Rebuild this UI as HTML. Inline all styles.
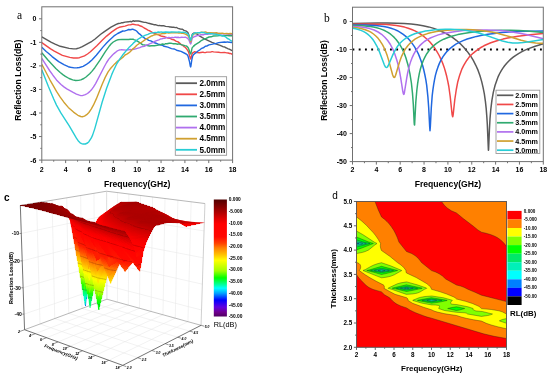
<!DOCTYPE html>
<html><head><meta charset="utf-8"><title>Reflection loss figure</title>
<style>html,body{margin:0;padding:0;background:#fff;}svg{display:block;filter:blur(0.3px);}</style></head>
<body><svg width="550" height="379" viewBox="0 0 550 379">
<rect width="550" height="379" fill="#fff"/>
<clipPath id="ca"><rect x="41.80" y="6.80" width="190.80" height="153.30"/></clipPath>
<g clip-path="url(#ca)" fill="none" stroke-linejoin="round">
<path d="M41.8 36.9l9.6 5.4 3.7 1.8 5.1 2.2 8.9 2.1 4.4 .5 2.9-.2 3-.8 2.9-1.3 5.9-3.2 3.7-2.1 2.9-2.1 5.9-4.9 3.7-2.7 6.6-4.4 5.2-2.8 2.2-.9 1.5-.1 1.5-.6 1.4-.1 2.2-.6 3.7-.3 1.5-.5 .7 .4 .8 0 1.4-.9 1.5 .4 .8-.2 2.9 0 1.5 .2 4.4 1.2 1.5 0 2.9 .9 3.7 .9 1.5 .5 2.2 .1 2.2 .8 1.5-.2 1.4 .4 3 0 1.5 .6 2.9 .2 1.5 .4 .7 0 1.5 .3 1.5-.2 1.4 .5 1.5-.1 1.5 .9 2.2 .6 2.2 .3 1.5 1.1 2.2 .7 1.7 1.4 1.2 3.2 1.2 4.7 .3 .6 .3-.3 1.2-5.9 .7-1.1 .7-.5 .8-.2 .1 .2 .6 .2 .8 .1 .7 .3 2.9 2.1 3 1.8 .7 .3 1.5 1.1 1.5 .5 5.9 2.8 1.4 .4 3 1.4 3.7 1.1 2.9 1.4 .8 .2 .7 0 1.5 .9 .7 .2 1.5 .9 1.5 .4 2.9 1.6" stroke="#5a5a5a" stroke-width="1.4"/>
<path d="M41.8 42.6l8.8 6.3 3.7 2.3 8.1 4.2 7.4 2 3.7 .6 3.7 0 2.2-.3 5.1-1.9 3-1.8 2.9-2.2 6.7-6.4 5.1-5.2 4.4-4.1 5.2-4.2 5.1-3.5 2.3-1.1 5.8-1.2 3.7-1.2 1.5 0 2.2-.6 .7 0 3 .6 2.2 .1 .7 .3 1.5 .7 1.5 .5 2.2 1.5 2.2 1.1 1.5 1 2.2 .9 2.2 1.3 2.2 1.1 3 .9 2.2 1.2 2.2 .8 2.9 .5 2.2 .9 3 .7 1.5 .8 2.2 .5 2.2 1.4 2.2 .8 2.9 2.5 1.5 .8 1.5 1.4 1.5 .9 1.8 2.4 1.2 2 1.8 6.5 .3 .5 .3-.2 1.2-5.1 .6-.5 .2-.6 .6 0 .1-.2 .5-.2 .3-.5 2.8 .9 2.2 .2 3-.4 .7 0 1.5 .3 .7 0 1.5-.5 3.7 0 1.5-.5 .7 0 .7 .3 5.2 .3 2.2 .4 3.7-.2 2.2 .5 1.5 .1 1.5 .5 .7 0 .7 .2 .8 .5 .7 0" stroke="#f04848" stroke-width="1.4"/>
<path d="M41.8 47.3l4.4 4.2 2.2 1.7 3.7 3.4 6.6 5 5.2 3.1 4.4 2 2.2 .6 3.7 .6 3-.1 2.2-.3 3.7-1.2 2.9-1.6 2.9-2.1 3-2.6 4.4-4.8 6.6-8.1 3.7-4.1 3-3.1 4.4-4 3.7-2.4 5.1-2.5 1.5 .1 3-.9 1.4-.7 1.5 .2 2.2-.5 .7 .1 3 1.4 .7 .5 2.2 2.5 1.5 1 2.2 2.1 2.2 1.6 1.5 .3 2.2 1.7 2.2 .5 3.7 1.9 1.5 .4 2.2 1 1.5 .3 1.4 .6 1.5 .3 1.5 .9 3.7 .8 3.7 1.5 2.9 .4 2.2 1.2 4.4 1.2 5.2 2.6 .7 .5 .8 1 .5 1.3 1.2 4.4 .9 5 .3 .7 .3-.7 .9-6.3 1-4.3 .1 .1 .9-1.4 .5-.2 .7-.8 1.5-1 1.5-1.3 1.4-.8 2.3-1.9 2.2-.8 1.4-1.2 1.5-.3 2.2-1.1 3.7-.8 .7-.3 2.3-.2 2.9-1 5.9-.6 1.5 .2 1.4-.3 1.5 .4 1.5 0 .7 .2 1.5-.3" stroke="#2068e0" stroke-width="1.4"/>
<path d="M41.8 52.7l5.9 7 8.1 8.8 4.4 4 3 2.4 2.2 1.5 3.7 2.1 3.6 1.4 3 .6 2.9-.1 2.2-.5 3-1.4 2.2-1.5 3.7-3.2 2.2-2.4 2.9-3.7 5.2-7.5 5.2-8.4 4.4-6.1 1.4-1.7 2.3-2 2.9-1.6 1.5-.6 4.4-.4 2.9 .1 1.5-.1 2.2 .1 1.5-.2 1.5 0 .7-.2 .7 .1 .8 .4 2.2 .8 3.7 2.2 2.9 2.3 1.5 0 .7 .3 1.5 .1 3 .7 2.2-.3 2.9 0 5.2-.8 2.9-.9 1.5 .5 1.5-.8 1.4 .1 2.2-.5 2.3 0 1.4 .4 3 0 1.4 .6 1.5-.4 3 1 1.4 .2 1.5 .6 1.5 .2 .7 .4 1.3 1.4 .9 2.3 .6 2 .6 1.5 .3 .4 .3-.5 1.2-5.5 1.5-1.8 .5-.5 .2 .1 .7-.9 4.4-2.7 2.3-1.8 2.9-1.5 1.5-.4 2.9-1.4 2.2-.2 2.2-.8 4.5-.1 1.4-.6 3 .5 1.5-.3 1.4 .1 1.5-.2 2.2 .3 2.2-.2 1.5 .3" stroke="#30aa70" stroke-width="1.4"/>
<path d="M41.8 58.4l8.1 12.6 3 4.2 3.6 4.7 4.5 4.6 2.9 2.4 2.9 2 5.9 3.3 3.7 1.9 3 1.1 1.4 .4 1.5 0 3-.9 2.2-1.2 2.2-1.9 2.2-2.4 1.5-2 2.2-3.6 8.8-17.1 2.2-4 2.2-3.4 3.7-4.1 1.5-1.4 2.9-2.4 2.3-1.2 1.4-.1 .8-.2 5.1 .4 3.7-.6 .7 .2 3-.3 5.9-1.8 1.5-.7 2.9-.6 2.9-1.5 1.5-.3 .8-.7 1.4-.4 .8-.5 1.4-.3 2.2-1.4 3.7-1.3 1.5-.9 1.5-.1 1.5-.5 1.4-.1 1.5-.7 1.5 0 .7-.2 .7 .1 .8 .3 .7 0 1.5-.3 1.5 .1 1.4-.5 .8 .1 .7 .3 1.5-.2 1.5 .3 2.2-.4 1.4 .2 2.3-.3 1.4 .9 .7 .1 .3 .7 .6 .3 1.8 4.4 .3 .4 .3-.3 .3-1 .9-4 .6-1 .5-.2 .4-.4 .2 .1 .5-.6 .7 0 2.2-.9 2.2-.3 1.5-.6 1.5-.1 1.5 .1 1.4-.5 2.3 .1 1.4-.3 5.2-.7 1.5 .3 3.6-.1 1.5 .4 1.5-.3 1.5 .2 1.4-.1 .8 .2 2.9 .3 1.5-.1 2.2 .2" stroke="#b070ee" stroke-width="1.4"/>
<path d="M41.8 64.2l8.1 15.6 6.6 11.6 3.7 5.8 3.7 5 4.4 5.2 5.2 4.7 4.4 3.2 2.9 1.2 1.5 .2 2.2-.6 2.2-1.4 2.2-2.2 2.3-3.3 2.2-4 2.9-6.3 5.9-14.7 3-6.8 2.9-5.5 2.2-3.1 4.4-4.9 3-2.8 1.5-1 4.4-3.5 1.4-1.6 2.3-1.1 1.4-1 1.5-1.2 2.2-2.5 1.5-1 2.9-2.9 2.2-1.6 2.3-1.2 3.6-2.6 6.7-4 .7-.1 1.5-.8 2.2-.5 1.5 .1 1.4-.5 1.5 0 2.2-.6 2.2 0 2.2-.9 1.5 .4 3-.2 1.4 .1 3-.3 2.9 .4 1.5-.1 1.5 .5 1.4 0 2.3 .7 2.1 1.3 .6 .6 1.2 2.2 1.2 3.7 .3-.5 .9-4.1 .6-1.7 .4-.6 .4-.1 .6-1 .5 0 .7-.4 2.2-.4 .8-.4 2.2 0 1.5-.5 2.2 .3 1.4-.5 .8 .1 1.5 .7 2.2-.2 4.4 .4 2.2-.2 2.2 .6 3.7-.2 2.2 .4 2.2-.2 1.5 .4 2.2-.4 2.2 .4" stroke="#d0a030" stroke-width="1.4"/>
<path d="M41.8 69.7l6.6 16.9 5.2 12.2 2.9 6.3 4.5 8.1 8.1 12.4 7.3 12.6 2.2 3.1 1.5 1.5 1.5 .8 1.5 .4 2.2 0 2.2-1 1.4-1.3 2.3-3.5 1.4-3.1 2.2-6.5 7.4-26.6 4.4-13.7 5.2-13.9 1.5-3.4 3.6-7.5 3-4.6 2.9-4.1 6.7-7.9 2.9-2.7 1.5-1.6 4.4-3.6 1.5-.8 1.5-1.2 1.4-.4 2.2-1.2 3-1 1.5-.8 1.4-.5 4.4-.6 1.5 .1 1.5-.6 1.5 .3 1.4-.4 .8 .3 2.2 .1 1.5-.3 4.4 .2 1.5-.3 5.8 .2 1.5-.2 3 .5 1.4-.2 2.3 .4 1.4 .7 1.6 1.3 1.8 5.4 .3 .5 1.5-4.9 .7-1.5 .8-.3 1.4-.9 .8-.1 .7 .1 1.5-.2 1.4 .1 1.5-.3 3 0 1.4 .6 2.3 .6 1.4-.6 1.5 .7 1.5-.1 2.2 .4 2.2 .2 1.5 .5 2.2 .3 2.9 .9 .8 0 2.2 1.2 1.4 1.3 1.5 .6 1.5 1.2 2.2 1.2" stroke="#28cdd5" stroke-width="1.4"/>
</g>
<rect x="41.8" y="6.8" width="190.8" height="153.3" fill="none" stroke="#707070" stroke-width="1"/>
<line x1="41.8" y1="160.1" x2="41.8" y2="163.1" stroke="#707070" stroke-width="1"/>
<text x="41.8" y="171.8" font-family="'Liberation Sans', Arial, sans-serif" font-size="7" font-weight="bold" text-anchor="middle" fill="#000">2</text>
<line x1="53.72" y1="160.1" x2="53.72" y2="161.7" stroke="#707070" stroke-width="1"/>
<line x1="65.65" y1="160.1" x2="65.65" y2="163.1" stroke="#707070" stroke-width="1"/>
<text x="65.65" y="171.8" font-family="'Liberation Sans', Arial, sans-serif" font-size="7" font-weight="bold" text-anchor="middle" fill="#000">4</text>
<line x1="77.58" y1="160.1" x2="77.58" y2="161.7" stroke="#707070" stroke-width="1"/>
<line x1="89.5" y1="160.1" x2="89.5" y2="163.1" stroke="#707070" stroke-width="1"/>
<text x="89.5" y="171.8" font-family="'Liberation Sans', Arial, sans-serif" font-size="7" font-weight="bold" text-anchor="middle" fill="#000">6</text>
<line x1="101.42" y1="160.1" x2="101.42" y2="161.7" stroke="#707070" stroke-width="1"/>
<line x1="113.35" y1="160.1" x2="113.35" y2="163.1" stroke="#707070" stroke-width="1"/>
<text x="113.35" y="171.8" font-family="'Liberation Sans', Arial, sans-serif" font-size="7" font-weight="bold" text-anchor="middle" fill="#000">8</text>
<line x1="125.28" y1="160.1" x2="125.28" y2="161.7" stroke="#707070" stroke-width="1"/>
<line x1="137.2" y1="160.1" x2="137.2" y2="163.1" stroke="#707070" stroke-width="1"/>
<text x="137.2" y="171.8" font-family="'Liberation Sans', Arial, sans-serif" font-size="7" font-weight="bold" text-anchor="middle" fill="#000">10</text>
<line x1="149.12" y1="160.1" x2="149.12" y2="161.7" stroke="#707070" stroke-width="1"/>
<line x1="161.05" y1="160.1" x2="161.05" y2="163.1" stroke="#707070" stroke-width="1"/>
<text x="161.05" y="171.8" font-family="'Liberation Sans', Arial, sans-serif" font-size="7" font-weight="bold" text-anchor="middle" fill="#000">12</text>
<line x1="172.98" y1="160.1" x2="172.98" y2="161.7" stroke="#707070" stroke-width="1"/>
<line x1="184.9" y1="160.1" x2="184.9" y2="163.1" stroke="#707070" stroke-width="1"/>
<text x="184.9" y="171.8" font-family="'Liberation Sans', Arial, sans-serif" font-size="7" font-weight="bold" text-anchor="middle" fill="#000">14</text>
<line x1="196.82" y1="160.1" x2="196.82" y2="161.7" stroke="#707070" stroke-width="1"/>
<line x1="208.75" y1="160.1" x2="208.75" y2="163.1" stroke="#707070" stroke-width="1"/>
<text x="208.75" y="171.8" font-family="'Liberation Sans', Arial, sans-serif" font-size="7" font-weight="bold" text-anchor="middle" fill="#000">16</text>
<line x1="220.68" y1="160.1" x2="220.68" y2="161.7" stroke="#707070" stroke-width="1"/>
<line x1="232.6" y1="160.1" x2="232.6" y2="163.1" stroke="#707070" stroke-width="1"/>
<text x="232.6" y="171.8" font-family="'Liberation Sans', Arial, sans-serif" font-size="7" font-weight="bold" text-anchor="middle" fill="#000">18</text>
<line x1="39" y1="18.8" x2="41.8" y2="18.8" stroke="#707070" stroke-width="1"/>
<text x="36.4" y="21.3" font-family="'Liberation Sans', Arial, sans-serif" font-size="7" font-weight="bold" text-anchor="end" fill="#000">0</text>
<line x1="40.3" y1="30.58" x2="41.8" y2="30.58" stroke="#707070" stroke-width="1"/>
<line x1="39" y1="42.35" x2="41.8" y2="42.35" stroke="#707070" stroke-width="1"/>
<text x="36.4" y="44.85" font-family="'Liberation Sans', Arial, sans-serif" font-size="7" font-weight="bold" text-anchor="end" fill="#000">-1</text>
<line x1="40.3" y1="54.12" x2="41.8" y2="54.12" stroke="#707070" stroke-width="1"/>
<line x1="39" y1="65.9" x2="41.8" y2="65.9" stroke="#707070" stroke-width="1"/>
<text x="36.4" y="68.4" font-family="'Liberation Sans', Arial, sans-serif" font-size="7" font-weight="bold" text-anchor="end" fill="#000">-2</text>
<line x1="40.3" y1="77.67" x2="41.8" y2="77.67" stroke="#707070" stroke-width="1"/>
<line x1="39" y1="89.45" x2="41.8" y2="89.45" stroke="#707070" stroke-width="1"/>
<text x="36.4" y="91.95" font-family="'Liberation Sans', Arial, sans-serif" font-size="7" font-weight="bold" text-anchor="end" fill="#000">-3</text>
<line x1="40.3" y1="101.22" x2="41.8" y2="101.22" stroke="#707070" stroke-width="1"/>
<line x1="39" y1="113" x2="41.8" y2="113" stroke="#707070" stroke-width="1"/>
<text x="36.4" y="115.5" font-family="'Liberation Sans', Arial, sans-serif" font-size="7" font-weight="bold" text-anchor="end" fill="#000">-4</text>
<line x1="40.3" y1="124.78" x2="41.8" y2="124.78" stroke="#707070" stroke-width="1"/>
<line x1="39" y1="136.55" x2="41.8" y2="136.55" stroke="#707070" stroke-width="1"/>
<text x="36.4" y="139.05" font-family="'Liberation Sans', Arial, sans-serif" font-size="7" font-weight="bold" text-anchor="end" fill="#000">-5</text>
<line x1="40.3" y1="148.33" x2="41.8" y2="148.33" stroke="#707070" stroke-width="1"/>
<line x1="39" y1="160.1" x2="41.8" y2="160.1" stroke="#707070" stroke-width="1"/>
<text x="36.4" y="162.6" font-family="'Liberation Sans', Arial, sans-serif" font-size="7" font-weight="bold" text-anchor="end" fill="#000">-6</text>
<text x="137.2" y="187.2" font-family="'Liberation Sans', Arial, sans-serif" font-size="8.6" font-weight="bold" text-anchor="middle" fill="#000">Frequency(GHz)</text>
<text x="21.4" y="80.2" font-family="'Liberation Sans', Arial, sans-serif" font-size="8.6" font-weight="bold" text-anchor="middle" fill="#000" transform="rotate(-90 21.4 80.2)">Reflection Loss(dB)</text>
<text x="17" y="18.7" font-family="'Liberation Serif', 'Times New Roman', serif" font-size="11.5" text-anchor="start" fill="#000">a</text>
<rect x="175.3" y="76.7" width="51.3" height="78.6" fill="#fff" stroke="#9a9a9a" stroke-width="0.9"/>
<line x1="175.9" y1="83.2" x2="197" y2="83.2" stroke="#5a5a5a" stroke-width="1.8"/>
<text x="199.4" y="85.95" font-family="'Liberation Sans', Arial, sans-serif" font-size="8.2" font-weight="bold" text-anchor="start" fill="#000">2.0mm</text>
<line x1="175.9" y1="94.3" x2="197" y2="94.3" stroke="#f04848" stroke-width="1.8"/>
<text x="199.4" y="97.05" font-family="'Liberation Sans', Arial, sans-serif" font-size="8.2" font-weight="bold" text-anchor="start" fill="#000">2.5mm</text>
<line x1="175.9" y1="105.4" x2="197" y2="105.4" stroke="#2068e0" stroke-width="1.8"/>
<text x="199.4" y="108.15" font-family="'Liberation Sans', Arial, sans-serif" font-size="8.2" font-weight="bold" text-anchor="start" fill="#000">3.0mm</text>
<line x1="175.9" y1="116.5" x2="197" y2="116.5" stroke="#30aa70" stroke-width="1.8"/>
<text x="199.4" y="119.25" font-family="'Liberation Sans', Arial, sans-serif" font-size="8.2" font-weight="bold" text-anchor="start" fill="#000">3.5mm</text>
<line x1="175.9" y1="127.6" x2="197" y2="127.6" stroke="#b070ee" stroke-width="1.8"/>
<text x="199.4" y="130.35" font-family="'Liberation Sans', Arial, sans-serif" font-size="8.2" font-weight="bold" text-anchor="start" fill="#000">4.0mm</text>
<line x1="175.9" y1="138.7" x2="197" y2="138.7" stroke="#d0a030" stroke-width="1.8"/>
<text x="199.4" y="141.45" font-family="'Liberation Sans', Arial, sans-serif" font-size="8.2" font-weight="bold" text-anchor="start" fill="#000">4.5mm</text>
<line x1="175.9" y1="149.8" x2="197" y2="149.8" stroke="#28cdd5" stroke-width="1.8"/>
<text x="199.4" y="152.55" font-family="'Liberation Sans', Arial, sans-serif" font-size="8.2" font-weight="bold" text-anchor="start" fill="#000">5.0mm</text>
<clipPath id="cb"><rect x="352.50" y="7.20" width="190.80" height="154.40"/></clipPath>
<line x1="352.45" y1="49.52" x2="543.3" y2="49.52" stroke="#000" stroke-width="1.8" stroke-dasharray="1.9 4.35"/>
<g clip-path="url(#cb)" fill="none" stroke-linejoin="round">
<path d="M352.5 23.6l25.1-.5 10.1 0 8.7 .1 7.8 .4 6.9 .5 6.2 .7 5.7 .9 5.6 1.2 5.2 1.5 4.9 1.8 4.7 2 4.4 2.3 4.3 2.7 4.2 3.1 3.8 3.3 3.6 3.7 3.5 4.1 3.2 4.3 2.9 4.7 2.5 4.9 2.3 5.1 1.9 5.3 1.7 5.9 1.4 6.1 1.2 5.9 1.1 7.7 .8 7.3 .6 7.8 .5 7.8 1.1 26.1 .2-.8 .8-19.6 .6-11.1 .8-9.4 1.1-9 1.4-8 1.8-7.1 2.1-6.1 1.2-3.1 1.3-2.6 1.6-2.9 1.6-2.5 1.7-2.4 1.9-2.3 2.1-2.2 2.2-2.1 2.4-1.9 2.6-1.9 2.7-1.7 3-1.7 3-1.5 3.4-1.5 7.3-2.7 8.1-2.4" stroke="#5a5a5a" stroke-width="1.5"/>
<path d="M352.5 24.2l16.1-.3 12.9 .3 5.4 .3 4.9 .4 4.6 .6 4.2 .7 3.9 .9 3.7 1.1 3.5 1.3 3.3 1.4 3.2 1.7 3 1.9 2.9 2.2 2.7 2.3 2.9 2.8 2.5 3 2.4 3.1 2.2 3.4 2.1 3.7 1.9 3.9 1.8 4.1 1.6 4.4 1.2 4.1 1.3 4.8 1.1 5 1 5.2 1.4 10 1.9 18 .5 2.2 .2 0 .1-.5 .3-1.9 1.6-14.8 1.5-10 1.5-7.8 1.8-6.3 1.3-3.7 1.2-3.1 1.5-2.9 1.6-2.9 1.7-2.6 1.9-2.6 2.1-2.3 2.1-2 2.4-2 2.7-2 2.8-1.8 3-1.7 3.4-1.6 3.5-1.4 3.8-1.3 4-1.2 4.4-1.2 4.7-1 10.3-1.8 11.9-1.5 13.4-1.2" stroke="#f04848" stroke-width="1.5"/>
<path d="M352.5 24.9l12.7 0 10.2 .5 4.5 .5 3.9 .6 3.7 .7 3.5 1 3.4 1.2 3 1.3 2.8 1.6 2.7 1.8 2.6 2 2.4 2.2 2.2 2.4 2.2 2.9 2.1 3 1.9 3.3 1.8 3.4 1.7 4.1 1.4 3.8 1.5 4.6 1.1 4.2 1.1 5 1 5.1 .8 5.3 1.2 11.5 .8 10.8 1 19.4 .3 3.7 .3-3.7 1-19.4 .9-12.1 .7-5.7 .8-5.6 .8-4.5 .9-4.4 1.3-4.7 1.3-3.8 1.4-3.5 1.7-3.6 1.9-3.2 2.1-2.9 2.2-2.6 2.6-2.5 2.9-2.3 3.1-2.1 3.4-1.8 3.8-1.8 4.1-1.6 4.5-1.3 4.9-1.3 5.3-1.1 6-1 6.5-.9 7.2-.8 7.6-.6 8.2-.5 8.6-.3 17.3-.2" stroke="#2068e0" stroke-width="1.5"/>
<path d="M352.5 25.6l9.5 .2 8 .8 3.5 .5 3.2 .7 3 .8 2.7 1 2.7 1.2 2.4 1.3 2.4 1.6 2.2 1.8 2.1 1.9 1.9 2.1 1.9 2.5 1.8 2.6 1.6 2.7 1.5 3.1 1.5 3.3 1.4 3.8 2.2 7.5 1.9 8.7 1.5 9.3 1.1 10.4 .8 10.9 .9 18.6 .2 1.9 .2 .2 1.2-22.9 1-11.6 .8-6.7 .8-5.2 .9-5 1.1-4.6 1.3-4.2 1.6-4.3 1.6-3.4 1.9-3.4 2.1-3 2.2-2.6 2.6-2.5 2.8-2.2 3.4-2.2 3.8-2 4.3-1.7 4.6-1.5 5.2-1.4 5.8-1.1 6.3-1 6.9-.8 7.9-.7 8.5-.4 8.6-.3 8.7 0 8.5 .3 8.2 .4 8.1 .7 8 .9" stroke="#30aa70" stroke-width="1.5"/>
<path d="M352.5 26.5l6.5 .3 5.8 .7 4.9 1.1 4.4 1.4 4 2 3.5 2.3 3.2 2.9 2.9 3.3 2.7 4 2.4 4.6 2 4.9 1.9 5.7 1.5 5.3 1.2 5.7 1.3 7.1 2.1 13.5 .5 2.2 .3 .7 .1 .2 .4-.4 .4-2 2.3-14.3 .9-5 1-4.3 1.1-4 1.1-3.5 1.4-3.6 1.5-3.1 1.7-3 1.9-2.8 2.1-2.5 2.4-2.3 2.5-2.1 2.9-1.8 3-1.7 3.4-1.4 4.6-1.7 5.2-1.4 5.9-1.1 6.5-1 7.4-.8 7.6-.5 8-.2 7.9 0 7 .3 6.7 .4 6.5 .7 6.5 .9 6.1 1.1 6.4 1.3 17.3 4.2" stroke="#b070ee" stroke-width="1.5"/>
<path d="M352.5 27.4l4.5 .4 3.9 .7 3.7 1 3.2 1.2 3 1.5 2.7 1.8 2.6 2.2 2.2 2.4 2 2.7 2 3.1 1.7 3.3 1.6 3.6 1.6 4.3 1.4 4.5 4 14.6 .8 2 .5 .7 .3 .1 .3-.1 .3-.3 .8-1.8 3.7-12.6 1.3-3.7 1.2-3.2 1.5-3 1.4-2.6 1.6-2.5 1.7-2.2 2.1-2.3 2.4-2.1 2.5-1.9 2.7-1.6 3.1-1.5 3.3-1.3 3.5-1.2 4-1 4.9-1 5.4-.8 5.9-.6 6.2-.4 6.4-.2 6.2 0 6.2 .2 5.9 .4 4.8 .6 4.6 .6 4.6 .9 4.6 1 8.1 2.1 15.8 4.8 7 1.7 3.8 .7 3.7 .4 3.6 .2 4 0" stroke="#d0a030" stroke-width="1.5"/>
<path d="M352.5 28.3l3 .5 2.9 .7 2.5 .9 2.4 1 2.2 1.3 2.1 1.4 1.9 1.7 1.9 1.9 1.5 1.8 1.4 2.1 2.7 4.7 2.7 6.1 4.6 12.4 1.1 2 .5 .4 .5 .2 .5 0 .5-.4 .9-1.5 4.6-10.9 1.5-3 1.4-2.5 1.4-2.3 1.4-1.9 1.6-1.9 1.8-1.7 2.1-1.8 2.3-1.7 2.6-1.5 2.7-1.3 3-1.2 3.2-1 3.7-.9 3.8-.8 4.6-.7 4.9-.6 5.1-.3 5.3-.2 5.1-.1 5.1 .2 4.9 .4 4.8 .5 6.3 1.1 6.4 1.4 7.2 2.2 12.5 4.4 4.8 1.6 5.3 1.2 5 .7 5.1 .1 5.6-.5 5.7-.8 14.2-2.3" stroke="#28cdd5" stroke-width="1.5"/>
</g>
<rect x="352.5" y="7.2" width="190.8" height="154.4" fill="none" stroke="#707070" stroke-width="1"/>
<line x1="352.5" y1="161.6" x2="352.5" y2="164.6" stroke="#707070" stroke-width="1"/>
<text x="352.5" y="171.9" font-family="'Liberation Sans', Arial, sans-serif" font-size="7" font-weight="bold" text-anchor="middle" fill="#000">2</text>
<line x1="364.43" y1="161.6" x2="364.43" y2="163.2" stroke="#707070" stroke-width="1"/>
<line x1="376.35" y1="161.6" x2="376.35" y2="164.6" stroke="#707070" stroke-width="1"/>
<text x="376.35" y="171.9" font-family="'Liberation Sans', Arial, sans-serif" font-size="7" font-weight="bold" text-anchor="middle" fill="#000">4</text>
<line x1="388.27" y1="161.6" x2="388.27" y2="163.2" stroke="#707070" stroke-width="1"/>
<line x1="400.2" y1="161.6" x2="400.2" y2="164.6" stroke="#707070" stroke-width="1"/>
<text x="400.2" y="171.9" font-family="'Liberation Sans', Arial, sans-serif" font-size="7" font-weight="bold" text-anchor="middle" fill="#000">6</text>
<line x1="412.12" y1="161.6" x2="412.12" y2="163.2" stroke="#707070" stroke-width="1"/>
<line x1="424.05" y1="161.6" x2="424.05" y2="164.6" stroke="#707070" stroke-width="1"/>
<text x="424.05" y="171.9" font-family="'Liberation Sans', Arial, sans-serif" font-size="7" font-weight="bold" text-anchor="middle" fill="#000">8</text>
<line x1="435.98" y1="161.6" x2="435.98" y2="163.2" stroke="#707070" stroke-width="1"/>
<line x1="447.9" y1="161.6" x2="447.9" y2="164.6" stroke="#707070" stroke-width="1"/>
<text x="447.9" y="171.9" font-family="'Liberation Sans', Arial, sans-serif" font-size="7" font-weight="bold" text-anchor="middle" fill="#000">10</text>
<line x1="459.82" y1="161.6" x2="459.82" y2="163.2" stroke="#707070" stroke-width="1"/>
<line x1="471.75" y1="161.6" x2="471.75" y2="164.6" stroke="#707070" stroke-width="1"/>
<text x="471.75" y="171.9" font-family="'Liberation Sans', Arial, sans-serif" font-size="7" font-weight="bold" text-anchor="middle" fill="#000">12</text>
<line x1="483.68" y1="161.6" x2="483.68" y2="163.2" stroke="#707070" stroke-width="1"/>
<line x1="495.6" y1="161.6" x2="495.6" y2="164.6" stroke="#707070" stroke-width="1"/>
<text x="495.6" y="171.9" font-family="'Liberation Sans', Arial, sans-serif" font-size="7" font-weight="bold" text-anchor="middle" fill="#000">14</text>
<line x1="507.52" y1="161.6" x2="507.52" y2="163.2" stroke="#707070" stroke-width="1"/>
<line x1="519.45" y1="161.6" x2="519.45" y2="164.6" stroke="#707070" stroke-width="1"/>
<text x="519.45" y="171.9" font-family="'Liberation Sans', Arial, sans-serif" font-size="7" font-weight="bold" text-anchor="middle" fill="#000">16</text>
<line x1="531.38" y1="161.6" x2="531.38" y2="163.2" stroke="#707070" stroke-width="1"/>
<line x1="543.3" y1="161.6" x2="543.3" y2="164.6" stroke="#707070" stroke-width="1"/>
<text x="543.3" y="171.9" font-family="'Liberation Sans', Arial, sans-serif" font-size="7" font-weight="bold" text-anchor="middle" fill="#000">18</text>
<line x1="349.7" y1="21.5" x2="352.5" y2="21.5" stroke="#707070" stroke-width="1"/>
<text x="346.8" y="24" font-family="'Liberation Sans', Arial, sans-serif" font-size="7" font-weight="bold" text-anchor="end" fill="#000">0</text>
<line x1="351" y1="35.51" x2="352.5" y2="35.51" stroke="#707070" stroke-width="1"/>
<line x1="349.7" y1="49.52" x2="352.5" y2="49.52" stroke="#707070" stroke-width="1"/>
<text x="346.8" y="52.02" font-family="'Liberation Sans', Arial, sans-serif" font-size="7" font-weight="bold" text-anchor="end" fill="#000">-10</text>
<line x1="351" y1="63.53" x2="352.5" y2="63.53" stroke="#707070" stroke-width="1"/>
<line x1="349.7" y1="77.54" x2="352.5" y2="77.54" stroke="#707070" stroke-width="1"/>
<text x="346.8" y="80.04" font-family="'Liberation Sans', Arial, sans-serif" font-size="7" font-weight="bold" text-anchor="end" fill="#000">-20</text>
<line x1="351" y1="91.55" x2="352.5" y2="91.55" stroke="#707070" stroke-width="1"/>
<line x1="349.7" y1="105.56" x2="352.5" y2="105.56" stroke="#707070" stroke-width="1"/>
<text x="346.8" y="108.06" font-family="'Liberation Sans', Arial, sans-serif" font-size="7" font-weight="bold" text-anchor="end" fill="#000">-30</text>
<line x1="351" y1="119.57" x2="352.5" y2="119.57" stroke="#707070" stroke-width="1"/>
<line x1="349.7" y1="133.58" x2="352.5" y2="133.58" stroke="#707070" stroke-width="1"/>
<text x="346.8" y="136.08" font-family="'Liberation Sans', Arial, sans-serif" font-size="7" font-weight="bold" text-anchor="end" fill="#000">-40</text>
<line x1="351" y1="147.59" x2="352.5" y2="147.59" stroke="#707070" stroke-width="1"/>
<line x1="349.7" y1="161.6" x2="352.5" y2="161.6" stroke="#707070" stroke-width="1"/>
<text x="346.8" y="164.1" font-family="'Liberation Sans', Arial, sans-serif" font-size="7" font-weight="bold" text-anchor="end" fill="#000">-50</text>
<text x="447.9" y="187.2" font-family="'Liberation Sans', Arial, sans-serif" font-size="8.6" font-weight="bold" text-anchor="middle" fill="#000">Frequency(GHz)</text>
<text x="326.7" y="80.5" font-family="'Liberation Sans', Arial, sans-serif" font-size="8.55" font-weight="bold" text-anchor="middle" fill="#000" transform="rotate(-90 326.7 80.5)">Reflection Loss(dB)</text>
<text x="323.9" y="21.6" font-family="'Liberation Serif', 'Times New Roman', serif" font-size="11.5" text-anchor="start" fill="#000">b</text>
<rect x="496.0" y="90.2" width="43.8" height="63.3" fill="#fff" stroke="#9a9a9a" stroke-width="0.9"/>
<line x1="497" y1="95.3" x2="513.4" y2="95.3" stroke="#5a5a5a" stroke-width="1.7"/>
<text x="515.2" y="97.85" font-family="'Liberation Sans', Arial, sans-serif" font-size="7.2" font-weight="bold" text-anchor="start" fill="#000">2.0mm</text>
<line x1="497" y1="104.45" x2="513.4" y2="104.45" stroke="#f04848" stroke-width="1.7"/>
<text x="515.2" y="107" font-family="'Liberation Sans', Arial, sans-serif" font-size="7.2" font-weight="bold" text-anchor="start" fill="#000">2.5mm</text>
<line x1="497" y1="113.6" x2="513.4" y2="113.6" stroke="#2068e0" stroke-width="1.7"/>
<text x="515.2" y="116.15" font-family="'Liberation Sans', Arial, sans-serif" font-size="7.2" font-weight="bold" text-anchor="start" fill="#000">3.0mm</text>
<line x1="497" y1="122.75" x2="513.4" y2="122.75" stroke="#30aa70" stroke-width="1.7"/>
<text x="515.2" y="125.3" font-family="'Liberation Sans', Arial, sans-serif" font-size="7.2" font-weight="bold" text-anchor="start" fill="#000">3.5mm</text>
<line x1="497" y1="131.9" x2="513.4" y2="131.9" stroke="#b070ee" stroke-width="1.7"/>
<text x="515.2" y="134.45" font-family="'Liberation Sans', Arial, sans-serif" font-size="7.2" font-weight="bold" text-anchor="start" fill="#000">4.0mm</text>
<line x1="497" y1="141.05" x2="513.4" y2="141.05" stroke="#d0a030" stroke-width="1.7"/>
<text x="515.2" y="143.6" font-family="'Liberation Sans', Arial, sans-serif" font-size="7.2" font-weight="bold" text-anchor="start" fill="#000">4.5mm</text>
<line x1="497" y1="150.2" x2="513.4" y2="150.2" stroke="#28cdd5" stroke-width="1.7"/>
<text x="515.2" y="152.75" font-family="'Liberation Sans', Arial, sans-serif" font-size="7.2" font-weight="bold" text-anchor="start" fill="#000">5.0mm</text>
<line x1="40.02" y1="323.99" x2="36.63" y2="202.79" stroke="#e4e4e4" stroke-width="0.5"/>
<line x1="54.74" y1="318.55" x2="52.07" y2="200.24" stroke="#e4e4e4" stroke-width="0.5"/>
<line x1="68.73" y1="313.36" x2="66.74" y2="197.81" stroke="#e4e4e4" stroke-width="0.5"/>
<line x1="82.07" y1="308.42" x2="80.68" y2="195.51" stroke="#e4e4e4" stroke-width="0.5"/>
<line x1="94.79" y1="303.71" x2="93.96" y2="193.31" stroke="#e4e4e4" stroke-width="0.5"/>
<line x1="21.29" y1="233.46" x2="106.68" y2="215.42" stroke="#e4e4e4" stroke-width="0.5"/>
<line x1="22.22" y1="260.89" x2="106.76" y2="239.21" stroke="#e4e4e4" stroke-width="0.5"/>
<line x1="23.13" y1="287.78" x2="106.83" y2="262.6" stroke="#e4e4e4" stroke-width="0.5"/>
<line x1="24.02" y1="314.15" x2="106.9" y2="285.59" stroke="#e4e4e4" stroke-width="0.5"/>
<line x1="117.48" y1="302.13" x2="117.57" y2="192.59" stroke="#e4e4e4" stroke-width="0.5"/>
<line x1="128.34" y1="305.14" x2="128.87" y2="194.01" stroke="#e4e4e4" stroke-width="0.5"/>
<line x1="139.53" y1="308.25" x2="140.53" y2="195.46" stroke="#e4e4e4" stroke-width="0.5"/>
<line x1="151.07" y1="311.45" x2="152.58" y2="196.97" stroke="#e4e4e4" stroke-width="0.5"/>
<line x1="162.97" y1="314.75" x2="165.02" y2="198.53" stroke="#e4e4e4" stroke-width="0.5"/>
<line x1="175.26" y1="318.16" x2="177.88" y2="200.13" stroke="#e4e4e4" stroke-width="0.5"/>
<line x1="187.94" y1="321.68" x2="191.17" y2="201.8" stroke="#e4e4e4" stroke-width="0.5"/>
<line x1="106.68" y1="215.42" x2="204.06" y2="230.92" stroke="#e4e4e4" stroke-width="0.5"/>
<line x1="106.76" y1="239.21" x2="203.2" y2="257.8" stroke="#e4e4e4" stroke-width="0.5"/>
<line x1="106.83" y1="262.6" x2="202.36" y2="284.17" stroke="#e4e4e4" stroke-width="0.5"/>
<line x1="106.9" y1="285.59" x2="201.54" y2="310.03" stroke="#e4e4e4" stroke-width="0.5"/>
<line x1="35.34" y1="333.64" x2="117.48" y2="302.13" stroke="#e4e4e4" stroke-width="0.5"/>
<line x1="46.52" y1="337.7" x2="128.34" y2="305.14" stroke="#e4e4e4" stroke-width="0.5"/>
<line x1="58.09" y1="341.89" x2="139.53" y2="308.25" stroke="#e4e4e4" stroke-width="0.5"/>
<line x1="70.08" y1="346.24" x2="151.07" y2="311.45" stroke="#e4e4e4" stroke-width="0.5"/>
<line x1="82.52" y1="350.75" x2="162.97" y2="314.75" stroke="#e4e4e4" stroke-width="0.5"/>
<line x1="95.43" y1="355.44" x2="175.26" y2="318.16" stroke="#e4e4e4" stroke-width="0.5"/>
<line x1="108.83" y1="360.3" x2="187.94" y2="321.68" stroke="#e4e4e4" stroke-width="0.5"/>
<line x1="40.02" y1="323.99" x2="137.72" y2="357.7" stroke="#e4e4e4" stroke-width="0.5"/>
<line x1="54.74" y1="318.55" x2="151.83" y2="350.49" stroke="#e4e4e4" stroke-width="0.5"/>
<line x1="68.73" y1="313.36" x2="165.15" y2="343.67" stroke="#e4e4e4" stroke-width="0.5"/>
<line x1="82.07" y1="308.42" x2="177.76" y2="337.22" stroke="#e4e4e4" stroke-width="0.5"/>
<line x1="94.79" y1="303.71" x2="189.71" y2="331.11" stroke="#e4e4e4" stroke-width="0.5"/>
<line x1="20.34" y1="205.48" x2="106.61" y2="191.22" stroke="#9a9a9a" stroke-width="0.7"/>
<line x1="106.61" y1="191.22" x2="204.93" y2="203.52" stroke="#9a9a9a" stroke-width="0.7"/>
<line x1="106.94" y1="299.21" x2="106.61" y2="191.22" stroke="#c8c8c8" stroke-width="0.6"/>
<line x1="201.05" y1="325.32" x2="204.93" y2="203.52" stroke="#b0b0b0" stroke-width="0.6"/>
<line x1="24.55" y1="329.73" x2="106.94" y2="299.21" stroke="#9a9a9a" stroke-width="0.7"/>
<line x1="106.94" y1="299.21" x2="201.05" y2="325.32" stroke="#9a9a9a" stroke-width="0.7"/>
<defs><linearGradient id="q1" gradientUnits="userSpaceOnUse" x1="106.1" y1="213.3" x2="120.7" y2="202.4"><stop offset="0" stop-color="#ff0000"/><stop offset="0.144" stop-color="#f70000"/><stop offset="0.647" stop-color="#cf0000"/><stop offset="1" stop-color="#b00000"/></linearGradient><linearGradient id="q2" gradientUnits="userSpaceOnUse" x1="104.8" y1="213.9" x2="119.4" y2="203.1"><stop offset="0" stop-color="#ff0000"/><stop offset="0.174" stop-color="#f70000"/><stop offset="0.682" stop-color="#cf0000"/><stop offset="1" stop-color="#b40000"/></linearGradient><linearGradient id="q3" gradientUnits="userSpaceOnUse" x1="103.6" y1="214.6" x2="118.2" y2="203.9"><stop offset="0" stop-color="#ff0100"/><stop offset="0.206" stop-color="#f70000"/><stop offset="0.72" stop-color="#cf0000"/><stop offset="1" stop-color="#b70000"/></linearGradient><linearGradient id="q4" gradientUnits="userSpaceOnUse" x1="102.4" y1="215.2" x2="117.0" y2="204.7"><stop offset="0" stop-color="#ff0100"/><stop offset="0.238" stop-color="#f70000"/><stop offset="0.758" stop-color="#cf0000"/><stop offset="1" stop-color="#bb0000"/></linearGradient><linearGradient id="q5" gradientUnits="userSpaceOnUse" x1="101.1" y1="215.9" x2="115.7" y2="205.5"><stop offset="0" stop-color="#ff0100"/><stop offset="0.273" stop-color="#f70000"/><stop offset="0.799" stop-color="#cf0000"/><stop offset="1" stop-color="#be0000"/></linearGradient><linearGradient id="q6" gradientUnits="userSpaceOnUse" x1="99.9" y1="216.5" x2="114.5" y2="206.3"><stop offset="0" stop-color="#ff0100"/><stop offset="0.309" stop-color="#f70000"/><stop offset="0.842" stop-color="#cf0000"/><stop offset="1" stop-color="#c20000"/></linearGradient><linearGradient id="q7" gradientUnits="userSpaceOnUse" x1="98.6" y1="217.6" x2="113.2" y2="207.2"><stop offset="0" stop-color="#ff0200"/><stop offset="0.368" stop-color="#f70000"/><stop offset="0.893" stop-color="#cf0000"/><stop offset="1" stop-color="#c60000"/></linearGradient><linearGradient id="q8" gradientUnits="userSpaceOnUse" x1="97.3" y1="219.4" x2="111.9" y2="208.1"><stop offset="0" stop-color="#ff0300"/><stop offset="0.074" stop-color="#ff0200"/><stop offset="0.457" stop-color="#f70000"/><stop offset="0.95" stop-color="#cf0000"/><stop offset="1" stop-color="#cb0000"/></linearGradient><linearGradient id="q9" gradientUnits="userSpaceOnUse" x1="96.1" y1="221.5" x2="110.7" y2="209.1"><stop offset="0" stop-color="#ff0400"/><stop offset="0.195" stop-color="#ff0200"/><stop offset="0.548" stop-color="#f70000"/><stop offset="1" stop-color="#cf0000"/></linearGradient><linearGradient id="q10" gradientUnits="userSpaceOnUse" x1="94.8" y1="223.8" x2="109.4" y2="210.1"><stop offset="0" stop-color="#ff0500"/><stop offset="0.306" stop-color="#ff0200"/><stop offset="0.631" stop-color="#f70000"/><stop offset="1" stop-color="#d40000"/></linearGradient><linearGradient id="q11" gradientUnits="userSpaceOnUse" x1="93.6" y1="226.3" x2="108.1" y2="211.2"><stop offset="0" stop-color="#ff0600"/><stop offset="0.409" stop-color="#ff0200"/><stop offset="0.707" stop-color="#f70000"/><stop offset="1" stop-color="#d90000"/></linearGradient><linearGradient id="q12" gradientUnits="userSpaceOnUse" x1="92.3" y1="229.0" x2="106.8" y2="212.2"><stop offset="0" stop-color="#ff0700"/><stop offset="0.503" stop-color="#ff0200"/><stop offset="0.774" stop-color="#f70000"/><stop offset="1" stop-color="#df0000"/></linearGradient><linearGradient id="q13" gradientUnits="userSpaceOnUse" x1="91.0" y1="232.6" x2="105.6" y2="213.4"><stop offset="0" stop-color="#ff1600"/><stop offset="0.598" stop-color="#ff0200"/><stop offset="0.838" stop-color="#f70000"/><stop offset="1" stop-color="#e30000"/></linearGradient><linearGradient id="q14" gradientUnits="userSpaceOnUse" x1="89.8" y1="237.4" x2="104.3" y2="214.5"><stop offset="0" stop-color="#ff3700"/><stop offset="0.152" stop-color="#ff1b00"/><stop offset="0.69" stop-color="#ff0200"/><stop offset="0.896" stop-color="#f70000"/><stop offset="1" stop-color="#e80000"/></linearGradient><linearGradient id="q15" gradientUnits="userSpaceOnUse" x1="88.5" y1="243.6" x2="103.0" y2="215.7"><stop offset="0" stop-color="#ff7900"/><stop offset="0.096" stop-color="#ff5600"/><stop offset="0.324" stop-color="#ff1a00"/><stop offset="0.772" stop-color="#ff0200"/><stop offset="0.943" stop-color="#f70000"/><stop offset="1" stop-color="#ed0000"/></linearGradient><linearGradient id="q16" gradientUnits="userSpaceOnUse" x1="87.3" y1="252.8" x2="101.7" y2="216.9"><stop offset="0" stop-color="#ffc800"/><stop offset="0.001" stop-color="#ffc800"/><stop offset="0.181" stop-color="#ff8d00"/><stop offset="0.31" stop-color="#ff5700"/><stop offset="0.49" stop-color="#ff1b00"/><stop offset="0.844" stop-color="#ff0200"/><stop offset="0.979" stop-color="#f70000"/><stop offset="1" stop-color="#f20000"/></linearGradient><linearGradient id="q17" gradientUnits="userSpaceOnUse" x1="86.4" y1="263.1" x2="100.7" y2="217.9"><stop offset="0" stop-color="#dcff00"/><stop offset="0.086" stop-color="#fcff00"/><stop offset="0.215" stop-color="#ffc800"/><stop offset="0.36" stop-color="#ff8c00"/><stop offset="0.463" stop-color="#ff5600"/><stop offset="0.607" stop-color="#ff1b00"/><stop offset="0.891" stop-color="#ff0200"/><stop offset="0.999" stop-color="#f70000"/><stop offset="1" stop-color="#f60000"/></linearGradient><linearGradient id="q18" gradientUnits="userSpaceOnUse" x1="85.9" y1="273.6" x2="100.1" y2="218.5"><stop offset="0" stop-color="#65ff00"/><stop offset="0.062" stop-color="#a5ff00"/><stop offset="0.253" stop-color="#fcff00"/><stop offset="0.36" stop-color="#ffc800"/><stop offset="0.479" stop-color="#ff8c00"/><stop offset="0.564" stop-color="#ff5700"/><stop offset="0.683" stop-color="#ff1b00"/><stop offset="0.918" stop-color="#ff0200"/><stop offset="1" stop-color="#f90000"/></linearGradient><linearGradient id="q19" gradientUnits="userSpaceOnUse" x1="85.7" y1="280.8" x2="99.7" y2="218.8"><stop offset="0" stop-color="#00ff2f"/><stop offset="0.055" stop-color="#1aff00"/><stop offset="0.169" stop-color="#a5ff00"/><stop offset="0.339" stop-color="#fcff00"/><stop offset="0.434" stop-color="#ffc800"/><stop offset="0.54" stop-color="#ff8c00"/><stop offset="0.616" stop-color="#ff5600"/><stop offset="0.722" stop-color="#ff1b00"/><stop offset="0.93" stop-color="#ff0200"/><stop offset="1" stop-color="#fa0000"/></linearGradient><linearGradient id="q20" gradientUnits="userSpaceOnUse" x1="85.6" y1="286.8" x2="99.6" y2="219.0"><stop offset="0" stop-color="#00ffaf"/><stop offset="0.036" stop-color="#00ff78"/><stop offset="0.136" stop-color="#19ff00"/><stop offset="0.24" stop-color="#a5ff00"/><stop offset="0.397" stop-color="#fdff00"/><stop offset="0.483" stop-color="#ffc800"/><stop offset="0.581" stop-color="#ff8c00"/><stop offset="0.65" stop-color="#ff5600"/><stop offset="0.747" stop-color="#ff1b00"/><stop offset="0.938" stop-color="#ff0200"/><stop offset="1" stop-color="#fb0000"/></linearGradient><linearGradient id="q21" gradientUnits="userSpaceOnUse" x1="85.5" y1="298.5" x2="99.4" y2="219.2"><stop offset="0" stop-color="#0065ff"/><stop offset="0.067" stop-color="#00cbff"/><stop offset="0.133" stop-color="#00ffca"/><stop offset="0.177" stop-color="#00ff79"/><stop offset="0.263" stop-color="#19ff00"/><stop offset="0.352" stop-color="#a5ff00"/><stop offset="0.486" stop-color="#fdff00"/><stop offset="0.56" stop-color="#ffc800"/><stop offset="0.643" stop-color="#ff8d00"/><stop offset="0.703" stop-color="#ff5600"/><stop offset="0.786" stop-color="#ff1a00"/><stop offset="0.949" stop-color="#ff0200"/><stop offset="1" stop-color="#fc0000"/></linearGradient><linearGradient id="q22" gradientUnits="userSpaceOnUse" x1="85.3" y1="298.3" x2="99.2" y2="219.4"><stop offset="0" stop-color="#006bff"/><stop offset="0.064" stop-color="#00ccff"/><stop offset="0.129" stop-color="#00ffcb"/><stop offset="0.174" stop-color="#00ff79"/><stop offset="0.261" stop-color="#1aff00"/><stop offset="0.35" stop-color="#a5ff00"/><stop offset="0.485" stop-color="#fdff00"/><stop offset="0.559" stop-color="#ffc800"/><stop offset="0.643" stop-color="#ff8c00"/><stop offset="0.703" stop-color="#ff5600"/><stop offset="0.786" stop-color="#ff1b00"/><stop offset="0.951" stop-color="#ff0200"/><stop offset="1" stop-color="#fd0000"/></linearGradient><linearGradient id="q23" gradientUnits="userSpaceOnUse" x1="84.9" y1="284.8" x2="98.9" y2="219.7"><stop offset="0" stop-color="#00ff7e"/><stop offset="0.004" stop-color="#00ff79"/><stop offset="0.109" stop-color="#1aff00"/><stop offset="0.217" stop-color="#a5ff00"/><stop offset="0.38" stop-color="#fdff00"/><stop offset="0.47" stop-color="#ffc800"/><stop offset="0.571" stop-color="#ff8d00"/><stop offset="0.644" stop-color="#ff5600"/><stop offset="0.745" stop-color="#ff1a00"/><stop offset="0.943" stop-color="#ff0200"/><stop offset="1" stop-color="#fe0000"/></linearGradient><linearGradient id="q24" gradientUnits="userSpaceOnUse" x1="84.5" y1="274.7" x2="98.6" y2="220.1"><stop offset="0" stop-color="#58ff00"/><stop offset="0.074" stop-color="#a5ff00"/><stop offset="0.268" stop-color="#fdff00"/><stop offset="0.375" stop-color="#ffc800"/><stop offset="0.495" stop-color="#ff8d00"/><stop offset="0.581" stop-color="#ff5700"/><stop offset="0.701" stop-color="#ff1b00"/><stop offset="0.937" stop-color="#ff0200"/><stop offset="1" stop-color="#ff0000"/></linearGradient><linearGradient id="q25" gradientUnits="userSpaceOnUse" x1="84.1" y1="269.1" x2="98.3" y2="220.3"><stop offset="0" stop-color="#b2ff00"/><stop offset="0.185" stop-color="#fdff00"/><stop offset="0.305" stop-color="#ffc800"/><stop offset="0.439" stop-color="#ff8d00"/><stop offset="0.535" stop-color="#ff5700"/><stop offset="0.67" stop-color="#ff1b00"/><stop offset="0.934" stop-color="#ff0200"/><stop offset="1" stop-color="#ff0000"/></linearGradient><linearGradient id="q26" gradientUnits="userSpaceOnUse" x1="83.4" y1="260.8" x2="97.6" y2="221.1"><stop offset="0" stop-color="#f5ff00"/><stop offset="0.023" stop-color="#fdff00"/><stop offset="0.168" stop-color="#ffc800"/><stop offset="0.332" stop-color="#ff8c00"/><stop offset="0.449" stop-color="#ff5600"/><stop offset="0.612" stop-color="#ff1b00"/><stop offset="0.933" stop-color="#ff0200"/><stop offset="1" stop-color="#ff0000"/></linearGradient><linearGradient id="q27" gradientUnits="userSpaceOnUse" x1="82.0" y1="249.5" x2="96.4" y2="222.4"><stop offset="0" stop-color="#ff9f00"/><stop offset="0.075" stop-color="#ff8c00"/><stop offset="0.243" stop-color="#ff5700"/><stop offset="0.478" stop-color="#ff1b00"/><stop offset="0.94" stop-color="#ff0200"/><stop offset="1" stop-color="#ff0100"/></linearGradient><linearGradient id="q28" gradientUnits="userSpaceOnUse" x1="80.6" y1="240.7" x2="95.1" y2="224.3"><stop offset="0" stop-color="#ff4000"/><stop offset="0.264" stop-color="#ff1b00"/><stop offset="0.985" stop-color="#ff0200"/><stop offset="1" stop-color="#ff0200"/></linearGradient><linearGradient id="q29" gradientUnits="userSpaceOnUse" x1="79.1" y1="234.0" x2="93.7" y2="226.6"><stop offset="0" stop-color="#ff0c00"/><stop offset="1" stop-color="#ff0300"/></linearGradient><linearGradient id="q30" gradientUnits="userSpaceOnUse" x1="77.7" y1="229.7" x2="92.4" y2="229.3"><stop offset="0" stop-color="#ff0600"/><stop offset="1" stop-color="#ff0400"/></linearGradient><linearGradient id="q31" gradientUnits="userSpaceOnUse" x1="76.3" y1="226.4" x2="91.1" y2="232.2"><stop offset="0" stop-color="#ff0400"/><stop offset="1" stop-color="#ff0500"/></linearGradient><linearGradient id="q32" gradientUnits="userSpaceOnUse" x1="74.9" y1="223.6" x2="89.7" y2="235.4"><stop offset="0" stop-color="#ff0200"/><stop offset="1" stop-color="#ff0700"/></linearGradient><linearGradient id="q33" gradientUnits="userSpaceOnUse" x1="73.5" y1="220.9" x2="88.4" y2="240.7"><stop offset="0" stop-color="#ff0100"/><stop offset="0.151" stop-color="#ff0200"/><stop offset="0.976" stop-color="#ff1b00"/><stop offset="1" stop-color="#ff1d00"/></linearGradient><linearGradient id="q34" gradientUnits="userSpaceOnUse" x1="72.0" y1="218.2" x2="87.1" y2="249.8"><stop offset="0" stop-color="#f60000"/><stop offset="0.007" stop-color="#f70000"/><stop offset="0.194" stop-color="#ff0200"/><stop offset="0.683" stop-color="#ff1b00"/><stop offset="0.932" stop-color="#ff5600"/><stop offset="1" stop-color="#ff6d00"/></linearGradient><linearGradient id="q35" gradientUnits="userSpaceOnUse" x1="70.8" y1="216.2" x2="86.1" y2="261.0"><stop offset="0" stop-color="#ea0000"/><stop offset="0.057" stop-color="#f70000"/><stop offset="0.186" stop-color="#ff0200"/><stop offset="0.521" stop-color="#ff1b00"/><stop offset="0.692" stop-color="#ff5700"/><stop offset="0.814" stop-color="#ff8c00"/><stop offset="0.985" stop-color="#ffc800"/><stop offset="1" stop-color="#ffce00"/></linearGradient><linearGradient id="q36" gradientUnits="userSpaceOnUse" x1="70.1" y1="215.1" x2="85.5" y2="271.9"><stop offset="0" stop-color="#e30000"/><stop offset="0.068" stop-color="#f70000"/><stop offset="0.167" stop-color="#ff0200"/><stop offset="0.428" stop-color="#ff1b00"/><stop offset="0.56" stop-color="#ff5600"/><stop offset="0.655" stop-color="#ff8c00"/><stop offset="0.788" stop-color="#ffc800"/><stop offset="0.906" stop-color="#fdff00"/><stop offset="1" stop-color="#d6ff00"/></linearGradient><linearGradient id="q37" gradientUnits="userSpaceOnUse" x1="69.8" y1="214.7" x2="85.3" y2="277.8"><stop offset="0" stop-color="#e10000"/><stop offset="0.068" stop-color="#f70000"/><stop offset="0.157" stop-color="#ff0200"/><stop offset="0.391" stop-color="#ff1b00"/><stop offset="0.509" stop-color="#ff5600"/><stop offset="0.594" stop-color="#ff8c00"/><stop offset="0.713" stop-color="#ffc800"/><stop offset="0.819" stop-color="#fcff00"/><stop offset="1" stop-color="#a9ff00"/></linearGradient><linearGradient id="q38" gradientUnits="userSpaceOnUse" x1="69.6" y1="214.4" x2="85.2" y2="284.5"><stop offset="0" stop-color="#df0000"/><stop offset="0.066" stop-color="#f70000"/><stop offset="0.146" stop-color="#ff0200"/><stop offset="0.355" stop-color="#ff1b00"/><stop offset="0.461" stop-color="#ff5700"/><stop offset="0.537" stop-color="#ff8d00"/><stop offset="0.643" stop-color="#ffc800"/><stop offset="0.738" stop-color="#fcff00"/><stop offset="0.909" stop-color="#a5ff00"/><stop offset="1" stop-color="#37ff00"/></linearGradient><linearGradient id="q39" gradientUnits="userSpaceOnUse" x1="69.4" y1="214.0" x2="85.1" y2="297.6"><stop offset="0" stop-color="#dc0000"/><stop offset="0.06" stop-color="#f60000"/><stop offset="0.127" stop-color="#ff0200"/><stop offset="0.3" stop-color="#ff1b00"/><stop offset="0.388" stop-color="#ff5700"/><stop offset="0.451" stop-color="#ff8c00"/><stop offset="0.539" stop-color="#ffc800"/><stop offset="0.618" stop-color="#fcff00"/><stop offset="0.76" stop-color="#a5ff00"/><stop offset="0.854" stop-color="#1aff00"/><stop offset="0.946" stop-color="#00ff7a"/><stop offset="0.993" stop-color="#00ffcb"/><stop offset="1" stop-color="#00ffd8"/></linearGradient><linearGradient id="q40" gradientUnits="userSpaceOnUse" x1="69.1" y1="213.7" x2="84.9" y2="297.2"><stop offset="0" stop-color="#da0000"/><stop offset="0.065" stop-color="#f70000"/><stop offset="0.131" stop-color="#ff0200"/><stop offset="0.305" stop-color="#ff1b00"/><stop offset="0.393" stop-color="#ff5600"/><stop offset="0.456" stop-color="#ff8c00"/><stop offset="0.545" stop-color="#ffc800"/><stop offset="0.623" stop-color="#fdff00"/><stop offset="0.765" stop-color="#a5ff00"/><stop offset="0.86" stop-color="#1aff00"/><stop offset="0.952" stop-color="#00ff79"/><stop offset="0.999" stop-color="#00ffcb"/><stop offset="1" stop-color="#00ffcc"/></linearGradient><linearGradient id="q41" gradientUnits="userSpaceOnUse" x1="68.8" y1="213.3" x2="84.4" y2="283.5"><stop offset="0" stop-color="#d70000"/><stop offset="0.085" stop-color="#f70000"/><stop offset="0.164" stop-color="#ff0200"/><stop offset="0.373" stop-color="#ff1b00"/><stop offset="0.479" stop-color="#ff5600"/><stop offset="0.555" stop-color="#ff8c00"/><stop offset="0.661" stop-color="#ffc800"/><stop offset="0.756" stop-color="#fdff00"/><stop offset="0.927" stop-color="#a5ff00"/><stop offset="1" stop-color="#4eff00"/></linearGradient><linearGradient id="q42" gradientUnits="userSpaceOnUse" x1="68.5" y1="212.9" x2="84.1" y2="274.6"><stop offset="0" stop-color="#d40000"/><stop offset="0.105" stop-color="#f70000"/><stop offset="0.196" stop-color="#ff0200"/><stop offset="0.436" stop-color="#ff1b00"/><stop offset="0.558" stop-color="#ff5700"/><stop offset="0.645" stop-color="#ff8d00"/><stop offset="0.767" stop-color="#ffc800"/><stop offset="0.876" stop-color="#fcff00"/><stop offset="1" stop-color="#c5ff00"/></linearGradient><linearGradient id="q43" gradientUnits="userSpaceOnUse" x1="68.2" y1="212.5" x2="83.7" y2="268.7"><stop offset="0" stop-color="#d10000"/><stop offset="0.124" stop-color="#f70000"/><stop offset="0.225" stop-color="#ff0200"/><stop offset="0.49" stop-color="#ff1b00"/><stop offset="0.624" stop-color="#ff5600"/><stop offset="0.721" stop-color="#ff8d00"/><stop offset="0.855" stop-color="#ffc800"/><stop offset="0.976" stop-color="#fcff00"/><stop offset="1" stop-color="#f3ff00"/></linearGradient><linearGradient id="q44" gradientUnits="userSpaceOnUse" x1="67.5" y1="211.6" x2="82.9" y2="259.3"><stop offset="0" stop-color="#cb0000"/><stop offset="0.015" stop-color="#cf0000"/><stop offset="0.171" stop-color="#f70000"/><stop offset="0.291" stop-color="#ff0200"/><stop offset="0.608" stop-color="#ff1b00"/><stop offset="0.769" stop-color="#ff5700"/><stop offset="0.884" stop-color="#ff8d00"/><stop offset="1" stop-color="#ffb700"/></linearGradient><linearGradient id="q45" gradientUnits="userSpaceOnUse" x1="66.2" y1="210.1" x2="81.5" y2="247.9"><stop offset="0" stop-color="#c00000"/><stop offset="0.069" stop-color="#cf0000"/><stop offset="0.269" stop-color="#f70000"/><stop offset="0.424" stop-color="#ff0200"/><stop offset="0.831" stop-color="#ff1a00"/><stop offset="1" stop-color="#ff4700"/></linearGradient><linearGradient id="q46" gradientUnits="userSpaceOnUse" x1="64.8" y1="208.6" x2="80.0" y2="239.6"><stop offset="0" stop-color="#b40000"/><stop offset="0.15" stop-color="#cf0000"/><stop offset="0.398" stop-color="#f70000"/><stop offset="0.591" stop-color="#ff0200"/><stop offset="1" stop-color="#ff0800"/></linearGradient><linearGradient id="q47" gradientUnits="userSpaceOnUse" x1="63.3" y1="207.1" x2="78.5" y2="233.8"><stop offset="0" stop-color="#aa0000"/><stop offset="0.248" stop-color="#cf0000"/><stop offset="0.542" stop-color="#f70000"/><stop offset="0.77" stop-color="#ff0200"/><stop offset="1" stop-color="#ff0500"/></linearGradient><linearGradient id="q48" gradientUnits="userSpaceOnUse" x1="61.8" y1="206.0" x2="77.0" y2="229.3"><stop offset="0" stop-color="#a20000"/><stop offset="0.356" stop-color="#cf0000"/><stop offset="0.7" stop-color="#f70000"/><stop offset="0.967" stop-color="#ff0200"/><stop offset="1" stop-color="#ff0200"/></linearGradient><linearGradient id="q49" gradientUnits="userSpaceOnUse" x1="60.5" y1="205.7" x2="75.6" y2="225.2"><stop offset="0" stop-color="#9f0000"/><stop offset="0.031" stop-color="#a20000"/><stop offset="0.468" stop-color="#cf0000"/><stop offset="0.889" stop-color="#f70000"/><stop offset="1" stop-color="#ff0000"/></linearGradient><linearGradient id="q50" gradientUnits="userSpaceOnUse" x1="59.7" y1="205.9" x2="74.9" y2="223.0"><stop offset="0" stop-color="#9f0000"/><stop offset="0.036" stop-color="#a20000"/><stop offset="0.545" stop-color="#cf0000"/><stop offset="1" stop-color="#f40000"/></linearGradient><linearGradient id="q51" gradientUnits="userSpaceOnUse" x1="59.4" y1="205.9" x2="74.6" y2="222.2"><stop offset="0" stop-color="#9f0000"/><stop offset="0.039" stop-color="#a20000"/><stop offset="0.579" stop-color="#cf0000"/><stop offset="1" stop-color="#f00000"/></linearGradient><linearGradient id="q52" gradientUnits="userSpaceOnUse" x1="59.1" y1="206.0" x2="74.2" y2="221.2"><stop offset="0" stop-color="#9f0000"/><stop offset="0.042" stop-color="#a20000"/><stop offset="0.628" stop-color="#cf0000"/><stop offset="1" stop-color="#ea0000"/></linearGradient><linearGradient id="q53" gradientUnits="userSpaceOnUse" x1="58.8" y1="206.0" x2="73.9" y2="220.4"><stop offset="0" stop-color="#9f0000"/><stop offset="0.045" stop-color="#a20000"/><stop offset="0.67" stop-color="#cf0000"/><stop offset="1" stop-color="#e60000"/></linearGradient><linearGradient id="q54" gradientUnits="userSpaceOnUse" x1="58.5" y1="206.1" x2="73.6" y2="219.9"><stop offset="0" stop-color="#9f0000"/><stop offset="0.047" stop-color="#a20000"/><stop offset="0.706" stop-color="#cf0000"/><stop offset="1" stop-color="#e30000"/></linearGradient><linearGradient id="q55" gradientUnits="userSpaceOnUse" x1="58.3" y1="206.1" x2="73.4" y2="219.3"><stop offset="0" stop-color="#9f0000"/><stop offset="0.05" stop-color="#a20000"/><stop offset="0.746" stop-color="#cf0000"/><stop offset="1" stop-color="#e00000"/></linearGradient><linearGradient id="q56" gradientUnits="userSpaceOnUse" x1="58.1" y1="206.1" x2="73.2" y2="218.9"><stop offset="0" stop-color="#9f0000"/><stop offset="0.055" stop-color="#a20000"/><stop offset="0.778" stop-color="#cf0000"/><stop offset="1" stop-color="#dd0000"/></linearGradient><linearGradient id="q57" gradientUnits="userSpaceOnUse" x1="57.8" y1="206.0" x2="72.8" y2="218.1"><stop offset="0" stop-color="#9d0000"/><stop offset="0.08" stop-color="#a20000"/><stop offset="0.851" stop-color="#cf0000"/><stop offset="1" stop-color="#d80000"/></linearGradient><linearGradient id="q58" gradientUnits="userSpaceOnUse" x1="57.1" y1="205.7" x2="72.1" y2="216.7"><stop offset="0" stop-color="#9b0000"/><stop offset="0.138" stop-color="#a20000"/><stop offset="1" stop-color="#ce0000"/></linearGradient><linearGradient id="q59" gradientUnits="userSpaceOnUse" x1="55.9" y1="205.3" x2="71.0" y2="214.5"><stop offset="0" stop-color="#970000"/><stop offset="0.267" stop-color="#a20000"/><stop offset="1" stop-color="#c00000"/></linearGradient><linearGradient id="q60" gradientUnits="userSpaceOnUse" x1="54.4" y1="204.7" x2="69.5" y2="212.0"><stop offset="0" stop-color="#920000"/><stop offset="0.544" stop-color="#a20000"/><stop offset="1" stop-color="#af0000"/></linearGradient><linearGradient id="q61" gradientUnits="userSpaceOnUse" x1="53.0" y1="204.2" x2="68.0" y2="210.2"><stop offset="0" stop-color="#8e0000"/><stop offset="0.947" stop-color="#a20000"/><stop offset="1" stop-color="#a30000"/></linearGradient><linearGradient id="q62" gradientUnits="userSpaceOnUse" x1="52.2" y1="203.9" x2="67.3" y2="209.6"><stop offset="0" stop-color="#8b0000"/><stop offset="1" stop-color="#9f0000"/></linearGradient><linearGradient id="q63" gradientUnits="userSpaceOnUse" x1="51.9" y1="203.8" x2="67.0" y2="209.6"><stop offset="0" stop-color="#8a0000"/><stop offset="1" stop-color="#9f0000"/></linearGradient><linearGradient id="q64" gradientUnits="userSpaceOnUse" x1="51.5" y1="203.7" x2="66.6" y2="209.7"><stop offset="0" stop-color="#890000"/><stop offset="1" stop-color="#9f0000"/></linearGradient><linearGradient id="q65" gradientUnits="userSpaceOnUse" x1="51.2" y1="203.6" x2="66.3" y2="209.8"><stop offset="0" stop-color="#880000"/><stop offset="1" stop-color="#9f0000"/></linearGradient><linearGradient id="q66" gradientUnits="userSpaceOnUse" x1="51.0" y1="203.5" x2="66.0" y2="209.8"><stop offset="0" stop-color="#880000"/><stop offset="1" stop-color="#9f0000"/></linearGradient><linearGradient id="q67" gradientUnits="userSpaceOnUse" x1="50.7" y1="203.5" x2="65.8" y2="209.9"><stop offset="0" stop-color="#880000"/><stop offset="1" stop-color="#9f0000"/></linearGradient><linearGradient id="q68" gradientUnits="userSpaceOnUse" x1="50.6" y1="203.5" x2="65.6" y2="209.9"><stop offset="0" stop-color="#870000"/><stop offset="1" stop-color="#9f0000"/></linearGradient><linearGradient id="q69" gradientUnits="userSpaceOnUse" x1="50.2" y1="203.4" x2="65.2" y2="210.0"><stop offset="0" stop-color="#870000"/><stop offset="1" stop-color="#9f0000"/></linearGradient><linearGradient id="q70" gradientUnits="userSpaceOnUse" x1="49.5" y1="203.3" x2="64.6" y2="210.1"><stop offset="0" stop-color="#850000"/><stop offset="1" stop-color="#9f0000"/></linearGradient><linearGradient id="q71" gradientUnits="userSpaceOnUse" x1="48.3" y1="203.2" x2="63.4" y2="210.3"><stop offset="0" stop-color="#830000"/><stop offset="1" stop-color="#9f0000"/></linearGradient><linearGradient id="q72" gradientUnits="userSpaceOnUse" x1="47.4" y1="203.1" x2="62.5" y2="210.4"><stop offset="0" stop-color="#820000"/><stop offset="1" stop-color="#9e0000"/></linearGradient><linearGradient id="q73" gradientUnits="userSpaceOnUse" x1="46.9" y1="203.0" x2="62.0" y2="210.3"><stop offset="0" stop-color="#810000"/><stop offset="1" stop-color="#9d0000"/></linearGradient><linearGradient id="q74" gradientUnits="userSpaceOnUse" x1="46.4" y1="202.9" x2="61.5" y2="210.2"><stop offset="0" stop-color="#800000"/><stop offset="1" stop-color="#9c0000"/></linearGradient><linearGradient id="q75" gradientUnits="userSpaceOnUse" x1="46.1" y1="202.9" x2="61.2" y2="210.1"><stop offset="0" stop-color="#7f0000"/><stop offset="1" stop-color="#9b0000"/></linearGradient><linearGradient id="q76" gradientUnits="userSpaceOnUse" x1="46.0" y1="202.9" x2="61.1" y2="210.1"><stop offset="0" stop-color="#7f0000"/><stop offset="1" stop-color="#9b0000"/></linearGradient><linearGradient id="q77" gradientUnits="userSpaceOnUse" x1="45.9" y1="202.9" x2="61.0" y2="210.1"><stop offset="0" stop-color="#7f0000"/><stop offset="1" stop-color="#9b0000"/></linearGradient><linearGradient id="q78" gradientUnits="userSpaceOnUse" x1="45.6" y1="202.8" x2="60.6" y2="210.0"><stop offset="0" stop-color="#7e0000"/><stop offset="1" stop-color="#9a0000"/></linearGradient><linearGradient id="q79" gradientUnits="userSpaceOnUse" x1="45.1" y1="202.8" x2="60.2" y2="209.9"><stop offset="0" stop-color="#7e0000"/><stop offset="1" stop-color="#990000"/></linearGradient><linearGradient id="q80" gradientUnits="userSpaceOnUse" x1="44.6" y1="202.7" x2="59.7" y2="209.8"><stop offset="0" stop-color="#7d0000"/><stop offset="1" stop-color="#980000"/></linearGradient><linearGradient id="q81" gradientUnits="userSpaceOnUse" x1="44.1" y1="202.6" x2="59.2" y2="209.7"><stop offset="0" stop-color="#7c0000"/><stop offset="1" stop-color="#970000"/></linearGradient><linearGradient id="q82" gradientUnits="userSpaceOnUse" x1="43.4" y1="202.6" x2="58.5" y2="209.6"><stop offset="0" stop-color="#7b0000"/><stop offset="1" stop-color="#950000"/></linearGradient><linearGradient id="q83" gradientUnits="userSpaceOnUse" x1="43.0" y1="202.5" x2="58.1" y2="209.5"><stop offset="0" stop-color="#7a0000"/><stop offset="1" stop-color="#950000"/></linearGradient><linearGradient id="q84" gradientUnits="userSpaceOnUse" x1="42.8" y1="202.5" x2="57.9" y2="209.5"><stop offset="0" stop-color="#7a0000"/><stop offset="1" stop-color="#940000"/></linearGradient><linearGradient id="q85" gradientUnits="userSpaceOnUse" x1="42.6" y1="202.5" x2="57.7" y2="209.4"><stop offset="0" stop-color="#7a0000"/><stop offset="1" stop-color="#940000"/></linearGradient><linearGradient id="q86" gradientUnits="userSpaceOnUse" x1="42.3" y1="202.4" x2="57.4" y2="209.4"><stop offset="0" stop-color="#790000"/><stop offset="1" stop-color="#930000"/></linearGradient><linearGradient id="q87" gradientUnits="userSpaceOnUse" x1="42.0" y1="202.4" x2="57.1" y2="209.3"><stop offset="0" stop-color="#790000"/><stop offset="1" stop-color="#930000"/></linearGradient><linearGradient id="q88" gradientUnits="userSpaceOnUse" x1="41.6" y1="202.4" x2="56.7" y2="209.2"><stop offset="0" stop-color="#780000"/><stop offset="1" stop-color="#920000"/></linearGradient><linearGradient id="q89" gradientUnits="userSpaceOnUse" x1="41.3" y1="202.3" x2="56.4" y2="209.2"><stop offset="0" stop-color="#770000"/><stop offset="1" stop-color="#910000"/></linearGradient><linearGradient id="q90" gradientUnits="userSpaceOnUse" x1="40.5" y1="202.4" x2="55.6" y2="209.0"><stop offset="0" stop-color="#770000"/><stop offset="1" stop-color="#900000"/></linearGradient><linearGradient id="q91" gradientUnits="userSpaceOnUse" x1="39.5" y1="202.6" x2="54.6" y2="208.9"><stop offset="0" stop-color="#770000"/><stop offset="1" stop-color="#8e0000"/></linearGradient><linearGradient id="q92" gradientUnits="userSpaceOnUse" x1="38.9" y1="202.7" x2="54.1" y2="208.8"><stop offset="0" stop-color="#770000"/><stop offset="1" stop-color="#8c0000"/></linearGradient><linearGradient id="q93" gradientUnits="userSpaceOnUse" x1="38.4" y1="202.7" x2="53.6" y2="208.7"><stop offset="0" stop-color="#770000"/><stop offset="1" stop-color="#8b0000"/></linearGradient><linearGradient id="q94" gradientUnits="userSpaceOnUse" x1="38.2" y1="202.8" x2="53.3" y2="208.7"><stop offset="0" stop-color="#770000"/><stop offset="1" stop-color="#8b0000"/></linearGradient><linearGradient id="q95" gradientUnits="userSpaceOnUse" x1="38.1" y1="202.8" x2="53.2" y2="208.6"><stop offset="0" stop-color="#770000"/><stop offset="1" stop-color="#8b0000"/></linearGradient><linearGradient id="q96" gradientUnits="userSpaceOnUse" x1="37.9" y1="202.8" x2="53.0" y2="208.6"><stop offset="0" stop-color="#770000"/><stop offset="1" stop-color="#8a0000"/></linearGradient><linearGradient id="q97" gradientUnits="userSpaceOnUse" x1="37.6" y1="202.9" x2="52.7" y2="208.5"><stop offset="0" stop-color="#770000"/><stop offset="1" stop-color="#8a0000"/></linearGradient><linearGradient id="q98" gradientUnits="userSpaceOnUse" x1="37.1" y1="202.9" x2="52.2" y2="208.5"><stop offset="0" stop-color="#770000"/><stop offset="1" stop-color="#890000"/></linearGradient><linearGradient id="q99" gradientUnits="userSpaceOnUse" x1="36.7" y1="203.0" x2="51.8" y2="208.4"><stop offset="0" stop-color="#770000"/><stop offset="1" stop-color="#880000"/></linearGradient><linearGradient id="q100" gradientUnits="userSpaceOnUse" x1="35.8" y1="203.1" x2="50.9" y2="208.3"><stop offset="0" stop-color="#770000"/><stop offset="1" stop-color="#870000"/></linearGradient><linearGradient id="q101" gradientUnits="userSpaceOnUse" x1="34.2" y1="203.4" x2="49.3" y2="208.2"><stop offset="0" stop-color="#770000"/><stop offset="1" stop-color="#850000"/></linearGradient><linearGradient id="q102" gradientUnits="userSpaceOnUse" x1="32.6" y1="203.6" x2="47.7" y2="208.3"><stop offset="0" stop-color="#770000"/><stop offset="1" stop-color="#830000"/></linearGradient><linearGradient id="q103" gradientUnits="userSpaceOnUse" x1="31.0" y1="203.9" x2="46.1" y2="208.4"><stop offset="0" stop-color="#770000"/><stop offset="1" stop-color="#820000"/></linearGradient><linearGradient id="q104" gradientUnits="userSpaceOnUse" x1="29.4" y1="204.1" x2="44.5" y2="208.4"><stop offset="0" stop-color="#760000"/><stop offset="1" stop-color="#810000"/></linearGradient><linearGradient id="q105" gradientUnits="userSpaceOnUse" x1="27.8" y1="204.3" x2="42.9" y2="208.5"><stop offset="0" stop-color="#760000"/><stop offset="1" stop-color="#800000"/></linearGradient><linearGradient id="q106" gradientUnits="userSpaceOnUse" x1="26.1" y1="204.6" x2="41.2" y2="208.6"><stop offset="0" stop-color="#760000"/><stop offset="1" stop-color="#7f0000"/></linearGradient><linearGradient id="q107" gradientUnits="userSpaceOnUse" x1="120.7" y1="202.4" x2="135.9" y2="202.0"><stop offset="0" stop-color="#b00000"/><stop offset="0.921" stop-color="#a20000"/><stop offset="1" stop-color="#a10000"/></linearGradient><linearGradient id="q108" gradientUnits="userSpaceOnUse" x1="119.4" y1="203.1" x2="134.7" y2="202.4"><stop offset="0" stop-color="#b40000"/><stop offset="0.973" stop-color="#a20000"/><stop offset="1" stop-color="#a10000"/></linearGradient><linearGradient id="q109" gradientUnits="userSpaceOnUse" x1="118.2" y1="203.9" x2="133.5" y2="202.7"><stop offset="0" stop-color="#b70000"/><stop offset="1" stop-color="#a20000"/></linearGradient><linearGradient id="q110" gradientUnits="userSpaceOnUse" x1="117.0" y1="204.7" x2="132.3" y2="203.1"><stop offset="0" stop-color="#bb0000"/><stop offset="1" stop-color="#a30000"/></linearGradient><linearGradient id="q111" gradientUnits="userSpaceOnUse" x1="115.7" y1="205.5" x2="131.0" y2="203.4"><stop offset="0" stop-color="#be0000"/><stop offset="1" stop-color="#a40000"/></linearGradient><linearGradient id="q112" gradientUnits="userSpaceOnUse" x1="114.5" y1="206.3" x2="129.8" y2="203.8"><stop offset="0" stop-color="#c20000"/><stop offset="1" stop-color="#a40000"/></linearGradient><linearGradient id="q113" gradientUnits="userSpaceOnUse" x1="113.2" y1="207.2" x2="128.5" y2="204.2"><stop offset="0" stop-color="#c60000"/><stop offset="1" stop-color="#a50000"/></linearGradient><linearGradient id="q114" gradientUnits="userSpaceOnUse" x1="111.9" y1="208.1" x2="127.3" y2="204.5"><stop offset="0" stop-color="#cb0000"/><stop offset="1" stop-color="#a60000"/></linearGradient><linearGradient id="q115" gradientUnits="userSpaceOnUse" x1="110.7" y1="209.1" x2="126.0" y2="204.9"><stop offset="0" stop-color="#cf0000"/><stop offset="0.007" stop-color="#cf0000"/><stop offset="1" stop-color="#a70000"/></linearGradient><linearGradient id="q116" gradientUnits="userSpaceOnUse" x1="109.4" y1="210.1" x2="124.8" y2="205.3"><stop offset="0" stop-color="#d40000"/><stop offset="0.115" stop-color="#cf0000"/><stop offset="1" stop-color="#a70000"/></linearGradient><linearGradient id="q117" gradientUnits="userSpaceOnUse" x1="108.1" y1="211.2" x2="123.5" y2="205.7"><stop offset="0" stop-color="#d90000"/><stop offset="0.207" stop-color="#cf0000"/><stop offset="1" stop-color="#a80000"/></linearGradient><linearGradient id="q118" gradientUnits="userSpaceOnUse" x1="106.8" y1="212.2" x2="122.2" y2="206.0"><stop offset="0" stop-color="#df0000"/><stop offset="0.288" stop-color="#cf0000"/><stop offset="1" stop-color="#a90000"/></linearGradient><linearGradient id="q119" gradientUnits="userSpaceOnUse" x1="105.6" y1="213.4" x2="120.9" y2="206.4"><stop offset="0" stop-color="#e30000"/><stop offset="0.358" stop-color="#cf0000"/><stop offset="1" stop-color="#aa0000"/></linearGradient><linearGradient id="q120" gradientUnits="userSpaceOnUse" x1="104.3" y1="214.5" x2="119.6" y2="206.8"><stop offset="0" stop-color="#e80000"/><stop offset="0.42" stop-color="#cf0000"/><stop offset="1" stop-color="#aa0000"/></linearGradient><linearGradient id="q121" gradientUnits="userSpaceOnUse" x1="103.0" y1="215.7" x2="118.3" y2="207.2"><stop offset="0" stop-color="#ed0000"/><stop offset="0.475" stop-color="#cf0000"/><stop offset="1" stop-color="#ab0000"/></linearGradient><linearGradient id="q122" gradientUnits="userSpaceOnUse" x1="101.7" y1="216.9" x2="117.0" y2="207.6"><stop offset="0" stop-color="#f20000"/><stop offset="0.524" stop-color="#cf0000"/><stop offset="1" stop-color="#ac0000"/></linearGradient><linearGradient id="q123" gradientUnits="userSpaceOnUse" x1="100.7" y1="217.9" x2="116.0" y2="207.9"><stop offset="0" stop-color="#f60000"/><stop offset="0.558" stop-color="#cf0000"/><stop offset="1" stop-color="#ad0000"/></linearGradient><linearGradient id="q124" gradientUnits="userSpaceOnUse" x1="100.1" y1="218.5" x2="115.4" y2="208.2"><stop offset="0" stop-color="#f90000"/><stop offset="0.033" stop-color="#f70000"/><stop offset="0.582" stop-color="#cf0000"/><stop offset="1" stop-color="#ae0000"/></linearGradient><linearGradient id="q125" gradientUnits="userSpaceOnUse" x1="99.7" y1="218.8" x2="115.1" y2="208.4"><stop offset="0" stop-color="#fa0000"/><stop offset="0.053" stop-color="#f70000"/><stop offset="0.597" stop-color="#cf0000"/><stop offset="1" stop-color="#ae0000"/></linearGradient><linearGradient id="q126" gradientUnits="userSpaceOnUse" x1="99.6" y1="219.0" x2="115.0" y2="208.5"><stop offset="0" stop-color="#fb0000"/><stop offset="0.063" stop-color="#f70000"/><stop offset="0.606" stop-color="#cf0000"/><stop offset="1" stop-color="#af0000"/></linearGradient><linearGradient id="q127" gradientUnits="userSpaceOnUse" x1="99.4" y1="219.2" x2="114.7" y2="208.7"><stop offset="0" stop-color="#fc0000"/><stop offset="0.076" stop-color="#f70000"/><stop offset="0.619" stop-color="#cf0000"/><stop offset="1" stop-color="#b00000"/></linearGradient><linearGradient id="q128" gradientUnits="userSpaceOnUse" x1="99.2" y1="219.4" x2="114.5" y2="208.9"><stop offset="0" stop-color="#fd0000"/><stop offset="0.09" stop-color="#f70000"/><stop offset="0.631" stop-color="#cf0000"/><stop offset="1" stop-color="#b10000"/></linearGradient><linearGradient id="q129" gradientUnits="userSpaceOnUse" x1="98.9" y1="219.7" x2="114.3" y2="209.2"><stop offset="0" stop-color="#fe0000"/><stop offset="0.106" stop-color="#f70000"/><stop offset="0.646" stop-color="#cf0000"/><stop offset="1" stop-color="#b20000"/></linearGradient><linearGradient id="q130" gradientUnits="userSpaceOnUse" x1="98.6" y1="220.1" x2="113.9" y2="209.5"><stop offset="0" stop-color="#ff0000"/><stop offset="0.128" stop-color="#f70000"/><stop offset="0.667" stop-color="#cf0000"/><stop offset="1" stop-color="#b40000"/></linearGradient><linearGradient id="q131" gradientUnits="userSpaceOnUse" x1="98.3" y1="220.3" x2="113.7" y2="209.8"><stop offset="0" stop-color="#ff0000"/><stop offset="0.145" stop-color="#f70000"/><stop offset="0.682" stop-color="#cf0000"/><stop offset="1" stop-color="#b50000"/></linearGradient><linearGradient id="q132" gradientUnits="userSpaceOnUse" x1="97.6" y1="221.1" x2="113.0" y2="210.4"><stop offset="0" stop-color="#ff0000"/><stop offset="0.188" stop-color="#f70000"/><stop offset="0.722" stop-color="#cf0000"/><stop offset="1" stop-color="#b80000"/></linearGradient><linearGradient id="q133" gradientUnits="userSpaceOnUse" x1="96.4" y1="222.4" x2="111.8" y2="211.6"><stop offset="0" stop-color="#ff0100"/><stop offset="0.27" stop-color="#f70000"/><stop offset="0.797" stop-color="#cf0000"/><stop offset="1" stop-color="#be0000"/></linearGradient><linearGradient id="q134" gradientUnits="userSpaceOnUse" x1="95.1" y1="224.3" x2="110.4" y2="213.0"><stop offset="0" stop-color="#ff0200"/><stop offset="0.374" stop-color="#f70000"/><stop offset="0.882" stop-color="#cf0000"/><stop offset="1" stop-color="#c50000"/></linearGradient><linearGradient id="q135" gradientUnits="userSpaceOnUse" x1="93.7" y1="226.6" x2="109.1" y2="214.4"><stop offset="0" stop-color="#ff0300"/><stop offset="0.121" stop-color="#ff0200"/><stop offset="0.491" stop-color="#f70000"/><stop offset="0.966" stop-color="#cf0000"/><stop offset="1" stop-color="#cc0000"/></linearGradient><linearGradient id="q136" gradientUnits="userSpaceOnUse" x1="92.4" y1="229.3" x2="107.7" y2="215.9"><stop offset="0" stop-color="#ff0400"/><stop offset="0.26" stop-color="#ff0200"/><stop offset="0.603" stop-color="#f70000"/><stop offset="1" stop-color="#d40000"/></linearGradient><linearGradient id="q137" gradientUnits="userSpaceOnUse" x1="91.1" y1="232.2" x2="106.4" y2="217.5"><stop offset="0" stop-color="#ff0500"/><stop offset="0.392" stop-color="#ff0200"/><stop offset="0.708" stop-color="#f70000"/><stop offset="1" stop-color="#dc0000"/></linearGradient><linearGradient id="q138" gradientUnits="userSpaceOnUse" x1="89.7" y1="235.4" x2="105.0" y2="219.2"><stop offset="0" stop-color="#ff0700"/><stop offset="0.515" stop-color="#ff0200"/><stop offset="0.804" stop-color="#f70000"/><stop offset="1" stop-color="#e30000"/></linearGradient><linearGradient id="q139" gradientUnits="userSpaceOnUse" x1="88.4" y1="240.7" x2="103.7" y2="221.0"><stop offset="0" stop-color="#ff1d00"/><stop offset="0.018" stop-color="#ff1b00"/><stop offset="0.656" stop-color="#ff0200"/><stop offset="0.899" stop-color="#f70000"/><stop offset="1" stop-color="#eb0000"/></linearGradient><linearGradient id="q140" gradientUnits="userSpaceOnUse" x1="87.1" y1="249.8" x2="102.3" y2="222.8"><stop offset="0" stop-color="#ff6d00"/><stop offset="0.067" stop-color="#ff5600"/><stop offset="0.311" stop-color="#ff1b00"/><stop offset="0.792" stop-color="#ff0200"/><stop offset="0.975" stop-color="#f70000"/><stop offset="1" stop-color="#f30000"/></linearGradient><linearGradient id="q141" gradientUnits="userSpaceOnUse" x1="86.1" y1="261.0" x2="101.2" y2="224.4"><stop offset="0" stop-color="#ffce00"/><stop offset="0.016" stop-color="#ffc800"/><stop offset="0.2" stop-color="#ff8d00"/><stop offset="0.332" stop-color="#ff5600"/><stop offset="0.516" stop-color="#ff1a00"/><stop offset="0.877" stop-color="#ff0200"/><stop offset="1" stop-color="#fa0000"/></linearGradient><linearGradient id="q142" gradientUnits="userSpaceOnUse" x1="85.5" y1="271.9" x2="100.5" y2="225.5"><stop offset="0" stop-color="#d6ff00"/><stop offset="0.103" stop-color="#fcff00"/><stop offset="0.234" stop-color="#ffc800"/><stop offset="0.38" stop-color="#ff8d00"/><stop offset="0.485" stop-color="#ff5700"/><stop offset="0.631" stop-color="#ff1b00"/><stop offset="0.919" stop-color="#ff0200"/><stop offset="1" stop-color="#fe0000"/></linearGradient><linearGradient id="q143" gradientUnits="userSpaceOnUse" x1="85.3" y1="277.8" x2="100.2" y2="225.9"><stop offset="0" stop-color="#a9ff00"/><stop offset="0.201" stop-color="#fcff00"/><stop offset="0.318" stop-color="#ffc800"/><stop offset="0.45" stop-color="#ff8c00"/><stop offset="0.544" stop-color="#ff5600"/><stop offset="0.675" stop-color="#ff1b00"/><stop offset="0.934" stop-color="#ff0200"/><stop offset="1" stop-color="#ff0000"/></linearGradient><linearGradient id="q144" gradientUnits="userSpaceOnUse" x1="85.2" y1="284.5" x2="100.0" y2="226.2"><stop offset="0" stop-color="#37ff00"/><stop offset="0.101" stop-color="#a5ff00"/><stop offset="0.29" stop-color="#fdff00"/><stop offset="0.395" stop-color="#ffc800"/><stop offset="0.512" stop-color="#ff8d00"/><stop offset="0.596" stop-color="#ff5700"/><stop offset="0.714" stop-color="#ff1a00"/><stop offset="0.945" stop-color="#ff0200"/><stop offset="1" stop-color="#ff0000"/></linearGradient><linearGradient id="q145" gradientUnits="userSpaceOnUse" x1="85.1" y1="297.6" x2="99.7" y2="226.6"><stop offset="0" stop-color="#00ffd8"/><stop offset="0.008" stop-color="#00ffca"/><stop offset="0.06" stop-color="#00ff78"/><stop offset="0.16" stop-color="#19ff00"/><stop offset="0.264" stop-color="#a5ff00"/><stop offset="0.42" stop-color="#fdff00"/><stop offset="0.506" stop-color="#ffc800"/><stop offset="0.603" stop-color="#ff8c00"/><stop offset="0.672" stop-color="#ff5700"/><stop offset="0.769" stop-color="#ff1b00"/><stop offset="0.959" stop-color="#ff0200"/><stop offset="1" stop-color="#ff0000"/></linearGradient><linearGradient id="q146" gradientUnits="userSpaceOnUse" x1="84.9" y1="297.2" x2="99.5" y2="227.0"><stop offset="0" stop-color="#00ffcc"/><stop offset="0.001" stop-color="#00ffcb"/><stop offset="0.054" stop-color="#00ff78"/><stop offset="0.155" stop-color="#19ff00"/><stop offset="0.26" stop-color="#a5ff00"/><stop offset="0.417" stop-color="#fcff00"/><stop offset="0.505" stop-color="#ffc800"/><stop offset="0.603" stop-color="#ff8c00"/><stop offset="0.673" stop-color="#ff5600"/><stop offset="0.77" stop-color="#ff1b00"/><stop offset="0.963" stop-color="#ff0200"/><stop offset="1" stop-color="#ff0100"/></linearGradient><linearGradient id="q147" gradientUnits="userSpaceOnUse" x1="84.4" y1="283.5" x2="99.2" y2="227.4"><stop offset="0" stop-color="#4eff00"/><stop offset="0.084" stop-color="#a5ff00"/><stop offset="0.28" stop-color="#fcff00"/><stop offset="0.389" stop-color="#ffc800"/><stop offset="0.511" stop-color="#ff8c00"/><stop offset="0.598" stop-color="#ff5700"/><stop offset="0.72" stop-color="#ff1b00"/><stop offset="0.96" stop-color="#ff0200"/><stop offset="1" stop-color="#ff0100"/></linearGradient><linearGradient id="q148" gradientUnits="userSpaceOnUse" x1="84.1" y1="274.6" x2="99.0" y2="227.9"><stop offset="0" stop-color="#c5ff00"/><stop offset="0.148" stop-color="#fcff00"/><stop offset="0.278" stop-color="#ffc800"/><stop offset="0.424" stop-color="#ff8c00"/><stop offset="0.528" stop-color="#ff5700"/><stop offset="0.674" stop-color="#ff1a00"/><stop offset="0.96" stop-color="#ff0200"/><stop offset="1" stop-color="#ff0100"/></linearGradient><linearGradient id="q149" gradientUnits="userSpaceOnUse" x1="83.7" y1="268.7" x2="98.7" y2="228.3"><stop offset="0" stop-color="#f3ff00"/><stop offset="0.03" stop-color="#fcff00"/><stop offset="0.179" stop-color="#ffc800"/><stop offset="0.347" stop-color="#ff8c00"/><stop offset="0.466" stop-color="#ff5700"/><stop offset="0.634" stop-color="#ff1a00"/><stop offset="0.962" stop-color="#ff0200"/><stop offset="1" stop-color="#ff0100"/></linearGradient><linearGradient id="q150" gradientUnits="userSpaceOnUse" x1="82.9" y1="259.3" x2="98.0" y2="229.8"><stop offset="0" stop-color="#ffb700"/><stop offset="0.162" stop-color="#ff8c00"/><stop offset="0.322" stop-color="#ff5700"/><stop offset="0.546" stop-color="#ff1b00"/><stop offset="0.987" stop-color="#ff0200"/><stop offset="1" stop-color="#ff0200"/></linearGradient><linearGradient id="q151" gradientUnits="userSpaceOnUse" x1="81.5" y1="247.9" x2="96.8" y2="232.7"><stop offset="0" stop-color="#ff4700"/><stop offset="0.327" stop-color="#ff1b00"/><stop offset="1" stop-color="#ff0300"/></linearGradient><linearGradient id="q152" gradientUnits="userSpaceOnUse" x1="80.0" y1="239.6" x2="95.4" y2="236.5"><stop offset="0" stop-color="#ff0800"/><stop offset="1" stop-color="#ff0500"/></linearGradient><linearGradient id="q153" gradientUnits="userSpaceOnUse" x1="78.5" y1="233.8" x2="94.0" y2="240.9"><stop offset="0" stop-color="#ff0500"/><stop offset="1" stop-color="#ff0700"/></linearGradient><linearGradient id="q154" gradientUnits="userSpaceOnUse" x1="77.0" y1="229.3" x2="92.7" y2="248.3"><stop offset="0" stop-color="#ff0200"/><stop offset="0.873" stop-color="#ff1b00"/><stop offset="1" stop-color="#ff2900"/></linearGradient><linearGradient id="q155" gradientUnits="userSpaceOnUse" x1="75.6" y1="225.2" x2="91.4" y2="261.0"><stop offset="0" stop-color="#ff0000"/><stop offset="0.113" stop-color="#ff0200"/><stop offset="0.562" stop-color="#ff1b00"/><stop offset="0.79" stop-color="#ff5700"/><stop offset="0.953" stop-color="#ff8c00"/><stop offset="1" stop-color="#ff9900"/></linearGradient><linearGradient id="q156" gradientUnits="userSpaceOnUse" x1="74.9" y1="223.0" x2="90.8" y2="270.1"><stop offset="0" stop-color="#f40000"/><stop offset="0.012" stop-color="#f70000"/><stop offset="0.139" stop-color="#ff0200"/><stop offset="0.471" stop-color="#ff1a00"/><stop offset="0.641" stop-color="#ff5700"/><stop offset="0.761" stop-color="#ff8c00"/><stop offset="0.931" stop-color="#ffc800"/><stop offset="1" stop-color="#ffe300"/></linearGradient><linearGradient id="q157" gradientUnits="userSpaceOnUse" x1="74.6" y1="222.2" x2="90.6" y2="276.2"><stop offset="0" stop-color="#f00000"/><stop offset="0.027" stop-color="#f70000"/><stop offset="0.137" stop-color="#ff0200"/><stop offset="0.424" stop-color="#ff1b00"/><stop offset="0.57" stop-color="#ff5700"/><stop offset="0.674" stop-color="#ff8c00"/><stop offset="0.82" stop-color="#ffc800"/><stop offset="0.951" stop-color="#fcff00"/><stop offset="1" stop-color="#eaff00"/></linearGradient><linearGradient id="q158" gradientUnits="userSpaceOnUse" x1="74.2" y1="221.2" x2="90.3" y2="287.0"><stop offset="0" stop-color="#ea0000"/><stop offset="0.039" stop-color="#f70000"/><stop offset="0.128" stop-color="#ff0200"/><stop offset="0.36" stop-color="#ff1a00"/><stop offset="0.479" stop-color="#ff5700"/><stop offset="0.563" stop-color="#ff8c00"/><stop offset="0.682" stop-color="#ffc800"/><stop offset="0.788" stop-color="#fcff00"/><stop offset="0.978" stop-color="#a5ff00"/><stop offset="1" stop-color="#93ff00"/></linearGradient><linearGradient id="q159" gradientUnits="userSpaceOnUse" x1="73.9" y1="220.4" x2="90.1" y2="300.5"><stop offset="0" stop-color="#e60000"/><stop offset="0.042" stop-color="#f70000"/><stop offset="0.114" stop-color="#ff0200"/><stop offset="0.303" stop-color="#ff1a00"/><stop offset="0.4" stop-color="#ff5700"/><stop offset="0.468" stop-color="#ff8c00"/><stop offset="0.565" stop-color="#ffc800"/><stop offset="0.651" stop-color="#fcff00"/><stop offset="0.805" stop-color="#a5ff00"/><stop offset="0.908" stop-color="#1aff00"/><stop offset="1" stop-color="#00ff6d"/></linearGradient><linearGradient id="q160" gradientUnits="userSpaceOnUse" x1="73.6" y1="219.9" x2="89.9" y2="300.4"><stop offset="0" stop-color="#e30000"/><stop offset="0.05" stop-color="#f70000"/><stop offset="0.121" stop-color="#ff0200"/><stop offset="0.309" stop-color="#ff1a00"/><stop offset="0.405" stop-color="#ff5600"/><stop offset="0.473" stop-color="#ff8c00"/><stop offset="0.569" stop-color="#ffc800"/><stop offset="0.655" stop-color="#fcff00"/><stop offset="0.808" stop-color="#a5ff00"/><stop offset="0.911" stop-color="#1aff00"/><stop offset="1" stop-color="#00ff6a"/></linearGradient><linearGradient id="q161" gradientUnits="userSpaceOnUse" x1="73.4" y1="219.3" x2="89.6" y2="288.7"><stop offset="0" stop-color="#e00000"/><stop offset="0.067" stop-color="#f70000"/><stop offset="0.151" stop-color="#ff0200"/><stop offset="0.372" stop-color="#ff1b00"/><stop offset="0.484" stop-color="#ff5600"/><stop offset="0.565" stop-color="#ff8d00"/><stop offset="0.677" stop-color="#ffc800"/><stop offset="0.777" stop-color="#fdff00"/><stop offset="0.958" stop-color="#a5ff00"/><stop offset="1" stop-color="#79ff00"/></linearGradient><linearGradient id="q162" gradientUnits="userSpaceOnUse" x1="73.2" y1="218.9" x2="89.4" y2="282.6"><stop offset="0" stop-color="#dd0000"/><stop offset="0.081" stop-color="#f70000"/><stop offset="0.173" stop-color="#ff0200"/><stop offset="0.415" stop-color="#ff1a00"/><stop offset="0.538" stop-color="#ff5600"/><stop offset="0.626" stop-color="#ff8c00"/><stop offset="0.75" stop-color="#ffc800"/><stop offset="0.859" stop-color="#fdff00"/><stop offset="1" stop-color="#beff00"/></linearGradient><linearGradient id="q163" gradientUnits="userSpaceOnUse" x1="72.8" y1="218.1" x2="88.9" y2="274.9"><stop offset="0" stop-color="#d80000"/><stop offset="0.107" stop-color="#f70000"/><stop offset="0.212" stop-color="#ff0200"/><stop offset="0.486" stop-color="#ff1b00"/><stop offset="0.625" stop-color="#ff5700"/><stop offset="0.724" stop-color="#ff8c00"/><stop offset="0.864" stop-color="#ffc800"/><stop offset="0.988" stop-color="#fcff00"/><stop offset="1" stop-color="#f8ff00"/></linearGradient><linearGradient id="q164" gradientUnits="userSpaceOnUse" x1="72.1" y1="216.7" x2="88.2" y2="264.1"><stop offset="0" stop-color="#ce0000"/><stop offset="0.003" stop-color="#cf0000"/><stop offset="0.166" stop-color="#f70000"/><stop offset="0.293" stop-color="#ff0200"/><stop offset="0.626" stop-color="#ff1b00"/><stop offset="0.795" stop-color="#ff5600"/><stop offset="0.916" stop-color="#ff8c00"/><stop offset="1" stop-color="#ffa900"/></linearGradient><linearGradient id="q165" gradientUnits="userSpaceOnUse" x1="71.0" y1="214.5" x2="87.0" y2="253.4"><stop offset="0" stop-color="#c00000"/><stop offset="0.069" stop-color="#cf0000"/><stop offset="0.272" stop-color="#f70000"/><stop offset="0.43" stop-color="#ff0200"/><stop offset="0.843" stop-color="#ff1b00"/><stop offset="1" stop-color="#ff4200"/></linearGradient><linearGradient id="q166" gradientUnits="userSpaceOnUse" x1="69.5" y1="212.0" x2="85.4" y2="242.3"><stop offset="0" stop-color="#af0000"/><stop offset="0.194" stop-color="#cf0000"/><stop offset="0.461" stop-color="#f70000"/><stop offset="0.668" stop-color="#ff0200"/><stop offset="1" stop-color="#ff0600"/></linearGradient><linearGradient id="q167" gradientUnits="userSpaceOnUse" x1="68.0" y1="210.2" x2="83.9" y2="234.1"><stop offset="0" stop-color="#a30000"/><stop offset="0.353" stop-color="#cf0000"/><stop offset="0.702" stop-color="#f70000"/><stop offset="0.974" stop-color="#ff0200"/><stop offset="1" stop-color="#ff0200"/></linearGradient><linearGradient id="q168" gradientUnits="userSpaceOnUse" x1="67.3" y1="209.6" x2="83.1" y2="230.9"><stop offset="0" stop-color="#9f0000"/><stop offset="0.029" stop-color="#a20000"/><stop offset="0.442" stop-color="#cf0000"/><stop offset="0.841" stop-color="#f70000"/><stop offset="1" stop-color="#ff0100"/></linearGradient><linearGradient id="q169" gradientUnits="userSpaceOnUse" x1="67.0" y1="209.6" x2="82.8" y2="230.2"><stop offset="0" stop-color="#9f0000"/><stop offset="0.031" stop-color="#a20000"/><stop offset="0.462" stop-color="#cf0000"/><stop offset="0.878" stop-color="#f70000"/><stop offset="1" stop-color="#ff0000"/></linearGradient><linearGradient id="q170" gradientUnits="userSpaceOnUse" x1="66.6" y1="209.7" x2="82.4" y2="229.2"><stop offset="0" stop-color="#9f0000"/><stop offset="0.033" stop-color="#a20000"/><stop offset="0.491" stop-color="#cf0000"/><stop offset="0.933" stop-color="#f70000"/><stop offset="1" stop-color="#fc0000"/></linearGradient><linearGradient id="q171" gradientUnits="userSpaceOnUse" x1="66.3" y1="209.8" x2="82.1" y2="228.5"><stop offset="0" stop-color="#9f0000"/><stop offset="0.034" stop-color="#a20000"/><stop offset="0.514" stop-color="#cf0000"/><stop offset="0.976" stop-color="#f70000"/><stop offset="1" stop-color="#f90000"/></linearGradient><linearGradient id="q172" gradientUnits="userSpaceOnUse" x1="66.0" y1="209.8" x2="81.9" y2="228.0"><stop offset="0" stop-color="#9f0000"/><stop offset="0.036" stop-color="#a20000"/><stop offset="0.533" stop-color="#cf0000"/><stop offset="1" stop-color="#f60000"/></linearGradient><linearGradient id="q173" gradientUnits="userSpaceOnUse" x1="65.8" y1="209.9" x2="81.6" y2="227.5"><stop offset="0" stop-color="#9f0000"/><stop offset="0.037" stop-color="#a20000"/><stop offset="0.552" stop-color="#cf0000"/><stop offset="1" stop-color="#f30000"/></linearGradient><linearGradient id="q174" gradientUnits="userSpaceOnUse" x1="65.6" y1="209.9" x2="81.5" y2="227.1"><stop offset="0" stop-color="#9f0000"/><stop offset="0.038" stop-color="#a20000"/><stop offset="0.568" stop-color="#cf0000"/><stop offset="1" stop-color="#f10000"/></linearGradient><linearGradient id="q175" gradientUnits="userSpaceOnUse" x1="65.2" y1="210.0" x2="81.1" y2="226.4"><stop offset="0" stop-color="#9f0000"/><stop offset="0.04" stop-color="#a20000"/><stop offset="0.602" stop-color="#cf0000"/><stop offset="1" stop-color="#ed0000"/></linearGradient><linearGradient id="q176" gradientUnits="userSpaceOnUse" x1="64.6" y1="210.1" x2="80.4" y2="225.0"><stop offset="0" stop-color="#9f0000"/><stop offset="0.045" stop-color="#a20000"/><stop offset="0.673" stop-color="#cf0000"/><stop offset="1" stop-color="#e60000"/></linearGradient><linearGradient id="q177" gradientUnits="userSpaceOnUse" x1="63.4" y1="210.3" x2="79.2" y2="223.1"><stop offset="0" stop-color="#9f0000"/><stop offset="0.055" stop-color="#a20000"/><stop offset="0.821" stop-color="#cf0000"/><stop offset="1" stop-color="#da0000"/></linearGradient><linearGradient id="q178" gradientUnits="userSpaceOnUse" x1="62.5" y1="210.4" x2="78.3" y2="221.5"><stop offset="0" stop-color="#9e0000"/><stop offset="0.074" stop-color="#a20000"/><stop offset="0.992" stop-color="#cf0000"/><stop offset="1" stop-color="#d00000"/></linearGradient><linearGradient id="q179" gradientUnits="userSpaceOnUse" x1="62.0" y1="210.3" x2="77.8" y2="220.8"><stop offset="0" stop-color="#9d0000"/><stop offset="0.105" stop-color="#a20000"/><stop offset="1" stop-color="#cb0000"/></linearGradient><linearGradient id="q180" gradientUnits="userSpaceOnUse" x1="61.5" y1="210.2" x2="77.3" y2="220.0"><stop offset="0" stop-color="#9c0000"/><stop offset="0.141" stop-color="#a20000"/><stop offset="1" stop-color="#c60000"/></linearGradient><linearGradient id="q181" gradientUnits="userSpaceOnUse" x1="61.2" y1="210.1" x2="77.0" y2="219.6"><stop offset="0" stop-color="#9b0000"/><stop offset="0.164" stop-color="#a20000"/><stop offset="1" stop-color="#c30000"/></linearGradient><linearGradient id="q182" gradientUnits="userSpaceOnUse" x1="61.1" y1="210.1" x2="76.9" y2="219.5"><stop offset="0" stop-color="#9b0000"/><stop offset="0.175" stop-color="#a20000"/><stop offset="1" stop-color="#c20000"/></linearGradient><linearGradient id="q183" gradientUnits="userSpaceOnUse" x1="61.0" y1="210.1" x2="76.7" y2="219.3"><stop offset="0" stop-color="#9b0000"/><stop offset="0.189" stop-color="#a20000"/><stop offset="1" stop-color="#c10000"/></linearGradient><linearGradient id="q184" gradientUnits="userSpaceOnUse" x1="60.6" y1="210.0" x2="76.4" y2="218.8"><stop offset="0" stop-color="#9a0000"/><stop offset="0.219" stop-color="#a20000"/><stop offset="1" stop-color="#be0000"/></linearGradient><linearGradient id="q185" gradientUnits="userSpaceOnUse" x1="60.2" y1="209.9" x2="75.9" y2="218.2"><stop offset="0" stop-color="#990000"/><stop offset="0.274" stop-color="#a20000"/><stop offset="1" stop-color="#ba0000"/></linearGradient><linearGradient id="q186" gradientUnits="userSpaceOnUse" x1="59.7" y1="209.8" x2="75.5" y2="217.6"><stop offset="0" stop-color="#980000"/><stop offset="0.332" stop-color="#a20000"/><stop offset="1" stop-color="#b60000"/></linearGradient><linearGradient id="q187" gradientUnits="userSpaceOnUse" x1="59.2" y1="209.7" x2="75.0" y2="217.0"><stop offset="0" stop-color="#970000"/><stop offset="0.412" stop-color="#a20000"/><stop offset="1" stop-color="#b10000"/></linearGradient><linearGradient id="q188" gradientUnits="userSpaceOnUse" x1="58.5" y1="209.6" x2="74.3" y2="216.2"><stop offset="0" stop-color="#950000"/><stop offset="0.549" stop-color="#a20000"/><stop offset="1" stop-color="#ac0000"/></linearGradient><linearGradient id="q189" gradientUnits="userSpaceOnUse" x1="58.1" y1="209.5" x2="73.9" y2="215.7"><stop offset="0" stop-color="#950000"/><stop offset="0.647" stop-color="#a20000"/><stop offset="1" stop-color="#a90000"/></linearGradient><linearGradient id="q190" gradientUnits="userSpaceOnUse" x1="57.9" y1="209.5" x2="73.7" y2="215.5"><stop offset="0" stop-color="#940000"/><stop offset="0.7" stop-color="#a20000"/><stop offset="1" stop-color="#a80000"/></linearGradient><linearGradient id="q191" gradientUnits="userSpaceOnUse" x1="57.7" y1="209.4" x2="73.5" y2="215.3"><stop offset="0" stop-color="#940000"/><stop offset="0.773" stop-color="#a20000"/><stop offset="1" stop-color="#a60000"/></linearGradient><linearGradient id="q192" gradientUnits="userSpaceOnUse" x1="57.4" y1="209.4" x2="73.2" y2="215.0"><stop offset="0" stop-color="#930000"/><stop offset="0.862" stop-color="#a20000"/><stop offset="1" stop-color="#a40000"/></linearGradient><linearGradient id="q193" gradientUnits="userSpaceOnUse" x1="57.1" y1="209.3" x2="72.9" y2="214.6"><stop offset="0" stop-color="#930000"/><stop offset="0.991" stop-color="#a20000"/><stop offset="1" stop-color="#a20000"/></linearGradient><linearGradient id="q194" gradientUnits="userSpaceOnUse" x1="56.7" y1="209.2" x2="72.5" y2="214.3"><stop offset="0" stop-color="#920000"/><stop offset="1" stop-color="#a00000"/></linearGradient><linearGradient id="q195" gradientUnits="userSpaceOnUse" x1="56.4" y1="209.2" x2="72.2" y2="214.2"><stop offset="0" stop-color="#910000"/><stop offset="1" stop-color="#9f0000"/></linearGradient><linearGradient id="q196" gradientUnits="userSpaceOnUse" x1="55.6" y1="209.0" x2="71.4" y2="214.3"><stop offset="0" stop-color="#900000"/><stop offset="1" stop-color="#9f0000"/></linearGradient><linearGradient id="q197" gradientUnits="userSpaceOnUse" x1="54.6" y1="208.9" x2="70.4" y2="214.5"><stop offset="0" stop-color="#8e0000"/><stop offset="1" stop-color="#9f0000"/></linearGradient><linearGradient id="q198" gradientUnits="userSpaceOnUse" x1="54.1" y1="208.8" x2="69.8" y2="214.6"><stop offset="0" stop-color="#8c0000"/><stop offset="1" stop-color="#9f0000"/></linearGradient><linearGradient id="q199" gradientUnits="userSpaceOnUse" x1="53.6" y1="208.7" x2="69.3" y2="214.7"><stop offset="0" stop-color="#8b0000"/><stop offset="1" stop-color="#9f0000"/></linearGradient><linearGradient id="q200" gradientUnits="userSpaceOnUse" x1="53.3" y1="208.7" x2="69.1" y2="214.8"><stop offset="0" stop-color="#8b0000"/><stop offset="1" stop-color="#9f0000"/></linearGradient><linearGradient id="q201" gradientUnits="userSpaceOnUse" x1="53.2" y1="208.6" x2="69.0" y2="214.8"><stop offset="0" stop-color="#8b0000"/><stop offset="1" stop-color="#9f0000"/></linearGradient><linearGradient id="q202" gradientUnits="userSpaceOnUse" x1="53.0" y1="208.6" x2="68.8" y2="214.9"><stop offset="0" stop-color="#8a0000"/><stop offset="1" stop-color="#9f0000"/></linearGradient><linearGradient id="q203" gradientUnits="userSpaceOnUse" x1="52.7" y1="208.5" x2="68.5" y2="214.9"><stop offset="0" stop-color="#8a0000"/><stop offset="1" stop-color="#9f0000"/></linearGradient><linearGradient id="q204" gradientUnits="userSpaceOnUse" x1="52.2" y1="208.5" x2="68.0" y2="214.9"><stop offset="0" stop-color="#890000"/><stop offset="1" stop-color="#9e0000"/></linearGradient><linearGradient id="q205" gradientUnits="userSpaceOnUse" x1="51.8" y1="208.4" x2="67.6" y2="214.9"><stop offset="0" stop-color="#880000"/><stop offset="1" stop-color="#9e0000"/></linearGradient><linearGradient id="q206" gradientUnits="userSpaceOnUse" x1="50.9" y1="208.3" x2="66.8" y2="214.8"><stop offset="0" stop-color="#870000"/><stop offset="1" stop-color="#9c0000"/></linearGradient><linearGradient id="q207" gradientUnits="userSpaceOnUse" x1="49.3" y1="208.2" x2="65.2" y2="214.5"><stop offset="0" stop-color="#850000"/><stop offset="1" stop-color="#990000"/></linearGradient><linearGradient id="q208" gradientUnits="userSpaceOnUse" x1="47.7" y1="208.3" x2="63.6" y2="214.3"><stop offset="0" stop-color="#830000"/><stop offset="1" stop-color="#960000"/></linearGradient><linearGradient id="q209" gradientUnits="userSpaceOnUse" x1="46.1" y1="208.4" x2="62.0" y2="214.1"><stop offset="0" stop-color="#820000"/><stop offset="1" stop-color="#930000"/></linearGradient><linearGradient id="q210" gradientUnits="userSpaceOnUse" x1="44.5" y1="208.4" x2="60.3" y2="213.9"><stop offset="0" stop-color="#810000"/><stop offset="1" stop-color="#910000"/></linearGradient><linearGradient id="q211" gradientUnits="userSpaceOnUse" x1="42.9" y1="208.5" x2="58.7" y2="213.7"><stop offset="0" stop-color="#800000"/><stop offset="1" stop-color="#8e0000"/></linearGradient><linearGradient id="q212" gradientUnits="userSpaceOnUse" x1="41.2" y1="208.6" x2="57.1" y2="213.5"><stop offset="0" stop-color="#7f0000"/><stop offset="1" stop-color="#8b0000"/></linearGradient><linearGradient id="q213" gradientUnits="userSpaceOnUse" x1="39.6" y1="208.6" x2="55.4" y2="213.4"><stop offset="0" stop-color="#7d0000"/><stop offset="1" stop-color="#890000"/></linearGradient><linearGradient id="q214" gradientUnits="userSpaceOnUse" x1="37.9" y1="208.7" x2="53.8" y2="213.2"><stop offset="0" stop-color="#7c0000"/><stop offset="1" stop-color="#860000"/></linearGradient><linearGradient id="q215" gradientUnits="userSpaceOnUse" x1="36.3" y1="208.8" x2="52.1" y2="213.0"><stop offset="0" stop-color="#7b0000"/><stop offset="1" stop-color="#840000"/></linearGradient><linearGradient id="q216" gradientUnits="userSpaceOnUse" x1="135.9" y1="202.0" x2="151.8" y2="207.4"><stop offset="0" stop-color="#a10000"/><stop offset="0.061" stop-color="#a20000"/><stop offset="1" stop-color="#b50000"/></linearGradient><linearGradient id="q217" gradientUnits="userSpaceOnUse" x1="134.7" y1="202.4" x2="150.6" y2="207.6"><stop offset="0" stop-color="#a10000"/><stop offset="0.026" stop-color="#a20000"/><stop offset="1" stop-color="#b40000"/></linearGradient><linearGradient id="q218" gradientUnits="userSpaceOnUse" x1="133.5" y1="202.7" x2="149.4" y2="207.8"><stop offset="0" stop-color="#a20000"/><stop offset="1" stop-color="#b40000"/></linearGradient><linearGradient id="q219" gradientUnits="userSpaceOnUse" x1="132.3" y1="203.1" x2="148.2" y2="208.0"><stop offset="0" stop-color="#a30000"/><stop offset="1" stop-color="#b40000"/></linearGradient><linearGradient id="q220" gradientUnits="userSpaceOnUse" x1="131.0" y1="203.4" x2="147.0" y2="208.2"><stop offset="0" stop-color="#a40000"/><stop offset="1" stop-color="#b30000"/></linearGradient><linearGradient id="q221" gradientUnits="userSpaceOnUse" x1="129.8" y1="203.8" x2="145.8" y2="208.4"><stop offset="0" stop-color="#a40000"/><stop offset="1" stop-color="#b30000"/></linearGradient><linearGradient id="q222" gradientUnits="userSpaceOnUse" x1="128.5" y1="204.2" x2="144.5" y2="208.7"><stop offset="0" stop-color="#a50000"/><stop offset="1" stop-color="#b30000"/></linearGradient><linearGradient id="q223" gradientUnits="userSpaceOnUse" x1="127.3" y1="204.5" x2="143.3" y2="208.9"><stop offset="0" stop-color="#a60000"/><stop offset="1" stop-color="#b20000"/></linearGradient><linearGradient id="q224" gradientUnits="userSpaceOnUse" x1="126.0" y1="204.9" x2="142.1" y2="209.1"><stop offset="0" stop-color="#a70000"/><stop offset="1" stop-color="#b20000"/></linearGradient><linearGradient id="q225" gradientUnits="userSpaceOnUse" x1="124.8" y1="205.3" x2="140.8" y2="209.3"><stop offset="0" stop-color="#a70000"/><stop offset="1" stop-color="#b20000"/></linearGradient><linearGradient id="q226" gradientUnits="userSpaceOnUse" x1="123.5" y1="205.7" x2="139.5" y2="209.5"><stop offset="0" stop-color="#a80000"/><stop offset="1" stop-color="#b10000"/></linearGradient><linearGradient id="q227" gradientUnits="userSpaceOnUse" x1="122.2" y1="206.0" x2="138.3" y2="209.7"><stop offset="0" stop-color="#a90000"/><stop offset="1" stop-color="#b10000"/></linearGradient><linearGradient id="q228" gradientUnits="userSpaceOnUse" x1="113.0" y1="210.4" x2="129.2" y2="211.3"><stop offset="0" stop-color="#b80000"/><stop offset="1" stop-color="#af0000"/></linearGradient><linearGradient id="q229" gradientUnits="userSpaceOnUse" x1="111.8" y1="211.6" x2="127.9" y2="211.5"><stop offset="0" stop-color="#be0000"/><stop offset="1" stop-color="#af0000"/></linearGradient><linearGradient id="q230" gradientUnits="userSpaceOnUse" x1="110.4" y1="213.0" x2="126.6" y2="211.7"><stop offset="0" stop-color="#c50000"/><stop offset="1" stop-color="#ae0000"/></linearGradient><linearGradient id="q231" gradientUnits="userSpaceOnUse" x1="109.1" y1="214.4" x2="125.3" y2="212.0"><stop offset="0" stop-color="#cc0000"/><stop offset="1" stop-color="#ae0000"/></linearGradient><linearGradient id="q232" gradientUnits="userSpaceOnUse" x1="107.7" y1="215.9" x2="123.9" y2="212.2"><stop offset="0" stop-color="#d40000"/><stop offset="0.117" stop-color="#cf0000"/><stop offset="1" stop-color="#ae0000"/></linearGradient><linearGradient id="q233" gradientUnits="userSpaceOnUse" x1="106.4" y1="217.5" x2="122.6" y2="212.4"><stop offset="0" stop-color="#dc0000"/><stop offset="0.269" stop-color="#cf0000"/><stop offset="1" stop-color="#ad0000"/></linearGradient><linearGradient id="q234" gradientUnits="userSpaceOnUse" x1="105.0" y1="219.2" x2="121.2" y2="212.7"><stop offset="0" stop-color="#e30000"/><stop offset="0.38" stop-color="#cf0000"/><stop offset="1" stop-color="#ad0000"/></linearGradient><linearGradient id="q235" gradientUnits="userSpaceOnUse" x1="103.7" y1="221.0" x2="119.9" y2="213.5"><stop offset="0" stop-color="#eb0000"/><stop offset="0.49" stop-color="#cf0000"/><stop offset="1" stop-color="#b00000"/></linearGradient><linearGradient id="q236" gradientUnits="userSpaceOnUse" x1="102.3" y1="222.8" x2="118.5" y2="214.9"><stop offset="0" stop-color="#f30000"/><stop offset="0.619" stop-color="#cf0000"/><stop offset="1" stop-color="#b70000"/></linearGradient><linearGradient id="q237" gradientUnits="userSpaceOnUse" x1="101.2" y1="224.4" x2="117.4" y2="216.1"><stop offset="0" stop-color="#fa0000"/><stop offset="0.056" stop-color="#f70000"/><stop offset="0.723" stop-color="#cf0000"/><stop offset="1" stop-color="#bd0000"/></linearGradient><linearGradient id="q238" gradientUnits="userSpaceOnUse" x1="100.5" y1="225.5" x2="116.7" y2="216.9"><stop offset="0" stop-color="#fe0000"/><stop offset="0.133" stop-color="#f70000"/><stop offset="0.785" stop-color="#cf0000"/><stop offset="1" stop-color="#c10000"/></linearGradient><linearGradient id="q239" gradientUnits="userSpaceOnUse" x1="100.2" y1="225.9" x2="116.4" y2="217.2"><stop offset="0" stop-color="#ff0000"/><stop offset="0.164" stop-color="#f70000"/><stop offset="0.809" stop-color="#cf0000"/><stop offset="1" stop-color="#c20000"/></linearGradient><linearGradient id="q240" gradientUnits="userSpaceOnUse" x1="100.0" y1="226.2" x2="116.2" y2="217.5"><stop offset="0" stop-color="#ff0000"/><stop offset="0.185" stop-color="#f70000"/><stop offset="0.826" stop-color="#cf0000"/><stop offset="1" stop-color="#c30000"/></linearGradient><linearGradient id="q241" gradientUnits="userSpaceOnUse" x1="99.7" y1="226.6" x2="115.9" y2="217.8"><stop offset="0" stop-color="#ff0000"/><stop offset="0.216" stop-color="#f70000"/><stop offset="0.85" stop-color="#cf0000"/><stop offset="1" stop-color="#c50000"/></linearGradient><linearGradient id="q242" gradientUnits="userSpaceOnUse" x1="99.5" y1="227.0" x2="115.7" y2="218.1"><stop offset="0" stop-color="#ff0100"/><stop offset="0.241" stop-color="#f70000"/><stop offset="0.869" stop-color="#cf0000"/><stop offset="1" stop-color="#c60000"/></linearGradient><linearGradient id="q243" gradientUnits="userSpaceOnUse" x1="99.2" y1="227.4" x2="115.4" y2="218.4"><stop offset="0" stop-color="#ff0100"/><stop offset="0.271" stop-color="#f70000"/><stop offset="0.894" stop-color="#cf0000"/><stop offset="1" stop-color="#c80000"/></linearGradient><linearGradient id="q244" gradientUnits="userSpaceOnUse" x1="99.0" y1="227.9" x2="115.1" y2="218.7"><stop offset="0" stop-color="#ff0100"/><stop offset="0.302" stop-color="#f70000"/><stop offset="0.918" stop-color="#cf0000"/><stop offset="1" stop-color="#c90000"/></linearGradient><linearGradient id="q245" gradientUnits="userSpaceOnUse" x1="98.7" y1="228.3" x2="114.9" y2="219.1"><stop offset="0" stop-color="#ff0100"/><stop offset="0.332" stop-color="#f70000"/><stop offset="0.942" stop-color="#cf0000"/><stop offset="1" stop-color="#cb0000"/></linearGradient><linearGradient id="q246" gradientUnits="userSpaceOnUse" x1="98.0" y1="229.8" x2="114.2" y2="220.0"><stop offset="0" stop-color="#ff0200"/><stop offset="0.419" stop-color="#f70000"/><stop offset="1" stop-color="#cf0000"/></linearGradient><linearGradient id="q247" gradientUnits="userSpaceOnUse" x1="96.8" y1="232.7" x2="112.9" y2="221.6"><stop offset="0" stop-color="#ff0300"/><stop offset="0.159" stop-color="#ff0200"/><stop offset="0.569" stop-color="#f70000"/><stop offset="1" stop-color="#d70000"/></linearGradient><linearGradient id="q248" gradientUnits="userSpaceOnUse" x1="95.4" y1="236.5" x2="111.5" y2="223.5"><stop offset="0" stop-color="#ff0500"/><stop offset="0.361" stop-color="#ff0200"/><stop offset="0.72" stop-color="#f70000"/><stop offset="1" stop-color="#e10000"/></linearGradient><linearGradient id="q249" gradientUnits="userSpaceOnUse" x1="94.0" y1="240.9" x2="110.1" y2="225.5"><stop offset="0" stop-color="#ff0700"/><stop offset="0.538" stop-color="#ff0200"/><stop offset="0.85" stop-color="#f70000"/><stop offset="1" stop-color="#e90000"/></linearGradient><linearGradient id="q250" gradientUnits="userSpaceOnUse" x1="92.7" y1="248.3" x2="108.7" y2="227.7"><stop offset="0" stop-color="#ff2900"/><stop offset="0.087" stop-color="#ff1b00"/><stop offset="0.719" stop-color="#ff0200"/><stop offset="0.961" stop-color="#f70000"/><stop offset="1" stop-color="#f20000"/></linearGradient><linearGradient id="q251" gradientUnits="userSpaceOnUse" x1="91.4" y1="261.0" x2="107.4" y2="229.9"><stop offset="0" stop-color="#ff9900"/><stop offset="0.046" stop-color="#ff8c00"/><stop offset="0.204" stop-color="#ff5600"/><stop offset="0.425" stop-color="#ff1b00"/><stop offset="0.86" stop-color="#ff0200"/><stop offset="1" stop-color="#fb0000"/></linearGradient><linearGradient id="q252" gradientUnits="userSpaceOnUse" x1="90.8" y1="270.1" x2="106.7" y2="231.1"><stop offset="0" stop-color="#ffe300"/><stop offset="0.073" stop-color="#ffc800"/><stop offset="0.252" stop-color="#ff8d00"/><stop offset="0.38" stop-color="#ff5700"/><stop offset="0.559" stop-color="#ff1b00"/><stop offset="0.911" stop-color="#ff0200"/><stop offset="1" stop-color="#ff0000"/></linearGradient><linearGradient id="q253" gradientUnits="userSpaceOnUse" x1="90.6" y1="276.2" x2="106.4" y2="231.7"><stop offset="0" stop-color="#eaff00"/><stop offset="0.053" stop-color="#fcff00"/><stop offset="0.194" stop-color="#ffc800"/><stop offset="0.351" stop-color="#ff8d00"/><stop offset="0.464" stop-color="#ff5600"/><stop offset="0.621" stop-color="#ff1b00"/><stop offset="0.931" stop-color="#ff0200"/><stop offset="1" stop-color="#ff0000"/></linearGradient><linearGradient id="q254" gradientUnits="userSpaceOnUse" x1="90.3" y1="287.0" x2="106.0" y2="232.3"><stop offset="0" stop-color="#93ff00"/><stop offset="0.024" stop-color="#a5ff00"/><stop offset="0.232" stop-color="#fcff00"/><stop offset="0.348" stop-color="#ffc800"/><stop offset="0.477" stop-color="#ff8c00"/><stop offset="0.569" stop-color="#ff5700"/><stop offset="0.699" stop-color="#ff1a00"/><stop offset="0.953" stop-color="#ff0200"/><stop offset="1" stop-color="#ff0100"/></linearGradient><linearGradient id="q255" gradientUnits="userSpaceOnUse" x1="90.1" y1="300.5" x2="105.7" y2="232.9"><stop offset="0" stop-color="#00ff6d"/><stop offset="0.1" stop-color="#1aff00"/><stop offset="0.213" stop-color="#a5ff00"/><stop offset="0.382" stop-color="#fdff00"/><stop offset="0.476" stop-color="#ffc800"/><stop offset="0.581" stop-color="#ff8c00"/><stop offset="0.656" stop-color="#ff5700"/><stop offset="0.761" stop-color="#ff1b00"/><stop offset="0.968" stop-color="#ff0200"/><stop offset="1" stop-color="#ff0100"/></linearGradient><linearGradient id="q256" gradientUnits="userSpaceOnUse" x1="89.9" y1="300.4" x2="105.5" y2="233.3"><stop offset="0" stop-color="#00ff6a"/><stop offset="0.099" stop-color="#1aff00"/><stop offset="0.212" stop-color="#a5ff00"/><stop offset="0.382" stop-color="#fcff00"/><stop offset="0.477" stop-color="#ffc800"/><stop offset="0.583" stop-color="#ff8c00"/><stop offset="0.659" stop-color="#ff5600"/><stop offset="0.765" stop-color="#ff1a00"/><stop offset="0.973" stop-color="#ff0200"/><stop offset="1" stop-color="#ff0100"/></linearGradient><linearGradient id="q257" gradientUnits="userSpaceOnUse" x1="89.6" y1="288.7" x2="105.3" y2="233.7"><stop offset="0" stop-color="#79ff00"/><stop offset="0.048" stop-color="#a5ff00"/><stop offset="0.255" stop-color="#fcff00"/><stop offset="0.37" stop-color="#ffc800"/><stop offset="0.499" stop-color="#ff8d00"/><stop offset="0.591" stop-color="#ff5700"/><stop offset="0.72" stop-color="#ff1b00"/><stop offset="0.973" stop-color="#ff0200"/><stop offset="1" stop-color="#ff0100"/></linearGradient><linearGradient id="q258" gradientUnits="userSpaceOnUse" x1="89.4" y1="282.6" x2="105.1" y2="234.1"><stop offset="0" stop-color="#beff00"/><stop offset="0.166" stop-color="#fdff00"/><stop offset="0.295" stop-color="#ffc800"/><stop offset="0.441" stop-color="#ff8c00"/><stop offset="0.544" stop-color="#ff5700"/><stop offset="0.69" stop-color="#ff1a00"/><stop offset="0.975" stop-color="#ff0200"/><stop offset="1" stop-color="#ff0100"/></linearGradient><linearGradient id="q259" gradientUnits="userSpaceOnUse" x1="88.9" y1="274.9" x2="104.8" y2="235.0"><stop offset="0" stop-color="#f8ff00"/><stop offset="0.015" stop-color="#fcff00"/><stop offset="0.171" stop-color="#ffc800"/><stop offset="0.346" stop-color="#ff8c00"/><stop offset="0.471" stop-color="#ff5600"/><stop offset="0.646" stop-color="#ff1a00"/><stop offset="0.989" stop-color="#ff0200"/><stop offset="1" stop-color="#ff0200"/></linearGradient><linearGradient id="q260" gradientUnits="userSpaceOnUse" x1="88.2" y1="264.1" x2="104.1" y2="237.0"><stop offset="0" stop-color="#ffa900"/><stop offset="0.123" stop-color="#ff8d00"/><stop offset="0.302" stop-color="#ff5700"/><stop offset="0.552" stop-color="#ff1b00"/><stop offset="1" stop-color="#ff0300"/></linearGradient><linearGradient id="q261" gradientUnits="userSpaceOnUse" x1="87.0" y1="253.4" x2="103.0" y2="240.9"><stop offset="0" stop-color="#ff4200"/><stop offset="0.36" stop-color="#ff1b00"/><stop offset="1" stop-color="#ff0400"/></linearGradient><linearGradient id="q262" gradientUnits="userSpaceOnUse" x1="85.4" y1="242.3" x2="101.6" y2="247.3"><stop offset="0" stop-color="#ff0600"/><stop offset="1" stop-color="#ff0700"/></linearGradient><linearGradient id="q263" gradientUnits="userSpaceOnUse" x1="83.9" y1="234.1" x2="100.3" y2="260.6"><stop offset="0" stop-color="#ff0200"/><stop offset="0.63" stop-color="#ff1b00"/><stop offset="0.963" stop-color="#ff5600"/><stop offset="1" stop-color="#ff6000"/></linearGradient><linearGradient id="q264" gradientUnits="userSpaceOnUse" x1="83.1" y1="230.9" x2="99.7" y2="271.4"><stop offset="0" stop-color="#ff0100"/><stop offset="0.076" stop-color="#ff0200"/><stop offset="0.484" stop-color="#ff1b00"/><stop offset="0.691" stop-color="#ff5600"/><stop offset="0.84" stop-color="#ff8c00"/><stop offset="1" stop-color="#ffba00"/></linearGradient><linearGradient id="q265" gradientUnits="userSpaceOnUse" x1="82.8" y1="230.2" x2="99.4" y2="277.7"><stop offset="0" stop-color="#ff0000"/><stop offset="0.082" stop-color="#ff0200"/><stop offset="0.425" stop-color="#ff1b00"/><stop offset="0.599" stop-color="#ff5600"/><stop offset="0.724" stop-color="#ff8c00"/><stop offset="0.898" stop-color="#ffc800"/><stop offset="1" stop-color="#ffee00"/></linearGradient><linearGradient id="q266" gradientUnits="userSpaceOnUse" x1="82.4" y1="229.2" x2="99.1" y2="289.0"><stop offset="0" stop-color="#fc0000"/><stop offset="0.082" stop-color="#ff0200"/><stop offset="0.35" stop-color="#ff1a00"/><stop offset="0.487" stop-color="#ff5700"/><stop offset="0.584" stop-color="#ff8c00"/><stop offset="0.72" stop-color="#ffc800"/><stop offset="0.842" stop-color="#fdff00"/><stop offset="1" stop-color="#beff00"/></linearGradient><linearGradient id="q267" gradientUnits="userSpaceOnUse" x1="82.1" y1="228.5" x2="98.9" y2="302.6"><stop offset="0" stop-color="#f90000"/><stop offset="0.076" stop-color="#ff0200"/><stop offset="0.289" stop-color="#ff1b00"/><stop offset="0.397" stop-color="#ff5600"/><stop offset="0.475" stop-color="#ff8d00"/><stop offset="0.583" stop-color="#ffc800"/><stop offset="0.68" stop-color="#fcff00"/><stop offset="0.854" stop-color="#a5ff00"/><stop offset="0.97" stop-color="#1aff00"/><stop offset="1" stop-color="#00ff0c"/></linearGradient><linearGradient id="q268" gradientUnits="userSpaceOnUse" x1="81.9" y1="228.0" x2="98.6" y2="302.9"><stop offset="0" stop-color="#f60000"/><stop offset="0.003" stop-color="#f70000"/><stop offset="0.083" stop-color="#ff0200"/><stop offset="0.294" stop-color="#ff1b00"/><stop offset="0.401" stop-color="#ff5600"/><stop offset="0.478" stop-color="#ff8d00"/><stop offset="0.585" stop-color="#ffc800"/><stop offset="0.681" stop-color="#fcff00"/><stop offset="0.853" stop-color="#a5ff00"/><stop offset="0.968" stop-color="#1aff00"/><stop offset="1" stop-color="#00ff10"/></linearGradient><linearGradient id="q269" gradientUnits="userSpaceOnUse" x1="81.6" y1="227.5" x2="98.4" y2="291.9"><stop offset="0" stop-color="#f30000"/><stop offset="0.012" stop-color="#f70000"/><stop offset="0.107" stop-color="#ff0200"/><stop offset="0.355" stop-color="#ff1b00"/><stop offset="0.481" stop-color="#ff5700"/><stop offset="0.571" stop-color="#ff8c00"/><stop offset="0.697" stop-color="#ffc800"/><stop offset="0.81" stop-color="#fcff00"/><stop offset="1" stop-color="#abff00"/></linearGradient><linearGradient id="q270" gradientUnits="userSpaceOnUse" x1="81.5" y1="227.1" x2="98.1" y2="285.8"><stop offset="0" stop-color="#f10000"/><stop offset="0.021" stop-color="#f70000"/><stop offset="0.125" stop-color="#ff0200"/><stop offset="0.4" stop-color="#ff1b00"/><stop offset="0.539" stop-color="#ff5600"/><stop offset="0.639" stop-color="#ff8c00"/><stop offset="0.778" stop-color="#ffc800"/><stop offset="0.903" stop-color="#fcff00"/><stop offset="1" stop-color="#d7ff00"/></linearGradient><linearGradient id="q271" gradientUnits="userSpaceOnUse" x1="81.1" y1="226.4" x2="97.7" y2="277.6"><stop offset="0" stop-color="#ed0000"/><stop offset="0.042" stop-color="#f70000"/><stop offset="0.163" stop-color="#ff0200"/><stop offset="0.481" stop-color="#ff1b00"/><stop offset="0.642" stop-color="#ff5600"/><stop offset="0.758" stop-color="#ff8c00"/><stop offset="0.92" stop-color="#ffc800"/><stop offset="1" stop-color="#ffe800"/></linearGradient><linearGradient id="q272" gradientUnits="userSpaceOnUse" x1="80.4" y1="225.0" x2="97.0" y2="266.1"><stop offset="0" stop-color="#e60000"/><stop offset="0.092" stop-color="#f70000"/><stop offset="0.246" stop-color="#ff0200"/><stop offset="0.65" stop-color="#ff1b00"/><stop offset="0.856" stop-color="#ff5700"/><stop offset="1" stop-color="#ff8c00"/></linearGradient><linearGradient id="q273" gradientUnits="userSpaceOnUse" x1="79.2" y1="223.1" x2="95.8" y2="253.9"><stop offset="0" stop-color="#da0000"/><stop offset="0.207" stop-color="#f70000"/><stop offset="0.419" stop-color="#ff0200"/><stop offset="0.975" stop-color="#ff1a00"/><stop offset="1" stop-color="#ff1f00"/></linearGradient><linearGradient id="q274" gradientUnits="userSpaceOnUse" x1="78.3" y1="221.5" x2="94.8" y2="246.1"><stop offset="0" stop-color="#d00000"/><stop offset="0.349" stop-color="#f70000"/><stop offset="0.623" stop-color="#ff0200"/><stop offset="1" stop-color="#ff0600"/></linearGradient><linearGradient id="q275" gradientUnits="userSpaceOnUse" x1="77.8" y1="220.8" x2="94.3" y2="243.9"><stop offset="0" stop-color="#cb0000"/><stop offset="0.038" stop-color="#cf0000"/><stop offset="0.416" stop-color="#f70000"/><stop offset="0.71" stop-color="#ff0200"/><stop offset="1" stop-color="#ff0500"/></linearGradient><linearGradient id="q276" gradientUnits="userSpaceOnUse" x1="77.3" y1="220.0" x2="93.8" y2="241.9"><stop offset="0" stop-color="#c60000"/><stop offset="0.085" stop-color="#cf0000"/><stop offset="0.49" stop-color="#f70000"/><stop offset="0.805" stop-color="#ff0200"/><stop offset="1" stop-color="#ff0400"/></linearGradient><linearGradient id="q277" gradientUnits="userSpaceOnUse" x1="77.0" y1="219.6" x2="93.6" y2="240.8"><stop offset="0" stop-color="#c30000"/><stop offset="0.114" stop-color="#cf0000"/><stop offset="0.535" stop-color="#f70000"/><stop offset="0.862" stop-color="#ff0200"/><stop offset="1" stop-color="#ff0300"/></linearGradient><linearGradient id="q278" gradientUnits="userSpaceOnUse" x1="76.9" y1="219.5" x2="93.4" y2="240.3"><stop offset="0" stop-color="#c20000"/><stop offset="0.127" stop-color="#cf0000"/><stop offset="0.555" stop-color="#f70000"/><stop offset="0.888" stop-color="#ff0200"/><stop offset="1" stop-color="#ff0300"/></linearGradient><linearGradient id="q279" gradientUnits="userSpaceOnUse" x1="76.7" y1="219.3" x2="93.3" y2="239.8"><stop offset="0" stop-color="#c10000"/><stop offset="0.143" stop-color="#cf0000"/><stop offset="0.579" stop-color="#f70000"/><stop offset="0.918" stop-color="#ff0200"/><stop offset="1" stop-color="#ff0300"/></linearGradient><linearGradient id="q280" gradientUnits="userSpaceOnUse" x1="76.4" y1="218.8" x2="93.0" y2="238.7"><stop offset="0" stop-color="#be0000"/><stop offset="0.177" stop-color="#cf0000"/><stop offset="0.631" stop-color="#f70000"/><stop offset="0.983" stop-color="#ff0200"/><stop offset="1" stop-color="#ff0200"/></linearGradient><linearGradient id="q281" gradientUnits="userSpaceOnUse" x1="75.9" y1="218.2" x2="92.5" y2="237.0"><stop offset="0" stop-color="#ba0000"/><stop offset="0.236" stop-color="#cf0000"/><stop offset="0.718" stop-color="#f70000"/><stop offset="1" stop-color="#ff0100"/></linearGradient><linearGradient id="q282" gradientUnits="userSpaceOnUse" x1="75.5" y1="217.6" x2="92.0" y2="235.6"><stop offset="0" stop-color="#b60000"/><stop offset="0.293" stop-color="#cf0000"/><stop offset="0.803" stop-color="#f70000"/><stop offset="1" stop-color="#ff0100"/></linearGradient><linearGradient id="q283" gradientUnits="userSpaceOnUse" x1="75.0" y1="217.0" x2="91.5" y2="234.1"><stop offset="0" stop-color="#b10000"/><stop offset="0.364" stop-color="#cf0000"/><stop offset="0.905" stop-color="#f70000"/><stop offset="1" stop-color="#fd0000"/></linearGradient><linearGradient id="q284" gradientUnits="userSpaceOnUse" x1="74.3" y1="216.2" x2="90.8" y2="232.2"><stop offset="0" stop-color="#ac0000"/><stop offset="0.469" stop-color="#cf0000"/><stop offset="1" stop-color="#f30000"/></linearGradient><linearGradient id="q285" gradientUnits="userSpaceOnUse" x1="73.9" y1="215.7" x2="90.4" y2="231.1"><stop offset="0" stop-color="#a90000"/><stop offset="0.533" stop-color="#cf0000"/><stop offset="1" stop-color="#ee0000"/></linearGradient><linearGradient id="q286" gradientUnits="userSpaceOnUse" x1="73.7" y1="215.5" x2="90.3" y2="230.7"><stop offset="0" stop-color="#a80000"/><stop offset="0.565" stop-color="#cf0000"/><stop offset="1" stop-color="#eb0000"/></linearGradient><linearGradient id="q287" gradientUnits="userSpaceOnUse" x1="73.5" y1="215.3" x2="90.0" y2="230.1"><stop offset="0" stop-color="#a60000"/><stop offset="0.605" stop-color="#cf0000"/><stop offset="1" stop-color="#e90000"/></linearGradient><linearGradient id="q288" gradientUnits="userSpaceOnUse" x1="73.2" y1="215.0" x2="89.8" y2="229.5"><stop offset="0" stop-color="#a40000"/><stop offset="0.649" stop-color="#cf0000"/><stop offset="1" stop-color="#e50000"/></linearGradient><linearGradient id="q289" gradientUnits="userSpaceOnUse" x1="72.9" y1="214.6" x2="89.5" y2="228.8"><stop offset="0" stop-color="#a20000"/><stop offset="0.706" stop-color="#cf0000"/><stop offset="1" stop-color="#e20000"/></linearGradient><linearGradient id="q290" gradientUnits="userSpaceOnUse" x1="72.5" y1="214.3" x2="89.0" y2="227.9"><stop offset="0" stop-color="#a00000"/><stop offset="0.037" stop-color="#a20000"/><stop offset="0.785" stop-color="#cf0000"/><stop offset="1" stop-color="#dc0000"/></linearGradient><linearGradient id="q291" gradientUnits="userSpaceOnUse" x1="72.2" y1="214.2" x2="88.7" y2="227.2"><stop offset="0" stop-color="#9f0000"/><stop offset="0.056" stop-color="#a20000"/><stop offset="0.846" stop-color="#cf0000"/><stop offset="1" stop-color="#d80000"/></linearGradient><linearGradient id="q292" gradientUnits="userSpaceOnUse" x1="71.4" y1="214.3" x2="87.9" y2="225.7"><stop offset="0" stop-color="#9f0000"/><stop offset="0.068" stop-color="#a20000"/><stop offset="1" stop-color="#ce0000"/></linearGradient><linearGradient id="q293" gradientUnits="userSpaceOnUse" x1="70.4" y1="214.5" x2="87.0" y2="223.8"><stop offset="0" stop-color="#9f0000"/><stop offset="0.089" stop-color="#a20000"/><stop offset="1" stop-color="#c30000"/></linearGradient><linearGradient id="q294" gradientUnits="userSpaceOnUse" x1="69.8" y1="214.6" x2="86.4" y2="222.8"><stop offset="0" stop-color="#9f0000"/><stop offset="0.108" stop-color="#a20000"/><stop offset="1" stop-color="#bc0000"/></linearGradient><linearGradient id="q295" gradientUnits="userSpaceOnUse" x1="69.3" y1="214.7" x2="85.9" y2="222.0"><stop offset="0" stop-color="#9f0000"/><stop offset="0.13" stop-color="#a20000"/><stop offset="1" stop-color="#b70000"/></linearGradient><linearGradient id="q296" gradientUnits="userSpaceOnUse" x1="69.1" y1="214.8" x2="85.7" y2="221.6"><stop offset="0" stop-color="#9f0000"/><stop offset="0.142" stop-color="#a20000"/><stop offset="1" stop-color="#b50000"/></linearGradient><linearGradient id="q297" gradientUnits="userSpaceOnUse" x1="69.0" y1="214.8" x2="85.5" y2="221.4"><stop offset="0" stop-color="#9f0000"/><stop offset="0.151" stop-color="#a20000"/><stop offset="1" stop-color="#b40000"/></linearGradient><linearGradient id="q298" gradientUnits="userSpaceOnUse" x1="68.8" y1="214.9" x2="85.3" y2="221.1"><stop offset="0" stop-color="#9f0000"/><stop offset="0.169" stop-color="#a20000"/><stop offset="1" stop-color="#b10000"/></linearGradient><linearGradient id="q299" gradientUnits="userSpaceOnUse" x1="68.5" y1="214.9" x2="85.0" y2="220.6"><stop offset="0" stop-color="#9f0000"/><stop offset="0.201" stop-color="#a20000"/><stop offset="1" stop-color="#ae0000"/></linearGradient><linearGradient id="q300" gradientUnits="userSpaceOnUse" x1="68.0" y1="214.9" x2="84.5" y2="219.8"><stop offset="0" stop-color="#9e0000"/><stop offset="0.316" stop-color="#a20000"/><stop offset="1" stop-color="#aa0000"/></linearGradient><linearGradient id="q301" gradientUnits="userSpaceOnUse" x1="67.6" y1="214.9" x2="84.1" y2="219.3"><stop offset="0" stop-color="#9e0000"/><stop offset="0.479" stop-color="#a20000"/><stop offset="1" stop-color="#a70000"/></linearGradient><linearGradient id="q302" gradientUnits="userSpaceOnUse" x1="63.6" y1="214.3" x2="80.1" y2="218.7"><stop offset="0" stop-color="#960000"/><stop offset="1" stop-color="#9f0000"/></linearGradient><linearGradient id="q303" gradientUnits="userSpaceOnUse" x1="62.0" y1="214.1" x2="78.5" y2="218.9"><stop offset="0" stop-color="#930000"/><stop offset="1" stop-color="#9e0000"/></linearGradient><linearGradient id="q304" gradientUnits="userSpaceOnUse" x1="60.3" y1="213.9" x2="76.9" y2="218.9"><stop offset="0" stop-color="#910000"/><stop offset="1" stop-color="#9c0000"/></linearGradient><linearGradient id="q305" gradientUnits="userSpaceOnUse" x1="58.7" y1="213.7" x2="75.3" y2="218.6"><stop offset="0" stop-color="#8e0000"/><stop offset="1" stop-color="#990000"/></linearGradient><linearGradient id="q306" gradientUnits="userSpaceOnUse" x1="57.1" y1="213.5" x2="73.7" y2="218.4"><stop offset="0" stop-color="#8b0000"/><stop offset="1" stop-color="#960000"/></linearGradient><linearGradient id="q307" gradientUnits="userSpaceOnUse" x1="55.4" y1="213.4" x2="72.0" y2="218.1"><stop offset="0" stop-color="#890000"/><stop offset="1" stop-color="#930000"/></linearGradient><linearGradient id="q308" gradientUnits="userSpaceOnUse" x1="53.8" y1="213.2" x2="70.4" y2="217.9"><stop offset="0" stop-color="#860000"/><stop offset="1" stop-color="#900000"/></linearGradient><linearGradient id="q309" gradientUnits="userSpaceOnUse" x1="52.1" y1="213.0" x2="68.7" y2="217.7"><stop offset="0" stop-color="#840000"/><stop offset="1" stop-color="#8d0000"/></linearGradient><linearGradient id="q310" gradientUnits="userSpaceOnUse" x1="151.8" y1="207.4" x2="168.3" y2="215.9"><stop offset="0" stop-color="#b50000"/><stop offset="0.688" stop-color="#cf0000"/><stop offset="1" stop-color="#db0000"/></linearGradient><linearGradient id="q311" gradientUnits="userSpaceOnUse" x1="150.6" y1="207.6" x2="167.2" y2="215.3"><stop offset="0" stop-color="#b40000"/><stop offset="0.804" stop-color="#cf0000"/><stop offset="1" stop-color="#d60000"/></linearGradient><linearGradient id="q312" gradientUnits="userSpaceOnUse" x1="149.4" y1="207.8" x2="166.0" y2="214.7"><stop offset="0" stop-color="#b40000"/><stop offset="0.955" stop-color="#cf0000"/><stop offset="1" stop-color="#d00000"/></linearGradient><linearGradient id="q313" gradientUnits="userSpaceOnUse" x1="148.2" y1="208.0" x2="164.8" y2="214.2"><stop offset="0" stop-color="#b40000"/><stop offset="1" stop-color="#cb0000"/></linearGradient><linearGradient id="q314" gradientUnits="userSpaceOnUse" x1="147.0" y1="208.2" x2="163.6" y2="213.7"><stop offset="0" stop-color="#b30000"/><stop offset="1" stop-color="#c60000"/></linearGradient><linearGradient id="q315" gradientUnits="userSpaceOnUse" x1="145.8" y1="208.4" x2="162.4" y2="213.2"><stop offset="0" stop-color="#b30000"/><stop offset="1" stop-color="#c20000"/></linearGradient><linearGradient id="q316" gradientUnits="userSpaceOnUse" x1="144.5" y1="208.7" x2="161.2" y2="212.7"><stop offset="0" stop-color="#b30000"/><stop offset="1" stop-color="#bd0000"/></linearGradient><linearGradient id="q317" gradientUnits="userSpaceOnUse" x1="118.5" y1="214.9" x2="135.5" y2="215.8"><stop offset="0" stop-color="#b70000"/><stop offset="1" stop-color="#ad0000"/></linearGradient><linearGradient id="q318" gradientUnits="userSpaceOnUse" x1="117.4" y1="216.1" x2="134.4" y2="216.1"><stop offset="0" stop-color="#bd0000"/><stop offset="1" stop-color="#ad0000"/></linearGradient><linearGradient id="q319" gradientUnits="userSpaceOnUse" x1="116.7" y1="216.9" x2="133.7" y2="216.2"><stop offset="0" stop-color="#c10000"/><stop offset="1" stop-color="#ad0000"/></linearGradient><linearGradient id="q320" gradientUnits="userSpaceOnUse" x1="116.4" y1="217.2" x2="133.4" y2="216.3"><stop offset="0" stop-color="#c20000"/><stop offset="1" stop-color="#ad0000"/></linearGradient><linearGradient id="q321" gradientUnits="userSpaceOnUse" x1="116.2" y1="217.5" x2="133.2" y2="216.3"><stop offset="0" stop-color="#c30000"/><stop offset="1" stop-color="#ad0000"/></linearGradient><linearGradient id="q322" gradientUnits="userSpaceOnUse" x1="115.9" y1="217.8" x2="133.0" y2="216.4"><stop offset="0" stop-color="#c50000"/><stop offset="1" stop-color="#ad0000"/></linearGradient><linearGradient id="q323" gradientUnits="userSpaceOnUse" x1="115.7" y1="218.1" x2="132.8" y2="216.4"><stop offset="0" stop-color="#c60000"/><stop offset="1" stop-color="#ad0000"/></linearGradient><linearGradient id="q324" gradientUnits="userSpaceOnUse" x1="115.4" y1="218.4" x2="132.5" y2="216.5"><stop offset="0" stop-color="#c80000"/><stop offset="1" stop-color="#ad0000"/></linearGradient><linearGradient id="q325" gradientUnits="userSpaceOnUse" x1="115.1" y1="218.7" x2="132.2" y2="216.6"><stop offset="0" stop-color="#c90000"/><stop offset="1" stop-color="#ad0000"/></linearGradient><linearGradient id="q326" gradientUnits="userSpaceOnUse" x1="114.9" y1="219.1" x2="131.9" y2="216.6"><stop offset="0" stop-color="#cb0000"/><stop offset="1" stop-color="#ad0000"/></linearGradient><linearGradient id="q327" gradientUnits="userSpaceOnUse" x1="114.2" y1="220.0" x2="131.2" y2="216.8"><stop offset="0" stop-color="#cf0000"/><stop offset="0.003" stop-color="#cf0000"/><stop offset="1" stop-color="#ad0000"/></linearGradient><linearGradient id="q328" gradientUnits="userSpaceOnUse" x1="112.9" y1="221.6" x2="130.0" y2="217.1"><stop offset="0" stop-color="#d70000"/><stop offset="0.189" stop-color="#cf0000"/><stop offset="1" stop-color="#ad0000"/></linearGradient><linearGradient id="q329" gradientUnits="userSpaceOnUse" x1="111.5" y1="223.5" x2="128.6" y2="217.5"><stop offset="0" stop-color="#e10000"/><stop offset="0.342" stop-color="#cf0000"/><stop offset="1" stop-color="#ae0000"/></linearGradient><linearGradient id="q330" gradientUnits="userSpaceOnUse" x1="110.1" y1="225.5" x2="127.2" y2="218.8"><stop offset="0" stop-color="#e90000"/><stop offset="0.495" stop-color="#cf0000"/><stop offset="1" stop-color="#b30000"/></linearGradient><linearGradient id="q331" gradientUnits="userSpaceOnUse" x1="108.7" y1="227.7" x2="125.8" y2="220.8"><stop offset="0" stop-color="#f20000"/><stop offset="0.675" stop-color="#cf0000"/><stop offset="1" stop-color="#bd0000"/></linearGradient><linearGradient id="q332" gradientUnits="userSpaceOnUse" x1="107.4" y1="229.9" x2="124.5" y2="222.8"><stop offset="0" stop-color="#fb0000"/><stop offset="0.094" stop-color="#f70000"/><stop offset="0.849" stop-color="#cf0000"/><stop offset="1" stop-color="#c60000"/></linearGradient><linearGradient id="q333" gradientUnits="userSpaceOnUse" x1="106.7" y1="231.1" x2="123.8" y2="223.9"><stop offset="0" stop-color="#ff0000"/><stop offset="0.197" stop-color="#f70000"/><stop offset="0.942" stop-color="#cf0000"/><stop offset="1" stop-color="#cc0000"/></linearGradient><linearGradient id="q334" gradientUnits="userSpaceOnUse" x1="106.4" y1="231.7" x2="123.5" y2="224.4"><stop offset="0" stop-color="#ff0000"/><stop offset="0.239" stop-color="#f70000"/><stop offset="0.981" stop-color="#cf0000"/><stop offset="1" stop-color="#ce0000"/></linearGradient><linearGradient id="q335" gradientUnits="userSpaceOnUse" x1="106.0" y1="232.3" x2="123.1" y2="225.0"><stop offset="0" stop-color="#ff0100"/><stop offset="0.295" stop-color="#f70000"/><stop offset="1" stop-color="#d10000"/></linearGradient><linearGradient id="q336" gradientUnits="userSpaceOnUse" x1="105.7" y1="232.9" x2="122.8" y2="225.5"><stop offset="0" stop-color="#ff0100"/><stop offset="0.338" stop-color="#f70000"/><stop offset="1" stop-color="#d30000"/></linearGradient><linearGradient id="q337" gradientUnits="userSpaceOnUse" x1="105.5" y1="233.3" x2="122.6" y2="225.8"><stop offset="0" stop-color="#ff0100"/><stop offset="0.372" stop-color="#f70000"/><stop offset="1" stop-color="#d50000"/></linearGradient><linearGradient id="q338" gradientUnits="userSpaceOnUse" x1="105.3" y1="233.7" x2="122.4" y2="226.2"><stop offset="0" stop-color="#ff0100"/><stop offset="0.407" stop-color="#f70000"/><stop offset="1" stop-color="#d70000"/></linearGradient><linearGradient id="q339" gradientUnits="userSpaceOnUse" x1="105.1" y1="234.1" x2="122.2" y2="226.5"><stop offset="0" stop-color="#ff0100"/><stop offset="0.434" stop-color="#f70000"/><stop offset="1" stop-color="#d90000"/></linearGradient><linearGradient id="q340" gradientUnits="userSpaceOnUse" x1="104.8" y1="235.0" x2="121.8" y2="227.2"><stop offset="0" stop-color="#ff0200"/><stop offset="0.499" stop-color="#f70000"/><stop offset="1" stop-color="#dc0000"/></linearGradient><linearGradient id="q341" gradientUnits="userSpaceOnUse" x1="104.1" y1="237.0" x2="121.2" y2="228.4"><stop offset="0" stop-color="#ff0300"/><stop offset="0.118" stop-color="#ff0200"/><stop offset="0.623" stop-color="#f70000"/><stop offset="1" stop-color="#e10000"/></linearGradient><linearGradient id="q342" gradientUnits="userSpaceOnUse" x1="103.0" y1="240.9" x2="120.1" y2="230.5"><stop offset="0" stop-color="#ff0400"/><stop offset="0.369" stop-color="#ff0200"/><stop offset="0.807" stop-color="#f70000"/><stop offset="1" stop-color="#ea0000"/></linearGradient><linearGradient id="q343" gradientUnits="userSpaceOnUse" x1="101.6" y1="247.3" x2="118.6" y2="233.5"><stop offset="0" stop-color="#ff0700"/><stop offset="0.651" stop-color="#ff0200"/><stop offset="0.999" stop-color="#f70000"/><stop offset="1" stop-color="#f70000"/></linearGradient><linearGradient id="q344" gradientUnits="userSpaceOnUse" x1="100.3" y1="260.6" x2="117.3" y2="236.6"><stop offset="0" stop-color="#ff6000"/><stop offset="0.032" stop-color="#ff5600"/><stop offset="0.319" stop-color="#ff1b00"/><stop offset="0.883" stop-color="#ff0200"/><stop offset="1" stop-color="#ff0000"/></linearGradient><linearGradient id="q345" gradientUnits="userSpaceOnUse" x1="99.7" y1="271.4" x2="116.5" y2="238.3"><stop offset="0" stop-color="#ffba00"/><stop offset="0.165" stop-color="#ff8d00"/><stop offset="0.318" stop-color="#ff5700"/><stop offset="0.533" stop-color="#ff1b00"/><stop offset="0.954" stop-color="#ff0200"/><stop offset="1" stop-color="#ff0100"/></linearGradient><linearGradient id="q346" gradientUnits="userSpaceOnUse" x1="99.4" y1="277.7" x2="116.2" y2="239.2"><stop offset="0" stop-color="#ffee00"/><stop offset="0.108" stop-color="#ffc800"/><stop offset="0.294" stop-color="#ff8d00"/><stop offset="0.427" stop-color="#ff5700"/><stop offset="0.613" stop-color="#ff1b00"/><stop offset="0.979" stop-color="#ff0200"/><stop offset="1" stop-color="#ff0200"/></linearGradient><linearGradient id="q347" gradientUnits="userSpaceOnUse" x1="99.1" y1="289.0" x2="115.8" y2="240.6"><stop offset="0" stop-color="#beff00"/><stop offset="0.173" stop-color="#fcff00"/><stop offset="0.307" stop-color="#ffc800"/><stop offset="0.456" stop-color="#ff8c00"/><stop offset="0.563" stop-color="#ff5600"/><stop offset="0.712" stop-color="#ff1b00"/><stop offset="1" stop-color="#ff0200"/></linearGradient><linearGradient id="q348" gradientUnits="userSpaceOnUse" x1="98.9" y1="302.6" x2="115.6" y2="241.7"><stop offset="0" stop-color="#00ff0c"/><stop offset="0.033" stop-color="#1aff00"/><stop offset="0.161" stop-color="#a5ff00"/><stop offset="0.353" stop-color="#fcff00"/><stop offset="0.46" stop-color="#ffc800"/><stop offset="0.58" stop-color="#ff8c00"/><stop offset="0.666" stop-color="#ff5600"/><stop offset="0.785" stop-color="#ff1b00"/><stop offset="1" stop-color="#ff0300"/></linearGradient><linearGradient id="q349" gradientUnits="userSpaceOnUse" x1="98.6" y1="302.9" x2="115.3" y2="242.6"><stop offset="0" stop-color="#00ff10"/><stop offset="0.036" stop-color="#1aff00"/><stop offset="0.165" stop-color="#a5ff00"/><stop offset="0.36" stop-color="#fdff00"/><stop offset="0.468" stop-color="#ffc800"/><stop offset="0.589" stop-color="#ff8c00"/><stop offset="0.675" stop-color="#ff5700"/><stop offset="0.796" stop-color="#ff1b00"/><stop offset="1" stop-color="#ff0300"/></linearGradient><linearGradient id="q350" gradientUnits="userSpaceOnUse" x1="98.4" y1="291.9" x2="115.1" y2="243.5"><stop offset="0" stop-color="#abff00"/><stop offset="0.225" stop-color="#fdff00"/><stop offset="0.358" stop-color="#ffc800"/><stop offset="0.508" stop-color="#ff8c00"/><stop offset="0.614" stop-color="#ff5700"/><stop offset="0.764" stop-color="#ff1a00"/><stop offset="1" stop-color="#ff0300"/></linearGradient><linearGradient id="q351" gradientUnits="userSpaceOnUse" x1="98.1" y1="285.8" x2="114.9" y2="244.3"><stop offset="0" stop-color="#d7ff00"/><stop offset="0.12" stop-color="#fdff00"/><stop offset="0.274" stop-color="#ffc800"/><stop offset="0.446" stop-color="#ff8d00"/><stop offset="0.57" stop-color="#ff5600"/><stop offset="0.742" stop-color="#ff1b00"/><stop offset="1" stop-color="#ff0400"/></linearGradient><linearGradient id="q352" gradientUnits="userSpaceOnUse" x1="97.7" y1="277.6" x2="114.6" y2="245.9"><stop offset="0" stop-color="#ffe800"/><stop offset="0.11" stop-color="#ffc800"/><stop offset="0.332" stop-color="#ff8c00"/><stop offset="0.49" stop-color="#ff5600"/><stop offset="0.711" stop-color="#ff1b00"/><stop offset="1" stop-color="#ff0400"/></linearGradient><linearGradient id="q353" gradientUnits="userSpaceOnUse" x1="97.0" y1="266.1" x2="113.9" y2="249.1"><stop offset="0" stop-color="#ff8c00"/><stop offset="0.266" stop-color="#ff5700"/><stop offset="0.647" stop-color="#ff1b00"/><stop offset="1" stop-color="#ff0600"/></linearGradient><linearGradient id="q354" gradientUnits="userSpaceOnUse" x1="94.8" y1="246.1" x2="111.9" y2="264.9"><stop offset="0" stop-color="#ff0600"/><stop offset="0.491" stop-color="#ff1b00"/><stop offset="1" stop-color="#ff5400"/></linearGradient><linearGradient id="q355" gradientUnits="userSpaceOnUse" x1="94.3" y1="243.9" x2="111.5" y2="270.6"><stop offset="0" stop-color="#ff0500"/><stop offset="0.424" stop-color="#ff1b00"/><stop offset="0.771" stop-color="#ff5700"/><stop offset="1" stop-color="#ff8900"/></linearGradient><linearGradient id="q356" gradientUnits="userSpaceOnUse" x1="93.8" y1="241.9" x2="111.0" y2="276.8"><stop offset="0" stop-color="#ff0400"/><stop offset="0.383" stop-color="#ff1b00"/><stop offset="0.637" stop-color="#ff5600"/><stop offset="0.819" stop-color="#ff8c00"/><stop offset="1" stop-color="#ffb600"/></linearGradient><linearGradient id="q357" gradientUnits="userSpaceOnUse" x1="93.6" y1="240.8" x2="110.7" y2="280.9"><stop offset="0" stop-color="#ff0300"/><stop offset="0.359" stop-color="#ff1a00"/><stop offset="0.577" stop-color="#ff5600"/><stop offset="0.733" stop-color="#ff8c00"/><stop offset="0.951" stop-color="#ffc800"/><stop offset="1" stop-color="#ffd700"/></linearGradient><linearGradient id="q358" gradientUnits="userSpaceOnUse" x1="93.4" y1="240.3" x2="110.6" y2="283.0"><stop offset="0" stop-color="#ff0300"/><stop offset="0.349" stop-color="#ff1b00"/><stop offset="0.553" stop-color="#ff5700"/><stop offset="0.699" stop-color="#ff8d00"/><stop offset="0.902" stop-color="#ffc800"/><stop offset="1" stop-color="#ffe700"/></linearGradient><linearGradient id="q359" gradientUnits="userSpaceOnUse" x1="93.3" y1="239.8" x2="110.5" y2="281.8"><stop offset="0" stop-color="#ff0300"/><stop offset="0.37" stop-color="#ff1b00"/><stop offset="0.577" stop-color="#ff5700"/><stop offset="0.725" stop-color="#ff8c00"/><stop offset="0.932" stop-color="#ffc800"/><stop offset="1" stop-color="#ffdd00"/></linearGradient><linearGradient id="q360" gradientUnits="userSpaceOnUse" x1="93.0" y1="238.7" x2="110.2" y2="278.2"><stop offset="0" stop-color="#ff0200"/><stop offset="0.429" stop-color="#ff1b00"/><stop offset="0.652" stop-color="#ff5700"/><stop offset="0.81" stop-color="#ff8c00"/><stop offset="1" stop-color="#ffbf00"/></linearGradient><linearGradient id="q361" gradientUnits="userSpaceOnUse" x1="92.5" y1="237.0" x2="109.7" y2="273.3"><stop offset="0" stop-color="#ff0100"/><stop offset="0.046" stop-color="#ff0200"/><stop offset="0.527" stop-color="#ff1b00"/><stop offset="0.772" stop-color="#ff5700"/><stop offset="0.946" stop-color="#ff8c00"/><stop offset="1" stop-color="#ff9900"/></linearGradient><linearGradient id="q362" gradientUnits="userSpaceOnUse" x1="92.0" y1="235.6" x2="109.3" y2="268.8"><stop offset="0" stop-color="#ff0100"/><stop offset="0.102" stop-color="#ff0200"/><stop offset="0.635" stop-color="#ff1b00"/><stop offset="0.906" stop-color="#ff5700"/><stop offset="1" stop-color="#ff7300"/></linearGradient><linearGradient id="q363" gradientUnits="userSpaceOnUse" x1="91.5" y1="234.1" x2="108.8" y2="262.1"><stop offset="0" stop-color="#fd0000"/><stop offset="0.191" stop-color="#ff0200"/><stop offset="0.835" stop-color="#ff1b00"/><stop offset="1" stop-color="#ff3500"/></linearGradient><linearGradient id="q364" gradientUnits="userSpaceOnUse" x1="90.8" y1="232.2" x2="108.1" y2="254.4"><stop offset="0" stop-color="#f30000"/><stop offset="0.04" stop-color="#f70000"/><stop offset="0.361" stop-color="#ff0200"/><stop offset="1" stop-color="#ff0800"/></linearGradient><linearGradient id="q365" gradientUnits="userSpaceOnUse" x1="90.4" y1="231.1" x2="107.7" y2="251.0"><stop offset="0" stop-color="#ee0000"/><stop offset="0.114" stop-color="#f70000"/><stop offset="0.481" stop-color="#ff0200"/><stop offset="1" stop-color="#ff0600"/></linearGradient><linearGradient id="q366" gradientUnits="userSpaceOnUse" x1="90.3" y1="230.7" x2="107.5" y2="249.7"><stop offset="0" stop-color="#eb0000"/><stop offset="0.153" stop-color="#f70000"/><stop offset="0.542" stop-color="#ff0200"/><stop offset="1" stop-color="#ff0500"/></linearGradient><linearGradient id="q367" gradientUnits="userSpaceOnUse" x1="90.0" y1="230.1" x2="107.3" y2="248.0"><stop offset="0" stop-color="#e90000"/><stop offset="0.207" stop-color="#f70000"/><stop offset="0.624" stop-color="#ff0200"/><stop offset="1" stop-color="#ff0500"/></linearGradient><linearGradient id="q368" gradientUnits="userSpaceOnUse" x1="89.8" y1="229.5" x2="107.0" y2="246.4"><stop offset="0" stop-color="#e50000"/><stop offset="0.27" stop-color="#f70000"/><stop offset="0.719" stop-color="#ff0200"/><stop offset="1" stop-color="#ff0400"/></linearGradient><linearGradient id="q369" gradientUnits="userSpaceOnUse" x1="89.5" y1="228.8" x2="106.7" y2="244.5"><stop offset="0" stop-color="#e20000"/><stop offset="0.359" stop-color="#f70000"/><stop offset="0.85" stop-color="#ff0200"/><stop offset="1" stop-color="#ff0300"/></linearGradient><linearGradient id="q370" gradientUnits="userSpaceOnUse" x1="89.0" y1="227.9" x2="106.3" y2="242.3"><stop offset="0" stop-color="#dc0000"/><stop offset="0.492" stop-color="#f70000"/><stop offset="1" stop-color="#ff0200"/></linearGradient><linearGradient id="q371" gradientUnits="userSpaceOnUse" x1="88.7" y1="227.2" x2="106.0" y2="241.0"><stop offset="0" stop-color="#d80000"/><stop offset="0.592" stop-color="#f70000"/><stop offset="1" stop-color="#ff0100"/></linearGradient><linearGradient id="q372" gradientUnits="userSpaceOnUse" x1="87.9" y1="225.7" x2="105.2" y2="239.1"><stop offset="0" stop-color="#ce0000"/><stop offset="0.012" stop-color="#cf0000"/><stop offset="0.783" stop-color="#f70000"/><stop offset="1" stop-color="#ff0000"/></linearGradient><linearGradient id="q373" gradientUnits="userSpaceOnUse" x1="87.0" y1="223.8" x2="104.3" y2="236.8"><stop offset="0" stop-color="#c30000"/><stop offset="0.226" stop-color="#cf0000"/><stop offset="1" stop-color="#f50000"/></linearGradient><linearGradient id="q374" gradientUnits="userSpaceOnUse" x1="86.4" y1="222.8" x2="103.7" y2="235.5"><stop offset="0" stop-color="#bc0000"/><stop offset="0.35" stop-color="#cf0000"/><stop offset="1" stop-color="#ef0000"/></linearGradient><linearGradient id="q375" gradientUnits="userSpaceOnUse" x1="85.9" y1="222.0" x2="103.2" y2="234.5"><stop offset="0" stop-color="#b70000"/><stop offset="0.459" stop-color="#cf0000"/><stop offset="1" stop-color="#e90000"/></linearGradient><linearGradient id="q376" gradientUnits="userSpaceOnUse" x1="85.7" y1="221.6" x2="103.0" y2="234.1"><stop offset="0" stop-color="#b50000"/><stop offset="0.504" stop-color="#cf0000"/><stop offset="1" stop-color="#e70000"/></linearGradient><linearGradient id="q377" gradientUnits="userSpaceOnUse" x1="85.5" y1="221.4" x2="102.9" y2="233.8"><stop offset="0" stop-color="#b40000"/><stop offset="0.53" stop-color="#cf0000"/><stop offset="1" stop-color="#e60000"/></linearGradient><linearGradient id="q378" gradientUnits="userSpaceOnUse" x1="85.3" y1="221.1" x2="102.7" y2="233.4"><stop offset="0" stop-color="#b10000"/><stop offset="0.58" stop-color="#cf0000"/><stop offset="1" stop-color="#e40000"/></linearGradient><linearGradient id="q379" gradientUnits="userSpaceOnUse" x1="85.0" y1="220.6" x2="102.3" y2="232.8"><stop offset="0" stop-color="#ae0000"/><stop offset="0.648" stop-color="#cf0000"/><stop offset="1" stop-color="#e10000"/></linearGradient><linearGradient id="q380" gradientUnits="userSpaceOnUse" x1="84.5" y1="219.8" x2="101.8" y2="231.9"><stop offset="0" stop-color="#aa0000"/><stop offset="0.755" stop-color="#cf0000"/><stop offset="1" stop-color="#db0000"/></linearGradient><linearGradient id="q381" gradientUnits="userSpaceOnUse" x1="84.1" y1="219.3" x2="101.5" y2="231.2"><stop offset="0" stop-color="#a70000"/><stop offset="0.833" stop-color="#cf0000"/><stop offset="1" stop-color="#d70000"/></linearGradient><linearGradient id="q382" gradientUnits="userSpaceOnUse" x1="83.3" y1="218.7" x2="100.7" y2="229.9"><stop offset="0" stop-color="#a20000"/><stop offset="1" stop-color="#cf0000"/></linearGradient><linearGradient id="q383" gradientUnits="userSpaceOnUse" x1="81.7" y1="218.4" x2="99.1" y2="227.5"><stop offset="0" stop-color="#9f0000"/><stop offset="0.097" stop-color="#a20000"/><stop offset="1" stop-color="#c00000"/></linearGradient><linearGradient id="q384" gradientUnits="userSpaceOnUse" x1="80.1" y1="218.7" x2="97.5" y2="225.4"><stop offset="0" stop-color="#9f0000"/><stop offset="0.161" stop-color="#a20000"/><stop offset="1" stop-color="#b20000"/></linearGradient><linearGradient id="q385" gradientUnits="userSpaceOnUse" x1="78.5" y1="218.9" x2="95.9" y2="223.4"><stop offset="0" stop-color="#9e0000"/><stop offset="0.449" stop-color="#a20000"/><stop offset="1" stop-color="#a60000"/></linearGradient><linearGradient id="q386" gradientUnits="userSpaceOnUse" x1="73.7" y1="218.4" x2="91.1" y2="222.9"><stop offset="0" stop-color="#960000"/><stop offset="1" stop-color="#9e0000"/></linearGradient><linearGradient id="q387" gradientUnits="userSpaceOnUse" x1="72.0" y1="218.1" x2="89.5" y2="222.7"><stop offset="0" stop-color="#930000"/><stop offset="1" stop-color="#9b0000"/></linearGradient><linearGradient id="q388" gradientUnits="userSpaceOnUse" x1="168.3" y1="215.9" x2="185.5" y2="226.3"><stop offset="0" stop-color="#db0000"/><stop offset="0.669" stop-color="#f70000"/><stop offset="1" stop-color="#ff0000"/></linearGradient><linearGradient id="q389" gradientUnits="userSpaceOnUse" x1="167.2" y1="215.3" x2="184.3" y2="225.4"><stop offset="0" stop-color="#d60000"/><stop offset="0.813" stop-color="#f70000"/><stop offset="1" stop-color="#fe0000"/></linearGradient><linearGradient id="q390" gradientUnits="userSpaceOnUse" x1="166.0" y1="214.7" x2="183.2" y2="224.6"><stop offset="0" stop-color="#d00000"/><stop offset="0.961" stop-color="#f70000"/><stop offset="1" stop-color="#f80000"/></linearGradient><linearGradient id="q391" gradientUnits="userSpaceOnUse" x1="164.8" y1="214.2" x2="182.1" y2="223.8"><stop offset="0" stop-color="#cb0000"/><stop offset="0.088" stop-color="#cf0000"/><stop offset="1" stop-color="#f30000"/></linearGradient><linearGradient id="q392" gradientUnits="userSpaceOnUse" x1="163.6" y1="213.7" x2="180.9" y2="223.1"><stop offset="0" stop-color="#c60000"/><stop offset="0.208" stop-color="#cf0000"/><stop offset="1" stop-color="#ed0000"/></linearGradient><linearGradient id="q393" gradientUnits="userSpaceOnUse" x1="162.4" y1="213.2" x2="179.7" y2="222.4"><stop offset="0" stop-color="#c20000"/><stop offset="0.331" stop-color="#cf0000"/><stop offset="1" stop-color="#e80000"/></linearGradient><linearGradient id="q394" gradientUnits="userSpaceOnUse" x1="161.2" y1="212.7" x2="178.6" y2="221.8"><stop offset="0" stop-color="#bd0000"/><stop offset="0.458" stop-color="#cf0000"/><stop offset="1" stop-color="#e40000"/></linearGradient><linearGradient id="q395" gradientUnits="userSpaceOnUse" x1="160.0" y1="212.3" x2="177.4" y2="221.2"><stop offset="0" stop-color="#b90000"/><stop offset="0.588" stop-color="#cf0000"/><stop offset="1" stop-color="#df0000"/></linearGradient><linearGradient id="q396" gradientUnits="userSpaceOnUse" x1="158.8" y1="211.9" x2="176.2" y2="220.6"><stop offset="0" stop-color="#b40000"/><stop offset="0.72" stop-color="#cf0000"/><stop offset="1" stop-color="#da0000"/></linearGradient><linearGradient id="q397" gradientUnits="userSpaceOnUse" x1="157.6" y1="211.5" x2="175.0" y2="220.0"><stop offset="0" stop-color="#b00000"/><stop offset="0.855" stop-color="#cf0000"/><stop offset="1" stop-color="#d40000"/></linearGradient><linearGradient id="q398" gradientUnits="userSpaceOnUse" x1="156.3" y1="211.3" x2="173.8" y2="219.5"><stop offset="0" stop-color="#ae0000"/><stop offset="0.992" stop-color="#cf0000"/><stop offset="1" stop-color="#cf0000"/></linearGradient><linearGradient id="q399" gradientUnits="userSpaceOnUse" x1="155.1" y1="211.4" x2="172.6" y2="219.0"><stop offset="0" stop-color="#ad0000"/><stop offset="1" stop-color="#cb0000"/></linearGradient><linearGradient id="q400" gradientUnits="userSpaceOnUse" x1="153.8" y1="211.7" x2="171.3" y2="218.5"><stop offset="0" stop-color="#ad0000"/><stop offset="1" stop-color="#c60000"/></linearGradient><linearGradient id="q401" gradientUnits="userSpaceOnUse" x1="152.6" y1="212.0" x2="170.1" y2="218.1"><stop offset="0" stop-color="#ad0000"/><stop offset="1" stop-color="#c10000"/></linearGradient><linearGradient id="q402" gradientUnits="userSpaceOnUse" x1="151.3" y1="212.3" x2="168.9" y2="217.6"><stop offset="0" stop-color="#ad0000"/><stop offset="1" stop-color="#bd0000"/></linearGradient><linearGradient id="q403" gradientUnits="userSpaceOnUse" x1="150.0" y1="212.6" x2="167.6" y2="217.2"><stop offset="0" stop-color="#ad0000"/><stop offset="1" stop-color="#b90000"/></linearGradient><linearGradient id="q404" gradientUnits="userSpaceOnUse" x1="149.0" y1="212.8" x2="166.7" y2="216.9"><stop offset="0" stop-color="#ad0000"/><stop offset="1" stop-color="#b60000"/></linearGradient><linearGradient id="q405" gradientUnits="userSpaceOnUse" x1="125.8" y1="220.8" x2="143.8" y2="220.9"><stop offset="0" stop-color="#bd0000"/><stop offset="1" stop-color="#ad0000"/></linearGradient><linearGradient id="q406" gradientUnits="userSpaceOnUse" x1="124.5" y1="222.8" x2="142.5" y2="221.2"><stop offset="0" stop-color="#c60000"/><stop offset="1" stop-color="#ad0000"/></linearGradient><linearGradient id="q407" gradientUnits="userSpaceOnUse" x1="123.8" y1="223.9" x2="141.8" y2="221.3"><stop offset="0" stop-color="#cc0000"/><stop offset="1" stop-color="#ad0000"/></linearGradient><linearGradient id="q408" gradientUnits="userSpaceOnUse" x1="123.5" y1="224.4" x2="141.5" y2="221.4"><stop offset="0" stop-color="#ce0000"/><stop offset="1" stop-color="#ad0000"/></linearGradient><linearGradient id="q409" gradientUnits="userSpaceOnUse" x1="123.1" y1="225.0" x2="141.1" y2="221.5"><stop offset="0" stop-color="#d10000"/><stop offset="0.051" stop-color="#cf0000"/><stop offset="1" stop-color="#ad0000"/></linearGradient><linearGradient id="q410" gradientUnits="userSpaceOnUse" x1="122.8" y1="225.5" x2="140.8" y2="221.6"><stop offset="0" stop-color="#d30000"/><stop offset="0.109" stop-color="#cf0000"/><stop offset="1" stop-color="#ad0000"/></linearGradient><linearGradient id="q411" gradientUnits="userSpaceOnUse" x1="122.6" y1="225.8" x2="140.6" y2="221.6"><stop offset="0" stop-color="#d50000"/><stop offset="0.152" stop-color="#cf0000"/><stop offset="1" stop-color="#ad0000"/></linearGradient><linearGradient id="q412" gradientUnits="userSpaceOnUse" x1="122.4" y1="226.2" x2="140.4" y2="221.7"><stop offset="0" stop-color="#d70000"/><stop offset="0.191" stop-color="#cf0000"/><stop offset="1" stop-color="#ad0000"/></linearGradient><linearGradient id="q413" gradientUnits="userSpaceOnUse" x1="122.2" y1="226.5" x2="140.2" y2="221.7"><stop offset="0" stop-color="#d90000"/><stop offset="0.218" stop-color="#cf0000"/><stop offset="1" stop-color="#ad0000"/></linearGradient><linearGradient id="q414" gradientUnits="userSpaceOnUse" x1="121.8" y1="227.2" x2="139.9" y2="222.1"><stop offset="0" stop-color="#dc0000"/><stop offset="0.278" stop-color="#cf0000"/><stop offset="1" stop-color="#ae0000"/></linearGradient><linearGradient id="q415" gradientUnits="userSpaceOnUse" x1="121.2" y1="228.4" x2="139.2" y2="223.0"><stop offset="0" stop-color="#e10000"/><stop offset="0.393" stop-color="#cf0000"/><stop offset="1" stop-color="#b30000"/></linearGradient><linearGradient id="q416" gradientUnits="userSpaceOnUse" x1="120.1" y1="230.5" x2="138.1" y2="224.6"><stop offset="0" stop-color="#ea0000"/><stop offset="0.581" stop-color="#cf0000"/><stop offset="1" stop-color="#ba0000"/></linearGradient><linearGradient id="q417" gradientUnits="userSpaceOnUse" x1="118.6" y1="233.5" x2="136.7" y2="226.9"><stop offset="0" stop-color="#f70000"/><stop offset="0.81" stop-color="#cf0000"/><stop offset="1" stop-color="#c50000"/></linearGradient><linearGradient id="q418" gradientUnits="userSpaceOnUse" x1="117.3" y1="236.6" x2="135.3" y2="229.2"><stop offset="0" stop-color="#ff0000"/><stop offset="0.265" stop-color="#f70000"/><stop offset="1" stop-color="#d00000"/></linearGradient><linearGradient id="q419" gradientUnits="userSpaceOnUse" x1="116.5" y1="238.3" x2="134.6" y2="230.5"><stop offset="0" stop-color="#ff0100"/><stop offset="0.396" stop-color="#f70000"/><stop offset="1" stop-color="#d60000"/></linearGradient><linearGradient id="q420" gradientUnits="userSpaceOnUse" x1="116.2" y1="239.2" x2="134.3" y2="231.1"><stop offset="0" stop-color="#ff0200"/><stop offset="0.455" stop-color="#f70000"/><stop offset="1" stop-color="#d90000"/></linearGradient><linearGradient id="q421" gradientUnits="userSpaceOnUse" x1="115.8" y1="240.6" x2="133.9" y2="231.8"><stop offset="0" stop-color="#ff0200"/><stop offset="0.028" stop-color="#ff0200"/><stop offset="0.537" stop-color="#f70000"/><stop offset="1" stop-color="#dc0000"/></linearGradient><linearGradient id="q422" gradientUnits="userSpaceOnUse" x1="115.6" y1="241.7" x2="133.6" y2="232.4"><stop offset="0" stop-color="#ff0300"/><stop offset="0.11" stop-color="#ff0200"/><stop offset="0.596" stop-color="#f70000"/><stop offset="1" stop-color="#df0000"/></linearGradient><linearGradient id="q423" gradientUnits="userSpaceOnUse" x1="115.3" y1="242.6" x2="133.3" y2="232.8"><stop offset="0" stop-color="#ff0300"/><stop offset="0.174" stop-color="#ff0200"/><stop offset="0.641" stop-color="#f70000"/><stop offset="1" stop-color="#e10000"/></linearGradient><linearGradient id="q424" gradientUnits="userSpaceOnUse" x1="115.1" y1="243.5" x2="133.1" y2="233.3"><stop offset="0" stop-color="#ff0300"/><stop offset="0.23" stop-color="#ff0200"/><stop offset="0.681" stop-color="#f70000"/><stop offset="1" stop-color="#e20000"/></linearGradient><linearGradient id="q425" gradientUnits="userSpaceOnUse" x1="114.9" y1="244.3" x2="132.9" y2="233.6"><stop offset="0" stop-color="#ff0400"/><stop offset="0.274" stop-color="#ff0200"/><stop offset="0.711" stop-color="#f70000"/><stop offset="1" stop-color="#e40000"/></linearGradient><linearGradient id="q426" gradientUnits="userSpaceOnUse" x1="114.6" y1="245.9" x2="132.6" y2="234.4"><stop offset="0" stop-color="#ff0400"/><stop offset="0.362" stop-color="#ff0200"/><stop offset="0.772" stop-color="#f70000"/><stop offset="1" stop-color="#e70000"/></linearGradient><linearGradient id="q427" gradientUnits="userSpaceOnUse" x1="113.9" y1="249.1" x2="131.9" y2="235.7"><stop offset="0" stop-color="#ff0600"/><stop offset="0.504" stop-color="#ff0200"/><stop offset="0.868" stop-color="#f70000"/><stop offset="1" stop-color="#ec0000"/></linearGradient><linearGradient id="q428" gradientUnits="userSpaceOnUse" x1="112.8" y1="256.9" x2="130.8" y2="238.2"><stop offset="0" stop-color="#ff1b00"/><stop offset="0.001" stop-color="#ff1b00"/><stop offset="0.721" stop-color="#ff0200"/><stop offset="0.996" stop-color="#f70000"/><stop offset="1" stop-color="#f60000"/></linearGradient><linearGradient id="q429" gradientUnits="userSpaceOnUse" x1="111.9" y1="264.9" x2="129.9" y2="240.3"><stop offset="0" stop-color="#ff5400"/><stop offset="0.278" stop-color="#ff1b00"/><stop offset="0.845" stop-color="#ff0200"/><stop offset="1" stop-color="#ff0000"/></linearGradient><linearGradient id="q430" gradientUnits="userSpaceOnUse" x1="111.5" y1="270.6" x2="129.4" y2="241.5"><stop offset="0" stop-color="#ff8900"/><stop offset="0.164" stop-color="#ff5600"/><stop offset="0.412" stop-color="#ff1a00"/><stop offset="0.898" stop-color="#ff0200"/><stop offset="1" stop-color="#ff0000"/></linearGradient><linearGradient id="q431" gradientUnits="userSpaceOnUse" x1="111.0" y1="276.8" x2="128.9" y2="242.7"><stop offset="0" stop-color="#ffb600"/><stop offset="0.152" stop-color="#ff8c00"/><stop offset="0.305" stop-color="#ff5600"/><stop offset="0.519" stop-color="#ff1b00"/><stop offset="0.94" stop-color="#ff0200"/><stop offset="1" stop-color="#ff0100"/></linearGradient><linearGradient id="q432" gradientUnits="userSpaceOnUse" x1="110.7" y1="280.9" x2="128.7" y2="243.4"><stop offset="0" stop-color="#ffd700"/><stop offset="0.044" stop-color="#ffc800"/><stop offset="0.24" stop-color="#ff8c00"/><stop offset="0.38" stop-color="#ff5600"/><stop offset="0.576" stop-color="#ff1a00"/><stop offset="0.96" stop-color="#ff0200"/><stop offset="1" stop-color="#ff0100"/></linearGradient><linearGradient id="q433" gradientUnits="userSpaceOnUse" x1="110.6" y1="283.0" x2="128.6" y2="243.7"><stop offset="0" stop-color="#ffe700"/><stop offset="0.09" stop-color="#ffc800"/><stop offset="0.278" stop-color="#ff8c00"/><stop offset="0.412" stop-color="#ff5600"/><stop offset="0.6" stop-color="#ff1a00"/><stop offset="0.968" stop-color="#ff0200"/><stop offset="1" stop-color="#ff0100"/></linearGradient><linearGradient id="q434" gradientUnits="userSpaceOnUse" x1="110.5" y1="281.8" x2="128.4" y2="244.5"><stop offset="0" stop-color="#ffdd00"/><stop offset="0.064" stop-color="#ffc800"/><stop offset="0.261" stop-color="#ff8c00"/><stop offset="0.401" stop-color="#ff5700"/><stop offset="0.598" stop-color="#ff1b00"/><stop offset="0.984" stop-color="#ff0200"/><stop offset="1" stop-color="#ff0200"/></linearGradient><linearGradient id="q435" gradientUnits="userSpaceOnUse" x1="110.2" y1="278.2" x2="128.1" y2="246.6"><stop offset="0" stop-color="#ffbf00"/><stop offset="0.195" stop-color="#ff8c00"/><stop offset="0.358" stop-color="#ff5600"/><stop offset="0.586" stop-color="#ff1b00"/><stop offset="1" stop-color="#ff0300"/></linearGradient><linearGradient id="q436" gradientUnits="userSpaceOnUse" x1="109.7" y1="273.3" x2="127.6" y2="250.5"><stop offset="0" stop-color="#ff9900"/><stop offset="0.067" stop-color="#ff8c00"/><stop offset="0.284" stop-color="#ff5600"/><stop offset="0.588" stop-color="#ff1b00"/><stop offset="1" stop-color="#ff0400"/></linearGradient><linearGradient id="q437" gradientUnits="userSpaceOnUse" x1="109.3" y1="268.8" x2="127.2" y2="254.3"><stop offset="0" stop-color="#ff7300"/><stop offset="0.154" stop-color="#ff5700"/><stop offset="0.597" stop-color="#ff1b00"/><stop offset="1" stop-color="#ff0600"/></linearGradient><linearGradient id="q438" gradientUnits="userSpaceOnUse" x1="108.8" y1="262.1" x2="126.7" y2="258.8"><stop offset="0" stop-color="#ff3500"/><stop offset="0.563" stop-color="#ff1b00"/><stop offset="1" stop-color="#ff0800"/></linearGradient><linearGradient id="q439" gradientUnits="userSpaceOnUse" x1="108.1" y1="254.4" x2="126.0" y2="264.2"><stop offset="0" stop-color="#ff0800"/><stop offset="0.666" stop-color="#ff1b00"/><stop offset="1" stop-color="#ff2700"/></linearGradient><linearGradient id="q440" gradientUnits="userSpaceOnUse" x1="107.7" y1="251.0" x2="125.6" y2="267.0"><stop offset="0" stop-color="#ff0600"/><stop offset="0.615" stop-color="#ff1b00"/><stop offset="1" stop-color="#ff3800"/></linearGradient><linearGradient id="q441" gradientUnits="userSpaceOnUse" x1="107.5" y1="249.7" x2="125.4" y2="268.5"><stop offset="0" stop-color="#ff0500"/><stop offset="0.593" stop-color="#ff1b00"/><stop offset="1" stop-color="#ff4100"/></linearGradient><linearGradient id="q442" gradientUnits="userSpaceOnUse" x1="107.3" y1="248.0" x2="125.2" y2="270.5"><stop offset="0" stop-color="#ff0500"/><stop offset="0.569" stop-color="#ff1b00"/><stop offset="1" stop-color="#ff5500"/></linearGradient><linearGradient id="q443" gradientUnits="userSpaceOnUse" x1="107.0" y1="246.4" x2="125.0" y2="270.5"><stop offset="0" stop-color="#ff0400"/><stop offset="0.607" stop-color="#ff1b00"/><stop offset="1" stop-color="#ff5400"/></linearGradient><linearGradient id="q444" gradientUnits="userSpaceOnUse" x1="106.7" y1="244.5" x2="124.7" y2="267.9"><stop offset="0" stop-color="#ff0300"/><stop offset="0.731" stop-color="#ff1b00"/><stop offset="1" stop-color="#ff3b00"/></linearGradient><linearGradient id="q445" gradientUnits="userSpaceOnUse" x1="106.3" y1="242.3" x2="124.3" y2="264.7"><stop offset="0" stop-color="#ff0200"/><stop offset="0.023" stop-color="#ff0200"/><stop offset="0.895" stop-color="#ff1b00"/><stop offset="1" stop-color="#ff2700"/></linearGradient><linearGradient id="q446" gradientUnits="userSpaceOnUse" x1="106.0" y1="241.0" x2="124.0" y2="262.5"><stop offset="0" stop-color="#ff0100"/><stop offset="0.102" stop-color="#ff0200"/><stop offset="1" stop-color="#ff1900"/></linearGradient><linearGradient id="q447" gradientUnits="userSpaceOnUse" x1="105.2" y1="239.1" x2="123.3" y2="258.0"><stop offset="0" stop-color="#ff0000"/><stop offset="0.26" stop-color="#ff0200"/><stop offset="1" stop-color="#ff0700"/></linearGradient><linearGradient id="q448" gradientUnits="userSpaceOnUse" x1="104.3" y1="236.8" x2="122.3" y2="252.8"><stop offset="0" stop-color="#f50000"/><stop offset="0.027" stop-color="#f70000"/><stop offset="0.529" stop-color="#ff0200"/><stop offset="1" stop-color="#ff0500"/></linearGradient><linearGradient id="q449" gradientUnits="userSpaceOnUse" x1="103.7" y1="235.5" x2="121.8" y2="250.3"><stop offset="0" stop-color="#ef0000"/><stop offset="0.155" stop-color="#f70000"/><stop offset="0.715" stop-color="#ff0200"/><stop offset="1" stop-color="#ff0300"/></linearGradient><linearGradient id="q450" gradientUnits="userSpaceOnUse" x1="103.2" y1="234.5" x2="121.3" y2="248.2"><stop offset="0" stop-color="#e90000"/><stop offset="0.284" stop-color="#f70000"/><stop offset="0.899" stop-color="#ff0200"/><stop offset="1" stop-color="#ff0200"/></linearGradient><linearGradient id="q451" gradientUnits="userSpaceOnUse" x1="103.0" y1="234.1" x2="121.1" y2="247.4"><stop offset="0" stop-color="#e70000"/><stop offset="0.342" stop-color="#f70000"/><stop offset="0.98" stop-color="#ff0200"/><stop offset="1" stop-color="#ff0200"/></linearGradient><linearGradient id="q452" gradientUnits="userSpaceOnUse" x1="102.9" y1="233.8" x2="121.0" y2="247.0"><stop offset="0" stop-color="#e60000"/><stop offset="0.379" stop-color="#f70000"/><stop offset="1" stop-color="#ff0200"/></linearGradient><linearGradient id="q453" gradientUnits="userSpaceOnUse" x1="102.7" y1="233.4" x2="120.8" y2="246.2"><stop offset="0" stop-color="#e40000"/><stop offset="0.445" stop-color="#f70000"/><stop offset="1" stop-color="#ff0100"/></linearGradient><linearGradient id="q454" gradientUnits="userSpaceOnUse" x1="102.3" y1="232.8" x2="120.5" y2="245.4"><stop offset="0" stop-color="#e10000"/><stop offset="0.528" stop-color="#f70000"/><stop offset="1" stop-color="#ff0100"/></linearGradient><linearGradient id="q455" gradientUnits="userSpaceOnUse" x1="101.8" y1="231.9" x2="120.0" y2="244.3"><stop offset="0" stop-color="#db0000"/><stop offset="0.655" stop-color="#f70000"/><stop offset="1" stop-color="#ff0100"/></linearGradient><linearGradient id="q456" gradientUnits="userSpaceOnUse" x1="101.5" y1="231.2" x2="119.6" y2="243.5"><stop offset="0" stop-color="#d70000"/><stop offset="0.749" stop-color="#f70000"/><stop offset="1" stop-color="#ff0000"/></linearGradient><linearGradient id="q457" gradientUnits="userSpaceOnUse" x1="100.7" y1="229.9" x2="118.8" y2="241.9"><stop offset="0" stop-color="#cf0000"/><stop offset="0.005" stop-color="#cf0000"/><stop offset="0.954" stop-color="#f70000"/><stop offset="1" stop-color="#f80000"/></linearGradient><linearGradient id="q458" gradientUnits="userSpaceOnUse" x1="99.1" y1="227.5" x2="117.3" y2="239.0"><stop offset="0" stop-color="#c00000"/><stop offset="0.346" stop-color="#cf0000"/><stop offset="1" stop-color="#ea0000"/></linearGradient><linearGradient id="q459" gradientUnits="userSpaceOnUse" x1="97.5" y1="225.4" x2="115.7" y2="236.5"><stop offset="0" stop-color="#b20000"/><stop offset="0.684" stop-color="#cf0000"/><stop offset="1" stop-color="#dc0000"/></linearGradient><linearGradient id="q460" gradientUnits="userSpaceOnUse" x1="95.9" y1="223.4" x2="114.2" y2="234.3"><stop offset="0" stop-color="#a60000"/><stop offset="1" stop-color="#ce0000"/></linearGradient><linearGradient id="q461" gradientUnits="userSpaceOnUse" x1="94.3" y1="222.5" x2="112.6" y2="232.3"><stop offset="0" stop-color="#a00000"/><stop offset="0.066" stop-color="#a20000"/><stop offset="1" stop-color="#c20000"/></linearGradient><linearGradient id="q462" gradientUnits="userSpaceOnUse" x1="92.7" y1="222.7" x2="111.0" y2="230.4"><stop offset="0" stop-color="#9f0000"/><stop offset="0.136" stop-color="#a20000"/><stop offset="1" stop-color="#b60000"/></linearGradient><linearGradient id="q463" gradientUnits="userSpaceOnUse" x1="91.1" y1="222.9" x2="109.4" y2="228.8"><stop offset="0" stop-color="#9e0000"/><stop offset="0.291" stop-color="#a20000"/><stop offset="1" stop-color="#ac0000"/></linearGradient><linearGradient id="q464" gradientUnits="userSpaceOnUse" x1="86.2" y1="222.0" x2="104.6" y2="226.9"><stop offset="0" stop-color="#940000"/><stop offset="1" stop-color="#9c0000"/></linearGradient><linearGradient id="q465" gradientUnits="userSpaceOnUse" x1="185.5" y1="226.3" x2="203.8" y2="222.5"><stop offset="0" stop-color="#ff0000"/><stop offset="0.4" stop-color="#f70000"/><stop offset="1" stop-color="#e30000"/></linearGradient><linearGradient id="q466" gradientUnits="userSpaceOnUse" x1="184.3" y1="225.4" x2="202.6" y2="222.5"><stop offset="0" stop-color="#fe0000"/><stop offset="0.252" stop-color="#f70000"/><stop offset="1" stop-color="#e10000"/></linearGradient><linearGradient id="q467" gradientUnits="userSpaceOnUse" x1="183.2" y1="224.6" x2="201.5" y2="222.5"><stop offset="0" stop-color="#f80000"/><stop offset="0.06" stop-color="#f70000"/><stop offset="1" stop-color="#e00000"/></linearGradient><linearGradient id="q468" gradientUnits="userSpaceOnUse" x1="182.1" y1="223.8" x2="200.3" y2="222.5"><stop offset="0" stop-color="#f30000"/><stop offset="1" stop-color="#de0000"/></linearGradient><linearGradient id="q469" gradientUnits="userSpaceOnUse" x1="180.9" y1="223.1" x2="199.2" y2="222.5"><stop offset="0" stop-color="#ed0000"/><stop offset="1" stop-color="#dc0000"/></linearGradient><linearGradient id="q470" gradientUnits="userSpaceOnUse" x1="179.7" y1="222.4" x2="198.0" y2="222.6"><stop offset="0" stop-color="#e80000"/><stop offset="1" stop-color="#da0000"/></linearGradient><linearGradient id="q471" gradientUnits="userSpaceOnUse" x1="178.6" y1="221.8" x2="196.9" y2="222.6"><stop offset="0" stop-color="#e40000"/><stop offset="1" stop-color="#d90000"/></linearGradient><linearGradient id="q472" gradientUnits="userSpaceOnUse" x1="171.3" y1="218.5" x2="189.7" y2="222.8"><stop offset="0" stop-color="#c60000"/><stop offset="1" stop-color="#cf0000"/></linearGradient><linearGradient id="q473" gradientUnits="userSpaceOnUse" x1="170.1" y1="218.1" x2="188.5" y2="222.9"><stop offset="0" stop-color="#c10000"/><stop offset="1" stop-color="#cd0000"/></linearGradient><linearGradient id="q474" gradientUnits="userSpaceOnUse" x1="168.9" y1="217.6" x2="187.3" y2="222.9"><stop offset="0" stop-color="#bd0000"/><stop offset="1" stop-color="#cc0000"/></linearGradient><linearGradient id="q475" gradientUnits="userSpaceOnUse" x1="167.6" y1="217.2" x2="186.0" y2="223.0"><stop offset="0" stop-color="#b90000"/><stop offset="1" stop-color="#ca0000"/></linearGradient><linearGradient id="q476" gradientUnits="userSpaceOnUse" x1="166.7" y1="216.9" x2="185.1" y2="223.0"><stop offset="0" stop-color="#b60000"/><stop offset="1" stop-color="#c90000"/></linearGradient><linearGradient id="q477" gradientUnits="userSpaceOnUse" x1="166.1" y1="216.7" x2="184.5" y2="223.0"><stop offset="0" stop-color="#b40000"/><stop offset="1" stop-color="#c80000"/></linearGradient><linearGradient id="q478" gradientUnits="userSpaceOnUse" x1="165.8" y1="216.6" x2="184.2" y2="223.1"><stop offset="0" stop-color="#b30000"/><stop offset="1" stop-color="#c80000"/></linearGradient><linearGradient id="q479" gradientUnits="userSpaceOnUse" x1="165.6" y1="216.6" x2="184.1" y2="223.1"><stop offset="0" stop-color="#b20000"/><stop offset="1" stop-color="#c80000"/></linearGradient><linearGradient id="q480" gradientUnits="userSpaceOnUse" x1="165.4" y1="216.5" x2="183.9" y2="223.1"><stop offset="0" stop-color="#b20000"/><stop offset="1" stop-color="#c70000"/></linearGradient><linearGradient id="q481" gradientUnits="userSpaceOnUse" x1="165.2" y1="216.5" x2="183.7" y2="223.1"><stop offset="0" stop-color="#b10000"/><stop offset="1" stop-color="#c70000"/></linearGradient><linearGradient id="q482" gradientUnits="userSpaceOnUse" x1="165.0" y1="216.4" x2="183.4" y2="223.1"><stop offset="0" stop-color="#b00000"/><stop offset="1" stop-color="#c70000"/></linearGradient><linearGradient id="q483" gradientUnits="userSpaceOnUse" x1="164.7" y1="216.3" x2="183.1" y2="223.1"><stop offset="0" stop-color="#af0000"/><stop offset="1" stop-color="#c60000"/></linearGradient><linearGradient id="q484" gradientUnits="userSpaceOnUse" x1="164.4" y1="216.2" x2="182.9" y2="223.1"><stop offset="0" stop-color="#af0000"/><stop offset="1" stop-color="#c60000"/></linearGradient><linearGradient id="q485" gradientUnits="userSpaceOnUse" x1="163.8" y1="216.2" x2="182.2" y2="223.1"><stop offset="0" stop-color="#ae0000"/><stop offset="1" stop-color="#c50000"/></linearGradient><linearGradient id="q486" gradientUnits="userSpaceOnUse" x1="162.6" y1="216.4" x2="181.1" y2="223.1"><stop offset="0" stop-color="#ad0000"/><stop offset="1" stop-color="#c30000"/></linearGradient><linearGradient id="q487" gradientUnits="userSpaceOnUse" x1="161.3" y1="216.7" x2="179.8" y2="223.0"><stop offset="0" stop-color="#ad0000"/><stop offset="1" stop-color="#c10000"/></linearGradient><linearGradient id="q488" gradientUnits="userSpaceOnUse" x1="160.0" y1="217.0" x2="178.5" y2="222.9"><stop offset="0" stop-color="#ad0000"/><stop offset="1" stop-color="#be0000"/></linearGradient><linearGradient id="q489" gradientUnits="userSpaceOnUse" x1="158.7" y1="217.3" x2="177.2" y2="222.8"><stop offset="0" stop-color="#ad0000"/><stop offset="1" stop-color="#bc0000"/></linearGradient><linearGradient id="q490" gradientUnits="userSpaceOnUse" x1="157.3" y1="217.6" x2="176.0" y2="222.7"><stop offset="0" stop-color="#ad0000"/><stop offset="1" stop-color="#ba0000"/></linearGradient><linearGradient id="q491" gradientUnits="userSpaceOnUse" x1="156.0" y1="217.9" x2="174.7" y2="222.7"><stop offset="0" stop-color="#ad0000"/><stop offset="1" stop-color="#b70000"/></linearGradient><linearGradient id="q492" gradientUnits="userSpaceOnUse" x1="154.7" y1="218.2" x2="173.4" y2="222.6"><stop offset="0" stop-color="#ad0000"/><stop offset="1" stop-color="#b50000"/></linearGradient><linearGradient id="q493" gradientUnits="userSpaceOnUse" x1="138.1" y1="224.6" x2="157.1" y2="225.3"><stop offset="0" stop-color="#ba0000"/><stop offset="1" stop-color="#ad0000"/></linearGradient><linearGradient id="q494" gradientUnits="userSpaceOnUse" x1="136.7" y1="226.9" x2="155.7" y2="225.7"><stop offset="0" stop-color="#c50000"/><stop offset="1" stop-color="#ad0000"/></linearGradient><linearGradient id="q495" gradientUnits="userSpaceOnUse" x1="135.3" y1="229.2" x2="154.3" y2="226.9"><stop offset="0" stop-color="#d00000"/><stop offset="0.024" stop-color="#cf0000"/><stop offset="1" stop-color="#b20000"/></linearGradient><linearGradient id="q496" gradientUnits="userSpaceOnUse" x1="134.6" y1="230.5" x2="153.6" y2="228.1"><stop offset="0" stop-color="#d60000"/><stop offset="0.221" stop-color="#cf0000"/><stop offset="1" stop-color="#b70000"/></linearGradient><linearGradient id="q497" gradientUnits="userSpaceOnUse" x1="134.3" y1="231.1" x2="153.3" y2="228.6"><stop offset="0" stop-color="#d90000"/><stop offset="0.301" stop-color="#cf0000"/><stop offset="1" stop-color="#b90000"/></linearGradient><linearGradient id="q498" gradientUnits="userSpaceOnUse" x1="133.9" y1="231.8" x2="152.9" y2="229.2"><stop offset="0" stop-color="#dc0000"/><stop offset="0.407" stop-color="#cf0000"/><stop offset="1" stop-color="#bc0000"/></linearGradient><linearGradient id="q499" gradientUnits="userSpaceOnUse" x1="133.6" y1="232.4" x2="152.6" y2="229.7"><stop offset="0" stop-color="#df0000"/><stop offset="0.485" stop-color="#cf0000"/><stop offset="1" stop-color="#bf0000"/></linearGradient><linearGradient id="q500" gradientUnits="userSpaceOnUse" x1="133.3" y1="232.8" x2="152.4" y2="230.1"><stop offset="0" stop-color="#e10000"/><stop offset="0.547" stop-color="#cf0000"/><stop offset="1" stop-color="#c00000"/></linearGradient><linearGradient id="q501" gradientUnits="userSpaceOnUse" x1="133.1" y1="233.3" x2="152.1" y2="230.5"><stop offset="0" stop-color="#e20000"/><stop offset="0.605" stop-color="#cf0000"/><stop offset="1" stop-color="#c20000"/></linearGradient><linearGradient id="q502" gradientUnits="userSpaceOnUse" x1="132.9" y1="233.6" x2="152.0" y2="230.8"><stop offset="0" stop-color="#e40000"/><stop offset="0.651" stop-color="#cf0000"/><stop offset="1" stop-color="#c40000"/></linearGradient><linearGradient id="q503" gradientUnits="userSpaceOnUse" x1="132.6" y1="234.4" x2="151.6" y2="231.5"><stop offset="0" stop-color="#e70000"/><stop offset="0.747" stop-color="#cf0000"/><stop offset="1" stop-color="#c70000"/></linearGradient><linearGradient id="q504" gradientUnits="userSpaceOnUse" x1="131.9" y1="235.7" x2="150.9" y2="232.7"><stop offset="0" stop-color="#ec0000"/><stop offset="0.918" stop-color="#cf0000"/><stop offset="1" stop-color="#cc0000"/></linearGradient><linearGradient id="q505" gradientUnits="userSpaceOnUse" x1="130.8" y1="238.2" x2="149.8" y2="234.9"><stop offset="0" stop-color="#f60000"/><stop offset="1" stop-color="#d60000"/></linearGradient><linearGradient id="q506" gradientUnits="userSpaceOnUse" x1="129.9" y1="240.3" x2="148.9" y2="236.7"><stop offset="0" stop-color="#ff0000"/><stop offset="0.257" stop-color="#f70000"/><stop offset="1" stop-color="#df0000"/></linearGradient><linearGradient id="q507" gradientUnits="userSpaceOnUse" x1="129.4" y1="241.5" x2="148.4" y2="237.8"><stop offset="0" stop-color="#ff0000"/><stop offset="0.396" stop-color="#f70000"/><stop offset="1" stop-color="#e30000"/></linearGradient><linearGradient id="q508" gradientUnits="userSpaceOnUse" x1="128.9" y1="242.7" x2="148.0" y2="238.8"><stop offset="0" stop-color="#ff0100"/><stop offset="0.534" stop-color="#f70000"/><stop offset="1" stop-color="#e70000"/></linearGradient><linearGradient id="q509" gradientUnits="userSpaceOnUse" x1="128.7" y1="243.4" x2="147.7" y2="239.4"><stop offset="0" stop-color="#ff0100"/><stop offset="0.612" stop-color="#f70000"/><stop offset="1" stop-color="#e90000"/></linearGradient><linearGradient id="q510" gradientUnits="userSpaceOnUse" x1="128.6" y1="243.7" x2="147.6" y2="239.7"><stop offset="0" stop-color="#ff0100"/><stop offset="0.646" stop-color="#f70000"/><stop offset="1" stop-color="#eb0000"/></linearGradient><linearGradient id="q511" gradientUnits="userSpaceOnUse" x1="128.4" y1="244.5" x2="147.4" y2="240.0"><stop offset="0" stop-color="#ff0200"/><stop offset="0.701" stop-color="#f70000"/><stop offset="1" stop-color="#ec0000"/></linearGradient><linearGradient id="q512" gradientUnits="userSpaceOnUse" x1="128.1" y1="246.6" x2="147.1" y2="240.7"><stop offset="0" stop-color="#ff0300"/><stop offset="0.139" stop-color="#ff0200"/><stop offset="0.81" stop-color="#f70000"/><stop offset="1" stop-color="#ef0000"/></linearGradient><linearGradient id="q513" gradientUnits="userSpaceOnUse" x1="127.6" y1="250.5" x2="146.7" y2="241.9"><stop offset="0" stop-color="#ff0400"/><stop offset="0.42" stop-color="#ff0200"/><stop offset="0.936" stop-color="#f70000"/><stop offset="1" stop-color="#f30000"/></linearGradient><linearGradient id="q514" gradientUnits="userSpaceOnUse" x1="127.2" y1="254.3" x2="146.2" y2="242.9"><stop offset="0" stop-color="#ff0600"/><stop offset="0.589" stop-color="#ff0200"/><stop offset="1" stop-color="#f70000"/></linearGradient><linearGradient id="q515" gradientUnits="userSpaceOnUse" x1="126.7" y1="258.8" x2="145.7" y2="244.2"><stop offset="0" stop-color="#ff0800"/><stop offset="0.724" stop-color="#ff0200"/><stop offset="1" stop-color="#fc0000"/></linearGradient><linearGradient id="q516" gradientUnits="userSpaceOnUse" x1="126.0" y1="264.2" x2="145.1" y2="246.0"><stop offset="0" stop-color="#ff2700"/><stop offset="0.091" stop-color="#ff1b00"/><stop offset="0.842" stop-color="#ff0200"/><stop offset="1" stop-color="#ff0000"/></linearGradient><linearGradient id="q517" gradientUnits="userSpaceOnUse" x1="125.6" y1="267.0" x2="144.7" y2="247.1"><stop offset="0" stop-color="#ff3800"/><stop offset="0.2" stop-color="#ff1b00"/><stop offset="0.893" stop-color="#ff0200"/><stop offset="1" stop-color="#ff0100"/></linearGradient><linearGradient id="q518" gradientUnits="userSpaceOnUse" x1="125.4" y1="268.5" x2="144.5" y2="247.6"><stop offset="0" stop-color="#ff4100"/><stop offset="0.252" stop-color="#ff1a00"/><stop offset="0.916" stop-color="#ff0200"/><stop offset="1" stop-color="#ff0100"/></linearGradient><linearGradient id="q519" gradientUnits="userSpaceOnUse" x1="125.2" y1="270.5" x2="144.3" y2="248.3"><stop offset="0" stop-color="#ff5500"/><stop offset="0.313" stop-color="#ff1b00"/><stop offset="0.942" stop-color="#ff0200"/><stop offset="1" stop-color="#ff0100"/></linearGradient><linearGradient id="q520" gradientUnits="userSpaceOnUse" x1="125.0" y1="270.5" x2="144.0" y2="249.1"><stop offset="0" stop-color="#ff5400"/><stop offset="0.321" stop-color="#ff1a00"/><stop offset="0.972" stop-color="#ff0200"/><stop offset="1" stop-color="#ff0200"/></linearGradient><linearGradient id="q521" gradientUnits="userSpaceOnUse" x1="124.7" y1="267.9" x2="143.7" y2="250.5"><stop offset="0" stop-color="#ff3b00"/><stop offset="0.251" stop-color="#ff1b00"/><stop offset="1" stop-color="#ff0200"/></linearGradient><linearGradient id="q522" gradientUnits="userSpaceOnUse" x1="124.3" y1="264.7" x2="143.3" y2="252.5"><stop offset="0" stop-color="#ff2700"/><stop offset="0.124" stop-color="#ff1b00"/><stop offset="1" stop-color="#ff0300"/></linearGradient><linearGradient id="q523" gradientUnits="userSpaceOnUse" x1="124.0" y1="262.5" x2="143.0" y2="254.0"><stop offset="0" stop-color="#ff1900"/><stop offset="1" stop-color="#ff0400"/></linearGradient><linearGradient id="q524" gradientUnits="userSpaceOnUse" x1="123.3" y1="258.0" x2="142.2" y2="258.6"><stop offset="0" stop-color="#ff0700"/><stop offset="1" stop-color="#ff0600"/></linearGradient><linearGradient id="q525" gradientUnits="userSpaceOnUse" x1="122.3" y1="252.8" x2="141.2" y2="264.2"><stop offset="0" stop-color="#ff0500"/><stop offset="1" stop-color="#ff0800"/></linearGradient><linearGradient id="q526" gradientUnits="userSpaceOnUse" x1="121.8" y1="250.3" x2="140.7" y2="267.1"><stop offset="0" stop-color="#ff0300"/><stop offset="1" stop-color="#ff1700"/></linearGradient><linearGradient id="q527" gradientUnits="userSpaceOnUse" x1="121.3" y1="248.2" x2="140.2" y2="269.3"><stop offset="0" stop-color="#ff0200"/><stop offset="0.917" stop-color="#ff1b00"/><stop offset="1" stop-color="#ff2300"/></linearGradient><linearGradient id="q528" gradientUnits="userSpaceOnUse" x1="121.1" y1="247.4" x2="140.0" y2="270.3"><stop offset="0" stop-color="#ff0200"/><stop offset="0.878" stop-color="#ff1b00"/><stop offset="1" stop-color="#ff2800"/></linearGradient><linearGradient id="q529" gradientUnits="userSpaceOnUse" x1="121.0" y1="247.0" x2="139.8" y2="270.9"><stop offset="0" stop-color="#ff0200"/><stop offset="0.015" stop-color="#ff0200"/><stop offset="0.856" stop-color="#ff1b00"/><stop offset="1" stop-color="#ff2c00"/></linearGradient><linearGradient id="q530" gradientUnits="userSpaceOnUse" x1="120.8" y1="246.2" x2="139.6" y2="270.9"><stop offset="0" stop-color="#ff0100"/><stop offset="0.055" stop-color="#ff0200"/><stop offset="0.864" stop-color="#ff1b00"/><stop offset="1" stop-color="#ff2c00"/></linearGradient><linearGradient id="q531" gradientUnits="userSpaceOnUse" x1="120.5" y1="245.4" x2="139.3" y2="269.6"><stop offset="0" stop-color="#ff0100"/><stop offset="0.1" stop-color="#ff0200"/><stop offset="0.927" stop-color="#ff1b00"/><stop offset="1" stop-color="#ff2400"/></linearGradient><linearGradient id="q532" gradientUnits="userSpaceOnUse" x1="120.0" y1="244.3" x2="138.9" y2="267.8"><stop offset="0" stop-color="#ff0100"/><stop offset="0.167" stop-color="#ff0200"/><stop offset="1" stop-color="#ff1800"/></linearGradient><linearGradient id="q533" gradientUnits="userSpaceOnUse" x1="119.6" y1="243.5" x2="138.5" y2="266.5"><stop offset="0" stop-color="#ff0000"/><stop offset="0.218" stop-color="#ff0200"/><stop offset="1" stop-color="#ff0f00"/></linearGradient><linearGradient id="q534" gradientUnits="userSpaceOnUse" x1="118.8" y1="241.9" x2="137.8" y2="262.7"><stop offset="0" stop-color="#f80000"/><stop offset="0.355" stop-color="#ff0200"/><stop offset="1" stop-color="#ff0700"/></linearGradient><linearGradient id="q535" gradientUnits="userSpaceOnUse" x1="117.3" y1="239.0" x2="136.3" y2="256.2"><stop offset="0" stop-color="#ea0000"/><stop offset="0.216" stop-color="#f70000"/><stop offset="0.701" stop-color="#ff0200"/><stop offset="1" stop-color="#ff0400"/></linearGradient><linearGradient id="q536" gradientUnits="userSpaceOnUse" x1="115.7" y1="236.5" x2="134.8" y2="250.9"><stop offset="0" stop-color="#dc0000"/><stop offset="0.549" stop-color="#f70000"/><stop offset="1" stop-color="#ff0100"/></linearGradient><linearGradient id="q537" gradientUnits="userSpaceOnUse" x1="114.2" y1="234.3" x2="133.3" y2="246.5"><stop offset="0" stop-color="#ce0000"/><stop offset="0.015" stop-color="#cf0000"/><stop offset="0.992" stop-color="#f70000"/><stop offset="1" stop-color="#f70000"/></linearGradient><linearGradient id="q538" gradientUnits="userSpaceOnUse" x1="112.6" y1="232.3" x2="131.8" y2="242.9"><stop offset="0" stop-color="#c20000"/><stop offset="0.365" stop-color="#cf0000"/><stop offset="1" stop-color="#e50000"/></linearGradient><linearGradient id="q539" gradientUnits="userSpaceOnUse" x1="111.0" y1="230.4" x2="130.3" y2="239.7"><stop offset="0" stop-color="#b60000"/><stop offset="0.838" stop-color="#cf0000"/><stop offset="1" stop-color="#d40000"/></linearGradient><linearGradient id="q540" gradientUnits="userSpaceOnUse" x1="109.4" y1="228.8" x2="128.7" y2="236.9"><stop offset="0" stop-color="#ac0000"/><stop offset="1" stop-color="#c40000"/></linearGradient><linearGradient id="q541" gradientUnits="userSpaceOnUse" x1="107.8" y1="227.3" x2="127.1" y2="234.5"><stop offset="0" stop-color="#a20000"/><stop offset="1" stop-color="#b50000"/></linearGradient><linearGradient id="q542" gradientUnits="userSpaceOnUse" x1="106.2" y1="226.8" x2="125.5" y2="232.3"><stop offset="0" stop-color="#9e0000"/><stop offset="0.397" stop-color="#a20000"/><stop offset="1" stop-color="#a80000"/></linearGradient></defs>
<style>.cl{fill:none;stroke:#3a0000;stroke-width:.45;stroke-opacity:.55}</style>
<g stroke-width="0.22" stroke-linejoin="round" shape-rendering="crispEdges">
<path d="M105.4 213.6L120.1 202.7L121.3 202.0L106.7 213.0Z" fill="url(#q1)" stroke="url(#q1)"/>
<path d="M116.7 205.2L117.4 204.9" class="cl"/>
<path d="M104.2 214.3L118.8 203.5L120.1 202.7L105.4 213.6Z" fill="url(#q2)" stroke="url(#q2)"/>
<path d="M116.0 205.5L116.7 205.2" class="cl"/>
<path d="M103.0 214.9L117.6 204.3L118.8 203.5L104.2 214.3Z" fill="url(#q3)" stroke="url(#q3)"/>
<path d="M115.4 205.9L116.0 205.5" class="cl"/>
<path d="M101.7 215.5L116.3 205.1L117.6 204.3L103.0 214.9Z" fill="url(#q4)" stroke="url(#q4)"/>
<path d="M114.8 206.2L115.4 205.9" class="cl"/>
<path d="M100.5 216.2L115.1 205.9L116.3 205.1L101.7 215.5Z" fill="url(#q5)" stroke="url(#q5)"/>
<path d="M114.2 206.5L114.8 206.2" class="cl"/>
<path d="M99.2 216.9L113.8 206.7L115.1 205.9L100.5 216.2Z" fill="url(#q6)" stroke="url(#q6)"/>
<path d="M113.6 206.9L114.2 206.5" class="cl"/>
<path d="M98.0 218.3L112.6 207.6L113.8 206.7L99.2 216.9Z" fill="url(#q7)" stroke="url(#q7)"/>
<path d="M113.5 207.0L113.6 206.9" class="cl"/>
<path d="M99.2 217.5L99.1 217.0" class="cl"/>
<path d="M96.7 220.4L111.3 208.6L112.6 207.6L98.0 218.3Z" fill="url(#q8)" stroke="url(#q8)"/>
<path d="M99.6 218.0L99.2 217.5" class="cl"/>
<path d="M95.5 222.6L110.0 209.6L111.3 208.6L96.7 220.4Z" fill="url(#q9)" stroke="url(#q9)"/>
<path d="M100.0 218.6L99.6 218.0" class="cl"/>
<path d="M94.2 224.9L108.8 210.6L110.0 209.6L95.5 222.6Z" fill="url(#q10)" stroke="url(#q10)"/>
<path d="M100.2 219.1L100.0 218.6" class="cl"/>
<path d="M92.9 227.6L107.5 211.7L108.8 210.6L94.2 224.9Z" fill="url(#q11)" stroke="url(#q11)"/>
<path d="M100.3 219.6L100.2 219.1" class="cl"/>
<path d="M91.7 230.5L106.2 212.8L107.5 211.7L92.9 227.6Z" fill="url(#q12)" stroke="url(#q12)"/>
<path d="M100.2 220.1L100.3 219.6" class="cl"/>
<path d="M90.4 234.7L104.9 213.9L106.2 212.8L91.7 230.5Z" fill="url(#q13)" stroke="url(#q13)"/>
<path d="M100.3 220.6L100.2 220.1" class="cl"/>
<path d="M92.6 231.6L91.5 230.9" class="cl"/>
<path d="M89.2 240.0L103.6 215.1L104.9 213.9L90.4 234.7Z" fill="url(#q14)" stroke="url(#q14)"/>
<path d="M100.2 221.1L100.3 220.6" class="cl"/>
<path d="M93.6 232.3L92.6 231.6" class="cl"/>
<path d="M87.9 247.1L102.3 216.3L103.6 215.1L89.2 240.0Z" fill="url(#q15)" stroke="url(#q15)"/>
<path d="M99.9 221.5L100.2 221.1" class="cl"/>
<path d="M94.5 233.1L93.6 232.3" class="cl"/>
<path d="M89.2 244.3L88.5 243.9" class="cl"/>
<path d="M86.7 258.4L101.0 217.6L102.3 216.3L87.9 247.1Z" fill="url(#q16)" stroke="url(#q16)"/>
<path d="M99.5 222.0L99.9 221.5" class="cl"/>
<path d="M95.3 233.8L94.5 233.1" class="cl"/>
<path d="M91.3 245.4L89.2 244.3" class="cl"/>
<path d="M87.3 256.7L86.9 256.5" class="cl"/>
<path d="M86.1 267.8L100.3 218.3L101.0 217.6L86.7 258.4Z" fill="url(#q17)" stroke="url(#q17)"/>
<path d="M99.2 222.2L99.5 222.0" class="cl"/>
<path d="M95.8 234.2L95.3 233.8" class="cl"/>
<path d="M92.4 245.9L91.3 245.4" class="cl"/>
<path d="M89.1 257.4L87.3 256.7" class="cl"/>
<path d="M85.7 279.3L99.8 218.8L100.3 218.3L86.1 267.8Z" fill="url(#q18)" stroke="url(#q18)"/>
<path d="M99.0 222.3L99.2 222.2" class="cl"/>
<path d="M96.2 234.5L95.8 234.2" class="cl"/>
<path d="M93.4 246.4L92.4 245.9" class="cl"/>
<path d="M90.7 258.0L89.1 257.4" class="cl"/>
<path d="M88.0 269.6L86.1 268.8" class="cl"/>
<path d="M85.7 282.4L99.7 218.9L99.8 218.8L85.7 279.3Z" fill="url(#q19)" stroke="url(#q19)"/>
<path d="M98.9 222.4L99.0 222.3" class="cl"/>
<path d="M96.2 234.5L96.2 234.5" class="cl"/>
<path d="M93.6 246.4L93.4 246.4" class="cl"/>
<path d="M91.0 258.2L90.7 258.0" class="cl"/>
<path d="M88.5 269.7L88.0 269.6" class="cl"/>
<path d="M86.0 281.1L85.7 281.0" class="cl"/>
<path d="M85.6 291.2L99.5 219.1L99.7 218.9L85.7 282.4Z" fill="url(#q20)" stroke="url(#q20)"/>
<path d="M98.8 222.4L98.9 222.4" class="cl"/>
<path d="M96.5 234.7L96.2 234.5" class="cl"/>
<path d="M94.2 246.7L93.6 246.4" class="cl"/>
<path d="M91.9 258.5L91.0 258.2" class="cl"/>
<path d="M89.6 270.1L88.5 269.7" class="cl"/>
<path d="M87.4 281.6L86.0 281.1" class="cl"/>
<path d="M85.5 305.8L99.3 219.3L99.5 219.1L85.6 291.2Z" fill="url(#q21)" stroke="url(#q21)"/>
<path d="M98.8 222.5L98.8 222.4" class="cl"/>
<path d="M96.8 234.8L96.5 234.7" class="cl"/>
<path d="M94.9 246.9L94.2 246.7" class="cl"/>
<path d="M93.0 258.8L91.9 258.5" class="cl"/>
<path d="M91.1 270.6L89.6 270.1" class="cl"/>
<path d="M89.3 282.2L87.4 281.6" class="cl"/>
<path d="M87.5 293.6L85.6 292.9" class="cl"/>
<path d="M85.7 304.8L85.5 304.8" class="cl"/>
<path d="M85.1 290.8L99.1 219.5L99.3 219.3L85.5 305.8Z" fill="url(#q22)" stroke="url(#q22)"/>
<path d="M98.5 222.6L98.8 222.5" class="cl"/>
<path d="M96.1 234.8L96.8 234.8" class="cl"/>
<path d="M93.7 246.8L94.9 246.9" class="cl"/>
<path d="M91.4 258.6L93.0 258.8" class="cl"/>
<path d="M89.2 270.2L91.1 270.6" class="cl"/>
<path d="M86.9 281.7L89.3 282.2" class="cl"/>
<path d="M87.5 293.6L85.2 293.1" class="cl"/>
<path d="M85.7 304.8L85.5 304.8" class="cl"/>
<path d="M84.7 278.9L98.7 219.9L99.1 219.5L85.1 290.8Z" fill="url(#q23)" stroke="url(#q23)"/>
<path d="M98.1 222.6L98.5 222.6" class="cl"/>
<path d="M95.2 234.7L96.1 234.8" class="cl"/>
<path d="M92.4 246.6L93.7 246.8" class="cl"/>
<path d="M89.6 258.3L91.4 258.6" class="cl"/>
<path d="M86.9 269.8L89.2 270.2" class="cl"/>
<path d="M86.9 281.7L84.8 281.3" class="cl"/>
<path d="M84.2 270.5L98.4 220.3L98.7 219.9L84.7 278.9Z" fill="url(#q24)" stroke="url(#q24)"/>
<path d="M97.7 222.7L98.1 222.6" class="cl"/>
<path d="M94.3 234.7L95.2 234.7" class="cl"/>
<path d="M91.0 246.5L92.4 246.6" class="cl"/>
<path d="M87.7 258.1L89.6 258.3" class="cl"/>
<path d="M84.5 269.5L86.9 269.8" class="cl"/>
<path d="M84.0 267.6L98.2 220.4L98.4 220.3L84.2 270.5Z" fill="url(#q25)" stroke="url(#q25)"/>
<path d="M97.5 222.7L97.7 222.7" class="cl"/>
<path d="M93.9 234.7L94.3 234.7" class="cl"/>
<path d="M90.4 246.5L91.0 246.5" class="cl"/>
<path d="M86.9 258.0L87.7 258.1" class="cl"/>
<path d="M84.5 269.5L84.2 269.4" class="cl"/>
<path d="M82.7 254.1L97.1 221.7L98.2 220.4L84.0 267.6Z" fill="url(#q26)" stroke="url(#q26)"/>
<path d="M96.5 223.0L97.5 222.7" class="cl"/>
<path d="M91.3 234.7L93.9 234.7" class="cl"/>
<path d="M86.2 246.2L90.4 246.5" class="cl"/>
<path d="M86.9 258.0L83.1 257.6" class="cl"/>
<path d="M81.3 244.9L95.7 223.2L97.1 221.7L82.7 254.1Z" fill="url(#q27)" stroke="url(#q27)"/>
<path d="M95.6 223.4L96.5 223.0" class="cl"/>
<path d="M88.1 234.7L91.3 234.7" class="cl"/>
<path d="M86.2 246.2L81.4 245.7" class="cl"/>
<path d="M79.8 236.6L94.4 225.4L95.7 223.2L81.3 244.9Z" fill="url(#q28)" stroke="url(#q28)"/>
<path d="M95.6 223.4L95.6 223.4" class="cl"/>
<path d="M82.9 234.3L88.1 234.7" class="cl"/>
<path d="M78.4 231.5L93.1 227.9L94.4 225.4L79.8 236.6Z" fill="url(#q29)" stroke="url(#q29)"/>
<path d="M82.9 234.3L79.1 233.8" class="cl"/>
<path d="M77.0 227.9L91.7 230.6L93.1 227.9L78.4 231.5Z" fill="url(#q30)" stroke="url(#q30)"/>
<path d="M75.6 224.9L90.4 233.7L91.7 230.6L77.0 227.9Z" fill="url(#q31)" stroke="url(#q31)"/>
<path d="M74.2 222.3L89.1 237.2L90.4 233.7L75.6 224.9Z" fill="url(#q32)" stroke="url(#q32)"/>
<path d="M72.7 219.5L87.8 244.2L89.1 237.2L74.2 222.3Z" fill="url(#q33)" stroke="url(#q33)"/>
<path d="M74.9 223.0L74.2 222.3" class="cl"/>
<path d="M83.6 237.3L88.9 237.8" class="cl"/>
<path d="M71.3 216.9L86.5 255.3L87.8 244.2L72.7 219.5Z" fill="url(#q34)" stroke="url(#q34)"/>
<path d="M73.8 223.3L74.9 223.0" class="cl"/>
<path d="M79.3 237.1L83.6 237.3" class="cl"/>
<path d="M84.8 251.0L87.0 251.2" class="cl"/>
<path d="M70.4 215.5L85.7 266.7L86.5 255.3L71.3 216.9Z" fill="url(#q35)" stroke="url(#q35)"/>
<path d="M72.8 223.5L73.8 223.3" class="cl"/>
<path d="M76.8 237.0L79.3 237.1" class="cl"/>
<path d="M80.9 250.6L84.8 251.0" class="cl"/>
<path d="M85.0 264.2L85.9 264.3" class="cl"/>
<path d="M69.9 214.7L85.4 277.2L85.7 266.7L70.4 215.5Z" fill="url(#q36)" stroke="url(#q36)"/>
<path d="M72.1 223.5L72.8 223.5" class="cl"/>
<path d="M75.4 236.9L76.8 237.0" class="cl"/>
<path d="M78.7 250.3L80.9 250.6" class="cl"/>
<path d="M82.0 263.7L85.0 264.2" class="cl"/>
<path d="M85.3 277.1L85.4 277.1" class="cl"/>
<path d="M69.8 214.6L85.3 278.5L85.4 277.2L69.9 214.7Z" fill="url(#q37)" stroke="url(#q37)"/>
<path d="M72.0 223.5L72.1 223.5" class="cl"/>
<path d="M75.2 236.9L75.4 236.9" class="cl"/>
<path d="M78.5 250.3L78.7 250.3" class="cl"/>
<path d="M81.7 263.7L82.0 263.7" class="cl"/>
<path d="M85.0 277.1L85.3 277.1" class="cl"/>
<path d="M69.5 214.1L85.1 290.5L85.3 278.5L69.8 214.6Z" fill="url(#q38)" stroke="url(#q38)"/>
<path d="M71.4 223.6L72.0 223.5" class="cl"/>
<path d="M74.1 236.9L75.2 236.9" class="cl"/>
<path d="M76.8 250.1L78.5 250.3" class="cl"/>
<path d="M79.6 263.3L81.7 263.7" class="cl"/>
<path d="M82.3 276.6L85.0 277.1" class="cl"/>
<path d="M85.0 289.7L85.1 289.8" class="cl"/>
<path d="M69.2 213.8L85.1 304.7L85.1 290.5L69.5 214.1Z" fill="url(#q39)" stroke="url(#q39)"/>
<path d="M70.9 223.6L71.4 223.6" class="cl"/>
<path d="M73.2 236.8L74.1 236.9" class="cl"/>
<path d="M75.5 249.9L76.8 250.1" class="cl"/>
<path d="M77.8 263.0L79.6 263.3" class="cl"/>
<path d="M80.1 276.1L82.3 276.6" class="cl"/>
<path d="M82.4 289.2L85.0 289.7" class="cl"/>
<path d="M84.6 302.2L85.1 302.3" class="cl"/>
<path d="M69.0 213.5L84.7 289.6L85.1 304.7L69.2 213.8Z" fill="url(#q40)" stroke="url(#q40)"/>
<path d="M71.1 223.7L70.9 223.6" class="cl"/>
<path d="M73.8 237.0L73.2 236.8" class="cl"/>
<path d="M76.6 250.3L75.5 249.9" class="cl"/>
<path d="M79.3 263.5L77.8 263.0" class="cl"/>
<path d="M82.0 276.7L80.1 276.1" class="cl"/>
<path d="M84.7 289.9L82.4 289.2" class="cl"/>
<path d="M85.0 302.3L84.6 302.2" class="cl"/>
<path d="M68.7 213.0L84.2 277.4L84.7 289.6L69.0 213.5Z" fill="url(#q41)" stroke="url(#q41)"/>
<path d="M71.3 223.9L71.1 223.7" class="cl"/>
<path d="M74.5 237.3L73.8 237.0" class="cl"/>
<path d="M77.7 250.7L76.6 250.3" class="cl"/>
<path d="M81.0 264.1L79.3 263.5" class="cl"/>
<path d="M84.2 277.5L82.0 276.7" class="cl"/>
<path d="M68.4 212.7L83.9 271.8L84.2 277.4L68.7 213.0Z" fill="url(#q42)" stroke="url(#q42)"/>
<path d="M71.4 224.0L71.3 223.9" class="cl"/>
<path d="M74.9 237.4L74.5 237.3" class="cl"/>
<path d="M78.4 250.9L77.7 250.7" class="cl"/>
<path d="M82.0 264.4L81.0 264.1" class="cl"/>
<path d="M68.1 212.3L83.5 265.7L83.9 271.8L68.4 212.7Z" fill="url(#q43)" stroke="url(#q43)"/>
<path d="M71.5 224.1L71.4 224.0" class="cl"/>
<path d="M75.4 237.7L74.9 237.4" class="cl"/>
<path d="M79.4 251.3L78.4 250.9" class="cl"/>
<path d="M83.3 264.9L82.0 264.4" class="cl"/>
<path d="M67.0 210.9L82.3 252.9L83.5 265.7L68.1 212.3Z" fill="url(#q44)" stroke="url(#q44)"/>
<path d="M72.0 224.6L71.5 224.1" class="cl"/>
<path d="M77.0 238.5L75.4 237.7" class="cl"/>
<path d="M82.1 252.4L79.4 251.3" class="cl"/>
<path d="M83.5 265.0L83.3 264.9" class="cl"/>
<path d="M65.5 209.3L80.8 243.0L82.3 252.9L67.0 210.9Z" fill="url(#q45)" stroke="url(#q45)"/>
<path d="M66.4 211.3L66.9 210.9" class="cl"/>
<path d="M72.8 225.3L72.0 224.6" class="cl"/>
<path d="M79.2 239.6L77.0 238.5" class="cl"/>
<path d="M82.2 252.5L82.1 252.4" class="cl"/>
<path d="M64.0 207.8L79.3 236.3L80.8 243.0L65.5 209.3Z" fill="url(#q46)" stroke="url(#q46)"/>
<path d="M66.1 211.7L66.4 211.3" class="cl"/>
<path d="M73.8 226.1L72.8 225.3" class="cl"/>
<path d="M80.1 240.0L79.2 239.6" class="cl"/>
<path d="M62.6 206.5L77.8 231.4L79.3 236.3L64.0 207.8Z" fill="url(#q47)" stroke="url(#q47)"/>
<path d="M66.1 212.2L66.1 211.7" class="cl"/>
<path d="M75.1 226.9L73.8 226.1" class="cl"/>
<path d="M61.1 205.6L76.3 227.2L77.8 231.4L62.6 206.5Z" fill="url(#q48)" stroke="url(#q48)"/>
<path d="M66.1 212.7L66.1 212.2" class="cl"/>
<path d="M76.5 227.7L75.1 226.9" class="cl"/>
<path d="M59.8 205.9L75.0 223.2L76.3 227.2L61.1 205.6Z" fill="url(#q49)" stroke="url(#q49)"/>
<path d="M66.2 213.2L66.1 212.7" class="cl"/>
<path d="M59.6 205.9L74.8 222.7L75.0 223.2L59.8 205.9Z" fill="url(#q50)" stroke="url(#q50)"/>
<path d="M66.3 213.3L66.2 213.2" class="cl"/>
<path d="M59.2 206.0L74.4 221.6L74.8 222.7L59.6 205.9Z" fill="url(#q51)" stroke="url(#q51)"/>
<path d="M66.5 213.5L66.3 213.3" class="cl"/>
<path d="M58.9 206.0L74.0 220.7L74.4 221.6L59.2 206.0Z" fill="url(#q52)" stroke="url(#q52)"/>
<path d="M66.7 213.6L66.5 213.5" class="cl"/>
<path d="M58.6 206.1L73.7 220.1L74.0 220.7L58.9 206.0Z" fill="url(#q53)" stroke="url(#q53)"/>
<path d="M66.9 213.7L66.7 213.6" class="cl"/>
<path d="M58.4 206.1L73.5 219.6L73.7 220.1L58.6 206.1Z" fill="url(#q54)" stroke="url(#q54)"/>
<path d="M67.1 213.9L66.9 213.7" class="cl"/>
<path d="M58.2 206.1L73.3 219.0L73.5 219.6L58.4 206.1Z" fill="url(#q55)" stroke="url(#q55)"/>
<path d="M67.4 214.0L67.1 213.9" class="cl"/>
<path d="M58.1 206.1L73.1 218.8L73.3 219.0L58.2 206.1Z" fill="url(#q56)" stroke="url(#q56)"/>
<path d="M67.5 214.1L67.4 214.0" class="cl"/>
<path d="M57.5 205.9L72.5 217.5L73.1 218.8L58.1 206.1Z" fill="url(#q57)" stroke="url(#q57)"/>
<path d="M68.6 214.5L67.5 214.1" class="cl"/>
<path d="M56.7 205.5L71.7 215.9L72.5 217.5L57.5 205.9Z" fill="url(#q58)" stroke="url(#q58)"/>
<path d="M70.5 215.0L68.6 214.5" class="cl"/>
<path d="M55.2 205.0L70.2 213.2L71.7 215.9L56.7 205.5Z" fill="url(#q59)" stroke="url(#q59)"/>
<path d="M71.4 215.3L70.5 215.0" class="cl"/>
<path d="M53.7 204.4L68.7 210.8L70.2 213.2L55.2 205.0Z" fill="url(#q60)" stroke="url(#q60)"/>
<path d="M52.3 203.9L67.3 209.6L68.7 210.8L53.7 204.4Z" fill="url(#q61)" stroke="url(#q61)"/>
<path d="M52.2 203.9L67.2 209.6L67.3 209.6L52.3 203.9Z" fill="url(#q62)" stroke="url(#q62)"/>
<path d="M51.7 203.7L66.7 209.7L67.2 209.6L52.2 203.9Z" fill="url(#q63)" stroke="url(#q63)"/>
<path d="M51.3 203.6L66.4 209.7L66.7 209.7L51.7 203.7Z" fill="url(#q64)" stroke="url(#q64)"/>
<path d="M51.1 203.6L66.1 209.8L66.4 209.7L51.3 203.6Z" fill="url(#q65)" stroke="url(#q65)"/>
<path d="M50.8 203.5L65.9 209.8L66.1 209.8L51.1 203.6Z" fill="url(#q66)" stroke="url(#q66)"/>
<path d="M50.6 203.5L65.7 209.9L65.9 209.8L50.8 203.5Z" fill="url(#q67)" stroke="url(#q67)"/>
<path d="M50.5 203.5L65.5 209.9L65.7 209.9L50.6 203.5Z" fill="url(#q68)" stroke="url(#q68)"/>
<path d="M49.9 203.4L64.9 210.0L65.5 209.9L50.5 203.5Z" fill="url(#q69)" stroke="url(#q69)"/>
<path d="M49.1 203.3L64.2 210.2L64.9 210.0L49.9 203.4Z" fill="url(#q70)" stroke="url(#q70)"/>
<path d="M47.6 203.1L62.7 210.4L64.2 210.2L49.1 203.3Z" fill="url(#q71)" stroke="url(#q71)"/>
<path d="M47.2 203.0L62.3 210.4L62.7 210.4L47.6 203.1Z" fill="url(#q72)" stroke="url(#q72)"/>
<path d="M46.6 202.9L61.7 210.2L62.3 210.4L47.2 203.0Z" fill="url(#q73)" stroke="url(#q73)"/>
<path d="M46.2 202.9L61.3 210.1L61.7 210.2L46.6 202.9Z" fill="url(#q74)" stroke="url(#q74)"/>
<path d="M46.0 202.9L61.1 210.1L61.3 210.1L46.2 202.9Z" fill="url(#q75)" stroke="url(#q75)"/>
<path d="M46.0 202.9L61.1 210.1L61.1 210.1L46.0 202.9Z" fill="url(#q76)" stroke="url(#q76)"/>
<path d="M45.7 202.8L60.8 210.0L61.1 210.1L46.0 202.9Z" fill="url(#q77)" stroke="url(#q77)"/>
<path d="M45.4 202.8L60.5 210.0L60.8 210.0L45.7 202.8Z" fill="url(#q78)" stroke="url(#q78)"/>
<path d="M44.7 202.7L59.8 209.8L60.5 210.0L45.4 202.8Z" fill="url(#q79)" stroke="url(#q79)"/>
<path d="M44.5 202.7L59.6 209.8L59.8 209.8L44.7 202.7Z" fill="url(#q80)" stroke="url(#q80)"/>
<path d="M43.7 202.6L58.8 209.6L59.6 209.8L44.5 202.7Z" fill="url(#q81)" stroke="url(#q81)"/>
<path d="M43.1 202.5L58.2 209.5L58.8 209.6L43.7 202.6Z" fill="url(#q82)" stroke="url(#q82)"/>
<path d="M42.9 202.5L58.0 209.5L58.2 209.5L43.1 202.5Z" fill="url(#q83)" stroke="url(#q83)"/>
<path d="M42.7 202.5L57.8 209.4L58.0 209.5L42.9 202.5Z" fill="url(#q84)" stroke="url(#q84)"/>
<path d="M42.5 202.5L57.6 209.4L57.8 209.4L42.7 202.5Z" fill="url(#q85)" stroke="url(#q85)"/>
<path d="M42.2 202.4L57.3 209.4L57.6 209.4L42.5 202.5Z" fill="url(#q86)" stroke="url(#q86)"/>
<path d="M41.8 202.4L56.9 209.3L57.3 209.4L42.2 202.4Z" fill="url(#q87)" stroke="url(#q87)"/>
<path d="M41.4 202.3L56.5 209.2L56.9 209.3L41.8 202.4Z" fill="url(#q88)" stroke="url(#q88)"/>
<path d="M41.2 202.3L56.3 209.2L56.5 209.2L41.4 202.3Z" fill="url(#q89)" stroke="url(#q89)"/>
<path d="M39.8 202.5L54.9 208.9L56.3 209.2L41.2 202.3Z" fill="url(#q90)" stroke="url(#q90)"/>
<path d="M39.3 202.6L54.4 208.8L54.9 208.9L39.8 202.5Z" fill="url(#q91)" stroke="url(#q91)"/>
<path d="M38.6 202.7L53.7 208.7L54.4 208.8L39.3 202.6Z" fill="url(#q92)" stroke="url(#q92)"/>
<path d="M38.3 202.8L53.4 208.7L53.7 208.7L38.6 202.7Z" fill="url(#q93)" stroke="url(#q93)"/>
<path d="M38.2 202.8L53.3 208.7L53.4 208.7L38.3 202.8Z" fill="url(#q94)" stroke="url(#q94)"/>
<path d="M38.0 202.8L53.1 208.6L53.3 208.7L38.2 202.8Z" fill="url(#q95)" stroke="url(#q95)"/>
<path d="M37.7 202.8L52.9 208.6L53.1 208.6L38.0 202.8Z" fill="url(#q96)" stroke="url(#q96)"/>
<path d="M37.4 202.9L52.5 208.5L52.9 208.6L37.7 202.8Z" fill="url(#q97)" stroke="url(#q97)"/>
<path d="M36.7 203.0L51.8 208.4L52.5 208.5L37.4 202.9Z" fill="url(#q98)" stroke="url(#q98)"/>
<path d="M36.6 203.0L51.7 208.4L51.8 208.4L36.7 203.0Z" fill="url(#q99)" stroke="url(#q99)"/>
<path d="M35.0 203.2L50.1 208.2L51.7 208.4L36.6 203.0Z" fill="url(#q100)" stroke="url(#q100)"/>
<path d="M33.4 203.5L48.5 208.3L50.1 208.2L35.0 203.2Z" fill="url(#q101)" stroke="url(#q101)"/>
<path d="M31.8 203.7L46.9 208.3L48.5 208.3L33.4 203.5Z" fill="url(#q102)" stroke="url(#q102)"/>
<path d="M30.2 204.0L45.3 208.4L46.9 208.3L31.8 203.7Z" fill="url(#q103)" stroke="url(#q103)"/>
<path d="M28.6 204.2L43.7 208.5L45.3 208.4L30.2 204.0Z" fill="url(#q104)" stroke="url(#q104)"/>
<path d="M27.0 204.5L42.1 208.5L43.7 208.5L28.6 204.2Z" fill="url(#q105)" stroke="url(#q105)"/>
<path d="M25.3 204.7L40.4 208.6L42.1 208.5L27.0 204.5Z" fill="url(#q106)" stroke="url(#q106)"/>
<path d="M23.7 205.0L38.8 208.7L40.4 208.6L25.3 204.7Z" fill="#7a0000" stroke="#7a0000"/>
<path d="M22.0 205.2L37.1 208.8L38.8 208.7L23.7 205.0Z" fill="#790000" stroke="#790000"/>
<path d="M20.3 205.5L35.4 208.8L37.1 208.8L22.0 205.2Z" fill="#780000" stroke="#780000"/>
<path d="M120.1 202.7L135.3 202.2L136.6 201.8L121.3 202.0Z" fill="url(#q107)" stroke="url(#q107)"/>
<path d="M118.8 203.5L134.1 202.5L135.3 202.2L120.1 202.7Z" fill="url(#q108)" stroke="url(#q108)"/>
<path d="M117.6 204.3L132.9 202.9L134.1 202.5L118.8 203.5Z" fill="url(#q109)" stroke="url(#q109)"/>
<path d="M116.3 205.1L131.7 203.3L132.9 202.9L117.6 204.3Z" fill="url(#q110)" stroke="url(#q110)"/>
<path d="M115.1 205.9L130.4 203.6L131.7 203.3L116.3 205.1Z" fill="url(#q111)" stroke="url(#q111)"/>
<path d="M113.8 206.7L129.2 204.0L130.4 203.6L115.1 205.9Z" fill="url(#q112)" stroke="url(#q112)"/>
<path d="M112.6 207.6L127.9 204.4L129.2 204.0L113.8 206.7Z" fill="url(#q113)" stroke="url(#q113)"/>
<path d="M113.9 207.4L113.5 207.0" class="cl"/>
<path d="M111.3 208.6L126.7 204.7L127.9 204.4L112.6 207.6Z" fill="url(#q114)" stroke="url(#q114)"/>
<path d="M114.3 207.9L113.9 207.4" class="cl"/>
<path d="M110.0 209.6L125.4 205.1L126.7 204.7L111.3 208.6Z" fill="url(#q115)" stroke="url(#q115)"/>
<path d="M114.4 208.3L114.3 207.9" class="cl"/>
<path d="M108.8 210.6L124.1 205.5L125.4 205.1L110.0 209.6Z" fill="url(#q116)" stroke="url(#q116)"/>
<path d="M114.4 208.8L114.4 208.3" class="cl"/>
<path d="M107.5 211.7L122.9 205.9L124.1 205.5L108.8 210.6Z" fill="url(#q117)" stroke="url(#q117)"/>
<path d="M114.1 209.2L114.4 208.8" class="cl"/>
<path d="M106.2 212.8L121.6 206.2L122.9 205.9L107.5 211.7Z" fill="url(#q118)" stroke="url(#q118)"/>
<path d="M113.8 209.6L114.1 209.2" class="cl"/>
<path d="M104.9 213.9L120.3 206.6L121.6 206.2L106.2 212.8Z" fill="url(#q119)" stroke="url(#q119)"/>
<path d="M113.3 210.0L113.8 209.6" class="cl"/>
<path d="M103.6 215.1L119.0 207.0L120.3 206.6L104.9 213.9Z" fill="url(#q120)" stroke="url(#q120)"/>
<path d="M112.7 210.3L113.3 210.0" class="cl"/>
<path d="M102.3 216.3L117.7 207.4L119.0 207.0L103.6 215.1Z" fill="url(#q121)" stroke="url(#q121)"/>
<path d="M112.0 210.7L112.7 210.3" class="cl"/>
<path d="M101.0 217.6L116.4 207.8L117.7 207.4L102.3 216.3Z" fill="url(#q122)" stroke="url(#q122)"/>
<path d="M111.3 211.0L112.0 210.7" class="cl"/>
<path d="M100.3 218.3L115.7 208.0L116.4 207.8L101.0 217.6Z" fill="url(#q123)" stroke="url(#q123)"/>
<path d="M110.9 211.2L111.3 211.0" class="cl"/>
<path d="M99.8 218.8L115.2 208.4L115.7 208.0L100.3 218.3Z" fill="url(#q124)" stroke="url(#q124)"/>
<path d="M110.7 211.4L110.9 211.2" class="cl"/>
<path d="M99.7 218.9L115.1 208.4L115.2 208.4L99.8 218.8Z" fill="url(#q125)" stroke="url(#q125)"/>
<path d="M110.7 211.4L110.7 211.4" class="cl"/>
<path d="M99.5 219.1L114.8 208.6L115.1 208.4L99.7 218.9Z" fill="url(#q126)" stroke="url(#q126)"/>
<path d="M110.7 211.5L110.7 211.4" class="cl"/>
<path d="M99.3 219.3L114.6 208.8L114.8 208.6L99.5 219.1Z" fill="url(#q127)" stroke="url(#q127)"/>
<path d="M110.6 211.6L110.7 211.5" class="cl"/>
<path d="M99.1 219.5L114.4 209.0L114.6 208.8L99.3 219.3Z" fill="url(#q128)" stroke="url(#q128)"/>
<path d="M110.6 211.6L110.6 211.6" class="cl"/>
<path d="M98.7 219.9L114.1 209.3L114.4 209.0L99.1 219.5Z" fill="url(#q129)" stroke="url(#q129)"/>
<path d="M110.6 211.7L110.6 211.6" class="cl"/>
<path d="M98.4 220.3L113.7 209.7L114.1 209.3L98.7 219.9Z" fill="url(#q130)" stroke="url(#q130)"/>
<path d="M110.6 211.9L110.6 211.7" class="cl"/>
<path d="M98.2 220.4L113.6 209.8L113.7 209.7L98.4 220.3Z" fill="url(#q131)" stroke="url(#q131)"/>
<path d="M110.5 211.9L110.6 211.9" class="cl"/>
<path d="M97.1 221.7L112.4 211.0L113.6 209.8L98.2 220.4Z" fill="url(#q132)" stroke="url(#q132)"/>
<path d="M110.4 212.3L110.5 211.9" class="cl"/>
<path d="M95.7 223.2L111.1 212.3L112.4 211.0L97.1 221.7Z" fill="url(#q133)" stroke="url(#q133)"/>
<path d="M110.4 212.8L110.4 212.3" class="cl"/>
<path d="M94.4 225.4L109.7 213.7L111.1 212.3L95.7 223.2Z" fill="url(#q134)" stroke="url(#q134)"/>
<path d="M110.3 213.1L110.4 212.8" class="cl"/>
<path d="M96.2 224.0L95.6 223.4" class="cl"/>
<path d="M93.1 227.9L108.4 215.2L109.7 213.7L94.4 225.4Z" fill="url(#q135)" stroke="url(#q135)"/>
<path d="M96.9 224.7L96.2 224.0" class="cl"/>
<path d="M91.7 230.6L107.1 216.7L108.4 215.2L93.1 227.9Z" fill="url(#q136)" stroke="url(#q136)"/>
<path d="M97.6 225.3L96.9 224.7" class="cl"/>
<path d="M90.4 233.7L105.7 218.3L107.1 216.7L91.7 230.6Z" fill="url(#q137)" stroke="url(#q137)"/>
<path d="M98.1 226.0L97.6 225.3" class="cl"/>
<path d="M89.1 237.2L104.3 220.0L105.7 218.3L90.4 233.7Z" fill="url(#q138)" stroke="url(#q138)"/>
<path d="M98.5 226.6L98.1 226.0" class="cl"/>
<path d="M87.8 244.2L103.0 221.9L104.3 220.0L89.1 237.2Z" fill="url(#q139)" stroke="url(#q139)"/>
<path d="M99.3 227.3L98.5 226.6" class="cl"/>
<path d="M91.4 238.9L88.9 237.8" class="cl"/>
<path d="M86.5 255.3L101.6 223.8L103.0 221.9L87.8 244.2Z" fill="url(#q140)" stroke="url(#q140)"/>
<path d="M99.6 227.9L99.3 227.3" class="cl"/>
<path d="M93.9 240.0L91.4 238.9" class="cl"/>
<path d="M88.2 251.7L87.0 251.2" class="cl"/>
<path d="M85.7 266.7L100.7 225.1L101.6 223.8L86.5 255.3Z" fill="url(#q141)" stroke="url(#q141)"/>
<path d="M99.6 228.3L99.6 227.9" class="cl"/>
<path d="M95.1 240.6L93.9 240.0" class="cl"/>
<path d="M90.8 252.7L88.2 251.7" class="cl"/>
<path d="M86.5 264.5L85.9 264.3" class="cl"/>
<path d="M85.4 277.2L100.2 225.9L100.7 225.1L85.7 266.7Z" fill="url(#q142)" stroke="url(#q142)"/>
<path d="M99.5 228.5L99.6 228.3" class="cl"/>
<path d="M95.8 241.0L95.1 240.6" class="cl"/>
<path d="M92.3 253.3L90.8 252.7" class="cl"/>
<path d="M88.8 265.3L86.5 264.5" class="cl"/>
<path d="M85.4 277.1L85.4 277.1" class="cl"/>
<path d="M85.3 278.5L100.2 225.9L100.2 225.9L85.4 277.2Z" fill="url(#q143)" stroke="url(#q143)"/>
<path d="M99.5 228.5L99.5 228.5" class="cl"/>
<path d="M95.9 241.0L95.8 241.0" class="cl"/>
<path d="M92.4 253.3L92.3 253.3" class="cl"/>
<path d="M89.0 265.4L88.8 265.3" class="cl"/>
<path d="M85.7 277.2L85.4 277.1" class="cl"/>
<path d="M85.1 290.5L99.9 226.5L100.2 225.9L85.3 278.5Z" fill="url(#q144)" stroke="url(#q144)"/>
<path d="M99.4 228.6L99.5 228.5" class="cl"/>
<path d="M96.4 241.3L95.9 241.0" class="cl"/>
<path d="M93.6 253.7L92.4 253.3" class="cl"/>
<path d="M90.8 266.0L89.0 265.4" class="cl"/>
<path d="M88.0 278.0L85.7 277.2" class="cl"/>
<path d="M85.3 289.8L85.1 289.8" class="cl"/>
<path d="M85.1 304.7L99.6 226.8L99.9 226.5L85.1 290.5Z" fill="url(#q145)" stroke="url(#q145)"/>
<path d="M99.3 228.7L99.4 228.6" class="cl"/>
<path d="M96.9 241.5L96.4 241.3" class="cl"/>
<path d="M94.5 254.1L93.6 253.7" class="cl"/>
<path d="M92.2 266.4L90.8 266.0" class="cl"/>
<path d="M89.9 278.6L88.0 278.0" class="cl"/>
<path d="M87.7 290.6L85.3 289.8" class="cl"/>
<path d="M85.5 302.4L85.1 302.3" class="cl"/>
<path d="M84.7 289.6L99.4 227.2L99.6 226.8L85.1 304.7Z" fill="url(#q146)" stroke="url(#q146)"/>
<path d="M99.0 228.7L99.3 228.7" class="cl"/>
<path d="M96.0 241.4L96.9 241.5" class="cl"/>
<path d="M93.1 253.9L94.5 254.1" class="cl"/>
<path d="M90.2 266.1L92.2 266.4" class="cl"/>
<path d="M87.4 278.1L89.9 278.6" class="cl"/>
<path d="M87.7 290.6L84.7 289.9" class="cl"/>
<path d="M85.5 302.4L85.0 302.3" class="cl"/>
<path d="M84.2 277.4L99.1 227.7L99.4 227.2L84.7 289.6Z" fill="url(#q147)" stroke="url(#q147)"/>
<path d="M98.7 228.8L99.0 228.7" class="cl"/>
<path d="M95.0 241.3L96.0 241.4" class="cl"/>
<path d="M91.3 253.6L93.1 253.9" class="cl"/>
<path d="M87.7 265.7L90.2 266.1" class="cl"/>
<path d="M87.4 278.1L84.2 277.5" class="cl"/>
<path d="M83.9 271.8L98.9 228.1L99.1 227.7L84.2 277.4Z" fill="url(#q148)" stroke="url(#q148)"/>
<path d="M98.6 228.9L98.7 228.8" class="cl"/>
<path d="M94.3 241.3L95.0 241.3" class="cl"/>
<path d="M90.2 253.5L91.3 253.6" class="cl"/>
<path d="M86.1 265.4L87.7 265.7" class="cl"/>
<path d="M83.5 265.7L98.5 228.6L98.9 228.1L83.9 271.8Z" fill="url(#q149)" stroke="url(#q149)"/>
<path d="M98.4 229.0L98.6 228.9" class="cl"/>
<path d="M93.4 241.3L94.3 241.3" class="cl"/>
<path d="M88.5 253.3L90.2 253.5" class="cl"/>
<path d="M83.8 265.0L86.1 265.4" class="cl"/>
<path d="M82.3 252.9L97.5 230.9L98.5 228.6L83.5 265.7Z" fill="url(#q150)" stroke="url(#q150)"/>
<path d="M98.3 229.0L98.4 229.0" class="cl"/>
<path d="M90.4 241.2L93.4 241.3" class="cl"/>
<path d="M82.6 252.5L88.5 253.3" class="cl"/>
<path d="M83.8 265.0L83.5 265.0" class="cl"/>
<path d="M80.8 243.0L96.1 234.4L97.5 230.9L82.3 252.9Z" fill="url(#q151)" stroke="url(#q151)"/>
<path d="M84.9 240.7L90.4 241.2" class="cl"/>
<path d="M82.6 252.5L82.2 252.5" class="cl"/>
<path d="M79.3 236.3L94.7 238.5L96.1 234.4L80.8 243.0Z" fill="url(#q152)" stroke="url(#q152)"/>
<path d="M84.9 240.7L80.1 240.0" class="cl"/>
<path d="M77.8 231.4L93.3 243.3L94.7 238.5L79.3 236.3Z" fill="url(#q153)" stroke="url(#q153)"/>
<path d="M76.3 227.2L92.0 253.4L93.3 243.3L77.8 231.4Z" fill="url(#q154)" stroke="url(#q154)"/>
<path d="M76.6 227.8L76.5 227.7" class="cl"/>
<path d="M85.6 242.8L93.3 243.7" class="cl"/>
<path d="M75.0 223.2L90.9 268.6L92.0 253.4L76.3 227.2Z" fill="url(#q155)" stroke="url(#q155)"/>
<path d="M76.7 228.3L76.6 227.8" class="cl"/>
<path d="M81.7 242.5L85.6 242.8" class="cl"/>
<path d="M86.8 256.9L91.7 257.5" class="cl"/>
<path d="M74.8 222.7L90.7 271.6L90.9 268.6L75.0 223.2Z" fill="url(#q156)" stroke="url(#q156)"/>
<path d="M76.6 228.4L76.7 228.3" class="cl"/>
<path d="M81.2 242.5L81.7 242.5" class="cl"/>
<path d="M85.9 256.7L86.8 256.9" class="cl"/>
<path d="M90.5 271.0L90.8 271.1" class="cl"/>
<path d="M74.4 221.6L90.4 280.8L90.7 271.6L74.8 222.7Z" fill="url(#q157)" stroke="url(#q157)"/>
<path d="M76.2 228.4L76.6 228.4" class="cl"/>
<path d="M80.0 242.5L81.2 242.5" class="cl"/>
<path d="M83.8 256.5L85.9 256.7" class="cl"/>
<path d="M87.6 270.5L90.5 271.0" class="cl"/>
<path d="M74.0 220.7L90.2 293.2L90.4 280.8L74.4 221.6Z" fill="url(#q158)" stroke="url(#q158)"/>
<path d="M75.7 228.5L76.2 228.4" class="cl"/>
<path d="M78.8 242.4L80.0 242.5" class="cl"/>
<path d="M81.9 256.2L83.8 256.5" class="cl"/>
<path d="M85.0 270.1L87.6 270.5" class="cl"/>
<path d="M88.1 283.9L90.4 284.4" class="cl"/>
<path d="M73.7 220.1L90.1 307.7L90.2 293.2L74.0 220.7Z" fill="url(#q159)" stroke="url(#q159)"/>
<path d="M75.3 228.5L75.7 228.5" class="cl"/>
<path d="M77.9 242.3L78.8 242.4" class="cl"/>
<path d="M80.4 256.0L81.9 256.2" class="cl"/>
<path d="M83.0 269.7L85.0 270.1" class="cl"/>
<path d="M85.6 283.4L88.1 283.9" class="cl"/>
<path d="M88.1 297.0L90.2 297.5" class="cl"/>
<path d="M73.5 219.6L89.7 293.1L90.1 307.7L73.7 220.1Z" fill="url(#q160)" stroke="url(#q160)"/>
<path d="M75.5 228.6L75.3 228.5" class="cl"/>
<path d="M78.6 242.5L77.9 242.3" class="cl"/>
<path d="M81.6 256.4L80.4 256.0" class="cl"/>
<path d="M84.7 270.2L83.0 269.7" class="cl"/>
<path d="M87.8 284.1L85.6 283.4" class="cl"/>
<path d="M89.9 297.6L88.1 297.0" class="cl"/>
<path d="M73.3 219.0L89.4 284.3L89.7 293.1L73.5 219.6Z" fill="url(#q161)" stroke="url(#q161)"/>
<path d="M75.7 228.8L75.5 228.6" class="cl"/>
<path d="M79.1 242.7L78.6 242.5" class="cl"/>
<path d="M82.6 256.7L81.6 256.4" class="cl"/>
<path d="M86.1 270.7L84.7 270.2" class="cl"/>
<path d="M89.4 284.7L87.8 284.1" class="cl"/>
<path d="M73.1 218.8L89.3 280.9L89.4 284.3L73.3 219.0Z" fill="url(#q162)" stroke="url(#q162)"/>
<path d="M75.8 228.8L75.7 228.8" class="cl"/>
<path d="M79.4 242.9L79.1 242.7" class="cl"/>
<path d="M83.1 256.9L82.6 256.7" class="cl"/>
<path d="M86.7 270.9L86.1 270.7" class="cl"/>
<path d="M72.5 217.5L88.6 268.9L89.3 280.9L73.1 218.8Z" fill="url(#q163)" stroke="url(#q163)"/>
<path d="M76.2 229.2L75.8 228.8" class="cl"/>
<path d="M80.6 243.4L79.4 242.9" class="cl"/>
<path d="M85.1 257.6L83.1 256.9" class="cl"/>
<path d="M88.8 271.7L86.7 270.9" class="cl"/>
<path d="M71.7 215.9L87.8 259.2L88.6 268.9L72.5 217.5Z" fill="url(#q164)" stroke="url(#q164)"/>
<path d="M76.8 229.6L76.2 229.2" class="cl"/>
<path d="M82.1 244.0L80.6 243.4" class="cl"/>
<path d="M87.5 258.6L85.1 257.6" class="cl"/>
<path d="M70.2 213.2L86.2 247.6L87.8 259.2L71.7 215.9Z" fill="url(#q165)" stroke="url(#q165)"/>
<path d="M71.4 215.7L71.4 215.3" class="cl"/>
<path d="M78.2 230.5L76.8 229.6" class="cl"/>
<path d="M85.1 245.3L82.1 244.0" class="cl"/>
<path d="M87.7 258.6L87.5 258.6" class="cl"/>
<path d="M68.7 210.8L84.6 237.0L86.2 247.6L70.2 213.2Z" fill="url(#q166)" stroke="url(#q166)"/>
<path d="M72.1 216.4L71.4 215.7" class="cl"/>
<path d="M81.3 231.7L78.2 230.5" class="cl"/>
<path d="M85.9 245.6L85.1 245.3" class="cl"/>
<path d="M67.3 209.6L83.2 231.1L84.6 237.0L68.7 210.8Z" fill="url(#q167)" stroke="url(#q167)"/>
<path d="M72.8 217.0L72.1 216.4" class="cl"/>
<path d="M83.5 232.5L81.3 231.7" class="cl"/>
<path d="M67.2 209.6L83.1 230.7L83.2 231.1L67.3 209.6Z" fill="url(#q168)" stroke="url(#q168)"/>
<path d="M72.8 217.1L72.8 217.0" class="cl"/>
<path d="M66.7 209.7L82.6 229.6L83.1 230.7L67.2 209.6Z" fill="url(#q169)" stroke="url(#q169)"/>
<path d="M72.7 217.2L72.8 217.1" class="cl"/>
<path d="M66.4 209.7L82.2 228.8L82.6 229.6L66.7 209.7Z" fill="url(#q170)" stroke="url(#q170)"/>
<path d="M72.7 217.3L72.7 217.2" class="cl"/>
<path d="M66.1 209.8L82.0 228.2L82.2 228.8L66.4 209.7Z" fill="url(#q171)" stroke="url(#q171)"/>
<path d="M72.7 217.4L72.7 217.3" class="cl"/>
<path d="M65.9 209.8L81.7 227.7L82.0 228.2L66.1 209.8Z" fill="url(#q172)" stroke="url(#q172)"/>
<path d="M72.7 217.5L72.7 217.4" class="cl"/>
<path d="M65.7 209.9L81.5 227.3L81.7 227.7L65.9 209.8Z" fill="url(#q173)" stroke="url(#q173)"/>
<path d="M72.7 217.6L72.7 217.5" class="cl"/>
<path d="M65.5 209.9L81.4 227.0L81.5 227.3L65.7 209.9Z" fill="url(#q174)" stroke="url(#q174)"/>
<path d="M72.7 217.7L72.7 217.6" class="cl"/>
<path d="M64.9 210.0L80.8 225.8L81.4 227.0L65.5 209.9Z" fill="url(#q175)" stroke="url(#q175)"/>
<path d="M72.9 217.9L72.7 217.7" class="cl"/>
<path d="M64.2 210.2L80.0 224.3L80.8 225.8L64.9 210.0Z" fill="url(#q176)" stroke="url(#q176)"/>
<path d="M73.2 218.2L72.9 217.9" class="cl"/>
<path d="M62.7 210.4L78.5 221.8L80.0 224.3L64.2 210.2Z" fill="url(#q177)" stroke="url(#q177)"/>
<path d="M74.7 219.1L73.2 218.2" class="cl"/>
<path d="M62.3 210.4L78.1 221.2L78.5 221.8L62.7 210.4Z" fill="url(#q178)" stroke="url(#q178)"/>
<path d="M75.3 219.3L74.7 219.1" class="cl"/>
<path d="M61.7 210.2L77.5 220.3L78.1 221.2L62.3 210.4Z" fill="url(#q179)" stroke="url(#q179)"/>
<path d="M76.6 219.8L75.3 219.3" class="cl"/>
<path d="M61.3 210.1L77.1 219.8L77.5 220.3L61.7 210.2Z" fill="url(#q180)" stroke="url(#q180)"/>
<path d="M77.2 220.0L76.6 219.8" class="cl"/>
<path d="M61.1 210.1L76.9 219.5L77.1 219.8L61.3 210.1Z" fill="url(#q181)" stroke="url(#q181)"/>
<path d="M61.1 210.1L76.9 219.4L76.9 219.5L61.1 210.1Z" fill="url(#q182)" stroke="url(#q182)"/>
<path d="M60.8 210.0L76.6 219.1L76.9 219.4L61.1 210.1Z" fill="url(#q183)" stroke="url(#q183)"/>
<path d="M60.5 210.0L76.2 218.6L76.6 219.1L60.8 210.0Z" fill="url(#q184)" stroke="url(#q184)"/>
<path d="M59.8 209.8L75.6 217.8L76.2 218.6L60.5 210.0Z" fill="url(#q185)" stroke="url(#q185)"/>
<path d="M59.6 209.8L75.4 217.5L75.6 217.8L59.8 209.8Z" fill="url(#q186)" stroke="url(#q186)"/>
<path d="M58.8 209.6L74.6 216.5L75.4 217.5L59.6 209.8Z" fill="url(#q187)" stroke="url(#q187)"/>
<path d="M58.2 209.5L74.0 215.8L74.6 216.5L58.8 209.6Z" fill="url(#q188)" stroke="url(#q188)"/>
<path d="M58.0 209.5L73.8 215.6L74.0 215.8L58.2 209.5Z" fill="url(#q189)" stroke="url(#q189)"/>
<path d="M57.8 209.4L73.6 215.4L73.8 215.6L58.0 209.5Z" fill="url(#q190)" stroke="url(#q190)"/>
<path d="M57.6 209.4L73.3 215.1L73.6 215.4L57.8 209.4Z" fill="url(#q191)" stroke="url(#q191)"/>
<path d="M57.3 209.4L73.1 214.8L73.3 215.1L57.6 209.4Z" fill="url(#q192)" stroke="url(#q192)"/>
<path d="M56.9 209.3L72.7 214.4L73.1 214.8L57.3 209.4Z" fill="url(#q193)" stroke="url(#q193)"/>
<path d="M56.5 209.2L72.2 214.2L72.7 214.4L56.9 209.3Z" fill="url(#q194)" stroke="url(#q194)"/>
<path d="M56.3 209.2L72.1 214.2L72.2 214.2L56.5 209.2Z" fill="url(#q195)" stroke="url(#q195)"/>
<path d="M54.9 208.9L70.7 214.5L72.1 214.2L56.3 209.2Z" fill="url(#q196)" stroke="url(#q196)"/>
<path d="M54.4 208.8L70.2 214.6L70.7 214.5L54.9 208.9Z" fill="url(#q197)" stroke="url(#q197)"/>
<path d="M53.7 208.7L69.5 214.7L70.2 214.6L54.4 208.8Z" fill="url(#q198)" stroke="url(#q198)"/>
<path d="M53.4 208.7L69.2 214.8L69.5 214.7L53.7 208.7Z" fill="url(#q199)" stroke="url(#q199)"/>
<path d="M53.3 208.7L69.1 214.8L69.2 214.8L53.4 208.7Z" fill="url(#q200)" stroke="url(#q200)"/>
<path d="M53.1 208.6L68.9 214.8L69.1 214.8L53.3 208.7Z" fill="url(#q201)" stroke="url(#q201)"/>
<path d="M52.9 208.6L68.7 214.9L68.9 214.8L53.1 208.6Z" fill="url(#q202)" stroke="url(#q202)"/>
<path d="M52.5 208.5L68.3 214.9L68.7 214.9L52.9 208.6Z" fill="url(#q203)" stroke="url(#q203)"/>
<path d="M51.8 208.4L67.6 214.9L68.3 214.9L52.5 208.5Z" fill="url(#q204)" stroke="url(#q204)"/>
<path d="M51.7 208.4L67.5 214.9L67.6 214.9L51.8 208.4Z" fill="url(#q205)" stroke="url(#q205)"/>
<path d="M50.1 208.2L66.0 214.6L67.5 214.9L51.7 208.4Z" fill="url(#q206)" stroke="url(#q206)"/>
<path d="M48.5 208.3L64.4 214.4L66.0 214.6L50.1 208.2Z" fill="url(#q207)" stroke="url(#q207)"/>
<path d="M46.9 208.3L62.8 214.2L64.4 214.4L48.5 208.3Z" fill="url(#q208)" stroke="url(#q208)"/>
<path d="M45.3 208.4L61.1 214.0L62.8 214.2L46.9 208.3Z" fill="url(#q209)" stroke="url(#q209)"/>
<path d="M43.7 208.5L59.5 213.8L61.1 214.0L45.3 208.4Z" fill="url(#q210)" stroke="url(#q210)"/>
<path d="M42.1 208.5L57.9 213.6L59.5 213.8L43.7 208.5Z" fill="url(#q211)" stroke="url(#q211)"/>
<path d="M40.4 208.6L56.3 213.4L57.9 213.6L42.1 208.5Z" fill="url(#q212)" stroke="url(#q212)"/>
<path d="M38.8 208.7L54.6 213.3L56.3 213.4L40.4 208.6Z" fill="url(#q213)" stroke="url(#q213)"/>
<path d="M37.1 208.8L52.9 213.1L54.6 213.3L38.8 208.7Z" fill="url(#q214)" stroke="url(#q214)"/>
<path d="M35.4 208.8L51.3 213.0L52.9 213.1L37.1 208.8Z" fill="url(#q215)" stroke="url(#q215)"/>
<path d="M135.3 202.2L151.2 207.5L152.4 207.3L136.6 201.8Z" fill="url(#q216)" stroke="url(#q216)"/>
<path d="M134.1 202.5L150.0 207.7L151.2 207.5L135.3 202.2Z" fill="url(#q217)" stroke="url(#q217)"/>
<path d="M132.9 202.9L148.8 207.9L150.0 207.7L134.1 202.5Z" fill="url(#q218)" stroke="url(#q218)"/>
<path d="M131.7 203.3L147.6 208.1L148.8 207.9L132.9 202.9Z" fill="url(#q219)" stroke="url(#q219)"/>
<path d="M130.4 203.6L146.4 208.3L147.6 208.1L131.7 203.3Z" fill="url(#q220)" stroke="url(#q220)"/>
<path d="M129.2 204.0L145.2 208.6L146.4 208.3L130.4 203.6Z" fill="url(#q221)" stroke="url(#q221)"/>
<path d="M127.9 204.4L143.9 208.8L145.2 208.6L129.2 204.0Z" fill="url(#q222)" stroke="url(#q222)"/>
<path d="M126.7 204.7L142.7 209.0L143.9 208.8L127.9 204.4Z" fill="url(#q223)" stroke="url(#q223)"/>
<path d="M125.4 205.1L141.4 209.2L142.7 209.0L126.7 204.7Z" fill="url(#q224)" stroke="url(#q224)"/>
<path d="M124.1 205.5L140.2 209.4L141.4 209.2L125.4 205.1Z" fill="url(#q225)" stroke="url(#q225)"/>
<path d="M122.9 205.9L138.9 209.6L140.2 209.4L124.1 205.5Z" fill="url(#q226)" stroke="url(#q226)"/>
<path d="M121.6 206.2L137.6 209.8L138.9 209.6L122.9 205.9Z" fill="url(#q227)" stroke="url(#q227)"/>
<path d="M120.3 206.6L136.4 210.1L137.6 209.8L121.6 206.2Z" fill="#ad0000" stroke="#ad0000"/>
<path d="M119.0 207.0L135.1 210.3L136.4 210.1L120.3 206.6Z" fill="#ad0000" stroke="#ad0000"/>
<path d="M117.7 207.4L133.8 210.5L135.1 210.3L119.0 207.0Z" fill="#ae0000" stroke="#ae0000"/>
<path d="M116.4 207.8L132.5 210.7L133.8 210.5L117.7 207.4Z" fill="#ae0000" stroke="#ae0000"/>
<path d="M115.7 208.0L131.8 210.8L132.5 210.7L116.4 207.8Z" fill="#ae0000" stroke="#ae0000"/>
<path d="M115.2 208.4L131.3 210.9L131.8 210.8L115.7 208.0Z" fill="#af0000" stroke="#af0000"/>
<path d="M115.1 208.4L131.2 210.9L131.3 210.9L115.2 208.4Z" fill="#af0000" stroke="#af0000"/>
<path d="M114.8 208.6L131.0 211.0L131.2 210.9L115.1 208.4Z" fill="#af0000" stroke="#af0000"/>
<path d="M114.6 208.8L130.8 211.0L131.0 211.0L114.8 208.6Z" fill="#b00000" stroke="#b00000"/>
<path d="M114.4 209.0L130.6 211.1L130.8 211.0L114.6 208.8Z" fill="#b00000" stroke="#b00000"/>
<path d="M114.1 209.3L130.3 211.1L130.6 211.1L114.4 209.0Z" fill="#b10000" stroke="#b10000"/>
<path d="M113.7 209.7L129.9 211.2L130.3 211.1L114.1 209.3Z" fill="#b10000" stroke="#b10000"/>
<path d="M113.6 209.8L129.7 211.2L129.9 211.2L113.7 209.7Z" fill="#b20000" stroke="#b20000"/>
<path d="M112.4 211.0L128.6 211.4L129.7 211.2L113.6 209.8Z" fill="url(#q228)" stroke="url(#q228)"/>
<path d="M111.1 212.3L127.3 211.6L128.6 211.4L112.4 211.0Z" fill="url(#q229)" stroke="url(#q229)"/>
<path d="M109.7 213.7L125.9 211.9L127.3 211.6L111.1 212.3Z" fill="url(#q230)" stroke="url(#q230)"/>
<path d="M111.6 213.5L110.3 213.1" class="cl"/>
<path d="M108.4 215.2L124.6 212.1L125.9 211.9L109.7 213.7Z" fill="url(#q231)" stroke="url(#q231)"/>
<path d="M113.3 214.2L111.6 213.5" class="cl"/>
<path d="M107.1 216.7L123.2 212.3L124.6 212.1L108.4 215.2Z" fill="url(#q232)" stroke="url(#q232)"/>
<path d="M113.9 214.8L113.3 214.2" class="cl"/>
<path d="M105.7 218.3L121.9 212.5L123.2 212.3L107.1 216.7Z" fill="url(#q233)" stroke="url(#q233)"/>
<path d="M114.0 215.4L113.9 214.8" class="cl"/>
<path d="M104.3 220.0L120.5 212.8L121.9 212.5L105.7 218.3Z" fill="url(#q234)" stroke="url(#q234)"/>
<path d="M113.8 215.8L114.0 215.4" class="cl"/>
<path d="M103.0 221.9L119.2 214.2L120.5 212.8L104.3 220.0Z" fill="url(#q235)" stroke="url(#q235)"/>
<path d="M114.4 216.4L113.8 215.8" class="cl"/>
<path d="M101.6 223.8L117.8 215.7L119.2 214.2L103.0 221.9Z" fill="url(#q236)" stroke="url(#q236)"/>
<path d="M115.0 217.0L114.4 216.4" class="cl"/>
<path d="M100.7 225.1L116.9 216.6L117.8 215.7L101.6 223.8Z" fill="url(#q237)" stroke="url(#q237)"/>
<path d="M115.4 217.4L115.0 217.0" class="cl"/>
<path d="M100.2 225.9L116.4 217.2L116.9 216.6L100.7 225.1Z" fill="url(#q238)" stroke="url(#q238)"/>
<path d="M115.6 217.7L115.4 217.4" class="cl"/>
<path d="M100.2 225.9L116.4 217.3L116.4 217.2L100.2 225.9Z" fill="url(#q239)" stroke="url(#q239)"/>
<path d="M115.6 217.7L115.6 217.7" class="cl"/>
<path d="M99.9 226.5L116.0 217.7L116.4 217.3L100.2 225.9Z" fill="url(#q240)" stroke="url(#q240)"/>
<path d="M115.7 217.8L115.6 217.7" class="cl"/>
<path d="M99.6 226.8L115.8 217.9L116.0 217.7L99.9 226.5Z" fill="url(#q241)" stroke="url(#q241)"/>
<path d="M115.8 217.9L115.7 217.8" class="cl"/>
<path d="M99.4 227.2L115.6 218.2L115.8 217.9L99.6 226.8Z" fill="url(#q242)" stroke="url(#q242)"/>
<path d="M115.8 217.9L115.8 217.9" class="cl"/>
<path d="M99.1 227.7L115.3 218.6L115.6 218.2L99.4 227.2Z" fill="url(#q243)" stroke="url(#q243)"/>
<path d="M98.9 228.1L115.0 218.9L115.3 218.6L99.1 227.7Z" fill="url(#q244)" stroke="url(#q244)"/>
<path d="M98.5 228.6L114.7 219.3L115.0 218.9L98.9 228.1Z" fill="url(#q245)" stroke="url(#q245)"/>
<path d="M97.5 230.9L113.6 220.6L114.7 219.3L98.5 228.6Z" fill="url(#q246)" stroke="url(#q246)"/>
<path d="M99.5 229.6L98.3 229.0" class="cl"/>
<path d="M96.1 234.4L112.2 222.5L113.6 220.6L97.5 230.9Z" fill="url(#q247)" stroke="url(#q247)"/>
<path d="M101.4 230.5L99.5 229.6" class="cl"/>
<path d="M94.7 238.5L110.8 224.5L112.2 222.5L96.1 234.4Z" fill="url(#q248)" stroke="url(#q248)"/>
<path d="M102.9 231.4L101.4 230.5" class="cl"/>
<path d="M93.3 243.3L109.4 226.6L110.8 224.5L94.7 238.5Z" fill="url(#q249)" stroke="url(#q249)"/>
<path d="M104.0 232.2L102.9 231.4" class="cl"/>
<path d="M92.0 253.4L108.0 228.9L109.4 226.6L93.3 243.3Z" fill="url(#q250)" stroke="url(#q250)"/>
<path d="M105.3 233.1L104.0 232.2" class="cl"/>
<path d="M97.4 245.2L93.3 243.7" class="cl"/>
<path d="M90.9 268.6L106.8 231.0L108.0 228.9L92.0 253.4Z" fill="url(#q251)" stroke="url(#q251)"/>
<path d="M105.6 233.7L105.3 233.1" class="cl"/>
<path d="M100.3 246.3L97.4 245.2" class="cl"/>
<path d="M95.0 258.7L91.7 257.5" class="cl"/>
<path d="M90.7 271.6L106.6 231.3L106.8 231.0L90.9 268.6Z" fill="url(#q252)" stroke="url(#q252)"/>
<path d="M105.6 233.7L105.6 233.7" class="cl"/>
<path d="M100.6 246.5L100.3 246.3" class="cl"/>
<path d="M95.7 258.9L95.0 258.7" class="cl"/>
<path d="M90.9 271.1L90.8 271.1" class="cl"/>
<path d="M90.4 280.8L106.2 232.0L106.6 231.3L90.7 271.6Z" fill="url(#q253)" stroke="url(#q253)"/>
<path d="M105.6 233.9L105.6 233.7" class="cl"/>
<path d="M101.4 246.8L100.6 246.5" class="cl"/>
<path d="M97.3 259.5L95.7 258.9" class="cl"/>
<path d="M93.3 271.9L90.9 271.1" class="cl"/>
<path d="M90.2 293.2L105.9 232.6L106.2 232.0L90.4 280.8Z" fill="url(#q254)" stroke="url(#q254)"/>
<path d="M105.5 234.0L105.6 233.9" class="cl"/>
<path d="M102.1 247.1L101.4 246.8" class="cl"/>
<path d="M98.8 260.0L97.3 259.5" class="cl"/>
<path d="M95.5 272.6L93.3 271.9" class="cl"/>
<path d="M92.3 285.0L90.4 284.4" class="cl"/>
<path d="M90.1 307.7L105.6 233.1L105.9 232.6L90.2 293.2Z" fill="url(#q255)" stroke="url(#q255)"/>
<path d="M105.4 234.1L105.5 234.0" class="cl"/>
<path d="M102.7 247.4L102.1 247.1" class="cl"/>
<path d="M99.9 260.4L98.8 260.0" class="cl"/>
<path d="M97.3 273.2L95.5 272.6" class="cl"/>
<path d="M94.7 285.8L92.3 285.0" class="cl"/>
<path d="M92.1 298.1L90.2 297.5" class="cl"/>
<path d="M89.7 293.1L105.4 233.5L105.6 233.1L90.1 307.7Z" fill="url(#q256)" stroke="url(#q256)"/>
<path d="M105.2 234.2L105.4 234.1" class="cl"/>
<path d="M101.8 247.3L102.7 247.4" class="cl"/>
<path d="M98.4 260.2L99.9 260.4" class="cl"/>
<path d="M95.1 272.8L97.3 273.2" class="cl"/>
<path d="M91.8 285.2L94.7 285.8" class="cl"/>
<path d="M92.1 298.1L89.9 297.6" class="cl"/>
<path d="M89.4 284.3L105.2 233.9L105.4 233.5L89.7 293.1Z" fill="url(#q257)" stroke="url(#q257)"/>
<path d="M105.1 234.2L105.2 234.2" class="cl"/>
<path d="M101.0 247.2L101.8 247.3" class="cl"/>
<path d="M97.0 260.0L98.4 260.2" class="cl"/>
<path d="M93.1 272.4L95.1 272.8" class="cl"/>
<path d="M91.8 285.2L89.4 284.7" class="cl"/>
<path d="M89.3 280.9L105.1 234.2L105.2 233.9L89.4 284.3Z" fill="url(#q258)" stroke="url(#q258)"/>
<path d="M105.0 234.3L105.1 234.2" class="cl"/>
<path d="M100.6 247.2L101.0 247.2" class="cl"/>
<path d="M96.4 259.9L97.0 260.0" class="cl"/>
<path d="M92.2 272.3L93.1 272.4" class="cl"/>
<path d="M88.6 268.9L104.5 235.8L105.1 234.2L89.3 280.9Z" fill="url(#q259)" stroke="url(#q259)"/>
<path d="M105.0 234.3L105.0 234.3" class="cl"/>
<path d="M99.0 247.2L100.6 247.2" class="cl"/>
<path d="M93.1 259.4L96.4 259.9" class="cl"/>
<path d="M92.2 272.3L88.8 271.7" class="cl"/>
<path d="M87.8 259.2L103.8 238.2L104.5 235.8L88.6 268.9Z" fill="url(#q260)" stroke="url(#q260)"/>
<path d="M97.0 247.1L99.0 247.2" class="cl"/>
<path d="M88.1 258.7L93.1 259.4" class="cl"/>
<path d="M86.2 247.6L102.3 243.5L103.8 238.2L87.8 259.2Z" fill="url(#q261)" stroke="url(#q261)"/>
<path d="M90.7 246.5L97.0 247.1" class="cl"/>
<path d="M88.1 258.7L87.7 258.6" class="cl"/>
<path d="M84.6 237.0L100.9 251.0L102.3 243.5L86.2 247.6Z" fill="url(#q262)" stroke="url(#q262)"/>
<path d="M98.2 248.7L101.3 249.2" class="cl"/>
<path d="M90.7 246.5L85.9 245.6" class="cl"/>
<path d="M83.2 231.1L99.7 270.1L100.9 251.0L84.6 237.0Z" fill="url(#q263)" stroke="url(#q263)"/>
<path d="M83.9 232.7L83.5 232.5" class="cl"/>
<path d="M90.2 247.7L98.2 248.7" class="cl"/>
<path d="M96.6 262.8L100.1 263.4" class="cl"/>
<path d="M83.1 230.7L99.6 272.7L99.7 270.1L83.2 231.1Z" fill="url(#q264)" stroke="url(#q264)"/>
<path d="M83.9 232.8L83.9 232.7" class="cl"/>
<path d="M89.7 247.7L90.2 247.7" class="cl"/>
<path d="M95.6 262.7L96.6 262.8" class="cl"/>
<path d="M82.6 229.6L99.2 282.7L99.6 272.7L83.1 230.7Z" fill="url(#q265)" stroke="url(#q265)"/>
<path d="M83.6 232.9L83.9 232.8" class="cl"/>
<path d="M88.2 247.5L89.7 247.7" class="cl"/>
<path d="M92.8 262.2L95.6 262.7" class="cl"/>
<path d="M97.4 277.0L99.4 277.3" class="cl"/>
<path d="M82.2 228.8L98.9 295.3L99.2 282.7L82.6 229.6Z" fill="url(#q266)" stroke="url(#q266)"/>
<path d="M83.3 233.0L83.6 232.9" class="cl"/>
<path d="M86.9 247.4L88.2 247.5" class="cl"/>
<path d="M90.6 261.9L92.8 262.2" class="cl"/>
<path d="M94.2 276.4L97.4 277.0" class="cl"/>
<path d="M97.8 290.8L99.0 291.1" class="cl"/>
<path d="M82.0 228.2L98.8 310.0L98.9 295.3L82.2 228.8Z" fill="url(#q267)" stroke="url(#q267)"/>
<path d="M83.0 233.0L83.3 233.0" class="cl"/>
<path d="M85.9 247.3L86.9 247.4" class="cl"/>
<path d="M88.9 261.6L90.6 261.9" class="cl"/>
<path d="M91.8 275.9L94.2 276.4" class="cl"/>
<path d="M94.7 290.1L97.8 290.8" class="cl"/>
<path d="M97.6 304.3L98.8 304.6" class="cl"/>
<path d="M81.7 227.7L98.5 295.8L98.8 310.0L82.0 228.2Z" fill="url(#q268)" stroke="url(#q268)"/>
<path d="M83.1 233.1L83.0 233.0" class="cl"/>
<path d="M86.6 247.6L85.9 247.3" class="cl"/>
<path d="M90.2 262.1L88.9 261.6" class="cl"/>
<path d="M93.7 276.5L91.8 275.9" class="cl"/>
<path d="M97.3 291.0L94.7 290.1" class="cl"/>
<path d="M98.7 304.7L97.6 304.3" class="cl"/>
<path d="M81.5 227.3L98.2 288.0L98.5 295.8L81.7 227.7Z" fill="url(#q269)" stroke="url(#q269)"/>
<path d="M83.2 233.2L83.1 233.1" class="cl"/>
<path d="M87.2 247.8L86.6 247.6" class="cl"/>
<path d="M91.2 262.4L90.2 262.1" class="cl"/>
<path d="M95.2 277.0L93.7 276.5" class="cl"/>
<path d="M98.3 291.3L97.3 291.0" class="cl"/>
<path d="M81.4 227.0L98.1 283.6L98.2 288.0L81.5 227.3Z" fill="url(#q270)" stroke="url(#q270)"/>
<path d="M83.3 233.3L83.2 233.2" class="cl"/>
<path d="M87.6 248.0L87.2 247.8" class="cl"/>
<path d="M91.9 262.6L91.2 262.4" class="cl"/>
<path d="M96.2 277.3L95.2 277.0" class="cl"/>
<path d="M80.8 225.8L97.4 271.5L98.1 283.6L81.4 227.0Z" fill="url(#q271)" stroke="url(#q271)"/>
<path d="M83.6 233.7L83.3 233.3" class="cl"/>
<path d="M89.1 248.6L87.6 248.0" class="cl"/>
<path d="M94.5 263.5L91.9 262.6" class="cl"/>
<path d="M97.7 277.9L96.2 277.3" class="cl"/>
<path d="M80.0 224.3L96.6 260.7L97.4 271.5L80.8 225.8Z" fill="url(#q272)" stroke="url(#q272)"/>
<path d="M84.5 234.1L83.6 233.7" class="cl"/>
<path d="M91.4 249.4L89.1 248.6" class="cl"/>
<path d="M96.9 264.3L94.5 263.5" class="cl"/>
<path d="M78.5 221.8L95.0 247.0L96.6 260.7L80.0 224.3Z" fill="url(#q273)" stroke="url(#q273)"/>
<path d="M87.4 235.3L84.5 234.1" class="cl"/>
<path d="M95.4 250.8L91.4 249.4" class="cl"/>
<path d="M78.1 221.2L94.7 245.3L95.0 247.0L78.5 221.8Z" fill="url(#q274)" stroke="url(#q274)"/>
<path d="M88.0 235.6L87.4 235.3" class="cl"/>
<path d="M77.5 220.3L94.0 242.6L94.7 245.3L78.1 221.2Z" fill="url(#q275)" stroke="url(#q275)"/>
<path d="M89.2 236.1L88.0 235.6" class="cl"/>
<path d="M77.1 219.8L93.7 241.1L94.0 242.6L77.5 220.3Z" fill="url(#q276)" stroke="url(#q276)"/>
<path d="M77.3 220.0L77.2 220.0" class="cl"/>
<path d="M90.0 236.4L89.2 236.1" class="cl"/>
<path d="M76.9 219.5L93.5 240.4L93.7 241.1L77.1 219.8Z" fill="url(#q277)" stroke="url(#q277)"/>
<path d="M77.4 220.1L77.3 220.0" class="cl"/>
<path d="M90.4 236.6L90.0 236.4" class="cl"/>
<path d="M76.9 219.4L93.4 240.2L93.5 240.4L76.9 219.5Z" fill="url(#q278)" stroke="url(#q278)"/>
<path d="M77.4 220.1L77.4 220.1" class="cl"/>
<path d="M90.5 236.6L90.4 236.6" class="cl"/>
<path d="M76.6 219.1L93.2 239.3L93.4 240.2L76.9 219.4Z" fill="url(#q279)" stroke="url(#q279)"/>
<path d="M77.6 220.3L77.4 220.1" class="cl"/>
<path d="M91.1 236.8L90.5 236.6" class="cl"/>
<path d="M76.2 218.6L92.8 238.1L93.2 239.3L76.6 219.1Z" fill="url(#q280)" stroke="url(#q280)"/>
<path d="M77.8 220.4L77.6 220.3" class="cl"/>
<path d="M92.0 237.2L91.1 236.8" class="cl"/>
<path d="M75.6 217.8L92.2 236.0L92.8 238.1L76.2 218.6Z" fill="url(#q281)" stroke="url(#q281)"/>
<path d="M78.3 220.8L77.8 220.4" class="cl"/>
<path d="M92.6 237.4L92.0 237.2" class="cl"/>
<path d="M75.4 217.5L91.9 235.2L92.2 236.0L75.6 217.8Z" fill="url(#q282)" stroke="url(#q282)"/>
<path d="M78.6 220.9L78.3 220.8" class="cl"/>
<path d="M74.6 216.5L91.1 233.0L91.9 235.2L75.4 217.5Z" fill="url(#q283)" stroke="url(#q283)"/>
<path d="M79.4 221.3L78.6 220.9" class="cl"/>
<path d="M74.0 215.8L90.5 231.4L91.1 233.0L74.6 216.5Z" fill="url(#q284)" stroke="url(#q284)"/>
<path d="M80.3 221.7L79.4 221.3" class="cl"/>
<path d="M73.8 215.6L90.4 230.9L90.5 231.4L74.0 215.8Z" fill="url(#q285)" stroke="url(#q285)"/>
<path d="M80.5 221.8L80.3 221.7" class="cl"/>
<path d="M73.6 215.4L90.2 230.4L90.4 230.9L73.8 215.6Z" fill="url(#q286)" stroke="url(#q286)"/>
<path d="M80.8 222.0L80.5 221.8" class="cl"/>
<path d="M73.3 215.1L89.9 229.8L90.2 230.4L73.6 215.4Z" fill="url(#q287)" stroke="url(#q287)"/>
<path d="M81.2 222.1L80.8 222.0" class="cl"/>
<path d="M73.1 214.8L89.7 229.2L89.9 229.8L73.3 215.1Z" fill="url(#q288)" stroke="url(#q288)"/>
<path d="M81.7 222.3L81.2 222.1" class="cl"/>
<path d="M72.7 214.4L89.3 228.4L89.7 229.2L73.1 214.8Z" fill="url(#q289)" stroke="url(#q289)"/>
<path d="M82.4 222.6L81.7 222.3" class="cl"/>
<path d="M72.2 214.2L88.8 227.4L89.3 228.4L72.7 214.4Z" fill="url(#q290)" stroke="url(#q290)"/>
<path d="M83.2 222.9L82.4 222.6" class="cl"/>
<path d="M72.1 214.2L88.6 227.0L88.8 227.4L72.2 214.2Z" fill="url(#q291)" stroke="url(#q291)"/>
<path d="M83.4 223.0L83.2 222.9" class="cl"/>
<path d="M70.7 214.5L87.2 224.3L88.6 227.0L72.1 214.2Z" fill="url(#q292)" stroke="url(#q292)"/>
<path d="M87.0 224.2L83.4 223.0" class="cl"/>
<path d="M70.2 214.6L86.7 223.3L87.2 224.3L70.7 214.5Z" fill="url(#q293)" stroke="url(#q293)"/>
<path d="M87.2 224.2L87.0 224.2" class="cl"/>
<path d="M69.5 214.7L86.1 222.3L86.7 223.3L70.2 214.6Z" fill="url(#q294)" stroke="url(#q294)"/>
<path d="M69.2 214.8L85.7 221.7L86.1 222.3L69.5 214.7Z" fill="url(#q295)" stroke="url(#q295)"/>
<path d="M69.1 214.8L85.7 221.6L85.7 221.7L69.2 214.8Z" fill="url(#q296)" stroke="url(#q296)"/>
<path d="M68.9 214.8L85.4 221.3L85.7 221.6L69.1 214.8Z" fill="url(#q297)" stroke="url(#q297)"/>
<path d="M68.7 214.9L85.2 220.9L85.4 221.3L68.9 214.8Z" fill="url(#q298)" stroke="url(#q298)"/>
<path d="M68.3 214.9L84.8 220.3L85.2 220.9L68.7 214.9Z" fill="url(#q299)" stroke="url(#q299)"/>
<path d="M67.6 214.9L84.2 219.4L84.8 220.3L68.3 214.9Z" fill="url(#q300)" stroke="url(#q300)"/>
<path d="M67.5 214.9L84.1 219.2L84.2 219.4L67.6 214.9Z" fill="url(#q301)" stroke="url(#q301)"/>
<path d="M66.0 214.6L82.5 218.2L84.1 219.2L67.5 214.9Z" fill="#9f0000" stroke="#9f0000"/>
<path d="M64.4 214.4L80.9 218.5L82.5 218.2L66.0 214.6Z" fill="#9c0000" stroke="#9c0000"/>
<path d="M62.8 214.2L79.3 218.8L80.9 218.5L64.4 214.4Z" fill="url(#q302)" stroke="url(#q302)"/>
<path d="M61.1 214.0L77.7 219.0L79.3 218.8L62.8 214.2Z" fill="url(#q303)" stroke="url(#q303)"/>
<path d="M59.5 213.8L76.1 218.7L77.7 219.0L61.1 214.0Z" fill="url(#q304)" stroke="url(#q304)"/>
<path d="M57.9 213.6L74.5 218.5L76.1 218.7L59.5 213.8Z" fill="url(#q305)" stroke="url(#q305)"/>
<path d="M56.3 213.4L72.9 218.2L74.5 218.5L57.9 213.6Z" fill="url(#q306)" stroke="url(#q306)"/>
<path d="M54.6 213.3L71.2 218.0L72.9 218.2L56.3 213.4Z" fill="url(#q307)" stroke="url(#q307)"/>
<path d="M52.9 213.1L69.6 217.8L71.2 218.0L54.6 213.3Z" fill="url(#q308)" stroke="url(#q308)"/>
<path d="M51.3 213.0L67.9 217.6L69.6 217.8L52.9 213.1Z" fill="url(#q309)" stroke="url(#q309)"/>
<path d="M151.2 207.5L167.8 215.6L168.9 216.2L152.4 207.3Z" fill="url(#q310)" stroke="url(#q310)"/>
<path d="M158.9 211.2L159.0 210.8" class="cl"/>
<path d="M150.0 207.7L166.6 215.0L167.8 215.6L151.2 207.5Z" fill="url(#q311)" stroke="url(#q311)"/>
<path d="M159.1 211.7L158.9 211.2" class="cl"/>
<path d="M148.8 207.9L165.4 214.4L166.6 215.0L150.0 207.7Z" fill="url(#q312)" stroke="url(#q312)"/>
<path d="M159.9 212.3L159.1 211.7" class="cl"/>
<path d="M147.6 208.1L164.2 213.9L165.4 214.4L148.8 207.9Z" fill="url(#q313)" stroke="url(#q313)"/>
<path d="M161.4 212.9L159.9 212.3" class="cl"/>
<path d="M146.4 208.3L163.0 213.4L164.2 213.9L147.6 208.1Z" fill="url(#q314)" stroke="url(#q314)"/>
<path d="M163.3 213.6L161.4 212.9" class="cl"/>
<path d="M145.2 208.6L161.8 213.0L163.0 213.4L146.4 208.3Z" fill="url(#q315)" stroke="url(#q315)"/>
<path d="M143.9 208.8L160.6 212.5L161.8 213.0L145.2 208.6Z" fill="url(#q316)" stroke="url(#q316)"/>
<path d="M142.7 209.0L159.4 212.1L160.6 212.5L143.9 208.8Z" fill="#b60000" stroke="#b60000"/>
<path d="M141.4 209.2L158.2 211.7L159.4 212.1L142.7 209.0Z" fill="#b30000" stroke="#b30000"/>
<path d="M140.2 209.4L157.0 211.3L158.2 211.7L141.4 209.2Z" fill="#b10000" stroke="#b10000"/>
<path d="M138.9 209.6L155.7 211.3L157.0 211.3L140.2 209.4Z" fill="#b00000" stroke="#b00000"/>
<path d="M137.6 209.8L154.5 211.6L155.7 211.3L138.9 209.6Z" fill="#af0000" stroke="#af0000"/>
<path d="M136.4 210.1L153.2 211.9L154.5 211.6L137.6 209.8Z" fill="#af0000" stroke="#af0000"/>
<path d="M135.1 210.3L151.9 212.1L153.2 211.9L136.4 210.1Z" fill="#af0000" stroke="#af0000"/>
<path d="M133.8 210.5L150.7 212.4L151.9 212.1L135.1 210.3Z" fill="#af0000" stroke="#af0000"/>
<path d="M132.5 210.7L149.4 212.7L150.7 212.4L133.8 210.5Z" fill="#ae0000" stroke="#ae0000"/>
<path d="M131.8 210.8L148.7 212.9L149.4 212.7L132.5 210.7Z" fill="#ae0000" stroke="#ae0000"/>
<path d="M131.3 210.9L148.2 213.0L148.7 212.9L131.8 210.8Z" fill="#ae0000" stroke="#ae0000"/>
<path d="M131.2 210.9L148.1 213.0L148.2 213.0L131.3 210.9Z" fill="#ae0000" stroke="#ae0000"/>
<path d="M131.0 211.0L147.9 213.1L148.1 213.0L131.2 210.9Z" fill="#ae0000" stroke="#ae0000"/>
<path d="M130.8 211.0L147.7 213.1L147.9 213.1L131.0 211.0Z" fill="#ae0000" stroke="#ae0000"/>
<path d="M130.6 211.1L147.5 213.1L147.7 213.1L130.8 211.0Z" fill="#ae0000" stroke="#ae0000"/>
<path d="M130.3 211.1L147.1 213.2L147.5 213.1L130.6 211.1Z" fill="#ae0000" stroke="#ae0000"/>
<path d="M129.9 211.2L146.8 213.3L147.1 213.2L130.3 211.1Z" fill="#ae0000" stroke="#ae0000"/>
<path d="M129.7 211.2L146.6 213.3L146.8 213.3L129.9 211.2Z" fill="#ae0000" stroke="#ae0000"/>
<path d="M128.6 211.4L145.5 213.6L146.6 213.3L129.7 211.2Z" fill="#ae0000" stroke="#ae0000"/>
<path d="M127.3 211.6L144.2 213.9L145.5 213.6L128.6 211.4Z" fill="#ae0000" stroke="#ae0000"/>
<path d="M125.9 211.9L142.9 214.2L144.2 213.9L127.3 211.6Z" fill="#ae0000" stroke="#ae0000"/>
<path d="M124.6 212.1L141.5 214.5L142.9 214.2L125.9 211.9Z" fill="#ad0000" stroke="#ad0000"/>
<path d="M123.2 212.3L140.2 214.8L141.5 214.5L124.6 212.1Z" fill="#ad0000" stroke="#ad0000"/>
<path d="M121.9 212.5L138.9 215.1L140.2 214.8L123.2 212.3Z" fill="#ad0000" stroke="#ad0000"/>
<path d="M120.5 212.8L137.5 215.4L138.9 215.1L121.9 212.5Z" fill="#ad0000" stroke="#ad0000"/>
<path d="M119.2 214.2L136.2 215.7L137.5 215.4L120.5 212.8Z" fill="#ae0000" stroke="#ae0000"/>
<path d="M117.8 215.7L134.8 216.0L136.2 215.7L119.2 214.2Z" fill="url(#q317)" stroke="url(#q317)"/>
<path d="M116.9 216.6L134.0 216.2L134.8 216.0L117.8 215.7Z" fill="url(#q318)" stroke="url(#q318)"/>
<path d="M116.4 217.2L133.5 216.3L134.0 216.2L116.9 216.6Z" fill="url(#q319)" stroke="url(#q319)"/>
<path d="M116.4 217.3L133.4 216.3L133.5 216.3L116.4 217.2Z" fill="url(#q320)" stroke="url(#q320)"/>
<path d="M116.0 217.7L133.1 216.4L133.4 216.3L116.4 217.3Z" fill="url(#q321)" stroke="url(#q321)"/>
<path d="M115.8 217.9L132.9 216.4L133.1 216.4L116.0 217.7Z" fill="url(#q322)" stroke="url(#q322)"/>
<path d="M115.6 218.2L132.6 216.5L132.9 216.4L115.8 217.9Z" fill="url(#q323)" stroke="url(#q323)"/>
<path d="M116.4 218.1L115.8 217.9" class="cl"/>
<path d="M115.3 218.6L132.3 216.5L132.6 216.5L115.6 218.2Z" fill="url(#q324)" stroke="url(#q324)"/>
<path d="M117.2 218.4L116.4 218.1" class="cl"/>
<path d="M115.0 218.9L132.1 216.6L132.3 216.5L115.3 218.6Z" fill="url(#q325)" stroke="url(#q325)"/>
<path d="M117.7 218.5L117.2 218.4" class="cl"/>
<path d="M114.7 219.3L131.8 216.7L132.1 216.6L115.0 218.9Z" fill="url(#q326)" stroke="url(#q326)"/>
<path d="M118.3 218.7L117.7 218.5" class="cl"/>
<path d="M113.6 220.6L130.7 216.9L131.8 216.7L114.7 219.3Z" fill="url(#q327)" stroke="url(#q327)"/>
<path d="M119.5 219.4L118.3 218.7" class="cl"/>
<path d="M112.2 222.5L129.3 217.2L130.7 216.9L113.6 220.6Z" fill="url(#q328)" stroke="url(#q328)"/>
<path d="M120.3 220.0L119.5 219.4" class="cl"/>
<path d="M110.8 224.5L127.9 217.8L129.3 217.2L112.2 222.5Z" fill="url(#q329)" stroke="url(#q329)"/>
<path d="M120.7 220.6L120.3 220.0" class="cl"/>
<path d="M109.4 226.6L126.5 219.7L127.9 217.8L110.8 224.5Z" fill="url(#q330)" stroke="url(#q330)"/>
<path d="M122.3 221.4L120.7 220.6" class="cl"/>
<path d="M108.0 228.9L125.1 221.8L126.5 219.7L109.4 226.6Z" fill="url(#q331)" stroke="url(#q331)"/>
<path d="M123.9 222.3L122.3 221.4" class="cl"/>
<path d="M106.8 231.0L123.8 223.8L125.1 221.8L108.0 228.9Z" fill="url(#q332)" stroke="url(#q332)"/>
<path d="M124.6 222.6L123.9 222.3" class="cl"/>
<path d="M106.6 231.3L123.7 224.0L123.8 223.8L106.8 231.0Z" fill="url(#q333)" stroke="url(#q333)"/>
<path d="M106.2 232.0L123.3 224.7L123.7 224.0L106.6 231.3Z" fill="url(#q334)" stroke="url(#q334)"/>
<path d="M105.9 232.6L122.9 225.3L123.3 224.7L106.2 232.0Z" fill="url(#q335)" stroke="url(#q335)"/>
<path d="M105.6 233.1L122.7 225.6L122.9 225.3L105.9 232.6Z" fill="url(#q336)" stroke="url(#q336)"/>
<path d="M105.4 233.5L122.5 226.0L122.7 225.6L105.6 233.1Z" fill="url(#q337)" stroke="url(#q337)"/>
<path d="M105.2 233.9L122.2 226.4L122.5 226.0L105.4 233.5Z" fill="url(#q338)" stroke="url(#q338)"/>
<path d="M105.1 234.2L122.1 226.6L122.2 226.4L105.2 233.9Z" fill="url(#q339)" stroke="url(#q339)"/>
<path d="M104.5 235.8L121.6 227.7L122.1 226.6L105.1 234.2Z" fill="url(#q340)" stroke="url(#q340)"/>
<path d="M106.6 234.8L105.0 234.3" class="cl"/>
<path d="M103.8 238.2L120.8 229.0L121.6 227.7L104.5 235.8Z" fill="url(#q341)" stroke="url(#q341)"/>
<path d="M108.7 235.5L106.6 234.8" class="cl"/>
<path d="M102.3 243.5L119.4 231.9L120.8 229.0L103.8 238.2Z" fill="url(#q342)" stroke="url(#q342)"/>
<path d="M112.1 236.8L108.7 235.5" class="cl"/>
<path d="M100.9 251.0L117.9 235.0L119.4 231.9L102.3 243.5Z" fill="url(#q343)" stroke="url(#q343)"/>
<path d="M114.8 238.0L112.1 236.8" class="cl"/>
<path d="M102.4 249.6L101.3 249.2" class="cl"/>
<path d="M99.7 270.1L116.6 238.2L117.9 235.0L100.9 251.0Z" fill="url(#q344)" stroke="url(#q344)"/>
<path d="M116.2 238.8L114.8 238.0" class="cl"/>
<path d="M109.4 251.7L102.4 249.6" class="cl"/>
<path d="M102.8 264.2L100.1 263.4" class="cl"/>
<path d="M99.6 272.7L116.5 238.5L116.6 238.2L99.7 270.1Z" fill="url(#q345)" stroke="url(#q345)"/>
<path d="M116.3 238.9L116.2 238.8" class="cl"/>
<path d="M109.9 251.9L109.4 251.7" class="cl"/>
<path d="M103.6 264.5L102.8 264.2" class="cl"/>
<path d="M99.2 282.7L116.0 239.9L116.5 238.5L99.6 272.7Z" fill="url(#q346)" stroke="url(#q346)"/>
<path d="M116.3 239.0L116.3 238.9" class="cl"/>
<path d="M111.1 252.4L109.9 251.9" class="cl"/>
<path d="M106.1 265.3L103.6 264.5" class="cl"/>
<path d="M101.1 277.9L99.4 277.3" class="cl"/>
<path d="M98.9 295.3L115.7 241.2L116.0 239.9L99.2 282.7Z" fill="url(#q347)" stroke="url(#q347)"/>
<path d="M112.1 252.7L111.1 252.4" class="cl"/>
<path d="M108.0 265.9L106.1 265.3" class="cl"/>
<path d="M104.0 278.8L101.1 277.9" class="cl"/>
<path d="M100.1 291.4L99.0 291.1" class="cl"/>
<path d="M98.8 310.0L115.4 242.2L115.7 241.2L98.9 295.3Z" fill="url(#q348)" stroke="url(#q348)"/>
<path d="M112.8 253.0L112.1 252.7" class="cl"/>
<path d="M109.5 266.4L108.0 265.9" class="cl"/>
<path d="M106.3 279.5L104.0 278.8" class="cl"/>
<path d="M103.1 292.4L100.1 291.4" class="cl"/>
<path d="M100.0 305.0L98.8 304.6" class="cl"/>
<path d="M98.5 295.8L115.2 243.1L115.4 242.2L98.8 310.0Z" fill="url(#q349)" stroke="url(#q349)"/>
<path d="M112.1 253.0L112.8 253.0" class="cl"/>
<path d="M107.9 266.1L109.5 266.4" class="cl"/>
<path d="M103.8 279.0L106.3 279.5" class="cl"/>
<path d="M99.8 291.6L103.1 292.4" class="cl"/>
<path d="M100.0 305.0L98.7 304.7" class="cl"/>
<path d="M98.2 288.0L115.0 244.0L115.2 243.1L98.5 295.8Z" fill="url(#q350)" stroke="url(#q350)"/>
<path d="M111.6 253.0L112.1 253.0" class="cl"/>
<path d="M106.6 266.0L107.9 266.1" class="cl"/>
<path d="M101.8 278.6L103.8 279.0" class="cl"/>
<path d="M99.8 291.6L98.3 291.3" class="cl"/>
<path d="M98.1 283.6L114.9 244.6L115.0 244.0L98.2 288.0Z" fill="url(#q351)" stroke="url(#q351)"/>
<path d="M111.3 253.0L111.6 253.0" class="cl"/>
<path d="M105.7 265.8L106.6 266.0" class="cl"/>
<path d="M100.3 278.4L101.8 278.6" class="cl"/>
<path d="M97.4 271.5L114.3 247.3L114.9 244.6L98.1 283.6Z" fill="url(#q352)" stroke="url(#q352)"/>
<path d="M110.2 253.0L111.3 253.0" class="cl"/>
<path d="M101.8 265.2L105.7 265.8" class="cl"/>
<path d="M100.3 278.4L97.7 277.9" class="cl"/>
<path d="M96.6 260.7L113.5 251.0L114.3 247.3L97.4 271.5Z" fill="url(#q353)" stroke="url(#q353)"/>
<path d="M109.6 253.3L110.2 253.0" class="cl"/>
<path d="M101.8 265.2L96.9 264.3" class="cl"/>
<path d="M95.0 247.0L112.1 262.8L113.5 251.0L96.6 260.7Z" fill="#ff1d00" stroke="#ff1d00"/>
<path d="M100.5 252.0L113.1 254.2" class="cl"/>
<path d="M109.6 253.3L95.4 250.8" class="cl"/>
<path d="M94.7 245.3L111.7 266.9L112.1 262.8L95.0 247.0Z" fill="url(#q354)" stroke="url(#q354)"/>
<path d="M100.1 252.1L100.5 252.0" class="cl"/>
<path d="M94.0 242.6L111.2 274.2L111.7 266.9L94.7 245.3Z" fill="url(#q355)" stroke="url(#q355)"/>
<path d="M99.3 252.3L100.1 252.1" class="cl"/>
<path d="M108.0 268.4L111.6 269.0" class="cl"/>
<path d="M93.7 241.1L110.8 279.3L111.2 274.2L94.0 242.6Z" fill="url(#q356)" stroke="url(#q356)"/>
<path d="M98.7 252.3L99.3 252.3" class="cl"/>
<path d="M105.7 268.0L108.0 268.4" class="cl"/>
<path d="M93.5 240.4L110.6 282.6L110.8 279.3L93.7 241.1Z" fill="url(#q357)" stroke="url(#q357)"/>
<path d="M98.3 252.3L98.7 252.3" class="cl"/>
<path d="M104.7 267.9L105.7 268.0" class="cl"/>
<path d="M93.4 240.2L110.6 283.4L110.6 282.6L93.5 240.4Z" fill="url(#q358)" stroke="url(#q358)"/>
<path d="M98.2 252.3L98.3 252.3" class="cl"/>
<path d="M104.4 267.8L104.7 267.9" class="cl"/>
<path d="M93.2 239.3L110.4 280.3L110.6 283.4L93.4 240.2Z" fill="url(#q359)" stroke="url(#q359)"/>
<path d="M98.7 252.5L98.2 252.3" class="cl"/>
<path d="M105.3 268.2L104.4 267.8" class="cl"/>
<path d="M92.8 238.1L110.0 276.1L110.4 280.3L93.2 239.3Z" fill="url(#q360)" stroke="url(#q360)"/>
<path d="M99.5 252.9L98.7 252.5" class="cl"/>
<path d="M106.6 268.7L105.3 268.2" class="cl"/>
<path d="M92.2 236.0L109.4 270.5L110.0 276.1L92.8 238.1Z" fill="url(#q361)" stroke="url(#q361)"/>
<path d="M93.0 237.6L92.6 237.4" class="cl"/>
<path d="M100.9 253.5L99.5 252.9" class="cl"/>
<path d="M108.9 269.5L106.6 268.7" class="cl"/>
<path d="M91.9 235.2L109.1 267.0L109.4 270.5L92.2 236.0Z" fill="url(#q362)" stroke="url(#q362)"/>
<path d="M93.3 237.8L93.0 237.6" class="cl"/>
<path d="M102.0 253.8L100.9 253.5" class="cl"/>
<path d="M109.3 269.7L108.9 269.5" class="cl"/>
<path d="M91.1 233.0L108.4 257.2L109.1 267.0L91.9 235.2Z" fill="url(#q363)" stroke="url(#q363)"/>
<path d="M95.0 238.5L93.3 237.8" class="cl"/>
<path d="M107.0 255.3L102.0 253.8" class="cl"/>
<path d="M90.5 231.4L107.8 251.7L108.4 257.2L91.1 233.0Z" fill="url(#q364)" stroke="url(#q364)"/>
<path d="M97.1 239.1L95.0 238.5" class="cl"/>
<path d="M108.2 255.6L107.0 255.3" class="cl"/>
<path d="M90.4 230.9L107.6 250.4L107.8 251.7L90.5 231.4Z" fill="url(#q365)" stroke="url(#q365)"/>
<path d="M97.8 239.3L97.1 239.1" class="cl"/>
<path d="M90.2 230.4L107.4 248.9L107.6 250.4L90.4 230.9Z" fill="url(#q366)" stroke="url(#q366)"/>
<path d="M98.7 239.6L97.8 239.3" class="cl"/>
<path d="M89.9 229.8L107.2 247.2L107.4 248.9L90.2 230.4Z" fill="url(#q367)" stroke="url(#q367)"/>
<path d="M100.0 240.0L98.7 239.6" class="cl"/>
<path d="M89.7 229.2L106.9 245.6L107.2 247.2L89.9 229.8Z" fill="url(#q368)" stroke="url(#q368)"/>
<path d="M101.4 240.3L100.0 240.0" class="cl"/>
<path d="M89.3 228.4L106.5 243.4L106.9 245.6L89.7 229.2Z" fill="url(#q369)" stroke="url(#q369)"/>
<path d="M103.7 241.0L101.4 240.3" class="cl"/>
<path d="M88.8 227.4L106.1 241.2L106.5 243.4L89.3 228.4Z" fill="url(#q370)" stroke="url(#q370)"/>
<path d="M106.2 241.6L103.7 241.0" class="cl"/>
<path d="M88.6 227.0L105.9 240.8L106.1 241.2L88.8 227.4Z" fill="url(#q371)" stroke="url(#q371)"/>
<path d="M87.2 224.3L104.5 237.3L105.9 240.8L88.6 227.0Z" fill="url(#q372)" stroke="url(#q372)"/>
<path d="M86.7 223.3L104.0 236.2L104.5 237.3L87.2 224.3Z" fill="url(#q373)" stroke="url(#q373)"/>
<path d="M88.4 224.6L87.2 224.2" class="cl"/>
<path d="M86.1 222.3L103.4 234.9L104.0 236.2L86.7 223.3Z" fill="url(#q374)" stroke="url(#q374)"/>
<path d="M90.0 225.2L88.4 224.6" class="cl"/>
<path d="M85.7 221.7L103.0 234.1L103.4 234.9L86.1 222.3Z" fill="url(#q375)" stroke="url(#q375)"/>
<path d="M91.0 225.5L90.0 225.2" class="cl"/>
<path d="M85.7 221.6L103.0 234.0L103.0 234.1L85.7 221.7Z" fill="url(#q376)" stroke="url(#q376)"/>
<path d="M91.1 225.5L91.0 225.5" class="cl"/>
<path d="M85.4 221.3L102.8 233.6L103.0 234.0L85.7 221.6Z" fill="url(#q377)" stroke="url(#q377)"/>
<path d="M91.6 225.7L91.1 225.5" class="cl"/>
<path d="M85.2 220.9L102.5 233.1L102.8 233.6L85.4 221.3Z" fill="url(#q378)" stroke="url(#q378)"/>
<path d="M92.3 225.9L91.6 225.7" class="cl"/>
<path d="M84.8 220.3L102.2 232.4L102.5 233.1L85.2 220.9Z" fill="url(#q379)" stroke="url(#q379)"/>
<path d="M93.3 226.2L92.3 225.9" class="cl"/>
<path d="M84.2 219.4L101.5 231.3L102.2 232.4L84.8 220.3Z" fill="url(#q380)" stroke="url(#q380)"/>
<path d="M94.9 226.8L93.3 226.2" class="cl"/>
<path d="M84.1 219.2L101.4 231.2L101.5 231.3L84.2 219.4Z" fill="url(#q381)" stroke="url(#q381)"/>
<path d="M95.2 226.9L94.9 226.8" class="cl"/>
<path d="M82.5 218.2L99.9 228.6L101.4 231.2L84.1 219.2Z" fill="url(#q382)" stroke="url(#q382)"/>
<path d="M99.1 228.2L95.2 226.9" class="cl"/>
<path d="M80.9 218.5L98.3 226.4L99.9 228.6L82.5 218.2Z" fill="url(#q383)" stroke="url(#q383)"/>
<path d="M99.7 228.4L99.1 228.2" class="cl"/>
<path d="M79.3 218.8L96.7 224.4L98.3 226.4L80.9 218.5Z" fill="url(#q384)" stroke="url(#q384)"/>
<path d="M77.7 219.0L95.1 222.5L96.7 224.4L79.3 218.8Z" fill="url(#q385)" stroke="url(#q385)"/>
<path d="M76.1 218.7L93.5 222.5L95.1 222.5L77.7 219.0Z" fill="#9e0000" stroke="#9e0000"/>
<path d="M74.5 218.5L91.9 222.9L93.5 222.5L76.1 218.7Z" fill="#9c0000" stroke="#9c0000"/>
<path d="M72.9 218.2L90.3 222.9L91.9 222.9L74.5 218.5Z" fill="url(#q386)" stroke="url(#q386)"/>
<path d="M71.2 218.0L88.7 222.5L90.3 222.9L72.9 218.2Z" fill="url(#q387)" stroke="url(#q387)"/>
<path d="M69.6 217.8L87.0 222.2L88.7 222.5L71.2 218.0Z" fill="#940000" stroke="#940000"/>
<path d="M67.9 217.6L85.4 221.8L87.0 222.2L69.6 217.8Z" fill="#910000" stroke="#910000"/>
<path d="M167.8 215.6L184.9 225.8L186.0 226.7L168.9 216.2Z" fill="url(#q388)" stroke="url(#q388)"/>
<path d="M166.6 215.0L183.8 225.0L184.9 225.8L167.8 215.6Z" fill="url(#q389)" stroke="url(#q389)"/>
<path d="M165.4 214.4L182.6 224.2L183.8 225.0L166.6 215.0Z" fill="url(#q390)" stroke="url(#q390)"/>
<path d="M164.2 213.9L181.5 223.5L182.6 224.2L165.4 214.4Z" fill="url(#q391)" stroke="url(#q391)"/>
<path d="M163.0 213.4L180.3 222.8L181.5 223.5L164.2 213.9Z" fill="url(#q392)" stroke="url(#q392)"/>
<path d="M163.6 213.7L163.3 213.6" class="cl"/>
<path d="M161.8 213.0L179.1 222.1L180.3 222.8L163.0 213.4Z" fill="url(#q393)" stroke="url(#q393)"/>
<path d="M164.4 214.3L163.6 213.7" class="cl"/>
<path d="M160.6 212.5L178.0 221.5L179.1 222.1L161.8 213.0Z" fill="url(#q394)" stroke="url(#q394)"/>
<path d="M165.2 214.9L164.4 214.3" class="cl"/>
<path d="M159.4 212.1L176.8 220.9L178.0 221.5L160.6 212.5Z" fill="url(#q395)" stroke="url(#q395)"/>
<path d="M166.1 215.5L165.2 214.9" class="cl"/>
<path d="M158.2 211.7L175.6 220.3L176.8 220.9L159.4 212.1Z" fill="url(#q396)" stroke="url(#q396)"/>
<path d="M167.1 216.1L166.1 215.5" class="cl"/>
<path d="M157.0 211.3L174.4 219.8L175.6 220.3L158.2 211.7Z" fill="url(#q397)" stroke="url(#q397)"/>
<path d="M168.2 216.7L167.1 216.1" class="cl"/>
<path d="M155.7 211.3L173.2 219.2L174.4 219.8L157.0 211.3Z" fill="url(#q398)" stroke="url(#q398)"/>
<path d="M169.0 217.3L168.2 216.7" class="cl"/>
<path d="M154.5 211.6L172.0 218.8L173.2 219.2L155.7 211.3Z" fill="url(#q399)" stroke="url(#q399)"/>
<path d="M170.1 218.0L169.0 217.3" class="cl"/>
<path d="M153.2 211.9L170.7 218.3L172.0 218.8L154.5 211.6Z" fill="url(#q400)" stroke="url(#q400)"/>
<path d="M171.2 218.5L170.1 218.0" class="cl"/>
<path d="M151.9 212.1L169.5 217.8L170.7 218.3L153.2 211.9Z" fill="url(#q401)" stroke="url(#q401)"/>
<path d="M150.7 212.4L168.3 217.4L169.5 217.8L151.9 212.1Z" fill="url(#q402)" stroke="url(#q402)"/>
<path d="M149.4 212.7L167.0 217.0L168.3 217.4L150.7 212.4Z" fill="url(#q403)" stroke="url(#q403)"/>
<path d="M148.7 212.9L166.3 216.8L167.0 217.0L149.4 212.7Z" fill="url(#q404)" stroke="url(#q404)"/>
<path d="M148.2 213.0L165.8 216.7L166.3 216.8L148.7 212.9Z" fill="#b00000" stroke="#b00000"/>
<path d="M148.1 213.0L165.7 216.6L165.8 216.7L148.2 213.0Z" fill="#b00000" stroke="#b00000"/>
<path d="M147.9 213.1L165.5 216.6L165.7 216.6L148.1 213.0Z" fill="#b00000" stroke="#b00000"/>
<path d="M147.7 213.1L165.3 216.5L165.5 216.6L147.9 213.1Z" fill="#af0000" stroke="#af0000"/>
<path d="M147.5 213.1L165.1 216.4L165.3 216.5L147.7 213.1Z" fill="#af0000" stroke="#af0000"/>
<path d="M147.1 213.2L164.8 216.4L165.1 216.4L147.5 213.1Z" fill="#af0000" stroke="#af0000"/>
<path d="M146.8 213.3L164.5 216.3L164.8 216.4L147.1 213.2Z" fill="#ae0000" stroke="#ae0000"/>
<path d="M146.6 213.3L164.3 216.2L164.5 216.3L146.8 213.3Z" fill="#ae0000" stroke="#ae0000"/>
<path d="M145.5 213.6L163.2 216.2L164.3 216.2L146.6 213.3Z" fill="#ad0000" stroke="#ad0000"/>
<path d="M144.2 213.9L161.9 216.5L163.2 216.2L145.5 213.6Z" fill="#ad0000" stroke="#ad0000"/>
<path d="M142.9 214.2L160.6 216.8L161.9 216.5L144.2 213.9Z" fill="#ad0000" stroke="#ad0000"/>
<path d="M141.5 214.5L159.3 217.1L160.6 216.8L142.9 214.2Z" fill="#ad0000" stroke="#ad0000"/>
<path d="M140.2 214.8L158.0 217.5L159.3 217.1L141.5 214.5Z" fill="#ad0000" stroke="#ad0000"/>
<path d="M138.9 215.1L156.7 217.8L158.0 217.5L140.2 214.8Z" fill="#ad0000" stroke="#ad0000"/>
<path d="M137.5 215.4L155.4 218.1L156.7 217.8L138.9 215.1Z" fill="#ad0000" stroke="#ad0000"/>
<path d="M136.2 215.7L154.0 218.4L155.4 218.1L137.5 215.4Z" fill="#ad0000" stroke="#ad0000"/>
<path d="M134.8 216.0L152.7 218.7L154.0 218.4L136.2 215.7Z" fill="#ad0000" stroke="#ad0000"/>
<path d="M134.0 216.2L151.8 218.9L152.7 218.7L134.8 216.0Z" fill="#ad0000" stroke="#ad0000"/>
<path d="M133.5 216.3L151.3 219.0L151.8 218.9L134.0 216.2Z" fill="#ad0000" stroke="#ad0000"/>
<path d="M133.4 216.3L151.3 219.1L151.3 219.0L133.5 216.3Z" fill="#ad0000" stroke="#ad0000"/>
<path d="M133.1 216.4L151.0 219.1L151.3 219.1L133.4 216.3Z" fill="#ad0000" stroke="#ad0000"/>
<path d="M132.9 216.4L150.7 219.2L151.0 219.1L133.1 216.4Z" fill="#ad0000" stroke="#ad0000"/>
<path d="M132.6 216.5L150.5 219.2L150.7 219.2L132.9 216.4Z" fill="#ad0000" stroke="#ad0000"/>
<path d="M132.3 216.5L150.2 219.3L150.5 219.2L132.6 216.5Z" fill="#ad0000" stroke="#ad0000"/>
<path d="M132.1 216.6L150.0 219.4L150.2 219.3L132.3 216.5Z" fill="#ad0000" stroke="#ad0000"/>
<path d="M131.8 216.7L149.7 219.4L150.0 219.4L132.1 216.6Z" fill="#ad0000" stroke="#ad0000"/>
<path d="M130.7 216.9L148.6 219.7L149.7 219.4L131.8 216.7Z" fill="#ad0000" stroke="#ad0000"/>
<path d="M129.3 217.2L147.2 220.0L148.6 219.7L130.7 216.9Z" fill="#ad0000" stroke="#ad0000"/>
<path d="M127.9 217.8L145.9 220.4L147.2 220.0L129.3 217.2Z" fill="#ad0000" stroke="#ad0000"/>
<path d="M126.5 219.7L144.5 220.7L145.9 220.4L127.9 217.8Z" fill="#b00000" stroke="#b00000"/>
<path d="M125.1 221.8L143.1 221.0L144.5 220.7L126.5 219.7Z" fill="url(#q405)" stroke="url(#q405)"/>
<path d="M123.8 223.8L141.8 221.3L143.1 221.0L125.1 221.8Z" fill="url(#q406)" stroke="url(#q406)"/>
<path d="M127.2 223.3L124.6 222.6" class="cl"/>
<path d="M123.7 224.0L141.7 221.4L141.8 221.3L123.8 223.8Z" fill="url(#q407)" stroke="url(#q407)"/>
<path d="M127.6 223.4L127.2 223.3" class="cl"/>
<path d="M123.3 224.7L141.3 221.4L141.7 221.4L123.7 224.0Z" fill="url(#q408)" stroke="url(#q408)"/>
<path d="M128.5 223.7L127.6 223.4" class="cl"/>
<path d="M122.9 225.3L140.9 221.5L141.3 221.4L123.3 224.7Z" fill="url(#q409)" stroke="url(#q409)"/>
<path d="M129.1 224.0L128.5 223.7" class="cl"/>
<path d="M122.7 225.6L140.7 221.6L140.9 221.5L122.9 225.3Z" fill="url(#q410)" stroke="url(#q410)"/>
<path d="M129.4 224.1L129.1 224.0" class="cl"/>
<path d="M122.5 226.0L140.5 221.6L140.7 221.6L122.7 225.6Z" fill="url(#q411)" stroke="url(#q411)"/>
<path d="M129.7 224.3L129.4 224.1" class="cl"/>
<path d="M122.2 226.4L140.3 221.7L140.5 221.6L122.5 226.0Z" fill="url(#q412)" stroke="url(#q412)"/>
<path d="M130.0 224.4L129.7 224.3" class="cl"/>
<path d="M122.1 226.6L140.1 221.7L140.3 221.7L122.2 226.4Z" fill="url(#q413)" stroke="url(#q413)"/>
<path d="M130.1 224.5L130.0 224.4" class="cl"/>
<path d="M121.6 227.7L139.6 222.4L140.1 221.7L122.1 226.6Z" fill="url(#q414)" stroke="url(#q414)"/>
<path d="M131.1 224.9L130.1 224.5" class="cl"/>
<path d="M120.8 229.0L138.8 223.5L139.6 222.4L121.6 227.7Z" fill="url(#q415)" stroke="url(#q415)"/>
<path d="M132.6 225.4L131.1 224.9" class="cl"/>
<path d="M119.4 231.9L137.4 225.7L138.8 223.5L120.8 229.0Z" fill="url(#q416)" stroke="url(#q416)"/>
<path d="M135.2 226.5L132.6 225.4" class="cl"/>
<path d="M117.9 235.0L135.9 228.1L137.4 225.7L119.4 231.9Z" fill="url(#q417)" stroke="url(#q417)"/>
<path d="M136.6 227.0L135.2 226.5" class="cl"/>
<path d="M116.6 238.2L134.6 230.4L135.9 228.1L117.9 235.0Z" fill="url(#q418)" stroke="url(#q418)"/>
<path d="M116.5 238.5L134.5 230.7L134.6 230.4L116.6 238.2Z" fill="url(#q419)" stroke="url(#q419)"/>
<path d="M116.0 239.9L134.0 231.5L134.5 230.7L116.5 238.5Z" fill="url(#q420)" stroke="url(#q420)"/>
<path d="M117.3 239.3L116.3 239.0" class="cl"/>
<path d="M115.7 241.2L133.7 232.1L134.0 231.5L116.0 239.9Z" fill="url(#q421)" stroke="url(#q421)"/>
<path d="M118.7 239.7L117.3 239.3" class="cl"/>
<path d="M115.4 242.2L133.5 232.6L133.7 232.1L115.7 241.2Z" fill="url(#q422)" stroke="url(#q422)"/>
<path d="M119.5 240.0L118.7 239.7" class="cl"/>
<path d="M115.2 243.1L133.2 233.1L133.5 232.6L115.4 242.2Z" fill="url(#q423)" stroke="url(#q423)"/>
<path d="M120.3 240.2L119.5 240.0" class="cl"/>
<path d="M115.0 244.0L133.0 233.5L133.2 233.1L115.2 243.1Z" fill="url(#q424)" stroke="url(#q424)"/>
<path d="M121.0 240.5L120.3 240.2" class="cl"/>
<path d="M114.9 244.6L132.9 233.8L133.0 233.5L115.0 244.0Z" fill="url(#q425)" stroke="url(#q425)"/>
<path d="M121.5 240.6L121.0 240.5" class="cl"/>
<path d="M114.3 247.3L132.3 235.0L132.9 233.8L114.9 244.6Z" fill="url(#q426)" stroke="url(#q426)"/>
<path d="M123.1 241.2L121.5 240.6" class="cl"/>
<path d="M113.5 251.0L131.5 236.5L132.3 235.0L114.3 247.3Z" fill="url(#q427)" stroke="url(#q427)"/>
<path d="M124.9 241.9L123.1 241.2" class="cl"/>
<path d="M112.1 262.8L130.1 239.9L131.5 236.5L113.5 251.0Z" fill="url(#q428)" stroke="url(#q428)"/>
<path d="M127.6 243.1L124.9 241.9" class="cl"/>
<path d="M117.7 255.7L113.1 254.2" class="cl"/>
<path d="M111.7 266.9L129.7 240.7L130.1 239.9L112.1 262.8Z" fill="url(#q429)" stroke="url(#q429)"/>
<path d="M128.0 243.3L127.6 243.1" class="cl"/>
<path d="M119.1 256.2L117.7 255.7" class="cl"/>
<path d="M111.2 274.2L129.1 242.2L129.7 240.7L111.7 266.9Z" fill="url(#q430)" stroke="url(#q430)"/>
<path d="M128.3 243.7L128.0 243.3" class="cl"/>
<path d="M120.9 256.9L119.1 256.2" class="cl"/>
<path d="M113.7 269.7L111.6 269.0" class="cl"/>
<path d="M110.8 279.3L128.8 243.2L129.1 242.2L111.2 274.2Z" fill="url(#q431)" stroke="url(#q431)"/>
<path d="M128.4 243.8L128.3 243.7" class="cl"/>
<path d="M121.8 257.2L120.9 256.9" class="cl"/>
<path d="M115.3 270.3L113.7 269.7" class="cl"/>
<path d="M110.6 282.6L128.6 243.7L128.8 243.2L110.8 279.3Z" fill="url(#q432)" stroke="url(#q432)"/>
<path d="M128.5 243.9L128.4 243.8" class="cl"/>
<path d="M122.2 257.4L121.8 257.2" class="cl"/>
<path d="M116.2 270.6L115.3 270.3" class="cl"/>
<path d="M110.6 283.4L128.5 243.8L128.6 243.7L110.6 282.6Z" fill="url(#q433)" stroke="url(#q433)"/>
<path d="M128.5 244.0L128.5 243.9" class="cl"/>
<path d="M122.3 257.5L122.2 257.4" class="cl"/>
<path d="M116.4 270.6L116.2 270.6" class="cl"/>
<path d="M110.4 280.3L128.3 245.2L128.5 243.8L110.6 283.4Z" fill="url(#q434)" stroke="url(#q434)"/>
<path d="M128.5 244.0L128.5 244.0" class="cl"/>
<path d="M122.0 257.5L122.3 257.5" class="cl"/>
<path d="M115.3 270.5L116.4 270.6" class="cl"/>
<path d="M110.0 276.1L127.9 247.9L128.3 245.2L110.4 280.3Z" fill="url(#q435)" stroke="url(#q435)"/>
<path d="M121.7 257.7L122.0 257.5" class="cl"/>
<path d="M113.7 270.3L115.3 270.5" class="cl"/>
<path d="M109.4 270.5L127.3 253.1L127.9 247.9L110.0 276.1Z" fill="url(#q436)" stroke="url(#q436)"/>
<path d="M122.2 258.1L121.7 257.7" class="cl"/>
<path d="M110.1 269.8L113.7 270.3" class="cl"/>
<path d="M109.1 267.0L127.0 255.6L127.3 253.1L109.4 270.5Z" fill="url(#q437)" stroke="url(#q437)"/>
<path d="M122.8 258.3L122.2 258.1" class="cl"/>
<path d="M110.1 269.8L109.3 269.7" class="cl"/>
<path d="M108.4 257.2L126.3 262.0L127.0 255.6L109.1 267.0Z" fill="url(#q438)" stroke="url(#q438)"/>
<path d="M126.6 259.4L122.8 258.3" class="cl"/>
<path d="M107.8 251.7L125.7 266.4L126.3 262.0L108.4 257.2Z" fill="url(#q439)" stroke="url(#q439)"/>
<path d="M114.5 257.2L108.2 255.6" class="cl"/>
<path d="M107.6 250.4L125.5 267.6L125.7 266.4L107.8 251.7Z" fill="url(#q440)" stroke="url(#q440)"/>
<path d="M114.8 257.4L114.5 257.2" class="cl"/>
<path d="M107.4 248.9L125.3 269.4L125.5 267.6L107.6 250.4Z" fill="url(#q441)" stroke="url(#q441)"/>
<path d="M114.9 257.5L114.8 257.4" class="cl"/>
<path d="M107.2 247.2L125.1 271.6L125.3 269.4L107.4 248.9Z" fill="url(#q442)" stroke="url(#q442)"/>
<path d="M114.8 257.6L114.9 257.5" class="cl"/>
<path d="M106.9 245.6L124.8 269.4L125.1 271.6L107.2 247.2Z" fill="url(#q443)" stroke="url(#q443)"/>
<path d="M116.3 258.0L114.8 257.6" class="cl"/>
<path d="M106.5 243.4L124.5 266.4L124.8 269.4L106.9 245.6Z" fill="url(#q444)" stroke="url(#q444)"/>
<path d="M118.5 258.7L116.3 258.0" class="cl"/>
<path d="M106.1 241.2L124.1 263.0L124.5 266.4L106.5 243.4Z" fill="url(#q445)" stroke="url(#q445)"/>
<path d="M106.5 241.7L106.2 241.6" class="cl"/>
<path d="M121.1 259.5L118.5 258.7" class="cl"/>
<path d="M105.9 240.8L123.9 262.1L124.1 263.0L106.1 241.2Z" fill="url(#q446)" stroke="url(#q446)"/>
<path d="M106.8 241.9L106.5 241.7" class="cl"/>
<path d="M122.0 259.7L121.1 259.5" class="cl"/>
<path d="M104.5 237.3L122.6 254.0L123.9 262.1L105.9 240.8Z" fill="url(#q447)" stroke="url(#q447)"/>
<path d="M111.0 243.3L106.8 241.9" class="cl"/>
<path d="M123.6 260.3L122.0 259.7" class="cl"/>
<path d="M104.0 236.2L122.1 251.6L122.6 254.0L104.5 237.3Z" fill="url(#q448)" stroke="url(#q448)"/>
<path d="M113.2 244.0L111.0 243.3" class="cl"/>
<path d="M103.4 234.9L121.5 248.9L122.1 251.6L104.0 236.2Z" fill="url(#q449)" stroke="url(#q449)"/>
<path d="M116.3 244.9L113.2 244.0" class="cl"/>
<path d="M103.0 234.1L121.1 247.5L121.5 248.9L103.4 234.9Z" fill="url(#q450)" stroke="url(#q450)"/>
<path d="M118.4 245.5L116.3 244.9" class="cl"/>
<path d="M103.0 234.0L121.1 247.4L121.1 247.5L103.0 234.1Z" fill="url(#q451)" stroke="url(#q451)"/>
<path d="M118.6 245.5L118.4 245.5" class="cl"/>
<path d="M102.8 233.6L120.9 246.6L121.1 247.4L103.0 234.0Z" fill="url(#q452)" stroke="url(#q452)"/>
<path d="M119.9 245.9L118.6 245.5" class="cl"/>
<path d="M102.5 233.1L120.7 245.8L120.9 246.6L102.8 233.6Z" fill="url(#q453)" stroke="url(#q453)"/>
<path d="M120.7 246.1L119.9 245.9" class="cl"/>
<path d="M102.2 232.4L120.3 245.0L120.7 245.8L102.5 233.1Z" fill="url(#q454)" stroke="url(#q454)"/>
<path d="M101.5 231.3L119.7 243.6L120.3 245.0L102.2 232.4Z" fill="url(#q455)" stroke="url(#q455)"/>
<path d="M101.4 231.2L119.6 243.4L119.7 243.6L101.5 231.3Z" fill="url(#q456)" stroke="url(#q456)"/>
<path d="M99.9 228.6L118.1 240.4L119.6 243.4L101.4 231.2Z" fill="url(#q457)" stroke="url(#q457)"/>
<path d="M98.3 226.4L116.5 237.7L118.1 240.4L99.9 228.6Z" fill="url(#q458)" stroke="url(#q458)"/>
<path d="M103.5 229.6L99.7 228.4" class="cl"/>
<path d="M96.7 224.4L115.0 235.3L116.5 237.7L98.3 226.4Z" fill="url(#q459)" stroke="url(#q459)"/>
<path d="M107.9 231.1L103.5 229.6" class="cl"/>
<path d="M95.1 222.5L113.4 233.2L115.0 235.3L96.7 224.4Z" fill="url(#q460)" stroke="url(#q460)"/>
<path d="M112.2 232.5L107.9 231.1" class="cl"/>
<path d="M93.5 222.5L111.8 231.3L113.4 233.2L95.1 222.5Z" fill="url(#q461)" stroke="url(#q461)"/>
<path d="M113.1 232.8L112.2 232.5" class="cl"/>
<path d="M91.9 222.9L110.2 229.6L111.8 231.3L93.5 222.5Z" fill="url(#q462)" stroke="url(#q462)"/>
<path d="M90.3 222.9L108.6 228.0L110.2 229.6L91.9 222.9Z" fill="url(#q463)" stroke="url(#q463)"/>
<path d="M88.7 222.5L107.0 226.7L108.6 228.0L90.3 222.9Z" fill="#9f0000" stroke="#9f0000"/>
<path d="M87.0 222.2L105.4 226.8L107.0 226.7L88.7 222.5Z" fill="#9b0000" stroke="#9b0000"/>
<path d="M85.4 221.8L103.8 226.9L105.4 226.8L87.0 222.2Z" fill="url(#q464)" stroke="url(#q464)"/>
<path d="M184.9 225.8L203.2 222.5L204.3 222.5L186.0 226.7Z" fill="url(#q465)" stroke="url(#q465)"/>
<path d="M183.8 225.0L202.1 222.5L203.2 222.5L184.9 225.8Z" fill="url(#q466)" stroke="url(#q466)"/>
<path d="M182.6 224.2L200.9 222.5L202.1 222.5L183.8 225.0Z" fill="url(#q467)" stroke="url(#q467)"/>
<path d="M181.5 223.5L199.8 222.5L200.9 222.5L182.6 224.2Z" fill="url(#q468)" stroke="url(#q468)"/>
<path d="M180.3 222.8L198.6 222.5L199.8 222.5L181.5 223.5Z" fill="url(#q469)" stroke="url(#q469)"/>
<path d="M179.1 222.1L197.4 222.6L198.6 222.5L180.3 222.8Z" fill="url(#q470)" stroke="url(#q470)"/>
<path d="M178.0 221.5L196.3 222.6L197.4 222.6L179.1 222.1Z" fill="url(#q471)" stroke="url(#q471)"/>
<path d="M176.8 220.9L195.1 222.6L196.3 222.6L178.0 221.5Z" fill="#db0000" stroke="#db0000"/>
<path d="M175.6 220.3L193.9 222.7L195.1 222.6L176.8 220.9Z" fill="#d70000" stroke="#d70000"/>
<path d="M174.4 219.8L192.7 222.7L193.9 222.7L175.6 220.3Z" fill="#d40000" stroke="#d40000"/>
<path d="M173.2 219.2L191.5 222.7L192.7 222.7L174.4 219.8Z" fill="#d10000" stroke="#d10000"/>
<path d="M172.0 218.8L190.3 222.8L191.5 222.7L173.2 219.2Z" fill="#cd0000" stroke="#cd0000"/>
<path d="M170.7 218.3L189.1 222.8L190.3 222.8L172.0 218.8Z" fill="url(#q472)" stroke="url(#q472)"/>
<path d="M173.6 219.0L171.2 218.5" class="cl"/>
<path d="M169.5 217.8L187.9 222.9L189.1 222.8L170.7 218.3Z" fill="url(#q473)" stroke="url(#q473)"/>
<path d="M177.9 220.2L173.6 219.0" class="cl"/>
<path d="M168.3 217.4L186.7 222.9L187.9 222.9L169.5 217.8Z" fill="url(#q474)" stroke="url(#q474)"/>
<path d="M180.2 221.0L177.9 220.2" class="cl"/>
<path d="M167.0 217.0L185.4 223.0L186.7 222.9L168.3 217.4Z" fill="url(#q475)" stroke="url(#q475)"/>
<path d="M181.5 221.7L180.2 221.0" class="cl"/>
<path d="M166.3 216.8L184.8 223.0L185.4 223.0L167.0 217.0Z" fill="url(#q476)" stroke="url(#q476)"/>
<path d="M181.8 222.0L181.5 221.7" class="cl"/>
<path d="M165.8 216.7L184.3 223.0L184.8 223.0L166.3 216.8Z" fill="url(#q477)" stroke="url(#q477)"/>
<path d="M182.0 222.3L181.8 222.0" class="cl"/>
<path d="M165.7 216.6L184.2 223.1L184.3 223.0L165.8 216.7Z" fill="url(#q478)" stroke="url(#q478)"/>
<path d="M182.1 222.3L182.0 222.3" class="cl"/>
<path d="M165.5 216.6L184.0 223.1L184.2 223.1L165.7 216.6Z" fill="url(#q479)" stroke="url(#q479)"/>
<path d="M182.1 222.4L182.1 222.3" class="cl"/>
<path d="M165.3 216.5L183.8 223.1L184.0 223.1L165.5 216.6Z" fill="url(#q480)" stroke="url(#q480)"/>
<path d="M182.2 222.5L182.1 222.4" class="cl"/>
<path d="M165.1 216.4L183.6 223.1L183.8 223.1L165.3 216.5Z" fill="url(#q481)" stroke="url(#q481)"/>
<path d="M182.2 222.6L182.2 222.5" class="cl"/>
<path d="M164.8 216.4L183.3 223.1L183.6 223.1L165.1 216.4Z" fill="url(#q482)" stroke="url(#q482)"/>
<path d="M182.2 222.7L182.2 222.6" class="cl"/>
<path d="M164.5 216.3L182.9 223.1L183.3 223.1L164.8 216.4Z" fill="url(#q483)" stroke="url(#q483)"/>
<path d="M182.3 222.9L182.2 222.7" class="cl"/>
<path d="M164.3 216.2L182.8 223.1L182.9 223.1L164.5 216.3Z" fill="url(#q484)" stroke="url(#q484)"/>
<path d="M182.3 222.9L182.3 222.9" class="cl"/>
<path d="M163.2 216.2L181.7 223.1L182.8 223.1L164.3 216.2Z" fill="url(#q485)" stroke="url(#q485)"/>
<path d="M182.4 223.1L182.3 222.9" class="cl"/>
<path d="M161.9 216.5L180.4 223.0L181.7 223.1L163.2 216.2Z" fill="url(#q486)" stroke="url(#q486)"/>
<path d="M160.6 216.8L179.2 222.9L180.4 223.0L161.9 216.5Z" fill="url(#q487)" stroke="url(#q487)"/>
<path d="M159.3 217.1L177.9 222.9L179.2 222.9L160.6 216.8Z" fill="url(#q488)" stroke="url(#q488)"/>
<path d="M158.0 217.5L176.6 222.8L177.9 222.9L159.3 217.1Z" fill="url(#q489)" stroke="url(#q489)"/>
<path d="M156.7 217.8L175.3 222.7L176.6 222.8L158.0 217.5Z" fill="url(#q490)" stroke="url(#q490)"/>
<path d="M155.4 218.1L174.0 222.7L175.3 222.7L156.7 217.8Z" fill="url(#q491)" stroke="url(#q491)"/>
<path d="M154.0 218.4L172.7 222.6L174.0 222.7L155.4 218.1Z" fill="url(#q492)" stroke="url(#q492)"/>
<path d="M152.7 218.7L171.4 222.5L172.7 222.6L154.0 218.4Z" fill="#b00000" stroke="#b00000"/>
<path d="M151.8 218.9L170.6 222.5L171.4 222.5L152.7 218.7Z" fill="#af0000" stroke="#af0000"/>
<path d="M151.3 219.0L170.1 222.5L170.6 222.5L151.8 218.9Z" fill="#af0000" stroke="#af0000"/>
<path d="M151.3 219.1L170.0 222.5L170.1 222.5L151.3 219.0Z" fill="#ae0000" stroke="#ae0000"/>
<path d="M151.0 219.1L169.7 222.5L170.0 222.5L151.3 219.1Z" fill="#ae0000" stroke="#ae0000"/>
<path d="M150.7 219.2L169.5 222.5L169.7 222.5L151.0 219.1Z" fill="#ae0000" stroke="#ae0000"/>
<path d="M150.5 219.2L169.3 222.5L169.5 222.5L150.7 219.2Z" fill="#ae0000" stroke="#ae0000"/>
<path d="M150.2 219.3L169.0 222.5L169.3 222.5L150.5 219.2Z" fill="#ae0000" stroke="#ae0000"/>
<path d="M150.0 219.4L168.8 222.5L169.0 222.5L150.2 219.3Z" fill="#ad0000" stroke="#ad0000"/>
<path d="M149.7 219.4L168.4 222.5L168.8 222.5L150.0 219.4Z" fill="#ad0000" stroke="#ad0000"/>
<path d="M148.6 219.7L167.4 222.6L168.4 222.5L149.7 219.4Z" fill="#ad0000" stroke="#ad0000"/>
<path d="M147.2 220.0L166.1 223.0L167.4 222.6L148.6 219.7Z" fill="#ad0000" stroke="#ad0000"/>
<path d="M145.9 220.4L164.7 223.3L166.1 223.0L147.2 220.0Z" fill="#ad0000" stroke="#ad0000"/>
<path d="M144.5 220.7L163.3 223.7L164.7 223.3L145.9 220.4Z" fill="#ad0000" stroke="#ad0000"/>
<path d="M143.1 221.0L162.0 224.0L163.3 223.7L144.5 220.7Z" fill="#ad0000" stroke="#ad0000"/>
<path d="M141.8 221.3L160.7 224.3L162.0 224.0L143.1 221.0Z" fill="#ad0000" stroke="#ad0000"/>
<path d="M141.7 221.4L160.6 224.4L160.7 224.3L141.8 221.3Z" fill="#ad0000" stroke="#ad0000"/>
<path d="M141.3 221.4L160.2 224.5L160.6 224.4L141.7 221.4Z" fill="#ad0000" stroke="#ad0000"/>
<path d="M140.9 221.5L159.8 224.6L160.2 224.5L141.3 221.4Z" fill="#ad0000" stroke="#ad0000"/>
<path d="M140.7 221.6L159.6 224.6L159.8 224.6L140.9 221.5Z" fill="#ad0000" stroke="#ad0000"/>
<path d="M140.5 221.6L159.4 224.7L159.6 224.6L140.7 221.6Z" fill="#ad0000" stroke="#ad0000"/>
<path d="M140.3 221.7L159.2 224.7L159.4 224.7L140.5 221.6Z" fill="#ad0000" stroke="#ad0000"/>
<path d="M140.1 221.7L159.1 224.8L159.2 224.7L140.3 221.7Z" fill="#ad0000" stroke="#ad0000"/>
<path d="M139.6 222.4L158.5 224.9L159.1 224.8L140.1 221.7Z" fill="#ae0000" stroke="#ae0000"/>
<path d="M138.8 223.5L157.8 225.1L158.5 224.9L139.6 222.4Z" fill="#b00000" stroke="#b00000"/>
<path d="M137.4 225.7L156.4 225.4L157.8 225.1L138.8 223.5Z" fill="url(#q493)" stroke="url(#q493)"/>
<path d="M135.9 228.1L155.0 225.9L156.4 225.4L137.4 225.7Z" fill="url(#q494)" stroke="url(#q494)"/>
<path d="M139.2 227.7L136.6 227.0" class="cl"/>
<path d="M134.6 230.4L153.6 228.0L155.0 225.9L135.9 228.1Z" fill="url(#q495)" stroke="url(#q495)"/>
<path d="M144.4 229.1L139.2 227.7" class="cl"/>
<path d="M134.5 230.7L153.5 228.2L153.6 228.0L134.6 230.4Z" fill="url(#q496)" stroke="url(#q496)"/>
<path d="M145.0 229.3L144.4 229.1" class="cl"/>
<path d="M134.0 231.5L153.1 228.9L153.5 228.2L134.5 230.7Z" fill="url(#q497)" stroke="url(#q497)"/>
<path d="M146.7 229.8L145.0 229.3" class="cl"/>
<path d="M133.7 232.1L152.7 229.5L153.1 228.9L134.0 231.5Z" fill="url(#q498)" stroke="url(#q498)"/>
<path d="M148.1 230.2L146.7 229.8" class="cl"/>
<path d="M133.5 232.6L152.5 229.9L152.7 229.5L133.7 232.1Z" fill="url(#q499)" stroke="url(#q499)"/>
<path d="M149.0 230.4L148.1 230.2" class="cl"/>
<path d="M133.2 233.1L152.2 230.3L152.5 229.9L133.5 232.6Z" fill="url(#q500)" stroke="url(#q500)"/>
<path d="M149.9 230.7L149.0 230.4" class="cl"/>
<path d="M133.0 233.5L152.0 230.7L152.2 230.3L133.2 233.1Z" fill="url(#q501)" stroke="url(#q501)"/>
<path d="M150.7 230.9L149.9 230.7" class="cl"/>
<path d="M132.9 233.8L151.9 231.0L152.0 230.7L133.0 233.5Z" fill="url(#q502)" stroke="url(#q502)"/>
<path d="M151.2 231.0L150.7 230.9" class="cl"/>
<path d="M132.3 235.0L151.3 232.0L151.9 231.0L132.9 233.8Z" fill="url(#q503)" stroke="url(#q503)"/>
<path d="M151.8 231.2L151.2 231.0" class="cl"/>
<path d="M131.5 236.5L150.6 233.4L151.3 232.0L132.3 235.0Z" fill="url(#q504)" stroke="url(#q504)"/>
<path d="M130.1 239.9L149.1 236.4L150.6 233.4L131.5 236.5Z" fill="url(#q505)" stroke="url(#q505)"/>
<path d="M129.7 240.7L148.7 237.1L149.1 236.4L130.1 239.9Z" fill="url(#q506)" stroke="url(#q506)"/>
<path d="M129.1 242.2L148.2 238.4L148.7 237.1L129.7 240.7Z" fill="url(#q507)" stroke="url(#q507)"/>
<path d="M128.8 243.2L147.8 239.2L148.2 238.4L129.1 242.2Z" fill="url(#q508)" stroke="url(#q508)"/>
<path d="M128.6 243.7L147.6 239.6L147.8 239.2L128.8 243.2Z" fill="url(#q509)" stroke="url(#q509)"/>
<path d="M128.5 243.8L147.6 239.7L147.6 239.6L128.6 243.7Z" fill="url(#q510)" stroke="url(#q510)"/>
<path d="M128.3 245.2L147.3 240.3L147.6 239.7L128.5 243.8Z" fill="url(#q511)" stroke="url(#q511)"/>
<path d="M130.9 244.5L128.5 244.0" class="cl"/>
<path d="M127.9 247.9L147.0 241.1L147.3 240.3L128.3 245.2Z" fill="url(#q512)" stroke="url(#q512)"/>
<path d="M134.8 245.5L130.9 244.5" class="cl"/>
<path d="M127.3 253.1L146.4 242.6L147.0 241.1L127.9 247.9Z" fill="url(#q513)" stroke="url(#q513)"/>
<path d="M139.1 246.6L134.8 245.5" class="cl"/>
<path d="M127.0 255.6L146.1 243.2L146.4 242.6L127.3 253.1Z" fill="url(#q514)" stroke="url(#q514)"/>
<path d="M140.4 246.9L139.1 246.6" class="cl"/>
<path d="M126.3 262.0L145.4 245.2L146.1 243.2L127.0 255.6Z" fill="url(#q515)" stroke="url(#q515)"/>
<path d="M142.5 247.7L140.4 246.9" class="cl"/>
<path d="M128.6 259.9L126.6 259.4" class="cl"/>
<path d="M125.7 266.4L144.8 246.9L145.4 245.2L126.3 262.0Z" fill="url(#q516)" stroke="url(#q516)"/>
<path d="M143.5 248.2L142.5 247.7" class="cl"/>
<path d="M131.1 260.8L128.6 259.9" class="cl"/>
<path d="M125.5 267.6L144.6 247.3L144.8 246.9L125.7 266.4Z" fill="url(#q517)" stroke="url(#q517)"/>
<path d="M143.7 248.3L143.5 248.2" class="cl"/>
<path d="M131.7 261.0L131.1 260.8" class="cl"/>
<path d="M125.3 269.4L144.4 247.9L144.6 247.3L125.5 267.6Z" fill="url(#q518)" stroke="url(#q518)"/>
<path d="M143.9 248.4L143.7 248.3" class="cl"/>
<path d="M132.5 261.3L131.7 261.0" class="cl"/>
<path d="M125.1 271.6L144.1 248.6L144.4 247.9L125.3 269.4Z" fill="url(#q519)" stroke="url(#q519)"/>
<path d="M144.1 248.6L143.9 248.4" class="cl"/>
<path d="M133.4 261.6L132.5 261.3" class="cl"/>
<path d="M124.8 269.4L143.9 249.7L144.1 248.6L125.1 271.6Z" fill="url(#q520)" stroke="url(#q520)"/>
<path d="M144.1 248.6L144.1 248.6" class="cl"/>
<path d="M132.5 261.5L133.4 261.6" class="cl"/>
<path d="M124.5 266.4L143.5 251.4L143.9 249.7L124.8 269.4Z" fill="url(#q521)" stroke="url(#q521)"/>
<path d="M130.9 261.4L132.5 261.5" class="cl"/>
<path d="M124.1 263.0L143.1 253.7L143.5 251.4L124.5 266.4Z" fill="url(#q522)" stroke="url(#q522)"/>
<path d="M128.1 261.0L130.9 261.4" class="cl"/>
<path d="M123.9 262.1L142.9 254.4L143.1 253.7L124.1 263.0Z" fill="url(#q523)" stroke="url(#q523)"/>
<path d="M127.0 260.8L128.1 261.0" class="cl"/>
<path d="M122.6 254.0L141.5 262.7L142.9 254.4L123.9 262.1Z" fill="url(#q524)" stroke="url(#q524)"/>
<path d="M127.0 260.8L123.6 260.3" class="cl"/>
<path d="M122.1 251.6L141.0 265.7L141.5 262.7L122.6 254.0Z" fill="url(#q525)" stroke="url(#q525)"/>
<path d="M139.3 264.5L141.1 264.8" class="cl"/>
<path d="M121.5 248.9L140.4 268.4L141.0 265.7L122.1 251.6Z" fill="url(#q526)" stroke="url(#q526)"/>
<path d="M136.2 264.2L139.3 264.5" class="cl"/>
<path d="M121.1 247.5L140.0 270.2L140.4 268.4L121.5 248.9Z" fill="url(#q527)" stroke="url(#q527)"/>
<path d="M134.9 264.1L136.2 264.2" class="cl"/>
<path d="M121.1 247.4L139.9 270.3L140.0 270.2L121.1 247.5Z" fill="url(#q528)" stroke="url(#q528)"/>
<path d="M134.8 264.1L134.9 264.1" class="cl"/>
<path d="M120.9 246.6L139.7 271.4L139.9 270.3L121.1 247.4Z" fill="url(#q529)" stroke="url(#q529)"/>
<path d="M134.1 264.0L134.8 264.1" class="cl"/>
<path d="M120.7 245.8L139.5 270.4L139.7 271.4L120.9 246.6Z" fill="url(#q530)" stroke="url(#q530)"/>
<path d="M120.9 246.2L120.7 246.1" class="cl"/>
<path d="M134.8 264.3L134.1 264.0" class="cl"/>
<path d="M120.3 245.0L139.2 268.9L139.5 270.4L120.7 245.8Z" fill="url(#q531)" stroke="url(#q531)"/>
<path d="M121.5 246.5L120.9 246.2" class="cl"/>
<path d="M135.8 264.7L134.8 264.3" class="cl"/>
<path d="M119.7 243.6L138.6 266.7L139.2 268.9L120.3 245.0Z" fill="url(#q532)" stroke="url(#q532)"/>
<path d="M122.4 247.0L121.5 246.5" class="cl"/>
<path d="M137.5 265.4L135.8 264.7" class="cl"/>
<path d="M119.6 243.4L138.5 266.4L138.6 266.7L119.7 243.6Z" fill="url(#q533)" stroke="url(#q533)"/>
<path d="M122.6 247.0L122.4 247.0" class="cl"/>
<path d="M137.8 265.5L137.5 265.4" class="cl"/>
<path d="M118.1 240.4L137.0 259.1L138.5 266.4L119.6 243.4Z" fill="url(#q534)" stroke="url(#q534)"/>
<path d="M126.3 248.5L122.6 247.0" class="cl"/>
<path d="M138.4 265.7L137.8 265.5" class="cl"/>
<path d="M116.5 237.7L135.6 253.2L137.0 259.1L118.1 240.4Z" fill="url(#q535)" stroke="url(#q535)"/>
<path d="M132.1 250.4L126.3 248.5" class="cl"/>
<path d="M115.0 235.3L134.1 248.5L135.6 253.2L116.5 237.7Z" fill="url(#q536)" stroke="url(#q536)"/>
<path d="M135.0 251.3L132.1 250.4" class="cl"/>
<path d="M113.4 233.2L132.6 244.6L134.1 248.5L115.0 235.3Z" fill="url(#q537)" stroke="url(#q537)"/>
<path d="M111.8 231.3L131.0 241.2L132.6 244.6L113.4 233.2Z" fill="url(#q538)" stroke="url(#q538)"/>
<path d="M117.3 234.1L113.1 232.8" class="cl"/>
<path d="M110.2 229.6L129.5 238.2L131.0 241.2L111.8 231.3Z" fill="url(#q539)" stroke="url(#q539)"/>
<path d="M125.1 236.3L117.3 234.1" class="cl"/>
<path d="M108.6 228.0L127.9 235.7L129.5 238.2L110.2 229.6Z" fill="url(#q540)" stroke="url(#q540)"/>
<path d="M128.9 237.2L125.1 236.3" class="cl"/>
<path d="M107.0 226.7L126.3 233.3L127.9 235.7L108.6 228.0Z" fill="url(#q541)" stroke="url(#q541)"/>
<path d="M105.4 226.8L124.7 231.3L126.3 233.3L107.0 226.7Z" fill="url(#q542)" stroke="url(#q542)"/>
<path d="M103.8 226.9L123.1 231.0L124.7 231.3L105.4 226.8Z" fill="#9e0000" stroke="#9e0000"/>
</g>
<line x1="24.55" y1="329.73" x2="20.34" y2="205.48" stroke="#505050" stroke-width="0.8"/>
<line x1="24.55" y1="329.73" x2="122.76" y2="365.35" stroke="#505050" stroke-width="0.8"/>
<line x1="122.76" y1="365.35" x2="201.05" y2="325.32" stroke="#505050" stroke-width="0.8"/>
<line x1="19.49" y1="233.46" x2="21.29" y2="233.46" stroke="#505050" stroke-width="0.6"/>
<text x="18.99" y="235.21" font-family="'Liberation Sans', Arial, sans-serif" font-size="5.0" font-weight="bold" text-anchor="end" fill="#000">-10</text>
<line x1="20.42" y1="260.89" x2="22.22" y2="260.89" stroke="#505050" stroke-width="0.6"/>
<text x="19.92" y="262.64" font-family="'Liberation Sans', Arial, sans-serif" font-size="5.0" font-weight="bold" text-anchor="end" fill="#000">-20</text>
<line x1="21.33" y1="287.78" x2="23.13" y2="287.78" stroke="#505050" stroke-width="0.6"/>
<text x="20.83" y="289.53" font-family="'Liberation Sans', Arial, sans-serif" font-size="5.0" font-weight="bold" text-anchor="end" fill="#000">-30</text>
<line x1="22.22" y1="314.15" x2="24.02" y2="314.15" stroke="#505050" stroke-width="0.6"/>
<text x="21.72" y="315.9" font-family="'Liberation Sans', Arial, sans-serif" font-size="5.0" font-weight="bold" text-anchor="end" fill="#000">-40</text>
<line x1="24.55" y1="329.73" x2="19.75" y2="331.51" stroke="#505050" stroke-width="0.6"/>
<text x="19.1" y="333.15" font-family="'Liberation Sans', Arial, sans-serif" font-size="3.6" font-weight="bold" text-anchor="middle" fill="#000" font-style="italic">2</text>
<line x1="35.34" y1="333.64" x2="30.54" y2="335.48" stroke="#505050" stroke-width="0.6"/>
<text x="29.9" y="337.13" font-family="'Liberation Sans', Arial, sans-serif" font-size="3.6" font-weight="bold" text-anchor="middle" fill="#000" font-style="italic">4</text>
<line x1="46.52" y1="337.7" x2="41.72" y2="339.6" stroke="#505050" stroke-width="0.6"/>
<text x="41.08" y="341.26" font-family="'Liberation Sans', Arial, sans-serif" font-size="3.6" font-weight="bold" text-anchor="middle" fill="#000" font-style="italic">6</text>
<line x1="58.09" y1="341.89" x2="53.3" y2="343.87" stroke="#505050" stroke-width="0.6"/>
<text x="52.66" y="345.53" font-family="'Liberation Sans', Arial, sans-serif" font-size="3.6" font-weight="bold" text-anchor="middle" fill="#000" font-style="italic">8</text>
<line x1="70.08" y1="346.24" x2="65.31" y2="348.29" stroke="#505050" stroke-width="0.6"/>
<text x="64.67" y="349.97" font-family="'Liberation Sans', Arial, sans-serif" font-size="3.6" font-weight="bold" text-anchor="middle" fill="#000" font-style="italic">10</text>
<line x1="82.52" y1="350.75" x2="77.77" y2="352.88" stroke="#505050" stroke-width="0.6"/>
<text x="77.13" y="354.57" font-family="'Liberation Sans', Arial, sans-serif" font-size="3.6" font-weight="bold" text-anchor="middle" fill="#000" font-style="italic">12</text>
<line x1="95.43" y1="355.44" x2="90.7" y2="357.64" stroke="#505050" stroke-width="0.6"/>
<text x="90.06" y="359.34" font-family="'Liberation Sans', Arial, sans-serif" font-size="3.6" font-weight="bold" text-anchor="middle" fill="#000" font-style="italic">14</text>
<line x1="108.83" y1="360.3" x2="104.13" y2="362.59" stroke="#505050" stroke-width="0.6"/>
<text x="103.5" y="364.3" font-family="'Liberation Sans', Arial, sans-serif" font-size="3.6" font-weight="bold" text-anchor="middle" fill="#000" font-style="italic">16</text>
<line x1="122.76" y1="365.35" x2="118.09" y2="367.74" stroke="#505050" stroke-width="0.6"/>
<text x="117.47" y="369.46" font-family="'Liberation Sans', Arial, sans-serif" font-size="3.6" font-weight="bold" text-anchor="middle" fill="#000" font-style="italic">18</text>
<line x1="122.76" y1="365.35" x2="126.33" y2="366.65" stroke="#505050" stroke-width="0.6"/>
<text x="129.21" y="368.99" font-family="'Liberation Sans', Arial, sans-serif" font-size="3.4" font-weight="bold" text-anchor="middle" fill="#000" font-style="italic">2.0</text>
<line x1="137.72" y1="357.7" x2="141.25" y2="358.92" stroke="#505050" stroke-width="0.6"/>
<text x="144.11" y="361.21" font-family="'Liberation Sans', Arial, sans-serif" font-size="3.4" font-weight="bold" text-anchor="middle" fill="#000" font-style="italic">2.5</text>
<line x1="151.83" y1="350.49" x2="155.33" y2="351.64" stroke="#505050" stroke-width="0.6"/>
<text x="158.15" y="353.87" font-family="'Liberation Sans', Arial, sans-serif" font-size="3.4" font-weight="bold" text-anchor="middle" fill="#000" font-style="italic">3.0</text>
<line x1="165.15" y1="343.67" x2="168.62" y2="344.76" stroke="#505050" stroke-width="0.6"/>
<text x="171.41" y="346.94" font-family="'Liberation Sans', Arial, sans-serif" font-size="3.4" font-weight="bold" text-anchor="middle" fill="#000" font-style="italic">3.5</text>
<line x1="177.76" y1="337.22" x2="181.19" y2="338.25" stroke="#505050" stroke-width="0.6"/>
<text x="183.95" y="340.39" font-family="'Liberation Sans', Arial, sans-serif" font-size="3.4" font-weight="bold" text-anchor="middle" fill="#000" font-style="italic">4.0</text>
<line x1="189.71" y1="331.11" x2="193.1" y2="332.09" stroke="#505050" stroke-width="0.6"/>
<text x="195.83" y="334.18" font-family="'Liberation Sans', Arial, sans-serif" font-size="3.4" font-weight="bold" text-anchor="middle" fill="#000" font-style="italic">4.5</text>
<line x1="201.05" y1="325.32" x2="204.4" y2="326.24" stroke="#505050" stroke-width="0.6"/>
<text x="207.1" y="328.29" font-family="'Liberation Sans', Arial, sans-serif" font-size="3.4" font-weight="bold" text-anchor="middle" fill="#000" font-style="italic">5.0</text>
<text x="60.5" y="353.5" font-family="'Liberation Sans', Arial, sans-serif" font-size="4.6" font-weight="bold" text-anchor="middle" fill="#000" transform="rotate(21.5 60.5 353.5)" font-style="italic">Frequency(GHz)</text>
<text x="178.5" y="349.5" font-family="'Liberation Sans', Arial, sans-serif" font-size="4.6" font-weight="bold" text-anchor="middle" fill="#000" transform="rotate(-26 178.5 349.5)" font-style="italic">Thickness(mm)</text>
<text x="12.8" y="278" font-family="'Liberation Sans', Arial, sans-serif" font-size="5.5" font-weight="bold" text-anchor="middle" fill="#000" transform="rotate(-90 12.8 278)">Reflection Loss(dB)</text>
<text x="4" y="201.2" font-family="'Liberation Sans', Arial, sans-serif" font-size="10" font-weight="bold" text-anchor="start" fill="#000">c</text>
<defs><linearGradient id="cbc" x1="0" y1="0" x2="0" y2="1"><stop offset="0.000" stop-color="#500000"/><stop offset="0.056" stop-color="#800000"/><stop offset="0.112" stop-color="#b00000"/><stop offset="0.166" stop-color="#e00000"/><stop offset="0.208" stop-color="#ff0000"/><stop offset="0.318" stop-color="#ff0800"/><stop offset="0.374" stop-color="#ff4000"/><stop offset="0.414" stop-color="#ff8000"/><stop offset="0.470" stop-color="#ffc000"/><stop offset="0.520" stop-color="#ffff00"/><stop offset="0.610" stop-color="#a0ff00"/><stop offset="0.670" stop-color="#00ff00"/><stop offset="0.728" stop-color="#00ffa0"/><stop offset="0.758" stop-color="#00ffff"/><stop offset="0.802" stop-color="#00a0ff"/><stop offset="0.860" stop-color="#0000ff"/><stop offset="0.920" stop-color="#6000e0"/><stop offset="0.962" stop-color="#700090"/><stop offset="1.000" stop-color="#500060"/></linearGradient></defs>
<rect x="213.8" y="199.5" width="13.1" height="117" fill="url(#cbc)"/>
<text x="228.7" y="201.25" font-family="'Liberation Sans', Arial, sans-serif" font-size="4.85" font-weight="bold" text-anchor="start" fill="#000">0.000</text>
<text x="228.7" y="212.95" font-family="'Liberation Sans', Arial, sans-serif" font-size="4.85" font-weight="bold" text-anchor="start" fill="#000">-5.000</text>
<text x="228.7" y="224.65" font-family="'Liberation Sans', Arial, sans-serif" font-size="4.85" font-weight="bold" text-anchor="start" fill="#000">-10.00</text>
<text x="228.7" y="236.35" font-family="'Liberation Sans', Arial, sans-serif" font-size="4.85" font-weight="bold" text-anchor="start" fill="#000">-15.00</text>
<text x="228.7" y="248.05" font-family="'Liberation Sans', Arial, sans-serif" font-size="4.85" font-weight="bold" text-anchor="start" fill="#000">-20.00</text>
<text x="228.7" y="259.75" font-family="'Liberation Sans', Arial, sans-serif" font-size="4.85" font-weight="bold" text-anchor="start" fill="#000">-25.00</text>
<text x="228.7" y="271.45" font-family="'Liberation Sans', Arial, sans-serif" font-size="4.85" font-weight="bold" text-anchor="start" fill="#000">-30.00</text>
<text x="228.7" y="283.15" font-family="'Liberation Sans', Arial, sans-serif" font-size="4.85" font-weight="bold" text-anchor="start" fill="#000">-35.00</text>
<text x="228.7" y="294.85" font-family="'Liberation Sans', Arial, sans-serif" font-size="4.85" font-weight="bold" text-anchor="start" fill="#000">-40.00</text>
<text x="228.7" y="306.55" font-family="'Liberation Sans', Arial, sans-serif" font-size="4.85" font-weight="bold" text-anchor="start" fill="#000">-45.00</text>
<text x="228.7" y="318.25" font-family="'Liberation Sans', Arial, sans-serif" font-size="4.85" font-weight="bold" text-anchor="start" fill="#000">-50.00</text>
<text x="213.8" y="326.8" font-family="'Liberation Sans', Arial, sans-serif" font-size="7.3" text-anchor="start" fill="#000">RL(dB)</text>
<rect x="356.5" y="201.5" width="150.0" height="145.8" fill="#ff0000"/>
<path d="M375.1 201.8l3.1 8 3.3 7.1 3 2.4 2.5 2.2 2.3 2.5 2.1 2.8 2.2 3.2 2 3.8 1.8 4 1.5 4.2 6 7.5 1.6 2 5.1 2 2.2 1.3 2.2 1.5 2.9 2.7 2.6 3.5 10 8.1 4.1 1.4 3.6 1.8 3.3 2.2 3.2 3 10.8 6 4 1 3.5 1.3 3.9 2 7.2 3 6.4 2.9 25 6.4 0 36.9-12.4-2.2-9.7-2.3-60.4-18-6.6-2.5-4.1-1.7-3.9-2-2.9-1.9-5.1-1.6-3.4-1.5-3.9-2.5-2.2-2-2.2-2.5-5.2-3-3-2.9-5.1-1.4-4.4-1.5-2.5-1.2-2.3-1.5-1.7-1.5-5.5-5.5-2.1-2.5-1.4-2.3 0-73 18.5 0zM456.5 201.5l50 0 0 45.1-2-2.8-2.1-2.3-2.6-2.2-2.6-1.8-3-1.5-3.8-1.5-4.2-1.2-4.7-1.1-3.6-2.2-4.2-3.5-10.5-8-6.7-5.5-5.1-2.2-4.2-2.8-3.1-3-2.6-3.5z" fill="#ff8000" fill-rule="evenodd"/>
<path d="M356.6 217l5.1 4 4.7 4.3 7 7.5 2.4 3 2.4 3.5 2.4 4.2-.3 1.8 .1 1.7 .5 2 .6 1.5 8.6 6 7.6 6.3 2.3 1.5 2.2 1.7 2 2 1.4 2 .3 .5 .1 1.3 .5 1.2 9.7 4.5 10.3 6 2 1.5 1.5 1.5 1.1 1.5 .4 1.3 8.6 2.5 6.5 2.2 7.3 3 1.3 .8 1.3 1.2 9 2.3 6.9 2.2 5.8 2.5 1.6 1 1.7 1.6 9.8 .9 7.6 1.3 3.3 1 4.3 2.2 0 14.8-1.3-.3-7.7-1.7-6.3-1.8-5-1.7-4.7-2.2-7.9-1.3-7.4-1.5-5-1.3-4.7-1.5-12.8-2-8.2-2-2.1-.7-1.9-1-7.9-2.5-11-4-4.5-2.8-.2-1.5-1.1-1.2-11.8-3.5-5.3-2.8-5.7-3.2 .4-1-.1-1-.3-.8-.8-.7-7.8-4-6.2-3.5-4.3-2.8-5.6-4 .7-1 .5-1.2 .2-1.5-.2-1.3-.5-1-1-1-2.5-1.2 0-45.5z" fill="#ffff00" fill-rule="evenodd"/>
<path d="M356.5 231l6.2 3.5 11.9 7.8 2.4 1.2-2.2 1.5-6.2 5-2.8 1.3-3 1-6.3 1.3 0-22.6zM381.5 262.7l9.1 3.1 11.2 4.7-7.5 4.3-3.8 1.5-4.6 1-4.4 .5-18.5-7.3 2.4-1 5.3-3 3.1-1.5 3.4-1.2 4-1zM406.5 281.9l10.7 2.9 9.2 3.2 .3 .3-2.2 1-3.6 2.2-2 1-2.3 .8-2.6 .5-7.5 .6-14.2-4.9-4.2-1.2 .2-.3 9-4.2 3.7-1 4.4-.8zM431.5 296l12.1 1.8 8.7 2.5 .1 .2-1.2 1-.5 1 .1 1 .7 .5 1.3 .3 3.7 .2 11.4 2.3 5.2 1.7-.1 .8 .3 .5 2.2 1 1.1 .2 5.6 .5 10.3 2.5-1.9 .8-2.8 .7-5.1 .8-1.2 .1-14-2.4-.8-.7-1.7-.5-8.5-.5-12-1.8-5.8-2 .9-2.2-.1-.5-.4-.3-3.5-.5-4.1-.1-7.8-1.4-2.3-.5-8.5-2.5-.2-.2 6.2-2.5 1.8-.5 4.3-.8 5.9-.5zM506.5 318.6l0 4.7-6.8-2.3-.3-.2 2.8-1.3 3.1-.7z" fill="#80ff00" fill-rule="evenodd"/>
<path d="M356.5 237l12.2 5 4.7 1.5-12.2 4.8-4.7 1.6 0-12.9zM381.5 266.3l16.1 4.2-.5 .3-11 2.7-4.6 1-7.7-2.2-7-1.8 3.1-.7 10.9-3.3zM406.5 284.8l15.1 3.2 .6 .3-11.4 2.5-4.3 .7-9.2-2.2-5.1-1 .4-.3 12.9-3zM431.5 297.7l15.6 2.6 0 .2-5.9 1.3-8.1 1.2-1.6 .2-.8-.2-13.1-2.5-.2-.2 13.5-2.5zM456.5 306.8l8.2 1.7-4.1 1.3-3.7 .7-.7 0-8.5-2 2.9-.7 4.2-.8z" fill="#00ff00" fill-rule="evenodd"/>
<path d="M357.2 240.3l7.9 2.2 4.8 1-13.4 3.5 0-7zM381.5 268.4l12 2.1-.8 .3-11.2 1.8-10.1-1.8-.8-.3 10.3-2zM406.5 286.5l10.4 1.5 .8 .3-11.2 1.6-10.2-1.6 .7-.3 9.3-1.5zM431.5 299.1l10.4 1.2-.1 .2-10.3 1.3-9.2-1.3-.2-.2 7.8-1z" fill="#00e868" fill-rule="evenodd"/>
<path d="M357.6 242l8.7 1.5-.7 .3-9.1 1.6 0-3.6zM381.5 269.5l7.9 1-1.1 .3-6.8 .8-7.2-1.1 5.7-.7zM406.5 287.4l5.7 .6 1 .3-6.7 .7-6.1-.7 .9-.3 4.4-.5zM431.5 299.8l5.2 .5-.1 .2-5.1 .5-4.5-.5-.2-.2 2.8-.3z" fill="#00f0b8" fill-rule="evenodd"/>
<path d="M356.7 242.8l6 .7-.8 .3-5.4 .6 0-1.7zM381.5 270.2l3.7 .3-1.3 .3-2.4 .2-2.2-.2-1.2-.3 2.6-.2zM406.5 287.9l2.2 .4-2.2 .2-2-.2 1.1-.3z" fill="#00ffff" fill-rule="evenodd"/>
<path d="M359.1 243.5l-2.6 .4 0-.6z" fill="#0080ff" fill-rule="evenodd"/>
<path d="M356.5 243.9l2.6-.4-2.6-.2" fill="none" stroke="#1a1a1a" stroke-width="0.45" stroke-opacity="0.8"/>
<path d="M356.5 244.4l5.4-.6 .8-.3-6.2-.8M381.5 270.2l-3.4 .3 1.2 .3 2.2 .2 2.4-.2 1.3-.3-2.8-.2zM406.5 287.9l-2 .4 2 .2 2.2-.2-1.2-.3z" fill="none" stroke="#1a1a1a" stroke-width="0.45" stroke-opacity="0.8"/>
<path d="M356.5 245.4l9.1-1.6 .7-.3-9.8-1.7M381.5 269.5l-7.2 1 1.1 .3 6.1 .8 6.8-.8 1.1-.3-6.2-.7zM406.5 287.4l-5.2 .6-.9 .3 6.1 .7 6.7-.7-1-.3-4.8-.5zM431.5 299.8l-4.7 .5 .2 .2 4.5 .5 5.1-.5 .1-.2-3.1-.3z" fill="none" stroke="#1a1a1a" stroke-width="0.45" stroke-opacity="0.8"/>
<path d="M356.5 247l13.4-3.5-5.8-1.2-7.6-2.3M381.5 268.4l-10.9 2.1 .8 .3 10.1 1.8 11.2-1.8 .8-.3-11.3-2zM406.5 286.5l-9.5 1.5-.7 .3 10.2 1.6 11.2-1.6-.8-.3-10.2-1.5zM431.5 299.1l-9.4 1.2 .2 .2 9.2 1.3 10.3-1.3 .1-.2-8.7-1z" fill="none" stroke="#1a1a1a" stroke-width="0.45" stroke-opacity="0.8"/>
<path d="M356.5 249.9l4.7-1.6 12.2-4.8-4.7-1.5-12.2-5M381.5 266.3l-11.6 3.5-3.1 .7 7 1.8 7.7 2.2 5.7-1.2 10.4-2.8-15.4-4zM406.5 284.8l-13.9 3.2-.4 .3 5.1 1 9.2 2.2 5.5-1 10.2-2.2-.6-.3-14.2-3zM431.5 297.7l-14.1 2.6 .2 .2 13.9 2.7 7-.9 8.6-1.8 0-.2-15.1-2.5zM456.5 306.8l-4.6 .7-4.2 1 8.5 2 3.4-.5 5.1-1.5-7-1.5z" fill="none" stroke="#1a1a1a" stroke-width="0.45" stroke-opacity="0.8"/>
<path d="M356.5 253.6l6.3-1.3 3-1 2.8-1.3 6.2-5 2.2-1.5-2.4-1.2-11.9-7.8-6.2-3.5M506.5 318.6l-4.3 .9-2.8 1.3 .3 .2 6.8 2.3M381.5 262.7l-4.3 1.1-3.4 1.2-3.1 1.5-5.3 3-2.4 1 17.1 6.8 1.4 .5 4.4-.5 4.6-1 3.8-1.5 7.5-4.3-11.2-4.7-9.1-3.1M406.5 281.9l-5.5 .9-3.7 1-9 4.2-.2 .3 4.2 1.2 13.9 4.8 5.7-.3 3.6-.5 2-.5 2.5-1 4.5-2.7 2.2-1-.3-.3-9.2-3.2-10.1-2.8zM431.5 296l-6.5 .5-4.3 .8-1.8 .5-6.2 2.5 .2 .2 8.5 2.5 2.3 .5 7.8 1.4 4.1 .1 3.5 .5 .4 .3 .1 .5-.9 2.2 5.8 2 12 1.8 8.5 .5 1.7 .5 .8 .7 14 2.4 6.3-.9 2.8-.7 1.9-.8-10.3-2.5-5.6-.5-1.1-.2-2.2-1-.3-.5 .1-.8-5.2-1.7-11.4-2.3-3.7-.2-1.3-.3-.7-.5-.1-1 .5-1 1.2-1-.1-.2-8.7-2.5-11.8-1.8z" fill="none" stroke="#1a1a1a" stroke-width="0.45" stroke-opacity="0.8"/>
<path d="M356.5 262.3l2.5 1.2 1 1 .5 1 .2 1.3-.1 1.2-.6 1.5-.7 1 .2 .3 6.5 4.5 4.9 3 5.4 3 6.9 3.5 .8 .7 .3 .8 .1 1-.4 1 5.7 3.2 5.3 2.8 11.8 3.5 1.1 1.2 .2 1.5 4.5 2.8 11 4 7.9 2.5 2.5 1.2 3.1 1 7.9 1.8 11.5 1.7 4.7 1.5 5 1.3 7.4 1.5 7.9 1.3 4.7 2.2 5 1.7 7.4 2 7.9 1.8M506.5 314l-4.3-2.2-3.3-1-7.6-1.3-9.8-.9-1.7-1.6-1.6-1-5.8-2.5-6.9-2.2-9-2.3-1.3-1.2-1.3-.8-7.3-3-6.5-2.2-8.6-2.5-.4-1.3-1.1-1.5-1.5-1.5-2-1.5-10.3-6-9.7-4.5-.5-1.2-.1-1.3-.3-.5-1.4-2-2-2-2.2-1.7-2.3-1.5-7.6-6.3-8.6-6-.6-1.5-.5-2-.1-1.7 .3-1.8-2.4-4.2-2.4-3.5-2.4-3-7-7.5-4.4-4-5.5-4.5" fill="none" stroke="#1a1a1a" stroke-width="0.45" stroke-opacity="0.8"/>
<path d="M441.5 201.5l2.6 3.5 3.1 3 4.2 2.8 5.1 2.2 6.7 5.5 10.5 8 4.2 3.5 3.6 2.2 4.7 1.1 4.2 1.2 3.8 1.5 3 1.5 2.6 1.8 2.6 2.2 2.1 2.3 2 2.8M356.5 274.5l1.6 2.5 2.6 3 5.3 5.3 2.7 2 2.2 1.2 2.4 1 8.2 2.4 3 2.9 5.2 3 2.9 3.2 3.6 2.8 4.6 2.2 5.7 1.9 3.8 2.4 5.3 2.5 11.3 4.2 4.6 1.2 52 15.6 10.6 2.5 12.4 2.2M506.5 301.6l-25-6.4-6.4-2.9-7.2-3-3.9-2-3.5-1.3-4-1-10.8-6-3.2-3-3.3-2.2-3.6-1.8-4.1-1.4-10-8.1-2.6-3.5-2.9-2.7-2.2-1.5-2.2-1.3-5.1-2-1.8-2.2-5.8-7.3-1.5-4.2-1.8-4-2-3.8-2.2-3.2-2.1-2.8-2.3-2.5-2.5-2.2-3-2.4-3.4-7.4-3.1-8" fill="none" stroke="#1a1a1a" stroke-width="0.45" stroke-opacity="0.8"/>
<rect x="356.5" y="201.5" width="150.0" height="145.8" fill="none" stroke="#555" stroke-width="0.9"/>
<line x1="356.5" y1="347.3" x2="356.5" y2="349.9" stroke="#555" stroke-width="0.9"/>
<text x="356.5" y="357.3" font-family="'Liberation Sans', Arial, sans-serif" font-size="6.3" font-weight="bold" text-anchor="middle" fill="#000">2</text>
<line x1="365.88" y1="347.3" x2="365.88" y2="348.7" stroke="#555" stroke-width="0.9"/>
<line x1="375.25" y1="347.3" x2="375.25" y2="349.9" stroke="#555" stroke-width="0.9"/>
<text x="375.25" y="357.3" font-family="'Liberation Sans', Arial, sans-serif" font-size="6.3" font-weight="bold" text-anchor="middle" fill="#000">4</text>
<line x1="384.62" y1="347.3" x2="384.62" y2="348.7" stroke="#555" stroke-width="0.9"/>
<line x1="394" y1="347.3" x2="394" y2="349.9" stroke="#555" stroke-width="0.9"/>
<text x="394" y="357.3" font-family="'Liberation Sans', Arial, sans-serif" font-size="6.3" font-weight="bold" text-anchor="middle" fill="#000">6</text>
<line x1="403.38" y1="347.3" x2="403.38" y2="348.7" stroke="#555" stroke-width="0.9"/>
<line x1="412.75" y1="347.3" x2="412.75" y2="349.9" stroke="#555" stroke-width="0.9"/>
<text x="412.75" y="357.3" font-family="'Liberation Sans', Arial, sans-serif" font-size="6.3" font-weight="bold" text-anchor="middle" fill="#000">8</text>
<line x1="422.12" y1="347.3" x2="422.12" y2="348.7" stroke="#555" stroke-width="0.9"/>
<line x1="431.5" y1="347.3" x2="431.5" y2="349.9" stroke="#555" stroke-width="0.9"/>
<text x="431.5" y="357.3" font-family="'Liberation Sans', Arial, sans-serif" font-size="6.3" font-weight="bold" text-anchor="middle" fill="#000">10</text>
<line x1="440.88" y1="347.3" x2="440.88" y2="348.7" stroke="#555" stroke-width="0.9"/>
<line x1="450.25" y1="347.3" x2="450.25" y2="349.9" stroke="#555" stroke-width="0.9"/>
<text x="450.25" y="357.3" font-family="'Liberation Sans', Arial, sans-serif" font-size="6.3" font-weight="bold" text-anchor="middle" fill="#000">12</text>
<line x1="459.62" y1="347.3" x2="459.62" y2="348.7" stroke="#555" stroke-width="0.9"/>
<line x1="469" y1="347.3" x2="469" y2="349.9" stroke="#555" stroke-width="0.9"/>
<text x="469" y="357.3" font-family="'Liberation Sans', Arial, sans-serif" font-size="6.3" font-weight="bold" text-anchor="middle" fill="#000">14</text>
<line x1="478.38" y1="347.3" x2="478.38" y2="348.7" stroke="#555" stroke-width="0.9"/>
<line x1="487.75" y1="347.3" x2="487.75" y2="349.9" stroke="#555" stroke-width="0.9"/>
<text x="487.75" y="357.3" font-family="'Liberation Sans', Arial, sans-serif" font-size="6.3" font-weight="bold" text-anchor="middle" fill="#000">16</text>
<line x1="497.12" y1="347.3" x2="497.12" y2="348.7" stroke="#555" stroke-width="0.9"/>
<line x1="506.5" y1="347.3" x2="506.5" y2="349.9" stroke="#555" stroke-width="0.9"/>
<text x="506.5" y="357.3" font-family="'Liberation Sans', Arial, sans-serif" font-size="6.3" font-weight="bold" text-anchor="middle" fill="#000">18</text>
<line x1="353.9" y1="201.5" x2="356.5" y2="201.5" stroke="#555" stroke-width="0.9"/>
<text x="352.2" y="203.7" font-family="'Liberation Sans', Arial, sans-serif" font-size="6.3" font-weight="bold" text-anchor="end" fill="#000">5.0</text>
<line x1="355.1" y1="213.65" x2="356.5" y2="213.65" stroke="#555" stroke-width="0.9"/>
<line x1="353.9" y1="225.8" x2="356.5" y2="225.8" stroke="#555" stroke-width="0.9"/>
<text x="352.2" y="228" font-family="'Liberation Sans', Arial, sans-serif" font-size="6.3" font-weight="bold" text-anchor="end" fill="#000">4.5</text>
<line x1="355.1" y1="237.95" x2="356.5" y2="237.95" stroke="#555" stroke-width="0.9"/>
<line x1="353.9" y1="250.1" x2="356.5" y2="250.1" stroke="#555" stroke-width="0.9"/>
<text x="352.2" y="252.3" font-family="'Liberation Sans', Arial, sans-serif" font-size="6.3" font-weight="bold" text-anchor="end" fill="#000">4.0</text>
<line x1="355.1" y1="262.25" x2="356.5" y2="262.25" stroke="#555" stroke-width="0.9"/>
<line x1="353.9" y1="274.4" x2="356.5" y2="274.4" stroke="#555" stroke-width="0.9"/>
<text x="352.2" y="276.6" font-family="'Liberation Sans', Arial, sans-serif" font-size="6.3" font-weight="bold" text-anchor="end" fill="#000">3.5</text>
<line x1="355.1" y1="286.55" x2="356.5" y2="286.55" stroke="#555" stroke-width="0.9"/>
<line x1="353.9" y1="298.7" x2="356.5" y2="298.7" stroke="#555" stroke-width="0.9"/>
<text x="352.2" y="300.9" font-family="'Liberation Sans', Arial, sans-serif" font-size="6.3" font-weight="bold" text-anchor="end" fill="#000">3.0</text>
<line x1="355.1" y1="310.85" x2="356.5" y2="310.85" stroke="#555" stroke-width="0.9"/>
<line x1="353.9" y1="323" x2="356.5" y2="323" stroke="#555" stroke-width="0.9"/>
<text x="352.2" y="325.2" font-family="'Liberation Sans', Arial, sans-serif" font-size="6.3" font-weight="bold" text-anchor="end" fill="#000">2.5</text>
<line x1="355.1" y1="335.15" x2="356.5" y2="335.15" stroke="#555" stroke-width="0.9"/>
<line x1="353.9" y1="347.3" x2="356.5" y2="347.3" stroke="#555" stroke-width="0.9"/>
<text x="352.2" y="349.5" font-family="'Liberation Sans', Arial, sans-serif" font-size="6.3" font-weight="bold" text-anchor="end" fill="#000">2.0</text>
<text x="431.7" y="370.6" font-family="'Liberation Sans', Arial, sans-serif" font-size="7.95" font-weight="bold" text-anchor="middle" fill="#000">Frequency(GHz)</text>
<text x="335.8" y="278.7" font-family="'Liberation Sans', Arial, sans-serif" font-size="8.05" font-weight="bold" text-anchor="middle" fill="#000" transform="rotate(-90 335.8 278.7)">Thickness(mm)</text>
<text x="332.2" y="199.1" font-family="'Liberation Sans', Arial, sans-serif" font-size="10" text-anchor="start" fill="#000">d</text>
<rect x="507.4" y="210.9" width="14.2" height="8.6" fill="#ff0000"/>
<rect x="507.4" y="219.45" width="14.2" height="8.6" fill="#ff8000"/>
<rect x="507.4" y="228" width="14.2" height="8.6" fill="#ffff00"/>
<rect x="507.4" y="236.55" width="14.2" height="8.6" fill="#80ff00"/>
<rect x="507.4" y="245.1" width="14.2" height="8.6" fill="#00ff00"/>
<rect x="507.4" y="253.65" width="14.2" height="8.6" fill="#00e868"/>
<rect x="507.4" y="262.2" width="14.2" height="8.6" fill="#00f0b8"/>
<rect x="507.4" y="270.75" width="14.2" height="8.6" fill="#00ffff"/>
<rect x="507.4" y="279.3" width="14.2" height="8.6" fill="#0080ff"/>
<rect x="507.4" y="287.85" width="14.2" height="8.6" fill="#0000ff"/>
<rect x="507.4" y="296.4" width="14.2" height="8.6" fill="#000000"/>
<text x="523.8" y="212.5" font-family="'Liberation Sans', Arial, sans-serif" font-size="4.6" font-weight="bold" text-anchor="start" fill="#000">0.000</text>
<text x="523.8" y="221.05" font-family="'Liberation Sans', Arial, sans-serif" font-size="4.6" font-weight="bold" text-anchor="start" fill="#000">-5.000</text>
<text x="523.8" y="229.6" font-family="'Liberation Sans', Arial, sans-serif" font-size="4.6" font-weight="bold" text-anchor="start" fill="#000">-10.00</text>
<text x="523.8" y="238.15" font-family="'Liberation Sans', Arial, sans-serif" font-size="4.6" font-weight="bold" text-anchor="start" fill="#000">-15.00</text>
<text x="523.8" y="246.7" font-family="'Liberation Sans', Arial, sans-serif" font-size="4.6" font-weight="bold" text-anchor="start" fill="#000">-20.00</text>
<text x="523.8" y="255.25" font-family="'Liberation Sans', Arial, sans-serif" font-size="4.6" font-weight="bold" text-anchor="start" fill="#000">-25.00</text>
<text x="523.8" y="263.8" font-family="'Liberation Sans', Arial, sans-serif" font-size="4.6" font-weight="bold" text-anchor="start" fill="#000">-30.00</text>
<text x="523.8" y="272.35" font-family="'Liberation Sans', Arial, sans-serif" font-size="4.6" font-weight="bold" text-anchor="start" fill="#000">-35.00</text>
<text x="523.8" y="280.9" font-family="'Liberation Sans', Arial, sans-serif" font-size="4.6" font-weight="bold" text-anchor="start" fill="#000">-40.00</text>
<text x="523.8" y="289.45" font-family="'Liberation Sans', Arial, sans-serif" font-size="4.6" font-weight="bold" text-anchor="start" fill="#000">-45.00</text>
<text x="523.8" y="298" font-family="'Liberation Sans', Arial, sans-serif" font-size="4.6" font-weight="bold" text-anchor="start" fill="#000">-50.00</text>
<text x="510" y="315.8" font-family="'Liberation Sans', Arial, sans-serif" font-size="7.9" font-weight="bold" text-anchor="start" fill="#000">RL(dB)</text>
</svg></body></html>
